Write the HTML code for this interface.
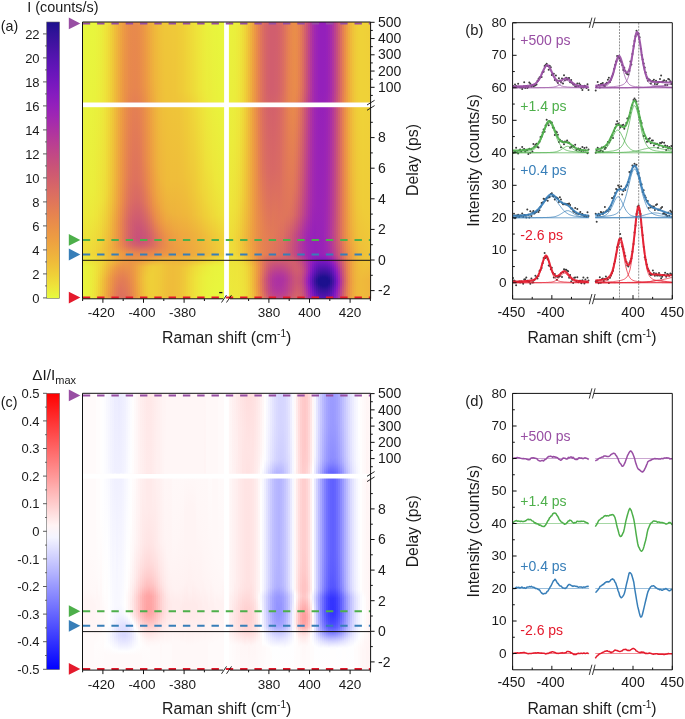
<!DOCTYPE html>
<html><head><meta charset="utf-8"><title>Figure</title>
<style>html,body{margin:0;padding:0;background:#fff}svg{display:block}text{font-family:"Liberation Sans",Arial,sans-serif}</style>
</head><body>
<svg width="685" height="719" viewBox="0 0 685 719">
<defs><linearGradient id="a0" x1="0" y1="0" x2="0" y2="1"><stop offset="0" stop-color="#e7f73d"/><stop offset="0.2852" stop-color="#e8f43d"/><stop offset="0.2888" stop-color="#e9f43d"/><stop offset="0.2924" stop-color="#ebec3b"/><stop offset="0.296" stop-color="#e8f53d"/><stop offset="0.5884" stop-color="#eaef3c"/><stop offset="0.6968" stop-color="#ecea3b"/><stop offset="0.7653" stop-color="#eee23a"/><stop offset="0.8375" stop-color="#eedf3a"/><stop offset="0.8845" stop-color="#e9f43d"/><stop offset="1" stop-color="#e8f53d"/></linearGradient>
<linearGradient id="a1" x1="0" y1="0" x2="0" y2="1"><stop offset="0" stop-color="#e7f73d"/><stop offset="0.2852" stop-color="#e8f43d"/><stop offset="0.2888" stop-color="#e9f43d"/><stop offset="0.2924" stop-color="#ebec3b"/><stop offset="0.296" stop-color="#e8f43d"/><stop offset="0.5921" stop-color="#eaef3c"/><stop offset="0.6968" stop-color="#ecea3b"/><stop offset="0.7617" stop-color="#eee23a"/><stop offset="0.8375" stop-color="#eede39"/><stop offset="0.8845" stop-color="#e9f33d"/><stop offset="1" stop-color="#e8f43d"/></linearGradient>
<linearGradient id="a2" x1="0" y1="0" x2="0" y2="1"><stop offset="0" stop-color="#e7f73d"/><stop offset="0.2852" stop-color="#e9f43d"/><stop offset="0.2888" stop-color="#e9f33d"/><stop offset="0.2924" stop-color="#ebeb3b"/><stop offset="0.296" stop-color="#e9f23c"/><stop offset="0.2996" stop-color="#e9f43d"/><stop offset="0.5993" stop-color="#eaee3c"/><stop offset="0.6968" stop-color="#ecea3b"/><stop offset="0.8375" stop-color="#eedd39"/><stop offset="0.8845" stop-color="#e9f23c"/><stop offset="1" stop-color="#e9f23c"/></linearGradient>
<linearGradient id="a3" x1="0" y1="0" x2="0" y2="1"><stop offset="0" stop-color="#e7f73d"/><stop offset="0.2852" stop-color="#e9f43d"/><stop offset="0.2888" stop-color="#e9f33d"/><stop offset="0.2924" stop-color="#eceb3b"/><stop offset="0.2996" stop-color="#e9f33d"/><stop offset="0.6029" stop-color="#ebee3c"/><stop offset="0.6968" stop-color="#ece93b"/><stop offset="0.8375" stop-color="#eedb39"/><stop offset="0.8845" stop-color="#eaf03c"/><stop offset="1" stop-color="#eaf03c"/></linearGradient>
<linearGradient id="a4" x1="0" y1="0" x2="0" y2="1"><stop offset="0" stop-color="#e8f63d"/><stop offset="0.2852" stop-color="#e9f33d"/><stop offset="0.2888" stop-color="#e9f33d"/><stop offset="0.2924" stop-color="#ecea3b"/><stop offset="0.296" stop-color="#ebec3b"/><stop offset="0.2996" stop-color="#e9f33d"/><stop offset="0.6029" stop-color="#ebee3c"/><stop offset="0.6968" stop-color="#ece93b"/><stop offset="0.8375" stop-color="#efd939"/><stop offset="0.8845" stop-color="#ebed3c"/><stop offset="1" stop-color="#ebec3b"/></linearGradient>
<linearGradient id="a5" x1="0" y1="0" x2="0" y2="1"><stop offset="0" stop-color="#e8f63d"/><stop offset="0.2852" stop-color="#e9f23d"/><stop offset="0.2888" stop-color="#e9f23c"/><stop offset="0.2924" stop-color="#ecea3b"/><stop offset="0.296" stop-color="#ede73a"/><stop offset="0.2996" stop-color="#e9f23d"/><stop offset="0.6065" stop-color="#ebed3c"/><stop offset="0.6968" stop-color="#ede83b"/><stop offset="0.8339" stop-color="#efd739"/><stop offset="0.8412" stop-color="#efd839"/><stop offset="0.8845" stop-color="#ecea3b"/><stop offset="1" stop-color="#ede73a"/></linearGradient>
<linearGradient id="a6" x1="0" y1="0" x2="0" y2="1"><stop offset="0" stop-color="#e8f53d"/><stop offset="0.2852" stop-color="#e9f23c"/><stop offset="0.2888" stop-color="#e9f13c"/><stop offset="0.296" stop-color="#eee03a"/><stop offset="0.2996" stop-color="#e9f13c"/><stop offset="0.6065" stop-color="#ebec3b"/><stop offset="0.6968" stop-color="#ede63a"/><stop offset="0.8339" stop-color="#efd539"/><stop offset="0.8845" stop-color="#ede63a"/><stop offset="1" stop-color="#eee03a"/></linearGradient>
<linearGradient id="a7" x1="0" y1="0" x2="0" y2="1"><stop offset="0" stop-color="#e9f33d"/><stop offset="0.2852" stop-color="#eaf03c"/><stop offset="0.2888" stop-color="#eaf03c"/><stop offset="0.2924" stop-color="#ede63a"/><stop offset="0.296" stop-color="#efd839"/><stop offset="0.2996" stop-color="#eaf03c"/><stop offset="0.6426" stop-color="#ece83b"/><stop offset="0.7004" stop-color="#eee43a"/><stop offset="0.8303" stop-color="#efd238"/><stop offset="0.8412" stop-color="#efd238"/><stop offset="0.8592" stop-color="#eedb39"/><stop offset="0.8809" stop-color="#eee13a"/><stop offset="1" stop-color="#efd839"/></linearGradient>
<linearGradient id="a8" x1="0" y1="0" x2="0" y2="1"><stop offset="0" stop-color="#e9f13c"/><stop offset="0.2888" stop-color="#ebee3c"/><stop offset="0.2924" stop-color="#eee43a"/><stop offset="0.296" stop-color="#efce38"/><stop offset="0.2996" stop-color="#eaee3c"/><stop offset="0.6426" stop-color="#ede63a"/><stop offset="0.7834" stop-color="#efd639"/><stop offset="0.8303" stop-color="#efce38"/><stop offset="0.8412" stop-color="#efcf38"/><stop offset="0.8592" stop-color="#efd839"/><stop offset="0.8809" stop-color="#eedc39"/><stop offset="0.935" stop-color="#efd338"/><stop offset="1" stop-color="#efcf38"/></linearGradient>
<linearGradient id="a9" x1="0" y1="0" x2="0" y2="1"><stop offset="0" stop-color="#eaee3c"/><stop offset="0.2888" stop-color="#eceb3b"/><stop offset="0.2924" stop-color="#eee13a"/><stop offset="0.296" stop-color="#efc439"/><stop offset="0.2996" stop-color="#ebeb3b"/><stop offset="0.639" stop-color="#eee33a"/><stop offset="0.7798" stop-color="#efd338"/><stop offset="0.8231" stop-color="#efcb38"/><stop offset="0.8412" stop-color="#efcb38"/><stop offset="0.8592" stop-color="#efd338"/><stop offset="0.8736" stop-color="#efd639"/><stop offset="0.935" stop-color="#efc939"/><stop offset="1" stop-color="#efc439"/></linearGradient>
<linearGradient id="a10" x1="0" y1="0" x2="0" y2="1"><stop offset="0" stop-color="#ecea3b"/><stop offset="0.2888" stop-color="#ede73b"/><stop offset="0.2924" stop-color="#eedc39"/><stop offset="0.296" stop-color="#efb83b"/><stop offset="0.2996" stop-color="#ede83b"/><stop offset="0.6426" stop-color="#eedf3a"/><stop offset="0.8231" stop-color="#efc639"/><stop offset="0.8412" stop-color="#efc739"/><stop offset="0.8592" stop-color="#efcf38"/><stop offset="0.87" stop-color="#efd038"/><stop offset="0.935" stop-color="#efbe3a"/><stop offset="1" stop-color="#efb93b"/></linearGradient>
<linearGradient id="a11" x1="0" y1="0" x2="0" y2="1"><stop offset="0" stop-color="#eee53a"/><stop offset="0.2888" stop-color="#eee33a"/><stop offset="0.2924" stop-color="#efd739"/><stop offset="0.296" stop-color="#eead3e"/><stop offset="0.2996" stop-color="#eee33a"/><stop offset="0.5343" stop-color="#eedf3a"/><stop offset="0.6354" stop-color="#eedb39"/><stop offset="0.8231" stop-color="#efc139"/><stop offset="0.8664" stop-color="#efca39"/><stop offset="0.9314" stop-color="#efb53c"/><stop offset="1" stop-color="#eead3e"/></linearGradient>
<linearGradient id="a12" x1="0" y1="0" x2="0" y2="1"><stop offset="0" stop-color="#eee03a"/><stop offset="0.2888" stop-color="#eedd39"/><stop offset="0.2924" stop-color="#efd038"/><stop offset="0.296" stop-color="#eda241"/><stop offset="0.2996" stop-color="#eedd39"/><stop offset="0.6173" stop-color="#efd639"/><stop offset="0.8195" stop-color="#efbc3a"/><stop offset="0.8628" stop-color="#efc439"/><stop offset="0.9278" stop-color="#eeab3e"/><stop offset="1" stop-color="#eda241"/></linearGradient>
<linearGradient id="a13" x1="0" y1="0" x2="0" y2="1"><stop offset="0" stop-color="#efd939"/><stop offset="0.2888" stop-color="#efd639"/><stop offset="0.2924" stop-color="#efc939"/><stop offset="0.296" stop-color="#ec9745"/><stop offset="0.2996" stop-color="#efd739"/><stop offset="0.6137" stop-color="#efce38"/><stop offset="0.8159" stop-color="#efb63b"/><stop offset="0.8628" stop-color="#efbe3a"/><stop offset="0.9278" stop-color="#eda141"/><stop offset="1" stop-color="#ec9745"/></linearGradient>
<linearGradient id="a14" x1="0" y1="0" x2="0" y2="1"><stop offset="0" stop-color="#efd038"/><stop offset="0.2888" stop-color="#efce38"/><stop offset="0.2924" stop-color="#efc03a"/><stop offset="0.296" stop-color="#e98d4a"/><stop offset="0.2996" stop-color="#efce38"/><stop offset="0.5921" stop-color="#efc739"/><stop offset="0.6498" stop-color="#efc339"/><stop offset="0.7256" stop-color="#efb73b"/><stop offset="0.8123" stop-color="#eeb03d"/><stop offset="0.8592" stop-color="#efb93b"/><stop offset="0.87" stop-color="#efb63c"/><stop offset="0.8881" stop-color="#eea93f"/><stop offset="0.9242" stop-color="#ec9944"/><stop offset="1" stop-color="#e98d4a"/></linearGradient>
<linearGradient id="a15" x1="0" y1="0" x2="0" y2="1"><stop offset="0" stop-color="#efc839"/><stop offset="0.2888" stop-color="#efc539"/><stop offset="0.2924" stop-color="#efb63b"/><stop offset="0.296" stop-color="#e68450"/><stop offset="0.2996" stop-color="#efc639"/><stop offset="0.5776" stop-color="#efbf3a"/><stop offset="0.6462" stop-color="#efba3b"/><stop offset="0.7256" stop-color="#eead3e"/><stop offset="0.7942" stop-color="#eea83f"/><stop offset="0.8159" stop-color="#eea93f"/><stop offset="0.8592" stop-color="#eeb43c"/><stop offset="0.87" stop-color="#eeb03d"/><stop offset="0.8953" stop-color="#ed9e42"/><stop offset="0.9242" stop-color="#ea9147"/><stop offset="1" stop-color="#e6844f"/></linearGradient>
<linearGradient id="a16" x1="0" y1="0" x2="0" y2="1"><stop offset="0" stop-color="#efbe3a"/><stop offset="0.2888" stop-color="#efbb3a"/><stop offset="0.2924" stop-color="#eeac3e"/><stop offset="0.296" stop-color="#e37c56"/><stop offset="0.2996" stop-color="#efbc3a"/><stop offset="0.5812" stop-color="#efb53c"/><stop offset="0.6498" stop-color="#eeb03d"/><stop offset="0.7256" stop-color="#eda440"/><stop offset="0.7906" stop-color="#eda041"/><stop offset="0.8123" stop-color="#eda141"/><stop offset="0.8339" stop-color="#eeaa3f"/><stop offset="0.8592" stop-color="#eeaf3d"/><stop offset="0.87" stop-color="#eeaa3f"/><stop offset="0.8881" stop-color="#ed9b43"/><stop offset="0.9242" stop-color="#e88a4b"/><stop offset="0.9603" stop-color="#e58251"/><stop offset="1" stop-color="#e37c55"/></linearGradient>
<linearGradient id="a17" x1="0" y1="0" x2="0" y2="1"><stop offset="0" stop-color="#efb63c"/><stop offset="0.2888" stop-color="#eeb23c"/><stop offset="0.2924" stop-color="#eda241"/><stop offset="0.296" stop-color="#e0755b"/><stop offset="0.2996" stop-color="#eeb33c"/><stop offset="0.5776" stop-color="#eeab3e"/><stop offset="0.6462" stop-color="#eea640"/><stop offset="0.7256" stop-color="#ec9a43"/><stop offset="0.787" stop-color="#ec9745"/><stop offset="0.8123" stop-color="#ec9a43"/><stop offset="0.8339" stop-color="#eea540"/><stop offset="0.8592" stop-color="#eeaa3f"/><stop offset="0.8664" stop-color="#eea73f"/><stop offset="0.8881" stop-color="#eb9645"/><stop offset="0.9242" stop-color="#e7854f"/><stop offset="0.9603" stop-color="#e37c56"/><stop offset="1" stop-color="#e0765a"/></linearGradient>
<linearGradient id="a18" x1="0" y1="0" x2="0" y2="1"><stop offset="0" stop-color="#eead3e"/><stop offset="0.2852" stop-color="#eea93f"/><stop offset="0.2888" stop-color="#eea93f"/><stop offset="0.2924" stop-color="#ec9844"/><stop offset="0.296" stop-color="#dd715e"/><stop offset="0.2996" stop-color="#eea93f"/><stop offset="0.5632" stop-color="#eda241"/><stop offset="0.6462" stop-color="#ed9c43"/><stop offset="0.7256" stop-color="#ea9048"/><stop offset="0.787" stop-color="#e98e49"/><stop offset="0.8087" stop-color="#ea9247"/><stop offset="0.8339" stop-color="#eda041"/><stop offset="0.8592" stop-color="#eea540"/><stop offset="0.8664" stop-color="#eda341"/><stop offset="0.8881" stop-color="#ea9247"/><stop offset="0.9242" stop-color="#e58151"/><stop offset="0.9639" stop-color="#e07759"/><stop offset="1" stop-color="#de725d"/></linearGradient>
<linearGradient id="a19" x1="0" y1="0" x2="0" y2="1"><stop offset="0" stop-color="#eea540"/><stop offset="0.2852" stop-color="#eda041"/><stop offset="0.2888" stop-color="#ed9f41"/><stop offset="0.2924" stop-color="#ea8f49"/><stop offset="0.296" stop-color="#dc6f60"/><stop offset="0.2996" stop-color="#eda041"/><stop offset="0.5704" stop-color="#ec9844"/><stop offset="0.6462" stop-color="#eb9247"/><stop offset="0.7256" stop-color="#e7864e"/><stop offset="0.787" stop-color="#e7854f"/><stop offset="0.8087" stop-color="#e88a4c"/><stop offset="0.8339" stop-color="#ed9b43"/><stop offset="0.8592" stop-color="#eda141"/><stop offset="0.8881" stop-color="#ea8f49"/><stop offset="0.9242" stop-color="#e47f53"/><stop offset="0.9603" stop-color="#e0755a"/><stop offset="1" stop-color="#dc705f"/></linearGradient>
<linearGradient id="a20" x1="0" y1="0" x2="0" y2="1"><stop offset="0" stop-color="#ed9d42"/><stop offset="0.2852" stop-color="#ec9844"/><stop offset="0.2888" stop-color="#ec9745"/><stop offset="0.2924" stop-color="#e7854f"/><stop offset="0.296" stop-color="#dc6f60"/><stop offset="0.2996" stop-color="#ec9844"/><stop offset="0.5632" stop-color="#ea9048"/><stop offset="0.6462" stop-color="#e8894c"/><stop offset="0.722" stop-color="#e37d55"/><stop offset="0.7834" stop-color="#e27b56"/><stop offset="0.8087" stop-color="#e68350"/><stop offset="0.8339" stop-color="#ec9745"/><stop offset="0.8592" stop-color="#ed9d42"/><stop offset="0.8917" stop-color="#e98c4a"/><stop offset="0.9278" stop-color="#e37d54"/><stop offset="1" stop-color="#dc705f"/></linearGradient>
<linearGradient id="a21" x1="0" y1="0" x2="0" y2="1"><stop offset="0" stop-color="#ec9745"/><stop offset="0.2852" stop-color="#ea9147"/><stop offset="0.2888" stop-color="#ea9048"/><stop offset="0.2924" stop-color="#e37c55"/><stop offset="0.296" stop-color="#dd715f"/><stop offset="0.2996" stop-color="#ea9147"/><stop offset="0.5596" stop-color="#e8884d"/><stop offset="0.6426" stop-color="#e58152"/><stop offset="0.722" stop-color="#df745c"/><stop offset="0.7834" stop-color="#de725d"/><stop offset="0.8087" stop-color="#e37c56"/><stop offset="0.8339" stop-color="#eb9346"/><stop offset="0.8592" stop-color="#ec9b43"/><stop offset="0.9278" stop-color="#e47f53"/><stop offset="1" stop-color="#dd715e"/></linearGradient>
<linearGradient id="a22" x1="0" y1="0" x2="0" y2="1"><stop offset="0" stop-color="#ea9247"/><stop offset="0.2347" stop-color="#ea8f49"/><stop offset="0.2852" stop-color="#e98b4b"/><stop offset="0.2888" stop-color="#e88a4c"/><stop offset="0.2924" stop-color="#df745c"/><stop offset="0.296" stop-color="#df745c"/><stop offset="0.2996" stop-color="#e88b4b"/><stop offset="0.3069" stop-color="#e88b4b"/><stop offset="0.556" stop-color="#e58152"/><stop offset="0.6426" stop-color="#e17958"/><stop offset="0.722" stop-color="#da6c62"/><stop offset="0.7834" stop-color="#d96a64"/><stop offset="0.8087" stop-color="#df755b"/><stop offset="0.8339" stop-color="#ea9048"/><stop offset="0.8628" stop-color="#ec9944"/><stop offset="0.9278" stop-color="#e58251"/><stop offset="1" stop-color="#df755b"/></linearGradient>
<linearGradient id="a23" x1="0" y1="0" x2="0" y2="1"><stop offset="0" stop-color="#e98e49"/><stop offset="0.2347" stop-color="#e88a4c"/><stop offset="0.2852" stop-color="#e7864e"/><stop offset="0.2888" stop-color="#e7854f"/><stop offset="0.2924" stop-color="#db6e61"/><stop offset="0.2996" stop-color="#e7864e"/><stop offset="0.3069" stop-color="#e7864e"/><stop offset="0.5523" stop-color="#e27b56"/><stop offset="0.6426" stop-color="#de735d"/><stop offset="0.722" stop-color="#d66568"/><stop offset="0.7834" stop-color="#d4636a"/><stop offset="0.8087" stop-color="#dc705f"/><stop offset="0.8339" stop-color="#e98d4a"/><stop offset="0.8592" stop-color="#ec9745"/><stop offset="0.9458" stop-color="#e68350"/><stop offset="1" stop-color="#e27a57"/></linearGradient>
<linearGradient id="a24" x1="0" y1="0" x2="0" y2="1"><stop offset="0" stop-color="#e88b4b"/><stop offset="0.2347" stop-color="#e7874d"/><stop offset="0.2852" stop-color="#e68350"/><stop offset="0.2888" stop-color="#e58152"/><stop offset="0.2924" stop-color="#d86965"/><stop offset="0.296" stop-color="#e58152"/><stop offset="0.3069" stop-color="#e68250"/><stop offset="0.5523" stop-color="#e07759"/><stop offset="0.6426" stop-color="#db6e61"/><stop offset="0.7256" stop-color="#d2606d"/><stop offset="0.7834" stop-color="#d05d6f"/><stop offset="0.7942" stop-color="#d3616c"/><stop offset="0.8087" stop-color="#da6b63"/><stop offset="0.8303" stop-color="#e7874e"/><stop offset="0.8592" stop-color="#eb9645"/><stop offset="0.8845" stop-color="#eb9546"/><stop offset="1" stop-color="#e58151"/></linearGradient>
<linearGradient id="a25" x1="0" y1="0" x2="0" y2="1"><stop offset="0" stop-color="#e88a4c"/><stop offset="0.2347" stop-color="#e7864e"/><stop offset="0.2852" stop-color="#e58152"/><stop offset="0.2888" stop-color="#e47f53"/><stop offset="0.2924" stop-color="#d66568"/><stop offset="0.296" stop-color="#e88a4c"/><stop offset="0.2996" stop-color="#e58052"/><stop offset="0.5632" stop-color="#df735c"/><stop offset="0.6426" stop-color="#da6b63"/><stop offset="0.722" stop-color="#d05c70"/><stop offset="0.7834" stop-color="#cd5873"/><stop offset="0.7942" stop-color="#d05c70"/><stop offset="0.8087" stop-color="#d76767"/><stop offset="0.8303" stop-color="#e6844f"/><stop offset="0.8628" stop-color="#ec9745"/><stop offset="0.8845" stop-color="#ec9944"/><stop offset="1" stop-color="#e88a4c"/></linearGradient>
<linearGradient id="a26" x1="0" y1="0" x2="0" y2="1"><stop offset="0" stop-color="#e88a4c"/><stop offset="0.2347" stop-color="#e7854f"/><stop offset="0.2852" stop-color="#e58052"/><stop offset="0.2888" stop-color="#e47e54"/><stop offset="0.2924" stop-color="#d56469"/><stop offset="0.296" stop-color="#eb9347"/><stop offset="0.2996" stop-color="#e48053"/><stop offset="0.5632" stop-color="#de725d"/><stop offset="0.6426" stop-color="#d96965"/><stop offset="0.7329" stop-color="#cd5873"/><stop offset="0.7834" stop-color="#ca5577"/><stop offset="0.8051" stop-color="#d3606c"/><stop offset="0.8339" stop-color="#e7864e"/><stop offset="0.8592" stop-color="#eb9645"/><stop offset="0.8809" stop-color="#ed9e42"/><stop offset="0.9206" stop-color="#ed9c42"/><stop offset="1" stop-color="#eb9347"/></linearGradient>
<linearGradient id="a27" x1="0" y1="0" x2="0" y2="1"><stop offset="0" stop-color="#e88b4b"/><stop offset="0.2347" stop-color="#e7864e"/><stop offset="0.2852" stop-color="#e58152"/><stop offset="0.2888" stop-color="#e47f53"/><stop offset="0.2924" stop-color="#d4636a"/><stop offset="0.296" stop-color="#ed9c42"/><stop offset="0.2996" stop-color="#e58052"/><stop offset="0.5668" stop-color="#de725d"/><stop offset="0.6426" stop-color="#d86965"/><stop offset="0.7437" stop-color="#cb5576"/><stop offset="0.7834" stop-color="#c85279"/><stop offset="0.8051" stop-color="#d15e6e"/><stop offset="0.8339" stop-color="#e6854f"/><stop offset="0.8592" stop-color="#ec9745"/><stop offset="0.8845" stop-color="#eea540"/><stop offset="0.9278" stop-color="#eea540"/><stop offset="1" stop-color="#ed9d42"/></linearGradient>
<linearGradient id="a28" x1="0" y1="0" x2="0" y2="1"><stop offset="0" stop-color="#e98d4a"/><stop offset="0.2347" stop-color="#e8884d"/><stop offset="0.2852" stop-color="#e68350"/><stop offset="0.2888" stop-color="#e58152"/><stop offset="0.2924" stop-color="#d56469"/><stop offset="0.296" stop-color="#eea73f"/><stop offset="0.2996" stop-color="#e68251"/><stop offset="0.5704" stop-color="#df745c"/><stop offset="0.6426" stop-color="#d96a64"/><stop offset="0.7437" stop-color="#cb5576"/><stop offset="0.7834" stop-color="#c8517b"/><stop offset="0.7942" stop-color="#cb5576"/><stop offset="0.8087" stop-color="#d3616c"/><stop offset="0.8339" stop-color="#e68450"/><stop offset="0.8592" stop-color="#ec9844"/><stop offset="0.8845" stop-color="#eeac3e"/><stop offset="0.9278" stop-color="#eeae3e"/><stop offset="1" stop-color="#eea73f"/></linearGradient>
<linearGradient id="a29" x1="0" y1="0" x2="0" y2="1"><stop offset="0" stop-color="#ea9148"/><stop offset="0.231" stop-color="#e98c4a"/><stop offset="0.2852" stop-color="#e7864e"/><stop offset="0.2888" stop-color="#e6844f"/><stop offset="0.2924" stop-color="#d76767"/><stop offset="0.296" stop-color="#eeb03d"/><stop offset="0.2996" stop-color="#e7864e"/><stop offset="0.5668" stop-color="#e17759"/><stop offset="0.6462" stop-color="#da6d62"/><stop offset="0.7509" stop-color="#ca5477"/><stop offset="0.7834" stop-color="#c7517b"/><stop offset="0.7942" stop-color="#cb5576"/><stop offset="0.8087" stop-color="#d2606c"/><stop offset="0.8339" stop-color="#e68350"/><stop offset="0.8448" stop-color="#e88a4b"/><stop offset="0.8592" stop-color="#ec9a43"/><stop offset="0.8845" stop-color="#eeb33c"/><stop offset="0.9278" stop-color="#efb63b"/><stop offset="1" stop-color="#eeb13d"/></linearGradient>
<linearGradient id="a30" x1="0" y1="0" x2="0" y2="1"><stop offset="0" stop-color="#eb9546"/><stop offset="0.2274" stop-color="#ea9148"/><stop offset="0.2852" stop-color="#e88b4b"/><stop offset="0.2888" stop-color="#e8894c"/><stop offset="0.2924" stop-color="#d96b63"/><stop offset="0.296" stop-color="#efb93b"/><stop offset="0.2996" stop-color="#e88a4b"/><stop offset="0.491" stop-color="#e68251"/><stop offset="0.574" stop-color="#e27b56"/><stop offset="0.6498" stop-color="#dc705f"/><stop offset="0.7545" stop-color="#cb5676"/><stop offset="0.7834" stop-color="#c85279"/><stop offset="0.7942" stop-color="#cb5675"/><stop offset="0.8087" stop-color="#d3616c"/><stop offset="0.8339" stop-color="#e68350"/><stop offset="0.8448" stop-color="#e88b4b"/><stop offset="0.8592" stop-color="#ed9c42"/><stop offset="0.8845" stop-color="#efb93b"/><stop offset="0.9278" stop-color="#efbe3a"/><stop offset="1" stop-color="#efb93b"/></linearGradient>
<linearGradient id="a31" x1="0" y1="0" x2="0" y2="1"><stop offset="0" stop-color="#ec9b43"/><stop offset="0.2238" stop-color="#eb9645"/><stop offset="0.2852" stop-color="#ea9048"/><stop offset="0.2888" stop-color="#ea8f49"/><stop offset="0.2924" stop-color="#dc705f"/><stop offset="0.296" stop-color="#efc139"/><stop offset="0.2996" stop-color="#ea9048"/><stop offset="0.4946" stop-color="#e7884d"/><stop offset="0.5812" stop-color="#e58052"/><stop offset="0.6534" stop-color="#df755b"/><stop offset="0.7581" stop-color="#cc5874"/><stop offset="0.7834" stop-color="#ca5477"/><stop offset="0.7942" stop-color="#cd5874"/><stop offset="0.8087" stop-color="#d4626b"/><stop offset="0.8339" stop-color="#e68350"/><stop offset="0.8448" stop-color="#e98b4b"/><stop offset="0.8592" stop-color="#ed9f42"/><stop offset="0.8845" stop-color="#efbf3a"/><stop offset="0.9242" stop-color="#efc539"/><stop offset="1" stop-color="#efc139"/></linearGradient>
<linearGradient id="a32" x1="0" y1="0" x2="0" y2="1"><stop offset="0" stop-color="#eda141"/><stop offset="0.231" stop-color="#ed9b43"/><stop offset="0.2852" stop-color="#eb9645"/><stop offset="0.2888" stop-color="#eb9546"/><stop offset="0.2924" stop-color="#e0765a"/><stop offset="0.296" stop-color="#efc739"/><stop offset="0.2996" stop-color="#eb9645"/><stop offset="0.5018" stop-color="#e98e49"/><stop offset="0.5884" stop-color="#e7864e"/><stop offset="0.657" stop-color="#e27a57"/><stop offset="0.7581" stop-color="#cf5c70"/><stop offset="0.7834" stop-color="#cc5774"/><stop offset="0.7942" stop-color="#cf5b71"/><stop offset="0.8087" stop-color="#d56469"/><stop offset="0.8339" stop-color="#e68450"/><stop offset="0.8448" stop-color="#e98c4a"/><stop offset="0.8556" stop-color="#ed9c42"/><stop offset="0.8845" stop-color="#efc439"/><stop offset="0.9242" stop-color="#efca39"/><stop offset="1" stop-color="#efc739"/></linearGradient>
<linearGradient id="a33" x1="0" y1="0" x2="0" y2="1"><stop offset="0" stop-color="#eea73f"/><stop offset="0.2166" stop-color="#eda241"/><stop offset="0.2852" stop-color="#ed9d42"/><stop offset="0.2888" stop-color="#ed9b43"/><stop offset="0.2924" stop-color="#e37d54"/><stop offset="0.296" stop-color="#efcb38"/><stop offset="0.2996" stop-color="#ed9c42"/><stop offset="0.5054" stop-color="#eb9446"/><stop offset="0.5957" stop-color="#e98c4a"/><stop offset="0.6606" stop-color="#e58152"/><stop offset="0.7617" stop-color="#d2606d"/><stop offset="0.7834" stop-color="#cf5c70"/><stop offset="0.7942" stop-color="#d15f6d"/><stop offset="0.8087" stop-color="#d76766"/><stop offset="0.8303" stop-color="#e58151"/><stop offset="0.8412" stop-color="#e8894c"/><stop offset="0.8556" stop-color="#ed9f41"/><stop offset="0.8845" stop-color="#efc939"/><stop offset="0.9206" stop-color="#efcd38"/><stop offset="1" stop-color="#efcc38"/></linearGradient>
<linearGradient id="a34" x1="0" y1="0" x2="0" y2="1"><stop offset="0" stop-color="#eead3e"/><stop offset="0.213" stop-color="#eea93f"/><stop offset="0.2852" stop-color="#eda440"/><stop offset="0.2888" stop-color="#eda241"/><stop offset="0.2924" stop-color="#e7854f"/><stop offset="0.296" stop-color="#efce38"/><stop offset="0.2996" stop-color="#eda340"/><stop offset="0.5162" stop-color="#ec9b43"/><stop offset="0.6029" stop-color="#eb9347"/><stop offset="0.6787" stop-color="#e68350"/><stop offset="0.7617" stop-color="#d66668"/><stop offset="0.7834" stop-color="#d3616b"/><stop offset="0.8087" stop-color="#da6b63"/><stop offset="0.8303" stop-color="#e68350"/><stop offset="0.8412" stop-color="#e88b4b"/><stop offset="0.8556" stop-color="#eda241"/><stop offset="0.8773" stop-color="#efc439"/><stop offset="0.8845" stop-color="#efcb38"/><stop offset="0.917" stop-color="#efcf38"/><stop offset="1" stop-color="#efce38"/></linearGradient>
<linearGradient id="a35" x1="0" y1="0" x2="0" y2="1"><stop offset="0" stop-color="#eeb33c"/><stop offset="0.2022" stop-color="#eeaf3d"/><stop offset="0.2852" stop-color="#eeaa3f"/><stop offset="0.2888" stop-color="#eea93f"/><stop offset="0.2924" stop-color="#e98d4a"/><stop offset="0.296" stop-color="#efce38"/><stop offset="0.2996" stop-color="#eeaa3f"/><stop offset="0.5126" stop-color="#eda241"/><stop offset="0.6101" stop-color="#ec9944"/><stop offset="0.6534" stop-color="#ea9247"/><stop offset="0.6968" stop-color="#e7854e"/><stop offset="0.7617" stop-color="#da6c62"/><stop offset="0.7834" stop-color="#d76766"/><stop offset="0.8087" stop-color="#dc6f60"/><stop offset="0.8303" stop-color="#e7854f"/><stop offset="0.8412" stop-color="#e98d4a"/><stop offset="0.8592" stop-color="#eeaa3f"/><stop offset="0.8773" stop-color="#efc639"/><stop offset="0.8845" stop-color="#efcd38"/><stop offset="0.9097" stop-color="#efcf38"/><stop offset="1" stop-color="#efce38"/></linearGradient>
<linearGradient id="a36" x1="0" y1="0" x2="0" y2="1"><stop offset="0" stop-color="#efb83b"/><stop offset="0.2022" stop-color="#efb53c"/><stop offset="0.2852" stop-color="#eeb03d"/><stop offset="0.2888" stop-color="#eeaf3d"/><stop offset="0.2924" stop-color="#eb9446"/><stop offset="0.296" stop-color="#efcd38"/><stop offset="0.2996" stop-color="#eeb03d"/><stop offset="0.5126" stop-color="#eea93f"/><stop offset="0.5993" stop-color="#eda141"/><stop offset="0.6498" stop-color="#ec9944"/><stop offset="0.6859" stop-color="#ea9048"/><stop offset="0.7256" stop-color="#e68350"/><stop offset="0.7653" stop-color="#de725d"/><stop offset="0.787" stop-color="#db6e61"/><stop offset="0.8087" stop-color="#df745c"/><stop offset="0.8412" stop-color="#e98e49"/><stop offset="0.8556" stop-color="#eea73f"/><stop offset="0.8736" stop-color="#efc239"/><stop offset="0.8845" stop-color="#efcd38"/><stop offset="1" stop-color="#efcd38"/></linearGradient>
<linearGradient id="a37" x1="0" y1="0" x2="0" y2="1"><stop offset="0" stop-color="#efbc3a"/><stop offset="0.2852" stop-color="#efb63c"/><stop offset="0.2888" stop-color="#efb53c"/><stop offset="0.2924" stop-color="#ec9b43"/><stop offset="0.296" stop-color="#efcc38"/><stop offset="0.2996" stop-color="#efb53c"/><stop offset="0.5126" stop-color="#eeaf3d"/><stop offset="0.6065" stop-color="#eea73f"/><stop offset="0.6534" stop-color="#ed9f41"/><stop offset="0.7076" stop-color="#ea9148"/><stop offset="0.7653" stop-color="#e17958"/><stop offset="0.787" stop-color="#df745b"/><stop offset="0.8087" stop-color="#e17958"/><stop offset="0.8412" stop-color="#ea9048"/><stop offset="0.8556" stop-color="#eea93f"/><stop offset="0.8736" stop-color="#efc339"/><stop offset="0.8845" stop-color="#efcc38"/><stop offset="1" stop-color="#efcc38"/></linearGradient>
<linearGradient id="a38" x1="0" y1="0" x2="0" y2="1"><stop offset="0" stop-color="#efc03a"/><stop offset="0.2852" stop-color="#efba3b"/><stop offset="0.2888" stop-color="#efb93b"/><stop offset="0.2924" stop-color="#eda141"/><stop offset="0.296" stop-color="#efc939"/><stop offset="0.2996" stop-color="#efba3b"/><stop offset="0.5343" stop-color="#eeb33c"/><stop offset="0.6426" stop-color="#eea73f"/><stop offset="0.722" stop-color="#ea9247"/><stop offset="0.7653" stop-color="#e58052"/><stop offset="0.787" stop-color="#e27b56"/><stop offset="0.8123" stop-color="#e47f53"/><stop offset="0.8412" stop-color="#eb9247"/><stop offset="0.8592" stop-color="#eeb13d"/><stop offset="0.8736" stop-color="#efc339"/><stop offset="0.8845" stop-color="#efcb38"/><stop offset="1" stop-color="#efc939"/></linearGradient>
<linearGradient id="a39" x1="0" y1="0" x2="0" y2="1"><stop offset="0" stop-color="#efc339"/><stop offset="0.2852" stop-color="#efbd3a"/><stop offset="0.2888" stop-color="#efbc3a"/><stop offset="0.2924" stop-color="#eea63f"/><stop offset="0.296" stop-color="#efc639"/><stop offset="0.2996" stop-color="#efbd3a"/><stop offset="0.5704" stop-color="#efb53c"/><stop offset="0.6715" stop-color="#eea73f"/><stop offset="0.722" stop-color="#ec9844"/><stop offset="0.769" stop-color="#e7854f"/><stop offset="0.7906" stop-color="#e58151"/><stop offset="0.8123" stop-color="#e6844f"/><stop offset="0.8412" stop-color="#eb9446"/><stop offset="0.8592" stop-color="#eeb23c"/><stop offset="0.8736" stop-color="#efc339"/><stop offset="0.8809" stop-color="#efc839"/><stop offset="1" stop-color="#efc639"/></linearGradient>
<linearGradient id="a40" x1="0" y1="0" x2="0" y2="1"><stop offset="0" stop-color="#efc539"/><stop offset="0.2852" stop-color="#efc03a"/><stop offset="0.2888" stop-color="#efbf3a"/><stop offset="0.2924" stop-color="#eeab3e"/><stop offset="0.296" stop-color="#efc339"/><stop offset="0.2996" stop-color="#efc03a"/><stop offset="0.5776" stop-color="#efb73b"/><stop offset="0.6751" stop-color="#eeaa3e"/><stop offset="0.722" stop-color="#ed9d42"/><stop offset="0.7726" stop-color="#e88a4c"/><stop offset="0.7942" stop-color="#e7874d"/><stop offset="0.8123" stop-color="#e8894d"/><stop offset="0.8375" stop-color="#eb9346"/><stop offset="0.8448" stop-color="#ec9b43"/><stop offset="0.8592" stop-color="#eeb33c"/><stop offset="0.8736" stop-color="#efc139"/><stop offset="0.8809" stop-color="#efc539"/><stop offset="1" stop-color="#efc339"/></linearGradient>
<linearGradient id="a41" x1="0" y1="0" x2="0" y2="1"><stop offset="0" stop-color="#efc739"/><stop offset="0.2852" stop-color="#efc239"/><stop offset="0.2888" stop-color="#efc139"/><stop offset="0.2924" stop-color="#eeaf3d"/><stop offset="0.296" stop-color="#efc03a"/><stop offset="0.2996" stop-color="#efc139"/><stop offset="0.5812" stop-color="#efb93b"/><stop offset="0.6715" stop-color="#eeaf3d"/><stop offset="0.7112" stop-color="#eea540"/><stop offset="0.7726" stop-color="#ea9048"/><stop offset="0.8051" stop-color="#e98c4a"/><stop offset="0.8195" stop-color="#ea8e49"/><stop offset="0.8412" stop-color="#ec9844"/><stop offset="0.8592" stop-color="#eeb43c"/><stop offset="0.8809" stop-color="#efc339"/><stop offset="1" stop-color="#efc03a"/></linearGradient>
<linearGradient id="a42" x1="0" y1="0" x2="0" y2="1"><stop offset="0" stop-color="#efc739"/><stop offset="0.2852" stop-color="#efc339"/><stop offset="0.2888" stop-color="#efc239"/><stop offset="0.2924" stop-color="#eeb13d"/><stop offset="0.296" stop-color="#efbe3a"/><stop offset="0.2996" stop-color="#efc239"/><stop offset="0.5848" stop-color="#efbb3a"/><stop offset="0.6787" stop-color="#eeb03d"/><stop offset="0.7148" stop-color="#eea83f"/><stop offset="0.7726" stop-color="#eb9446"/><stop offset="0.8087" stop-color="#ea9048"/><stop offset="0.8375" stop-color="#ec9745"/><stop offset="0.8448" stop-color="#ed9e42"/><stop offset="0.8592" stop-color="#efb43c"/><stop offset="0.8809" stop-color="#efc139"/><stop offset="1" stop-color="#efbe3a"/></linearGradient>
<linearGradient id="a43" x1="0" y1="0" x2="0" y2="1"><stop offset="0" stop-color="#efc839"/><stop offset="0.2852" stop-color="#efc339"/><stop offset="0.2888" stop-color="#efc339"/><stop offset="0.2924" stop-color="#eeb33c"/><stop offset="0.2996" stop-color="#efc339"/><stop offset="0.5884" stop-color="#efbb3a"/><stop offset="0.6859" stop-color="#eeb13d"/><stop offset="0.7726" stop-color="#ec9844"/><stop offset="0.8123" stop-color="#eb9446"/><stop offset="0.8375" stop-color="#ec9944"/><stop offset="0.8448" stop-color="#eda041"/><stop offset="0.8592" stop-color="#efb43c"/><stop offset="0.8809" stop-color="#efbf3a"/><stop offset="1" stop-color="#efbd3a"/></linearGradient>
<linearGradient id="a44" x1="0" y1="0" x2="0" y2="1"><stop offset="0" stop-color="#efc839"/><stop offset="0.2852" stop-color="#efc339"/><stop offset="0.2888" stop-color="#efc339"/><stop offset="0.2924" stop-color="#efb53c"/><stop offset="0.2996" stop-color="#efc339"/><stop offset="0.574" stop-color="#efbd3a"/><stop offset="0.6859" stop-color="#eeb33c"/><stop offset="0.769" stop-color="#ed9c42"/><stop offset="0.8159" stop-color="#ec9745"/><stop offset="0.8375" stop-color="#ec9a43"/><stop offset="0.8412" stop-color="#ed9d42"/><stop offset="0.8592" stop-color="#efb43c"/><stop offset="0.8809" stop-color="#efbe3a"/><stop offset="1" stop-color="#efbc3a"/></linearGradient>
<linearGradient id="a45" x1="0" y1="0" x2="0" y2="1"><stop offset="0" stop-color="#efc939"/><stop offset="0.2852" stop-color="#efc439"/><stop offset="0.2888" stop-color="#efc339"/><stop offset="0.2924" stop-color="#efb53c"/><stop offset="0.2996" stop-color="#efc439"/><stop offset="0.574" stop-color="#efbd3a"/><stop offset="0.6931" stop-color="#eeb33c"/><stop offset="0.7726" stop-color="#ed9e42"/><stop offset="0.8159" stop-color="#ec9944"/><stop offset="0.8375" stop-color="#ed9c43"/><stop offset="0.8592" stop-color="#efb43c"/><stop offset="0.8809" stop-color="#efbd3a"/><stop offset="1" stop-color="#efbc3a"/></linearGradient>
<linearGradient id="a46" x1="0" y1="0" x2="0" y2="1"><stop offset="0" stop-color="#efc939"/><stop offset="0.2852" stop-color="#efc439"/><stop offset="0.2888" stop-color="#efc339"/><stop offset="0.2924" stop-color="#efb63c"/><stop offset="0.2996" stop-color="#efc439"/><stop offset="0.574" stop-color="#efbd3a"/><stop offset="0.6931" stop-color="#eeb33c"/><stop offset="0.7726" stop-color="#eda141"/><stop offset="0.8195" stop-color="#ed9b43"/><stop offset="0.8375" stop-color="#ed9d42"/><stop offset="0.8592" stop-color="#efb43c"/><stop offset="0.8845" stop-color="#efbe3a"/><stop offset="1" stop-color="#efbd3a"/></linearGradient>
<linearGradient id="a47" x1="0" y1="0" x2="0" y2="1"><stop offset="0" stop-color="#efca38"/><stop offset="0.2491" stop-color="#efc739"/><stop offset="0.2888" stop-color="#efc439"/><stop offset="0.2924" stop-color="#efb63b"/><stop offset="0.2996" stop-color="#efc539"/><stop offset="0.574" stop-color="#efbd3a"/><stop offset="0.6931" stop-color="#efb43c"/><stop offset="0.769" stop-color="#eda340"/><stop offset="0.8231" stop-color="#ed9d42"/><stop offset="0.8375" stop-color="#ed9f42"/><stop offset="0.8592" stop-color="#efb53c"/><stop offset="0.8845" stop-color="#efbf3a"/><stop offset="1" stop-color="#efbf3a"/></linearGradient>
<linearGradient id="a48" x1="0" y1="0" x2="0" y2="1"><stop offset="0" stop-color="#efcc38"/><stop offset="0.2491" stop-color="#efc939"/><stop offset="0.2888" stop-color="#efc539"/><stop offset="0.2924" stop-color="#efb73b"/><stop offset="0.296" stop-color="#efc139"/><stop offset="0.2996" stop-color="#efc539"/><stop offset="0.5704" stop-color="#efbe3a"/><stop offset="0.6968" stop-color="#efb43c"/><stop offset="0.769" stop-color="#eea540"/><stop offset="0.8231" stop-color="#ed9f41"/><stop offset="0.8375" stop-color="#eda041"/><stop offset="0.8556" stop-color="#eeb23c"/><stop offset="0.8845" stop-color="#efc03a"/><stop offset="1" stop-color="#efc139"/></linearGradient>
<linearGradient id="a49" x1="0" y1="0" x2="0" y2="1"><stop offset="0" stop-color="#efcd38"/><stop offset="0.2491" stop-color="#efca38"/><stop offset="0.2888" stop-color="#efc639"/><stop offset="0.2924" stop-color="#efb73b"/><stop offset="0.296" stop-color="#efc539"/><stop offset="0.2996" stop-color="#efc739"/><stop offset="0.5668" stop-color="#efbf3a"/><stop offset="0.6931" stop-color="#efb53c"/><stop offset="0.769" stop-color="#eea640"/><stop offset="0.8267" stop-color="#eda141"/><stop offset="0.8412" stop-color="#eda340"/><stop offset="0.8556" stop-color="#eeb33c"/><stop offset="0.8845" stop-color="#efc239"/><stop offset="1" stop-color="#efc539"/></linearGradient>
<linearGradient id="a50" x1="0" y1="0" x2="0" y2="1"><stop offset="0" stop-color="#efcf38"/><stop offset="0.2491" stop-color="#efcc38"/><stop offset="0.2888" stop-color="#efc839"/><stop offset="0.2924" stop-color="#efb83b"/><stop offset="0.296" stop-color="#efc839"/><stop offset="0.2996" stop-color="#efc939"/><stop offset="0.5632" stop-color="#efc03a"/><stop offset="0.6931" stop-color="#efb63b"/><stop offset="0.7653" stop-color="#eea83f"/><stop offset="0.8267" stop-color="#eda241"/><stop offset="0.8412" stop-color="#eda440"/><stop offset="0.8556" stop-color="#eeb43c"/><stop offset="0.8881" stop-color="#efc639"/><stop offset="1" stop-color="#efc839"/></linearGradient>
<linearGradient id="a51" x1="0" y1="0" x2="0" y2="1"><stop offset="0" stop-color="#efd238"/><stop offset="0.2491" stop-color="#efcf38"/><stop offset="0.2888" stop-color="#efca39"/><stop offset="0.2924" stop-color="#efb93b"/><stop offset="0.296" stop-color="#efcc38"/><stop offset="0.5596" stop-color="#efc239"/><stop offset="0.6931" stop-color="#efb73b"/><stop offset="0.7653" stop-color="#eea93f"/><stop offset="0.8303" stop-color="#eda440"/><stop offset="0.8412" stop-color="#eea640"/><stop offset="0.8556" stop-color="#efb53c"/><stop offset="0.8881" stop-color="#efc939"/><stop offset="1" stop-color="#efcc38"/></linearGradient>
<linearGradient id="a52" x1="0" y1="0" x2="0" y2="1"><stop offset="0" stop-color="#efd539"/><stop offset="0.2455" stop-color="#efd238"/><stop offset="0.2888" stop-color="#efcc38"/><stop offset="0.2924" stop-color="#efbb3a"/><stop offset="0.296" stop-color="#efd138"/><stop offset="0.2996" stop-color="#efcd38"/><stop offset="0.556" stop-color="#efc439"/><stop offset="0.6931" stop-color="#efb83b"/><stop offset="0.7653" stop-color="#eeaa3e"/><stop offset="0.8303" stop-color="#eea540"/><stop offset="0.8412" stop-color="#eea73f"/><stop offset="0.8556" stop-color="#efb63c"/><stop offset="0.8881" stop-color="#efcc38"/><stop offset="0.9206" stop-color="#efd038"/><stop offset="1" stop-color="#efd138"/></linearGradient>
<linearGradient id="a53" x1="0" y1="0" x2="0" y2="1"><stop offset="0" stop-color="#efd839"/><stop offset="0.2491" stop-color="#efd438"/><stop offset="0.2888" stop-color="#efce38"/><stop offset="0.2924" stop-color="#efbc3a"/><stop offset="0.296" stop-color="#efd639"/><stop offset="0.2996" stop-color="#efd038"/><stop offset="0.5162" stop-color="#efc839"/><stop offset="0.6245" stop-color="#efc139"/><stop offset="0.7004" stop-color="#efb93b"/><stop offset="0.769" stop-color="#eeab3e"/><stop offset="0.8303" stop-color="#eea73f"/><stop offset="0.8412" stop-color="#eea83f"/><stop offset="0.8809" stop-color="#efcd38"/><stop offset="0.8881" stop-color="#efd038"/><stop offset="0.9242" stop-color="#efd539"/><stop offset="1" stop-color="#efd639"/></linearGradient>
<linearGradient id="a54" x1="0" y1="0" x2="0" y2="1"><stop offset="0" stop-color="#eedb39"/><stop offset="0.2491" stop-color="#efd739"/><stop offset="0.2888" stop-color="#efd238"/><stop offset="0.2924" stop-color="#efbe3a"/><stop offset="0.296" stop-color="#eeda39"/><stop offset="0.2996" stop-color="#efd338"/><stop offset="0.5199" stop-color="#efca39"/><stop offset="0.6318" stop-color="#efc239"/><stop offset="0.704" stop-color="#efba3a"/><stop offset="0.769" stop-color="#eead3e"/><stop offset="0.8339" stop-color="#eea83f"/><stop offset="0.8412" stop-color="#eeaa3f"/><stop offset="0.8809" stop-color="#efd138"/><stop offset="0.8881" stop-color="#efd539"/><stop offset="0.9242" stop-color="#efd939"/><stop offset="1" stop-color="#eeda39"/></linearGradient>
<linearGradient id="a55" x1="0" y1="0" x2="0" y2="1"><stop offset="0" stop-color="#eede39"/><stop offset="0.2491" stop-color="#eeda39"/><stop offset="0.2888" stop-color="#efd539"/><stop offset="0.2924" stop-color="#efc13a"/><stop offset="0.296" stop-color="#eede39"/><stop offset="0.2996" stop-color="#efd639"/><stop offset="0.6065" stop-color="#efc739"/><stop offset="0.6968" stop-color="#efbe3a"/><stop offset="0.769" stop-color="#eeaf3d"/><stop offset="0.8339" stop-color="#eeaa3f"/><stop offset="0.8448" stop-color="#eeaf3d"/><stop offset="0.8809" stop-color="#efd539"/><stop offset="0.8881" stop-color="#efd939"/><stop offset="0.9242" stop-color="#eedd39"/><stop offset="1" stop-color="#eede39"/></linearGradient>
<linearGradient id="a56" x1="0" y1="0" x2="0" y2="1"><stop offset="0" stop-color="#eee13a"/><stop offset="0.2527" stop-color="#eedd39"/><stop offset="0.2888" stop-color="#efd839"/><stop offset="0.2924" stop-color="#efc339"/><stop offset="0.296" stop-color="#eee23a"/><stop offset="0.2996" stop-color="#efd939"/><stop offset="0.6101" stop-color="#efc939"/><stop offset="0.6968" stop-color="#efc03a"/><stop offset="0.769" stop-color="#eeb13d"/><stop offset="0.8339" stop-color="#eeac3e"/><stop offset="0.8448" stop-color="#eeb03d"/><stop offset="0.8809" stop-color="#efd939"/><stop offset="0.8881" stop-color="#eedd39"/><stop offset="0.9278" stop-color="#eee23a"/><stop offset="1" stop-color="#eee23a"/></linearGradient>
<linearGradient id="a57" x1="0" y1="0" x2="0" y2="1"><stop offset="0" stop-color="#eee43a"/><stop offset="0.2527" stop-color="#eee03a"/><stop offset="0.2888" stop-color="#eedb39"/><stop offset="0.2924" stop-color="#efc639"/><stop offset="0.296" stop-color="#ede63a"/><stop offset="0.2996" stop-color="#eedc39"/><stop offset="0.6137" stop-color="#efcc38"/><stop offset="0.6968" stop-color="#efc339"/><stop offset="0.769" stop-color="#eeb33c"/><stop offset="0.8339" stop-color="#eeae3e"/><stop offset="0.8448" stop-color="#eeb23c"/><stop offset="0.87" stop-color="#efcf38"/><stop offset="0.8845" stop-color="#eedf3a"/><stop offset="0.9242" stop-color="#eee53a"/><stop offset="1" stop-color="#ede63a"/></linearGradient>
<linearGradient id="a58" x1="0" y1="0" x2="0" y2="1"><stop offset="0" stop-color="#ede63a"/><stop offset="0.2383" stop-color="#eee43a"/><stop offset="0.2852" stop-color="#eee03a"/><stop offset="0.2888" stop-color="#eede39"/><stop offset="0.2924" stop-color="#efc939"/><stop offset="0.296" stop-color="#ecea3b"/><stop offset="0.2996" stop-color="#eedf3a"/><stop offset="0.5993" stop-color="#efd038"/><stop offset="0.6968" stop-color="#efc639"/><stop offset="0.769" stop-color="#efb53c"/><stop offset="0.8339" stop-color="#eeb03d"/><stop offset="0.8448" stop-color="#efb43c"/><stop offset="0.8664" stop-color="#efce38"/><stop offset="0.8845" stop-color="#eee33a"/><stop offset="0.9242" stop-color="#ece83b"/><stop offset="1" stop-color="#ecea3b"/></linearGradient>
<linearGradient id="a59" x1="0" y1="0" x2="0" y2="1"><stop offset="0" stop-color="#ece93b"/><stop offset="0.2383" stop-color="#ede63a"/><stop offset="0.2852" stop-color="#eee23a"/><stop offset="0.2888" stop-color="#eee13a"/><stop offset="0.2924" stop-color="#efcc38"/><stop offset="0.296" stop-color="#ebed3b"/><stop offset="0.2996" stop-color="#eee23a"/><stop offset="0.6029" stop-color="#efd338"/><stop offset="0.6968" stop-color="#efc839"/><stop offset="0.769" stop-color="#efb73b"/><stop offset="0.8339" stop-color="#eeb23d"/><stop offset="0.8448" stop-color="#efb73b"/><stop offset="0.8628" stop-color="#efcd38"/><stop offset="0.8773" stop-color="#eee03a"/><stop offset="0.8845" stop-color="#ede63a"/><stop offset="0.9242" stop-color="#ebeb3b"/><stop offset="1" stop-color="#ebed3b"/></linearGradient>
<linearGradient id="a60" x1="0" y1="0" x2="0" y2="1"><stop offset="0" stop-color="#ebec3b"/><stop offset="0.2383" stop-color="#ece93b"/><stop offset="0.2852" stop-color="#eee53a"/><stop offset="0.2888" stop-color="#eee43a"/><stop offset="0.2924" stop-color="#efce38"/><stop offset="0.296" stop-color="#eaef3c"/><stop offset="0.2996" stop-color="#eee53a"/><stop offset="0.6065" stop-color="#efd639"/><stop offset="0.7004" stop-color="#efcb38"/><stop offset="0.769" stop-color="#efba3b"/><stop offset="0.8375" stop-color="#efb43c"/><stop offset="0.8448" stop-color="#efb93b"/><stop offset="0.8628" stop-color="#efd038"/><stop offset="0.8773" stop-color="#eee33a"/><stop offset="0.8845" stop-color="#ece93b"/><stop offset="0.9242" stop-color="#ebee3c"/><stop offset="1" stop-color="#eaef3c"/></linearGradient>
<linearGradient id="a61" x1="0" y1="0" x2="0" y2="1"><stop offset="0" stop-color="#ebee3c"/><stop offset="0.2383" stop-color="#eceb3b"/><stop offset="0.2852" stop-color="#ede83b"/><stop offset="0.2888" stop-color="#ede63a"/><stop offset="0.2924" stop-color="#efd138"/><stop offset="0.296" stop-color="#e9f13c"/><stop offset="0.2996" stop-color="#ede73b"/><stop offset="0.5126" stop-color="#eedf3a"/><stop offset="0.6426" stop-color="#efd539"/><stop offset="0.704" stop-color="#efcd38"/><stop offset="0.7726" stop-color="#efbc3a"/><stop offset="0.8375" stop-color="#efb63b"/><stop offset="0.8448" stop-color="#efbb3a"/><stop offset="0.8736" stop-color="#eee13a"/><stop offset="0.8845" stop-color="#ebeb3b"/><stop offset="0.9242" stop-color="#eaf03c"/><stop offset="1" stop-color="#e9f13c"/></linearGradient>
<linearGradient id="a62" x1="0" y1="0" x2="0" y2="1"><stop offset="0" stop-color="#eaf03c"/><stop offset="0.2383" stop-color="#ebed3c"/><stop offset="0.2852" stop-color="#ecea3b"/><stop offset="0.2888" stop-color="#ece93b"/><stop offset="0.2924" stop-color="#efd439"/><stop offset="0.296" stop-color="#e9f33d"/><stop offset="0.2996" stop-color="#ecea3b"/><stop offset="0.5162" stop-color="#eee13a"/><stop offset="0.6462" stop-color="#efd739"/><stop offset="0.7004" stop-color="#efd038"/><stop offset="0.7726" stop-color="#efbf3a"/><stop offset="0.8375" stop-color="#efb93b"/><stop offset="0.8448" stop-color="#efbe3a"/><stop offset="0.8736" stop-color="#eee43a"/><stop offset="0.8845" stop-color="#ebed3c"/><stop offset="0.9242" stop-color="#e9f23c"/><stop offset="1" stop-color="#e9f33d"/></linearGradient>
<linearGradient id="a63" x1="0" y1="0" x2="0" y2="1"><stop offset="0" stop-color="#e9f13c"/><stop offset="0.2852" stop-color="#ebec3b"/><stop offset="0.2888" stop-color="#eceb3b"/><stop offset="0.2924" stop-color="#efd739"/><stop offset="0.296" stop-color="#e8f43d"/><stop offset="0.2996" stop-color="#ebec3b"/><stop offset="0.5199" stop-color="#eee33a"/><stop offset="0.6498" stop-color="#eeda39"/><stop offset="0.7004" stop-color="#efd338"/><stop offset="0.7726" stop-color="#efc239"/><stop offset="0.8375" stop-color="#efbb3a"/><stop offset="0.8448" stop-color="#efc03a"/><stop offset="0.8736" stop-color="#ede63a"/><stop offset="0.8845" stop-color="#eaef3c"/><stop offset="0.9242" stop-color="#e9f33d"/><stop offset="1" stop-color="#e8f43d"/></linearGradient>
<linearGradient id="a64" x1="0" y1="0" x2="0" y2="1"><stop offset="0" stop-color="#e9f33d"/><stop offset="0.2852" stop-color="#ebed3c"/><stop offset="0.2888" stop-color="#ebed3b"/><stop offset="0.2924" stop-color="#eeda39"/><stop offset="0.296" stop-color="#e8f53d"/><stop offset="0.2996" stop-color="#ebed3c"/><stop offset="0.5018" stop-color="#ede63a"/><stop offset="0.6498" stop-color="#eedc39"/><stop offset="0.704" stop-color="#efd539"/><stop offset="0.7726" stop-color="#efc439"/><stop offset="0.8375" stop-color="#efbe3a"/><stop offset="0.8448" stop-color="#efc339"/><stop offset="0.8736" stop-color="#ece83b"/><stop offset="0.8845" stop-color="#eaf13c"/><stop offset="1" stop-color="#e8f53d"/></linearGradient>
<linearGradient id="a65" x1="0" y1="0" x2="0" y2="1"><stop offset="0" stop-color="#e9f43d"/><stop offset="0.2852" stop-color="#eaef3c"/><stop offset="0.2888" stop-color="#eaee3c"/><stop offset="0.2924" stop-color="#eedc39"/><stop offset="0.296" stop-color="#e8f63d"/><stop offset="0.2996" stop-color="#eaef3c"/><stop offset="0.509" stop-color="#ede83b"/><stop offset="0.6534" stop-color="#eede39"/><stop offset="0.704" stop-color="#efd839"/><stop offset="0.7726" stop-color="#efc739"/><stop offset="0.8375" stop-color="#efc13a"/><stop offset="0.8448" stop-color="#efc639"/><stop offset="0.8736" stop-color="#ecea3b"/><stop offset="0.8845" stop-color="#e9f23c"/><stop offset="1" stop-color="#e8f63d"/></linearGradient>
<linearGradient id="a66" x1="0" y1="0" x2="0" y2="1"><stop offset="0" stop-color="#e8f53d"/><stop offset="0.2852" stop-color="#eaf03c"/><stop offset="0.2888" stop-color="#eaef3c"/><stop offset="0.2924" stop-color="#eede39"/><stop offset="0.296" stop-color="#e8f63d"/><stop offset="0.2996" stop-color="#eaf03c"/><stop offset="0.5704" stop-color="#ede73a"/><stop offset="0.6931" stop-color="#eedc39"/><stop offset="0.769" stop-color="#efca38"/><stop offset="0.8375" stop-color="#efc339"/><stop offset="0.8448" stop-color="#efc839"/><stop offset="0.8556" stop-color="#efd839"/><stop offset="0.8736" stop-color="#ebec3b"/><stop offset="0.8845" stop-color="#e9f33d"/><stop offset="1" stop-color="#e8f63d"/></linearGradient>
<linearGradient id="a67" x1="0" y1="0" x2="0" y2="1"><stop offset="0" stop-color="#e8f53d"/><stop offset="0.2852" stop-color="#e9f13c"/><stop offset="0.2888" stop-color="#eaf03c"/><stop offset="0.2924" stop-color="#eee03a"/><stop offset="0.296" stop-color="#e8f73d"/><stop offset="0.2996" stop-color="#eaf13c"/><stop offset="0.574" stop-color="#ede83b"/><stop offset="0.6968" stop-color="#eede39"/><stop offset="0.769" stop-color="#efcd38"/><stop offset="0.8375" stop-color="#efc639"/><stop offset="0.8448" stop-color="#efcb38"/><stop offset="0.8556" stop-color="#eeda39"/><stop offset="0.8736" stop-color="#ebed3c"/><stop offset="0.8845" stop-color="#e9f33d"/><stop offset="1" stop-color="#e8f73d"/></linearGradient>
<linearGradient id="a68" x1="0" y1="0" x2="0" y2="1"><stop offset="0" stop-color="#e8f63d"/><stop offset="0.2852" stop-color="#e9f23c"/><stop offset="0.2888" stop-color="#e9f13c"/><stop offset="0.2924" stop-color="#eee23a"/><stop offset="0.296" stop-color="#e7f73d"/><stop offset="0.2996" stop-color="#e9f23c"/><stop offset="0.5776" stop-color="#ece93b"/><stop offset="0.6968" stop-color="#eee03a"/><stop offset="0.7726" stop-color="#efcf38"/><stop offset="0.8375" stop-color="#efc839"/><stop offset="0.8448" stop-color="#efcd38"/><stop offset="0.8556" stop-color="#eedc39"/><stop offset="0.87" stop-color="#eceb3b"/><stop offset="0.8845" stop-color="#e9f43d"/><stop offset="1" stop-color="#e7f73d"/></linearGradient>
<linearGradient id="a69" x1="0" y1="0" x2="0" y2="1"><stop offset="0" stop-color="#e8f63d"/><stop offset="0.2852" stop-color="#e9f23c"/><stop offset="0.2888" stop-color="#e9f23c"/><stop offset="0.2924" stop-color="#eee43a"/><stop offset="0.296" stop-color="#e7f73d"/><stop offset="0.2996" stop-color="#e9f23c"/><stop offset="0.5812" stop-color="#ecea3b"/><stop offset="0.6968" stop-color="#eee13a"/><stop offset="0.7726" stop-color="#efd138"/><stop offset="0.8375" stop-color="#efcb38"/><stop offset="0.8448" stop-color="#efd038"/><stop offset="0.8556" stop-color="#eede39"/><stop offset="0.87" stop-color="#ebec3b"/><stop offset="0.8845" stop-color="#e8f43d"/><stop offset="1" stop-color="#e7f73d"/></linearGradient>
<linearGradient id="a70" x1="0" y1="0" x2="0" y2="1"><stop offset="0" stop-color="#e8f73d"/><stop offset="0.2852" stop-color="#e9f33d"/><stop offset="0.2888" stop-color="#e9f23c"/><stop offset="0.2924" stop-color="#eee53a"/><stop offset="0.296" stop-color="#e7f73d"/><stop offset="0.2996" stop-color="#e9f33d"/><stop offset="0.5884" stop-color="#eceb3b"/><stop offset="0.6968" stop-color="#eee33a"/><stop offset="0.7726" stop-color="#efd338"/><stop offset="0.8375" stop-color="#efcd38"/><stop offset="0.8448" stop-color="#efd238"/><stop offset="0.8556" stop-color="#eee03a"/><stop offset="0.87" stop-color="#ebed3c"/><stop offset="0.8845" stop-color="#e8f43d"/><stop offset="1" stop-color="#e7f73d"/></linearGradient>
<linearGradient id="a71" x1="0" y1="0" x2="0" y2="1"><stop offset="0" stop-color="#e7f73d"/><stop offset="0.2852" stop-color="#e9f33d"/><stop offset="0.2888" stop-color="#e9f33d"/><stop offset="0.2924" stop-color="#ede63a"/><stop offset="0.296" stop-color="#e7f73d"/><stop offset="0.2996" stop-color="#e9f33d"/><stop offset="0.5884" stop-color="#ebec3b"/><stop offset="0.6968" stop-color="#eee43a"/><stop offset="0.7726" stop-color="#efd539"/><stop offset="0.8375" stop-color="#efcf38"/><stop offset="0.87" stop-color="#ebee3c"/><stop offset="0.8845" stop-color="#e8f53d"/><stop offset="1" stop-color="#e7f73d"/></linearGradient>
<linearGradient id="a72" x1="0" y1="0" x2="0" y2="1"><stop offset="0" stop-color="#e9f13c"/><stop offset="0.2852" stop-color="#eaef3c"/><stop offset="0.2888" stop-color="#eaef3c"/><stop offset="0.2924" stop-color="#eee53a"/><stop offset="0.2996" stop-color="#eaef3c"/><stop offset="0.426" stop-color="#ebed3c"/><stop offset="0.6606" stop-color="#ede63a"/><stop offset="0.7798" stop-color="#eede39"/><stop offset="0.8375" stop-color="#eedf3a"/><stop offset="0.8845" stop-color="#ede63a"/><stop offset="1" stop-color="#ece93b"/></linearGradient>
<linearGradient id="a73" x1="0" y1="0" x2="0" y2="1"><stop offset="0" stop-color="#eaf13c"/><stop offset="0.2852" stop-color="#eaee3c"/><stop offset="0.2888" stop-color="#ebee3c"/><stop offset="0.2924" stop-color="#eee43a"/><stop offset="0.2996" stop-color="#eaee3c"/><stop offset="0.4332" stop-color="#ebec3b"/><stop offset="0.657" stop-color="#eee53a"/><stop offset="0.7798" stop-color="#eedc39"/><stop offset="0.8375" stop-color="#eedd39"/><stop offset="0.8845" stop-color="#ede63a"/><stop offset="1" stop-color="#ece93b"/></linearGradient>
<linearGradient id="a74" x1="0" y1="0" x2="0" y2="1"><stop offset="0" stop-color="#eaf03c"/><stop offset="0.2852" stop-color="#ebed3c"/><stop offset="0.2888" stop-color="#ebed3c"/><stop offset="0.2924" stop-color="#eee23a"/><stop offset="0.2996" stop-color="#ebed3c"/><stop offset="0.4368" stop-color="#eceb3b"/><stop offset="0.6751" stop-color="#eee23a"/><stop offset="0.7798" stop-color="#eeda39"/><stop offset="0.8375" stop-color="#eedb39"/><stop offset="0.8592" stop-color="#eee23a"/><stop offset="0.8845" stop-color="#ede63a"/><stop offset="1" stop-color="#ece83b"/></linearGradient>
<linearGradient id="a75" x1="0" y1="0" x2="0" y2="1"><stop offset="0" stop-color="#eaef3c"/><stop offset="0.2852" stop-color="#ebec3b"/><stop offset="0.2888" stop-color="#ebeb3b"/><stop offset="0.2924" stop-color="#eee03a"/><stop offset="0.296" stop-color="#ede83b"/><stop offset="0.2996" stop-color="#ebec3b"/><stop offset="0.4368" stop-color="#ece93b"/><stop offset="0.6715" stop-color="#eee03a"/><stop offset="0.7798" stop-color="#efd639"/><stop offset="0.8375" stop-color="#efd839"/><stop offset="0.8592" stop-color="#eee13a"/><stop offset="0.8845" stop-color="#ede53a"/><stop offset="1" stop-color="#ede83b"/></linearGradient>
<linearGradient id="a76" x1="0" y1="0" x2="0" y2="1"><stop offset="0" stop-color="#ebec3b"/><stop offset="0.2852" stop-color="#ece93b"/><stop offset="0.2888" stop-color="#ece93b"/><stop offset="0.2924" stop-color="#eedd39"/><stop offset="0.296" stop-color="#ede83b"/><stop offset="0.2996" stop-color="#ece93b"/><stop offset="0.4332" stop-color="#ede63a"/><stop offset="0.6679" stop-color="#eedd39"/><stop offset="0.7798" stop-color="#efd238"/><stop offset="0.8375" stop-color="#efd439"/><stop offset="0.8592" stop-color="#eee03a"/><stop offset="0.8845" stop-color="#eee53a"/><stop offset="1" stop-color="#ede83b"/></linearGradient>
<linearGradient id="a77" x1="0" y1="0" x2="0" y2="1"><stop offset="0" stop-color="#ece93b"/><stop offset="0.2852" stop-color="#eee53a"/><stop offset="0.2888" stop-color="#eee53a"/><stop offset="0.2924" stop-color="#efd839"/><stop offset="0.296" stop-color="#ede73b"/><stop offset="0.4549" stop-color="#eee23a"/><stop offset="0.6679" stop-color="#efd839"/><stop offset="0.7834" stop-color="#efcd38"/><stop offset="0.8375" stop-color="#efcf38"/><stop offset="0.8592" stop-color="#eedd39"/><stop offset="0.8809" stop-color="#eee33a"/><stop offset="1" stop-color="#ede73a"/></linearGradient>
<linearGradient id="a78" x1="0" y1="0" x2="0" y2="1"><stop offset="0" stop-color="#eee43a"/><stop offset="0.2852" stop-color="#eee03a"/><stop offset="0.2888" stop-color="#eee03a"/><stop offset="0.2924" stop-color="#efd238"/><stop offset="0.296" stop-color="#ede63a"/><stop offset="0.2996" stop-color="#eee03a"/><stop offset="0.6137" stop-color="#efd639"/><stop offset="0.7834" stop-color="#efc739"/><stop offset="0.8375" stop-color="#efca39"/><stop offset="0.8592" stop-color="#efd939"/><stop offset="0.8845" stop-color="#eee23a"/><stop offset="1" stop-color="#eee53a"/></linearGradient>
<linearGradient id="a79" x1="0" y1="0" x2="0" y2="1"><stop offset="0" stop-color="#eedd39"/><stop offset="0.2888" stop-color="#efd939"/><stop offset="0.2924" stop-color="#efcb38"/><stop offset="0.296" stop-color="#eee43a"/><stop offset="0.2996" stop-color="#efd939"/><stop offset="0.6354" stop-color="#efcd38"/><stop offset="0.7834" stop-color="#efc03a"/><stop offset="0.8375" stop-color="#efc439"/><stop offset="0.8628" stop-color="#efd639"/><stop offset="0.8845" stop-color="#eedf3a"/><stop offset="1" stop-color="#eee33a"/></linearGradient>
<linearGradient id="a80" x1="0" y1="0" x2="0" y2="1"><stop offset="0" stop-color="#efd539"/><stop offset="0.2888" stop-color="#efd038"/><stop offset="0.2924" stop-color="#efc339"/><stop offset="0.296" stop-color="#eee13a"/><stop offset="0.2996" stop-color="#efd038"/><stop offset="0.6318" stop-color="#efc539"/><stop offset="0.787" stop-color="#efb93b"/><stop offset="0.8412" stop-color="#efbd3a"/><stop offset="0.8592" stop-color="#efce38"/><stop offset="0.8845" stop-color="#eedb39"/><stop offset="1" stop-color="#eee03a"/></linearGradient>
<linearGradient id="a81" x1="0" y1="0" x2="0" y2="1"><stop offset="0" stop-color="#efca39"/><stop offset="0.2888" stop-color="#efc539"/><stop offset="0.2924" stop-color="#efba3a"/><stop offset="0.296" stop-color="#eedc39"/><stop offset="0.2996" stop-color="#efc539"/><stop offset="0.6643" stop-color="#efbb3a"/><stop offset="0.7906" stop-color="#eeb23c"/><stop offset="0.8412" stop-color="#efb63b"/><stop offset="0.8664" stop-color="#efcb38"/><stop offset="0.8845" stop-color="#efd539"/><stop offset="1" stop-color="#eedb39"/></linearGradient>
<linearGradient id="a82" x1="0" y1="0" x2="0" y2="1"><stop offset="0" stop-color="#efbe3a"/><stop offset="0.2888" stop-color="#efb93b"/><stop offset="0.2924" stop-color="#eeb23d"/><stop offset="0.296" stop-color="#efd539"/><stop offset="0.2996" stop-color="#efb93b"/><stop offset="0.6679" stop-color="#eeb23d"/><stop offset="0.7906" stop-color="#eeab3e"/><stop offset="0.8412" stop-color="#eeaf3d"/><stop offset="0.8736" stop-color="#efc839"/><stop offset="0.8845" stop-color="#efcd38"/><stop offset="1" stop-color="#efd338"/></linearGradient>
<linearGradient id="a83" x1="0" y1="0" x2="0" y2="1"><stop offset="0" stop-color="#eeb23d"/><stop offset="0.2888" stop-color="#eead3e"/><stop offset="0.2924" stop-color="#eea93f"/><stop offset="0.296" stop-color="#efcd38"/><stop offset="0.2996" stop-color="#eead3e"/><stop offset="0.6823" stop-color="#eea83f"/><stop offset="0.7942" stop-color="#eda340"/><stop offset="0.8448" stop-color="#eea83f"/><stop offset="0.8845" stop-color="#efc339"/><stop offset="0.9567" stop-color="#efc539"/><stop offset="1" stop-color="#efca39"/></linearGradient>
<linearGradient id="a84" x1="0" y1="0" x2="0" y2="1"><stop offset="0" stop-color="#eea540"/><stop offset="0.2924" stop-color="#ed9f41"/><stop offset="0.296" stop-color="#efc339"/><stop offset="0.2996" stop-color="#eda041"/><stop offset="0.6931" stop-color="#ed9f41"/><stop offset="0.7978" stop-color="#ed9c42"/><stop offset="0.8448" stop-color="#eda041"/><stop offset="0.8845" stop-color="#efb73b"/><stop offset="0.9567" stop-color="#efb83b"/><stop offset="1" stop-color="#efbf3a"/></linearGradient>
<linearGradient id="a85" x1="0" y1="0" x2="0" y2="1"><stop offset="0" stop-color="#ec9844"/><stop offset="0.2852" stop-color="#eb9546"/><stop offset="0.2924" stop-color="#ec9745"/><stop offset="0.296" stop-color="#efb73b"/><stop offset="0.2996" stop-color="#eb9546"/><stop offset="0.8123" stop-color="#ec9745"/><stop offset="0.8484" stop-color="#ec9944"/><stop offset="0.8845" stop-color="#eeab3e"/><stop offset="0.9531" stop-color="#eeaa3f"/><stop offset="1" stop-color="#eeb23c"/></linearGradient>
<linearGradient id="a86" x1="0" y1="0" x2="0" y2="1"><stop offset="0" stop-color="#e98c4a"/><stop offset="0.2852" stop-color="#e8894c"/><stop offset="0.2888" stop-color="#e88a4c"/><stop offset="0.2924" stop-color="#ea9048"/><stop offset="0.296" stop-color="#eeaa3e"/><stop offset="0.2996" stop-color="#e88a4c"/><stop offset="0.8484" stop-color="#ea9148"/><stop offset="0.8845" stop-color="#ed9d42"/><stop offset="0.9495" stop-color="#ec9a43"/><stop offset="0.9747" stop-color="#ed9d42"/><stop offset="1" stop-color="#eea540"/></linearGradient>
<linearGradient id="a87" x1="0" y1="0" x2="0" y2="1"><stop offset="0" stop-color="#e58152"/><stop offset="0.2852" stop-color="#e47f53"/><stop offset="0.2888" stop-color="#e48053"/><stop offset="0.2924" stop-color="#e8894d"/><stop offset="0.296" stop-color="#ed9d42"/><stop offset="0.2996" stop-color="#e47f53"/><stop offset="0.5343" stop-color="#e58251"/><stop offset="0.7329" stop-color="#e88b4b"/><stop offset="0.8375" stop-color="#e98c4a"/><stop offset="0.8556" stop-color="#e8894c"/><stop offset="0.8845" stop-color="#ea9148"/><stop offset="0.9386" stop-color="#e88b4b"/><stop offset="0.9711" stop-color="#e98e49"/><stop offset="1" stop-color="#ec9745"/></linearGradient>
<linearGradient id="a88" x1="0" y1="0" x2="0" y2="1"><stop offset="0" stop-color="#e0765a"/><stop offset="0.2852" stop-color="#e0755b"/><stop offset="0.2888" stop-color="#e0765a"/><stop offset="0.296" stop-color="#ea9148"/><stop offset="0.2996" stop-color="#e0755a"/><stop offset="0.5307" stop-color="#e27a57"/><stop offset="0.7148" stop-color="#e7854f"/><stop offset="0.8375" stop-color="#e7874d"/><stop offset="0.8556" stop-color="#e58052"/><stop offset="0.8845" stop-color="#e68350"/><stop offset="0.935" stop-color="#e27a57"/><stop offset="0.9711" stop-color="#e47e53"/><stop offset="1" stop-color="#e8894c"/></linearGradient>
<linearGradient id="a89" x1="0" y1="0" x2="0" y2="1"><stop offset="0" stop-color="#db6e61"/><stop offset="0.2852" stop-color="#db6e61"/><stop offset="0.2888" stop-color="#dc6f60"/><stop offset="0.2924" stop-color="#e47e54"/><stop offset="0.296" stop-color="#e6844f"/><stop offset="0.2996" stop-color="#db6e61"/><stop offset="0.5307" stop-color="#de735c"/><stop offset="0.7365" stop-color="#e58251"/><stop offset="0.8375" stop-color="#e68350"/><stop offset="0.8592" stop-color="#e07759"/><stop offset="0.8845" stop-color="#e0765a"/><stop offset="0.9314" stop-color="#d96b64"/><stop offset="0.9711" stop-color="#dc6f60"/><stop offset="1" stop-color="#e37b56"/></linearGradient>
<linearGradient id="a90" x1="0" y1="0" x2="0" y2="1"><stop offset="0" stop-color="#d76766"/><stop offset="0.2852" stop-color="#d86865"/><stop offset="0.2888" stop-color="#d96a64"/><stop offset="0.2924" stop-color="#e27a57"/><stop offset="0.296" stop-color="#e17858"/><stop offset="0.2996" stop-color="#d86965"/><stop offset="0.5018" stop-color="#db6e61"/><stop offset="0.7726" stop-color="#e58052"/><stop offset="0.8375" stop-color="#e48053"/><stop offset="0.8592" stop-color="#dc705f"/><stop offset="0.8845" stop-color="#d96b63"/><stop offset="0.9278" stop-color="#d05c70"/><stop offset="0.9675" stop-color="#d2606c"/><stop offset="1" stop-color="#dc6f60"/></linearGradient>
<linearGradient id="a91" x1="0" y1="0" x2="0" y2="1"><stop offset="0" stop-color="#d4636a"/><stop offset="0.2383" stop-color="#d4626a"/><stop offset="0.2852" stop-color="#d56569"/><stop offset="0.2888" stop-color="#d66668"/><stop offset="0.2924" stop-color="#e17759"/><stop offset="0.2996" stop-color="#d56568"/><stop offset="0.3069" stop-color="#d56568"/><stop offset="0.5343" stop-color="#da6c63"/><stop offset="0.7762" stop-color="#e47e54"/><stop offset="0.8375" stop-color="#e37d55"/><stop offset="0.8628" stop-color="#d86866"/><stop offset="0.9278" stop-color="#c7507c"/><stop offset="0.9675" stop-color="#ca5477"/><stop offset="1" stop-color="#d56469"/></linearGradient>
<linearGradient id="a92" x1="0" y1="0" x2="0" y2="1"><stop offset="0" stop-color="#d2606d"/><stop offset="0.2383" stop-color="#d2606d"/><stop offset="0.2852" stop-color="#d4626a"/><stop offset="0.2888" stop-color="#d56469"/><stop offset="0.2924" stop-color="#e0765a"/><stop offset="0.296" stop-color="#d66568"/><stop offset="0.3069" stop-color="#d4626a"/><stop offset="0.5343" stop-color="#d96a64"/><stop offset="0.7762" stop-color="#e37c55"/><stop offset="0.8375" stop-color="#e27b56"/><stop offset="0.8664" stop-color="#d3616c"/><stop offset="0.8917" stop-color="#ca5576"/><stop offset="0.9134" stop-color="#c24984"/><stop offset="0.9278" stop-color="#bf4589"/><stop offset="0.9639" stop-color="#c24985"/><stop offset="0.9819" stop-color="#c64f7d"/><stop offset="1" stop-color="#ce5a71"/></linearGradient>
<linearGradient id="a93" x1="0" y1="0" x2="0" y2="1"><stop offset="0" stop-color="#d15e6e"/><stop offset="0.2383" stop-color="#d15e6e"/><stop offset="0.2852" stop-color="#d3616b"/><stop offset="0.2888" stop-color="#d4636a"/><stop offset="0.2924" stop-color="#df755b"/><stop offset="0.296" stop-color="#d15f6d"/><stop offset="0.2996" stop-color="#d3626b"/><stop offset="0.5379" stop-color="#d86965"/><stop offset="0.7726" stop-color="#e27a57"/><stop offset="0.8412" stop-color="#e17759"/><stop offset="0.8664" stop-color="#d05d6f"/><stop offset="0.8845" stop-color="#c85279"/><stop offset="0.9097" stop-color="#bd438c"/><stop offset="0.9278" stop-color="#b83d94"/><stop offset="0.9495" stop-color="#b93e93"/><stop offset="0.9675" stop-color="#bc428e"/><stop offset="0.9856" stop-color="#c24a84"/><stop offset="1" stop-color="#c95378"/></linearGradient>
<linearGradient id="a94" x1="0" y1="0" x2="0" y2="1"><stop offset="0" stop-color="#d15e6e"/><stop offset="0.2383" stop-color="#d15e6e"/><stop offset="0.2852" stop-color="#d3616b"/><stop offset="0.2888" stop-color="#d4636a"/><stop offset="0.2924" stop-color="#df745b"/><stop offset="0.296" stop-color="#ce5a72"/><stop offset="0.2996" stop-color="#d3616b"/><stop offset="0.5307" stop-color="#d86865"/><stop offset="0.7112" stop-color="#e07759"/><stop offset="0.769" stop-color="#e17958"/><stop offset="0.8412" stop-color="#e0755b"/><stop offset="0.8592" stop-color="#d3606c"/><stop offset="0.87" stop-color="#cc5874"/><stop offset="0.9134" stop-color="#b73c95"/><stop offset="0.9278" stop-color="#b2379b"/><stop offset="0.9495" stop-color="#b3389a"/><stop offset="0.9675" stop-color="#b73c95"/><stop offset="0.9856" stop-color="#be448b"/><stop offset="1" stop-color="#c64e7e"/></linearGradient>
<linearGradient id="a95" x1="0" y1="0" x2="0" y2="1"><stop offset="0" stop-color="#d15e6e"/><stop offset="0.2563" stop-color="#d2606d"/><stop offset="0.2888" stop-color="#d4636a"/><stop offset="0.2924" stop-color="#df745c"/><stop offset="0.296" stop-color="#cc5774"/><stop offset="0.2996" stop-color="#d4626b"/><stop offset="0.5307" stop-color="#d86965"/><stop offset="0.6859" stop-color="#df755b"/><stop offset="0.7581" stop-color="#e17759"/><stop offset="0.8412" stop-color="#de735c"/><stop offset="0.8592" stop-color="#d25f6d"/><stop offset="0.8773" stop-color="#c7517b"/><stop offset="0.9097" stop-color="#b63b97"/><stop offset="0.9278" stop-color="#af34a0"/><stop offset="0.9495" stop-color="#b0359f"/><stop offset="0.9675" stop-color="#b4399a"/><stop offset="0.9856" stop-color="#bb418f"/><stop offset="1" stop-color="#c34b82"/></linearGradient>
<linearGradient id="a96" x1="0" y1="0" x2="0" y2="1"><stop offset="0" stop-color="#d25f6d"/><stop offset="0.2527" stop-color="#d3616c"/><stop offset="0.2888" stop-color="#d56569"/><stop offset="0.2924" stop-color="#df745c"/><stop offset="0.296" stop-color="#cb5675"/><stop offset="0.2996" stop-color="#d56469"/><stop offset="0.5307" stop-color="#d96a64"/><stop offset="0.6823" stop-color="#df745b"/><stop offset="0.7437" stop-color="#e0765a"/><stop offset="0.8412" stop-color="#dd715f"/><stop offset="0.8592" stop-color="#d15e6e"/><stop offset="0.8809" stop-color="#c54d80"/><stop offset="0.9134" stop-color="#b2379c"/><stop offset="0.9278" stop-color="#ad32a2"/><stop offset="0.9495" stop-color="#ae33a1"/><stop offset="0.9675" stop-color="#b2379c"/><stop offset="0.9856" stop-color="#ba3f91"/><stop offset="1" stop-color="#c24a84"/></linearGradient>
<linearGradient id="a97" x1="0" y1="0" x2="0" y2="1"><stop offset="0" stop-color="#d4626a"/><stop offset="0.2491" stop-color="#d56469"/><stop offset="0.2888" stop-color="#d76766"/><stop offset="0.2924" stop-color="#df745c"/><stop offset="0.296" stop-color="#cb5676"/><stop offset="0.2996" stop-color="#d76767"/><stop offset="0.5307" stop-color="#da6b63"/><stop offset="0.7256" stop-color="#e0755b"/><stop offset="0.8412" stop-color="#db6e61"/><stop offset="0.8845" stop-color="#c34a83"/><stop offset="0.9134" stop-color="#b2379c"/><stop offset="0.9278" stop-color="#ac31a3"/><stop offset="0.9495" stop-color="#ae33a1"/><stop offset="0.9675" stop-color="#b2379c"/><stop offset="0.9856" stop-color="#ba3f92"/><stop offset="1" stop-color="#c24a84"/></linearGradient>
<linearGradient id="a98" x1="0" y1="0" x2="0" y2="1"><stop offset="0" stop-color="#d76667"/><stop offset="0.2455" stop-color="#d86866"/><stop offset="0.2888" stop-color="#da6c63"/><stop offset="0.2924" stop-color="#df755b"/><stop offset="0.296" stop-color="#cb5675"/><stop offset="0.2996" stop-color="#da6b63"/><stop offset="0.5307" stop-color="#db6e61"/><stop offset="0.7076" stop-color="#e0755b"/><stop offset="0.8448" stop-color="#d96964"/><stop offset="0.8736" stop-color="#c85279"/><stop offset="0.9061" stop-color="#b63b96"/><stop offset="0.9278" stop-color="#ad32a2"/><stop offset="0.9495" stop-color="#ae33a1"/><stop offset="0.9675" stop-color="#b2379c"/><stop offset="0.9856" stop-color="#ba3f91"/><stop offset="1" stop-color="#c24a84"/></linearGradient>
<linearGradient id="a99" x1="0" y1="0" x2="0" y2="1"><stop offset="0" stop-color="#da6c62"/><stop offset="0.2419" stop-color="#db6d61"/><stop offset="0.2888" stop-color="#dd715e"/><stop offset="0.2924" stop-color="#e0765a"/><stop offset="0.296" stop-color="#cc5774"/><stop offset="0.2996" stop-color="#dd705f"/><stop offset="0.7112" stop-color="#df755b"/><stop offset="0.8448" stop-color="#d76767"/><stop offset="0.8736" stop-color="#c95378"/><stop offset="0.9097" stop-color="#b63b97"/><stop offset="0.9206" stop-color="#b0359e"/><stop offset="0.9314" stop-color="#ae33a0"/><stop offset="0.9675" stop-color="#b4399a"/><stop offset="0.9856" stop-color="#bb418f"/><stop offset="1" stop-color="#c34b82"/></linearGradient>
<linearGradient id="a100" x1="0" y1="0" x2="0" y2="1"><stop offset="0" stop-color="#de735d"/><stop offset="0.2347" stop-color="#df745c"/><stop offset="0.2888" stop-color="#e07759"/><stop offset="0.2924" stop-color="#e0765a"/><stop offset="0.296" stop-color="#cd5972"/><stop offset="0.2996" stop-color="#e0775a"/><stop offset="0.7004" stop-color="#df755b"/><stop offset="0.7798" stop-color="#d86866"/><stop offset="0.8484" stop-color="#d4636a"/><stop offset="0.8736" stop-color="#ca5576"/><stop offset="0.9134" stop-color="#b73c96"/><stop offset="0.9314" stop-color="#b2379c"/><stop offset="0.9675" stop-color="#b73c96"/><stop offset="0.9856" stop-color="#bd448b"/><stop offset="1" stop-color="#c54e7f"/></linearGradient>
<linearGradient id="a101" x1="0" y1="0" x2="0" y2="1"><stop offset="0" stop-color="#e27b57"/><stop offset="0.2888" stop-color="#e37d55"/><stop offset="0.2924" stop-color="#e0765a"/><stop offset="0.296" stop-color="#d05c6f"/><stop offset="0.2996" stop-color="#e37d54"/><stop offset="0.6931" stop-color="#df755b"/><stop offset="0.7798" stop-color="#d5636a"/><stop offset="0.8195" stop-color="#d25f6d"/><stop offset="0.8556" stop-color="#d25f6d"/><stop offset="0.8809" stop-color="#c95378"/><stop offset="0.917" stop-color="#b93f92"/><stop offset="0.9314" stop-color="#b63b96"/><stop offset="0.9675" stop-color="#bb418f"/><stop offset="0.9856" stop-color="#c14886"/><stop offset="1" stop-color="#c8527a"/></linearGradient>
<linearGradient id="a102" x1="0" y1="0" x2="0" y2="1"><stop offset="0" stop-color="#e68251"/><stop offset="0.2852" stop-color="#e68350"/><stop offset="0.2888" stop-color="#e68350"/><stop offset="0.2924" stop-color="#e0755b"/><stop offset="0.296" stop-color="#d3616c"/><stop offset="0.2996" stop-color="#e68350"/><stop offset="0.6715" stop-color="#e0755b"/><stop offset="0.7076" stop-color="#dd715e"/><stop offset="0.7798" stop-color="#d15e6e"/><stop offset="0.8267" stop-color="#ce5a72"/><stop offset="0.8628" stop-color="#d15e6e"/><stop offset="0.8881" stop-color="#c95378"/><stop offset="0.917" stop-color="#be458a"/><stop offset="0.9314" stop-color="#bc428e"/><stop offset="0.9675" stop-color="#c04788"/><stop offset="1" stop-color="#cc5675"/></linearGradient>
<linearGradient id="a103" x1="0" y1="0" x2="0" y2="1"><stop offset="0" stop-color="#e8884d"/><stop offset="0.2852" stop-color="#e7874d"/><stop offset="0.2888" stop-color="#e7864e"/><stop offset="0.2924" stop-color="#de735c"/><stop offset="0.296" stop-color="#d66568"/><stop offset="0.2996" stop-color="#e7874d"/><stop offset="0.639" stop-color="#e0765a"/><stop offset="0.7004" stop-color="#dc6f5f"/><stop offset="0.7617" stop-color="#d05c70"/><stop offset="0.7978" stop-color="#cc5775"/><stop offset="0.8375" stop-color="#cb5576"/><stop offset="0.8556" stop-color="#d05d6f"/><stop offset="0.87" stop-color="#d15d6f"/><stop offset="0.8989" stop-color="#c95378"/><stop offset="0.917" stop-color="#c34b82"/><stop offset="0.9314" stop-color="#c14886"/><stop offset="0.9675" stop-color="#c54d7f"/><stop offset="1" stop-color="#cf5c70"/></linearGradient>
<linearGradient id="a104" x1="0" y1="0" x2="0" y2="1"><stop offset="0" stop-color="#e98c4a"/><stop offset="0.2852" stop-color="#e8894c"/><stop offset="0.2888" stop-color="#e7884d"/><stop offset="0.2924" stop-color="#dc705f"/><stop offset="0.296" stop-color="#d96a64"/><stop offset="0.2996" stop-color="#e8894c"/><stop offset="0.5957" stop-color="#e07759"/><stop offset="0.6968" stop-color="#da6c62"/><stop offset="0.769" stop-color="#ca5577"/><stop offset="0.8159" stop-color="#c64f7d"/><stop offset="0.8375" stop-color="#c7507c"/><stop offset="0.8556" stop-color="#cf5b71"/><stop offset="0.87" stop-color="#d15e6e"/><stop offset="0.8953" stop-color="#ce5972"/><stop offset="0.9206" stop-color="#c7507c"/><stop offset="0.9422" stop-color="#c64f7d"/><stop offset="0.9711" stop-color="#ca5576"/><stop offset="1" stop-color="#d3616c"/></linearGradient>
<linearGradient id="a105" x1="0" y1="0" x2="0" y2="1"><stop offset="0" stop-color="#e98e49"/><stop offset="0.231" stop-color="#e98b4b"/><stop offset="0.2852" stop-color="#e8884d"/><stop offset="0.2888" stop-color="#e7864e"/><stop offset="0.2924" stop-color="#d96a64"/><stop offset="0.296" stop-color="#da6c62"/><stop offset="0.2996" stop-color="#e7884d"/><stop offset="0.6065" stop-color="#dd725e"/><stop offset="0.6968" stop-color="#d66667"/><stop offset="0.7653" stop-color="#c64f7d"/><stop offset="0.8123" stop-color="#c24984"/><stop offset="0.8375" stop-color="#c24a84"/><stop offset="0.8448" stop-color="#c54d80"/><stop offset="0.8556" stop-color="#cc5774"/><stop offset="0.87" stop-color="#d15e6e"/><stop offset="0.8917" stop-color="#d05d6f"/><stop offset="0.9206" stop-color="#ca5577"/><stop offset="0.9386" stop-color="#c95478"/><stop offset="0.9675" stop-color="#cd5973"/><stop offset="1" stop-color="#d66568"/></linearGradient>
<linearGradient id="a106" x1="0" y1="0" x2="0" y2="1"><stop offset="0" stop-color="#e98b4b"/><stop offset="0.2347" stop-color="#e8884d"/><stop offset="0.2852" stop-color="#e68350"/><stop offset="0.2888" stop-color="#e58151"/><stop offset="0.2924" stop-color="#d56369"/><stop offset="0.296" stop-color="#db6d62"/><stop offset="0.2996" stop-color="#e68350"/><stop offset="0.6101" stop-color="#da6b63"/><stop offset="0.6968" stop-color="#d25f6d"/><stop offset="0.7329" stop-color="#c95378"/><stop offset="0.769" stop-color="#c04787"/><stop offset="0.8159" stop-color="#bd438d"/><stop offset="0.8412" stop-color="#be458a"/><stop offset="0.8592" stop-color="#cb5576"/><stop offset="0.8736" stop-color="#cf5c70"/><stop offset="0.8953" stop-color="#d05d6f"/><stop offset="0.9242" stop-color="#cb5675"/><stop offset="0.9422" stop-color="#cb5675"/><stop offset="1" stop-color="#d76667"/></linearGradient>
<linearGradient id="a107" x1="0" y1="0" x2="0" y2="1"><stop offset="0" stop-color="#e7854f"/><stop offset="0.2347" stop-color="#e58151"/><stop offset="0.2852" stop-color="#e37c56"/><stop offset="0.2888" stop-color="#e17958"/><stop offset="0.2924" stop-color="#cf5b70"/><stop offset="0.2996" stop-color="#e27b56"/><stop offset="0.6173" stop-color="#d4626a"/><stop offset="0.7004" stop-color="#cc5775"/><stop offset="0.7653" stop-color="#bb418f"/><stop offset="0.8123" stop-color="#b73c95"/><stop offset="0.8412" stop-color="#b93e93"/><stop offset="0.8592" stop-color="#c64f7d"/><stop offset="0.8736" stop-color="#cc5874"/><stop offset="0.8953" stop-color="#cf5b71"/><stop offset="0.9242" stop-color="#ca5477"/><stop offset="0.9422" stop-color="#ca5477"/><stop offset="1" stop-color="#d56568"/></linearGradient>
<linearGradient id="a108" x1="0" y1="0" x2="0" y2="1"><stop offset="0" stop-color="#e27b56"/><stop offset="0.2274" stop-color="#e17759"/><stop offset="0.2852" stop-color="#dd715e"/><stop offset="0.2888" stop-color="#dc6f60"/><stop offset="0.2924" stop-color="#c95378"/><stop offset="0.296" stop-color="#d56568"/><stop offset="0.2996" stop-color="#dd715e"/><stop offset="0.6282" stop-color="#cd5873"/><stop offset="0.6931" stop-color="#c7507c"/><stop offset="0.7653" stop-color="#b53a98"/><stop offset="0.8087" stop-color="#b1369d"/><stop offset="0.8412" stop-color="#b3389b"/><stop offset="0.8664" stop-color="#c54d80"/><stop offset="0.8845" stop-color="#c95378"/><stop offset="0.8989" stop-color="#ca5576"/><stop offset="0.9386" stop-color="#c54e7e"/><stop offset="1" stop-color="#d25f6d"/></linearGradient>
<linearGradient id="a109" x1="0" y1="0" x2="0" y2="1"><stop offset="0" stop-color="#dc6f60"/><stop offset="0.2347" stop-color="#da6b63"/><stop offset="0.2852" stop-color="#d66568"/><stop offset="0.2888" stop-color="#d4636a"/><stop offset="0.2924" stop-color="#c34a83"/><stop offset="0.296" stop-color="#cf5c70"/><stop offset="0.2996" stop-color="#d56568"/><stop offset="0.5776" stop-color="#c95379"/><stop offset="0.6931" stop-color="#c04787"/><stop offset="0.7617" stop-color="#af34a0"/><stop offset="0.8051" stop-color="#ab30a5"/><stop offset="0.8412" stop-color="#ad32a2"/><stop offset="0.87" stop-color="#c04688"/><stop offset="0.8881" stop-color="#c34b82"/><stop offset="0.8989" stop-color="#c44c81"/><stop offset="0.9242" stop-color="#be458a"/><stop offset="0.9386" stop-color="#be448b"/><stop offset="1" stop-color="#cc5774"/></linearGradient>
<linearGradient id="a110" x1="0" y1="0" x2="0" y2="1"><stop offset="0" stop-color="#d3626b"/><stop offset="0.2347" stop-color="#d15d6f"/><stop offset="0.2852" stop-color="#cd5873"/><stop offset="0.2888" stop-color="#cb5675"/><stop offset="0.2924" stop-color="#bb418f"/><stop offset="0.296" stop-color="#c7517b"/><stop offset="0.2996" stop-color="#cd5873"/><stop offset="0.6101" stop-color="#c04688"/><stop offset="0.6931" stop-color="#b93f92"/><stop offset="0.7617" stop-color="#a82ea8"/><stop offset="0.8014" stop-color="#a52bac"/><stop offset="0.8412" stop-color="#a72daa"/><stop offset="0.87" stop-color="#b73c95"/><stop offset="0.8917" stop-color="#ba4090"/><stop offset="0.9025" stop-color="#ba3f91"/><stop offset="0.9278" stop-color="#b1369c"/><stop offset="0.9422" stop-color="#b1369d"/><stop offset="1" stop-color="#c44c81"/></linearGradient>
<linearGradient id="a111" x1="0" y1="0" x2="0" y2="1"><stop offset="0" stop-color="#ca5477"/><stop offset="0.2491" stop-color="#c6507c"/><stop offset="0.2888" stop-color="#c24a83"/><stop offset="0.2924" stop-color="#b43999"/><stop offset="0.296" stop-color="#be448b"/><stop offset="0.2996" stop-color="#c44c81"/><stop offset="0.6282" stop-color="#b73c95"/><stop offset="0.6968" stop-color="#b1369d"/><stop offset="0.7581" stop-color="#a32aaf"/><stop offset="0.7834" stop-color="#a027b2"/><stop offset="0.8412" stop-color="#a128b1"/><stop offset="0.87" stop-color="#ac31a4"/><stop offset="0.8917" stop-color="#ad32a2"/><stop offset="0.9025" stop-color="#ab31a4"/><stop offset="0.9242" stop-color="#a128b1"/><stop offset="0.9386" stop-color="#9e26b3"/><stop offset="0.9495" stop-color="#a229b0"/><stop offset="1" stop-color="#b93e92"/></linearGradient>
<linearGradient id="a112" x1="0" y1="0" x2="0" y2="1"><stop offset="0" stop-color="#c04788"/><stop offset="0.2491" stop-color="#bd438d"/><stop offset="0.2888" stop-color="#b93e92"/><stop offset="0.2924" stop-color="#ac31a3"/><stop offset="0.296" stop-color="#b1369d"/><stop offset="0.2996" stop-color="#ba4091"/><stop offset="0.657" stop-color="#ad32a2"/><stop offset="0.7004" stop-color="#a92fa6"/><stop offset="0.769" stop-color="#9d25b4"/><stop offset="0.8484" stop-color="#9c25b5"/><stop offset="0.87" stop-color="#9f27b2"/><stop offset="0.8881" stop-color="#9e26b4"/><stop offset="0.9025" stop-color="#9923b7"/><stop offset="0.9242" stop-color="#8b1dbd"/><stop offset="0.935" stop-color="#871cbf"/><stop offset="0.9458" stop-color="#8a1dbe"/><stop offset="0.9603" stop-color="#9420bb"/><stop offset="1" stop-color="#ab30a5"/></linearGradient>
<linearGradient id="a113" x1="0" y1="0" x2="0" y2="1"><stop offset="0" stop-color="#b53a98"/><stop offset="0.2347" stop-color="#b3389b"/><stop offset="0.2852" stop-color="#b0359e"/><stop offset="0.2888" stop-color="#af349f"/><stop offset="0.2924" stop-color="#a62cab"/><stop offset="0.296" stop-color="#a229af"/><stop offset="0.2996" stop-color="#b0359e"/><stop offset="0.3069" stop-color="#b0359e"/><stop offset="0.6534" stop-color="#a72daa"/><stop offset="0.7004" stop-color="#a32aae"/><stop offset="0.769" stop-color="#9923b7"/><stop offset="0.8375" stop-color="#9923b7"/><stop offset="0.8664" stop-color="#9420bb"/><stop offset="0.8953" stop-color="#891cbe"/><stop offset="0.9242" stop-color="#7117bd"/><stop offset="0.935" stop-color="#6c16bb"/><stop offset="0.9458" stop-color="#6f16bc"/><stop offset="0.9711" stop-color="#861bbf"/><stop offset="1" stop-color="#9a24b6"/></linearGradient>
<linearGradient id="a114" x1="0" y1="0" x2="0" y2="1"><stop offset="0" stop-color="#aa30a5"/><stop offset="0.2852" stop-color="#a72daa"/><stop offset="0.2888" stop-color="#a62cab"/><stop offset="0.2924" stop-color="#a028b1"/><stop offset="0.296" stop-color="#9320bb"/><stop offset="0.2996" stop-color="#a72daa"/><stop offset="0.657" stop-color="#a128b1"/><stop offset="0.769" stop-color="#9722b9"/><stop offset="0.8375" stop-color="#9722b9"/><stop offset="0.8736" stop-color="#841bbf"/><stop offset="0.8953" stop-color="#7517be"/><stop offset="0.9242" stop-color="#5914b2"/><stop offset="0.935" stop-color="#5314ae"/><stop offset="0.9495" stop-color="#5a14b3"/><stop offset="0.9747" stop-color="#7317bd"/><stop offset="1" stop-color="#891cbe"/></linearGradient>
<linearGradient id="a115" x1="0" y1="0" x2="0" y2="1"><stop offset="0" stop-color="#a128b1"/><stop offset="0.2888" stop-color="#9f27b2"/><stop offset="0.2924" stop-color="#9d25b4"/><stop offset="0.296" stop-color="#851bbf"/><stop offset="0.2996" stop-color="#9f27b2"/><stop offset="0.6606" stop-color="#9d26b4"/><stop offset="0.769" stop-color="#9621b9"/><stop offset="0.8375" stop-color="#9621b9"/><stop offset="0.8448" stop-color="#9320bb"/><stop offset="0.8628" stop-color="#841bbf"/><stop offset="0.8773" stop-color="#7517be"/><stop offset="0.8989" stop-color="#6115b7"/><stop offset="0.9097" stop-color="#5514b0"/><stop offset="0.9242" stop-color="#4313a2"/><stop offset="0.935" stop-color="#3c139e"/><stop offset="0.9458" stop-color="#4013a1"/><stop offset="0.9711" stop-color="#5c14b4"/><stop offset="1" stop-color="#7818be"/></linearGradient>
<linearGradient id="a116" x1="0" y1="0" x2="0" y2="1"><stop offset="0" stop-color="#9a24b6"/><stop offset="0.2924" stop-color="#9b24b6"/><stop offset="0.296" stop-color="#7918be"/><stop offset="0.2996" stop-color="#9a24b6"/><stop offset="0.6643" stop-color="#9b24b6"/><stop offset="0.8375" stop-color="#9621b9"/><stop offset="0.8448" stop-color="#921fbb"/><stop offset="0.8592" stop-color="#821abf"/><stop offset="0.8809" stop-color="#6815ba"/><stop offset="0.9061" stop-color="#4b13a8"/><stop offset="0.9278" stop-color="#2c1196"/><stop offset="0.935" stop-color="#271194"/><stop offset="0.9458" stop-color="#2d1296"/><stop offset="0.9783" stop-color="#5414b0"/><stop offset="1" stop-color="#6b16bb"/></linearGradient>
<linearGradient id="a117" x1="0" y1="0" x2="0" y2="1"><stop offset="0" stop-color="#9621ba"/><stop offset="0.2419" stop-color="#9621ba"/><stop offset="0.2852" stop-color="#9722b9"/><stop offset="0.2924" stop-color="#9a24b6"/><stop offset="0.296" stop-color="#7016bd"/><stop offset="0.2996" stop-color="#9722b8"/><stop offset="0.6643" stop-color="#9a24b6"/><stop offset="0.8375" stop-color="#9722b9"/><stop offset="0.8448" stop-color="#921fbb"/><stop offset="0.8556" stop-color="#851bbf"/><stop offset="0.8773" stop-color="#6615b9"/><stop offset="0.9061" stop-color="#4013a1"/><stop offset="0.9242" stop-color="#221191"/><stop offset="0.9314" stop-color="#1c108e"/><stop offset="0.9458" stop-color="#1e108f"/><stop offset="0.9675" stop-color="#3e139f"/><stop offset="1" stop-color="#6215b7"/></linearGradient>
<linearGradient id="a118" x1="0" y1="0" x2="0" y2="1"><stop offset="0" stop-color="#9420bb"/><stop offset="0.2419" stop-color="#9420bb"/><stop offset="0.2852" stop-color="#9621b9"/><stop offset="0.2924" stop-color="#9a24b6"/><stop offset="0.296" stop-color="#6c16bb"/><stop offset="0.2996" stop-color="#9621b9"/><stop offset="0.6643" stop-color="#9a24b6"/><stop offset="0.8375" stop-color="#9722b8"/><stop offset="0.8448" stop-color="#9320bb"/><stop offset="0.8556" stop-color="#841bbf"/><stop offset="0.8664" stop-color="#7417be"/><stop offset="0.8845" stop-color="#5914b2"/><stop offset="0.9061" stop-color="#3a129e"/><stop offset="0.9206" stop-color="#201090"/><stop offset="0.9242" stop-color="#1c108e"/><stop offset="0.9495" stop-color="#1c108e"/><stop offset="0.9675" stop-color="#37129c"/><stop offset="1" stop-color="#5e15b5"/></linearGradient>
<linearGradient id="a119" x1="0" y1="0" x2="0" y2="1"><stop offset="0" stop-color="#9420bb"/><stop offset="0.2419" stop-color="#9420bb"/><stop offset="0.2852" stop-color="#9621b9"/><stop offset="0.2924" stop-color="#9b25b5"/><stop offset="0.296" stop-color="#6a16bb"/><stop offset="0.2996" stop-color="#9621b9"/><stop offset="0.6679" stop-color="#9b25b5"/><stop offset="0.8375" stop-color="#9923b7"/><stop offset="0.8448" stop-color="#9420bb"/><stop offset="0.8556" stop-color="#851bbf"/><stop offset="0.8664" stop-color="#7417be"/><stop offset="0.8845" stop-color="#5814b2"/><stop offset="0.9097" stop-color="#321299"/><stop offset="0.9206" stop-color="#1d108f"/><stop offset="0.9242" stop-color="#1c108e"/><stop offset="0.9531" stop-color="#1d108e"/><stop offset="0.9675" stop-color="#35129b"/><stop offset="1" stop-color="#5c14b4"/></linearGradient>
<linearGradient id="a120" x1="0" y1="0" x2="0" y2="1"><stop offset="0" stop-color="#9420bb"/><stop offset="0.2419" stop-color="#9521ba"/><stop offset="0.2852" stop-color="#9822b8"/><stop offset="0.2888" stop-color="#9823b8"/><stop offset="0.2924" stop-color="#9e26b3"/><stop offset="0.296" stop-color="#6a16bb"/><stop offset="0.2996" stop-color="#9822b8"/><stop offset="0.6715" stop-color="#9e26b3"/><stop offset="0.7798" stop-color="#9f27b3"/><stop offset="0.8375" stop-color="#9c25b5"/><stop offset="0.8484" stop-color="#921fbb"/><stop offset="0.8556" stop-color="#871cbf"/><stop offset="0.8664" stop-color="#7617be"/><stop offset="0.8845" stop-color="#5914b2"/><stop offset="0.9097" stop-color="#331299"/><stop offset="0.9206" stop-color="#1d108f"/><stop offset="0.9242" stop-color="#1c108e"/><stop offset="0.9531" stop-color="#1d108f"/><stop offset="0.9675" stop-color="#35129b"/><stop offset="1" stop-color="#5c14b4"/></linearGradient>
<linearGradient id="a121" x1="0" y1="0" x2="0" y2="1"><stop offset="0" stop-color="#9722b9"/><stop offset="0.2419" stop-color="#9822b8"/><stop offset="0.2852" stop-color="#9b24b6"/><stop offset="0.2888" stop-color="#9c25b5"/><stop offset="0.2924" stop-color="#a229af"/><stop offset="0.296" stop-color="#6c16bb"/><stop offset="0.2996" stop-color="#9b24b5"/><stop offset="0.769" stop-color="#a42bad"/><stop offset="0.8375" stop-color="#a028b2"/><stop offset="0.8448" stop-color="#9b24b6"/><stop offset="0.8592" stop-color="#851bbf"/><stop offset="0.87" stop-color="#7317bd"/><stop offset="0.8881" stop-color="#5614b1"/><stop offset="0.9097" stop-color="#36129b"/><stop offset="0.9242" stop-color="#1c108e"/><stop offset="0.9495" stop-color="#1c108e"/><stop offset="0.9675" stop-color="#38129d"/><stop offset="1" stop-color="#5e15b5"/></linearGradient>
<linearGradient id="a122" x1="0" y1="0" x2="0" y2="1"><stop offset="0" stop-color="#9d25b4"/><stop offset="0.2455" stop-color="#9e26b3"/><stop offset="0.2852" stop-color="#a128b1"/><stop offset="0.2888" stop-color="#a229b0"/><stop offset="0.2924" stop-color="#a92ea7"/><stop offset="0.296" stop-color="#7217bd"/><stop offset="0.2996" stop-color="#a128b1"/><stop offset="0.769" stop-color="#ab31a4"/><stop offset="0.8375" stop-color="#a62cab"/><stop offset="0.8448" stop-color="#a128b1"/><stop offset="0.8556" stop-color="#911fbc"/><stop offset="0.8628" stop-color="#861bbf"/><stop offset="0.8736" stop-color="#7317bd"/><stop offset="0.8845" stop-color="#6215b7"/><stop offset="0.9242" stop-color="#251193"/><stop offset="0.935" stop-color="#1c108e"/><stop offset="0.9458" stop-color="#211091"/><stop offset="0.9675" stop-color="#4013a1"/><stop offset="1" stop-color="#6415b8"/></linearGradient>
<linearGradient id="a123" x1="0" y1="0" x2="0" y2="1"><stop offset="0" stop-color="#a52bac"/><stop offset="0.2419" stop-color="#a62cab"/><stop offset="0.2852" stop-color="#a92fa7"/><stop offset="0.2888" stop-color="#aa30a5"/><stop offset="0.2924" stop-color="#b1369d"/><stop offset="0.296" stop-color="#7b19be"/><stop offset="0.2996" stop-color="#a92fa6"/><stop offset="0.7653" stop-color="#b4399a"/><stop offset="0.8159" stop-color="#b0359e"/><stop offset="0.8412" stop-color="#ab31a4"/><stop offset="0.8592" stop-color="#9420bb"/><stop offset="0.87" stop-color="#831bbf"/><stop offset="0.8881" stop-color="#6715ba"/><stop offset="0.9206" stop-color="#3b129e"/><stop offset="0.935" stop-color="#2e1297"/><stop offset="0.9458" stop-color="#331299"/><stop offset="0.9747" stop-color="#5514b0"/><stop offset="1" stop-color="#6e16bc"/></linearGradient>
<linearGradient id="a124" x1="0" y1="0" x2="0" y2="1"><stop offset="0" stop-color="#af349f"/><stop offset="0.2419" stop-color="#b0359e"/><stop offset="0.2852" stop-color="#b3389a"/><stop offset="0.2888" stop-color="#b43999"/><stop offset="0.2924" stop-color="#ba3f92"/><stop offset="0.296" stop-color="#891cbe"/><stop offset="0.2996" stop-color="#b3389a"/><stop offset="0.7004" stop-color="#ba3f91"/><stop offset="0.7617" stop-color="#bc428e"/><stop offset="0.8051" stop-color="#ba3f91"/><stop offset="0.8412" stop-color="#b4399a"/><stop offset="0.8592" stop-color="#9e26b3"/><stop offset="0.8664" stop-color="#9521ba"/><stop offset="0.8773" stop-color="#861bbf"/><stop offset="0.8881" stop-color="#7617be"/><stop offset="0.9025" stop-color="#6415b8"/><stop offset="0.9206" stop-color="#4f14ab"/><stop offset="0.935" stop-color="#4413a3"/><stop offset="0.9458" stop-color="#4813a6"/><stop offset="0.9711" stop-color="#6315b8"/><stop offset="1" stop-color="#7d19bf"/></linearGradient>
<linearGradient id="a125" x1="0" y1="0" x2="0" y2="1"><stop offset="0" stop-color="#bb418f"/><stop offset="0.2419" stop-color="#bb418f"/><stop offset="0.2852" stop-color="#be448b"/><stop offset="0.2888" stop-color="#bf458a"/><stop offset="0.2924" stop-color="#c24a84"/><stop offset="0.296" stop-color="#9923b7"/><stop offset="0.2996" stop-color="#be448b"/><stop offset="0.7004" stop-color="#c24a84"/><stop offset="0.7617" stop-color="#c44d80"/><stop offset="0.7978" stop-color="#c34a83"/><stop offset="0.8412" stop-color="#bc428e"/><stop offset="0.8664" stop-color="#a329af"/><stop offset="0.8809" stop-color="#921fbb"/><stop offset="0.8917" stop-color="#851bbf"/><stop offset="0.9061" stop-color="#7617be"/><stop offset="0.9242" stop-color="#6315b8"/><stop offset="0.935" stop-color="#5e15b5"/><stop offset="0.9458" stop-color="#6115b7"/><stop offset="0.9675" stop-color="#7617be"/><stop offset="0.9856" stop-color="#851bbf"/><stop offset="1" stop-color="#901fbc"/></linearGradient>
<linearGradient id="a126" x1="0" y1="0" x2="0" y2="1"><stop offset="0" stop-color="#c64e7e"/><stop offset="0.2383" stop-color="#c54e7e"/><stop offset="0.2852" stop-color="#c8517a"/><stop offset="0.2924" stop-color="#cb5676"/><stop offset="0.296" stop-color="#aa2fa6"/><stop offset="0.2996" stop-color="#c8517a"/><stop offset="0.7762" stop-color="#cc5874"/><stop offset="0.8123" stop-color="#c95378"/><stop offset="0.8375" stop-color="#c54d7f"/><stop offset="0.8448" stop-color="#c24984"/><stop offset="0.8845" stop-color="#a128b1"/><stop offset="0.8953" stop-color="#9722b9"/><stop offset="0.917" stop-color="#861bbf"/><stop offset="0.935" stop-color="#7b18be"/><stop offset="0.9458" stop-color="#7e19bf"/><stop offset="0.9711" stop-color="#921fbb"/><stop offset="1" stop-color="#a32aaf"/></linearGradient>
<linearGradient id="a127" x1="0" y1="0" x2="0" y2="1"><stop offset="0" stop-color="#d15d6f"/><stop offset="0.2383" stop-color="#d05d6f"/><stop offset="0.2852" stop-color="#d2606d"/><stop offset="0.2924" stop-color="#d4636a"/><stop offset="0.296" stop-color="#ba3f91"/><stop offset="0.2996" stop-color="#d2606c"/><stop offset="0.7726" stop-color="#d56469"/><stop offset="0.8412" stop-color="#cc5775"/><stop offset="0.8989" stop-color="#aa2fa6"/><stop offset="0.917" stop-color="#a027b2"/><stop offset="0.9314" stop-color="#9a23b7"/><stop offset="0.9422" stop-color="#9a24b7"/><stop offset="0.9531" stop-color="#9f27b2"/><stop offset="0.9711" stop-color="#aa2fa6"/><stop offset="1" stop-color="#b53a97"/></linearGradient>
<linearGradient id="a128" x1="0" y1="0" x2="0" y2="1"><stop offset="0" stop-color="#db6e61"/><stop offset="0.2383" stop-color="#db6d62"/><stop offset="0.2924" stop-color="#dd705f"/><stop offset="0.296" stop-color="#c7517b"/><stop offset="0.2996" stop-color="#dc705f"/><stop offset="0.7726" stop-color="#dd715e"/><stop offset="0.8412" stop-color="#d4626a"/><stop offset="0.8953" stop-color="#be458a"/><stop offset="0.935" stop-color="#b2379b"/><stop offset="0.9458" stop-color="#b43999"/><stop offset="0.9711" stop-color="#be448b"/><stop offset="1" stop-color="#c44d80"/></linearGradient>
<linearGradient id="a129" x1="0" y1="0" x2="0" y2="1"><stop offset="0" stop-color="#e47f53"/><stop offset="0.2383" stop-color="#e37d54"/><stop offset="0.2888" stop-color="#e58052"/><stop offset="0.2924" stop-color="#e47f53"/><stop offset="0.296" stop-color="#d4626b"/><stop offset="0.2996" stop-color="#e58052"/><stop offset="0.7617" stop-color="#e47e53"/><stop offset="0.7906" stop-color="#e37b56"/><stop offset="0.8375" stop-color="#dc705f"/><stop offset="0.8953" stop-color="#cd5873"/><stop offset="0.9314" stop-color="#c64e7e"/><stop offset="0.9458" stop-color="#c6507c"/><stop offset="0.9711" stop-color="#cd5973"/><stop offset="1" stop-color="#d25f6d"/></linearGradient>
<linearGradient id="a130" x1="0" y1="0" x2="0" y2="1"><stop offset="0" stop-color="#ea8f48"/><stop offset="0.2383" stop-color="#e98d4a"/><stop offset="0.2888" stop-color="#ea9048"/><stop offset="0.2924" stop-color="#e98c4a"/><stop offset="0.296" stop-color="#df745c"/><stop offset="0.2996" stop-color="#ea8f48"/><stop offset="0.4152" stop-color="#ea9048"/><stop offset="0.7726" stop-color="#e88a4b"/><stop offset="0.8123" stop-color="#e68350"/><stop offset="0.8953" stop-color="#da6b63"/><stop offset="0.935" stop-color="#d56469"/><stop offset="1" stop-color="#de725d"/></linearGradient>
<linearGradient id="a131" x1="0" y1="0" x2="0" y2="1"><stop offset="0" stop-color="#ed9e42"/><stop offset="0.2888" stop-color="#ed9d42"/><stop offset="0.2924" stop-color="#ec9944"/><stop offset="0.296" stop-color="#e7854f"/><stop offset="0.2996" stop-color="#ed9d42"/><stop offset="0.3718" stop-color="#ed9d42"/><stop offset="0.7653" stop-color="#eb9645"/><stop offset="0.7942" stop-color="#eb9347"/><stop offset="0.8484" stop-color="#e7864e"/><stop offset="0.935" stop-color="#e17958"/><stop offset="1" stop-color="#e6844f"/></linearGradient>
<linearGradient id="a132" x1="0" y1="0" x2="0" y2="1"><stop offset="0" stop-color="#eeac3e"/><stop offset="0.2888" stop-color="#eeab3e"/><stop offset="0.2924" stop-color="#eda440"/><stop offset="0.296" stop-color="#eb9446"/><stop offset="0.2996" stop-color="#eeab3e"/><stop offset="0.3321" stop-color="#eeab3e"/><stop offset="0.5596" stop-color="#eea83f"/><stop offset="0.7545" stop-color="#eda241"/><stop offset="0.787" stop-color="#ed9e42"/><stop offset="0.8412" stop-color="#ea9247"/><stop offset="0.9314" stop-color="#e98c4b"/><stop offset="1" stop-color="#eb9347"/></linearGradient>
<linearGradient id="a133" x1="0" y1="0" x2="0" y2="1"><stop offset="0" stop-color="#efb83b"/><stop offset="0.2888" stop-color="#efb63b"/><stop offset="0.2924" stop-color="#eeaf3d"/><stop offset="0.296" stop-color="#eda041"/><stop offset="0.2996" stop-color="#efb63b"/><stop offset="0.5523" stop-color="#eeb33c"/><stop offset="0.7473" stop-color="#eeac3e"/><stop offset="0.787" stop-color="#eea83f"/><stop offset="0.8448" stop-color="#ed9c43"/><stop offset="0.8736" stop-color="#ed9e42"/><stop offset="0.9386" stop-color="#ec9b43"/><stop offset="1" stop-color="#eda041"/></linearGradient>
<linearGradient id="a134" x1="0" y1="0" x2="0" y2="1"><stop offset="0" stop-color="#efc239"/><stop offset="0.2888" stop-color="#efc03a"/><stop offset="0.2924" stop-color="#efb83b"/><stop offset="0.296" stop-color="#eeaa3e"/><stop offset="0.2996" stop-color="#efc03a"/><stop offset="0.5379" stop-color="#efbd3a"/><stop offset="0.7329" stop-color="#efb53c"/><stop offset="0.787" stop-color="#eeb03d"/><stop offset="0.8412" stop-color="#eea540"/><stop offset="0.8736" stop-color="#eeaa3f"/><stop offset="0.9386" stop-color="#eea73f"/><stop offset="1" stop-color="#eeab3e"/></linearGradient>
<linearGradient id="a135" x1="0" y1="0" x2="0" y2="1"><stop offset="0" stop-color="#efc939"/><stop offset="0.2888" stop-color="#efc839"/><stop offset="0.2924" stop-color="#efbf3a"/><stop offset="0.296" stop-color="#eeb23d"/><stop offset="0.2996" stop-color="#efc839"/><stop offset="0.6534" stop-color="#efc03a"/><stop offset="0.7798" stop-color="#efb83b"/><stop offset="0.8412" stop-color="#eead3e"/><stop offset="0.8736" stop-color="#eeb33c"/><stop offset="0.9386" stop-color="#eeb03d"/><stop offset="1" stop-color="#eeb23c"/></linearGradient>
<linearGradient id="a136" x1="0" y1="0" x2="0" y2="1"><stop offset="0" stop-color="#efce38"/><stop offset="0.2888" stop-color="#efcd38"/><stop offset="0.2924" stop-color="#efc539"/><stop offset="0.296" stop-color="#efb73b"/><stop offset="0.2996" stop-color="#efcd38"/><stop offset="0.657" stop-color="#efc639"/><stop offset="0.7726" stop-color="#efbe3a"/><stop offset="0.8412" stop-color="#eeb43c"/><stop offset="0.87" stop-color="#efb93b"/><stop offset="0.935" stop-color="#efb63c"/><stop offset="1" stop-color="#efb73b"/></linearGradient>
<linearGradient id="a137" x1="0" y1="0" x2="0" y2="1"><stop offset="0" stop-color="#efd138"/><stop offset="0.2888" stop-color="#efd038"/><stop offset="0.2924" stop-color="#efc939"/><stop offset="0.296" stop-color="#efb93b"/><stop offset="0.2996" stop-color="#efd038"/><stop offset="0.6606" stop-color="#efc939"/><stop offset="0.7798" stop-color="#efc239"/><stop offset="0.8412" stop-color="#efb93b"/><stop offset="0.87" stop-color="#efbe3a"/><stop offset="0.9314" stop-color="#efb93b"/><stop offset="1" stop-color="#efb93b"/></linearGradient>
<linearGradient id="a138" x1="0" y1="0" x2="0" y2="1"><stop offset="0" stop-color="#efd238"/><stop offset="0.2888" stop-color="#efd238"/><stop offset="0.2924" stop-color="#efcb38"/><stop offset="0.296" stop-color="#efba3b"/><stop offset="0.2996" stop-color="#efd238"/><stop offset="0.6462" stop-color="#efcc38"/><stop offset="0.7834" stop-color="#efc439"/><stop offset="0.8375" stop-color="#efbd3a"/><stop offset="0.8664" stop-color="#efc139"/><stop offset="0.9314" stop-color="#efba3b"/><stop offset="1" stop-color="#efba3a"/></linearGradient>
<linearGradient id="a139" x1="0" y1="0" x2="0" y2="1"><stop offset="0" stop-color="#efd238"/><stop offset="0.2888" stop-color="#efd238"/><stop offset="0.2924" stop-color="#efcc38"/><stop offset="0.296" stop-color="#efb93b"/><stop offset="0.2996" stop-color="#efd338"/><stop offset="0.6679" stop-color="#efcd38"/><stop offset="0.8375" stop-color="#efc03a"/><stop offset="0.8664" stop-color="#efc339"/><stop offset="0.9314" stop-color="#efb93b"/><stop offset="1" stop-color="#efba3b"/></linearGradient>
<linearGradient id="a140" x1="0" y1="0" x2="0" y2="1"><stop offset="0" stop-color="#efd138"/><stop offset="0.2888" stop-color="#efd238"/><stop offset="0.2924" stop-color="#efcd38"/><stop offset="0.296" stop-color="#efb83b"/><stop offset="0.2996" stop-color="#efd238"/><stop offset="0.6895" stop-color="#efcc38"/><stop offset="0.8375" stop-color="#efc239"/><stop offset="0.8628" stop-color="#efc439"/><stop offset="0.9314" stop-color="#efb83b"/><stop offset="1" stop-color="#efb83b"/></linearGradient>
<linearGradient id="a141" x1="0" y1="0" x2="0" y2="1"><stop offset="0" stop-color="#efd038"/><stop offset="0.2888" stop-color="#efd238"/><stop offset="0.2924" stop-color="#efcd38"/><stop offset="0.296" stop-color="#efb73b"/><stop offset="0.2996" stop-color="#efd238"/><stop offset="0.6968" stop-color="#efcc38"/><stop offset="0.8375" stop-color="#efc339"/><stop offset="0.8628" stop-color="#efc439"/><stop offset="0.9314" stop-color="#efb73b"/><stop offset="1" stop-color="#efb73b"/></linearGradient>
<linearGradient id="a142" x1="0" y1="0" x2="0" y2="1"><stop offset="0" stop-color="#efcf38"/><stop offset="0.2888" stop-color="#efd138"/><stop offset="0.2924" stop-color="#efcd38"/><stop offset="0.296" stop-color="#efb53c"/><stop offset="0.2996" stop-color="#efd138"/><stop offset="0.6968" stop-color="#efcc38"/><stop offset="0.8592" stop-color="#efc439"/><stop offset="0.9314" stop-color="#efb53c"/><stop offset="1" stop-color="#efb53c"/></linearGradient>
<linearGradient id="a143" x1="0" y1="0" x2="0" y2="1"><stop offset="0" stop-color="#efce38"/><stop offset="0.2888" stop-color="#efd038"/><stop offset="0.2924" stop-color="#efcc38"/><stop offset="0.296" stop-color="#efb43c"/><stop offset="0.2996" stop-color="#efd038"/><stop offset="0.7004" stop-color="#efcb38"/><stop offset="0.8592" stop-color="#efc439"/><stop offset="0.8881" stop-color="#efbb3a"/><stop offset="0.9314" stop-color="#efb43c"/><stop offset="1" stop-color="#efb43c"/></linearGradient>
<linearGradient id="c0" x1="0" y1="0" x2="0" y2="1"><stop offset="0" stop-color="#fffafa"/><stop offset="0.5343" stop-color="#fffafa"/><stop offset="0.704" stop-color="#fff8f8"/><stop offset="0.7473" stop-color="#fff4f4"/><stop offset="0.8195" stop-color="#fff4f4"/><stop offset="0.8845" stop-color="#fffafa"/><stop offset="1" stop-color="#fffafa"/></linearGradient>
<linearGradient id="c1" x1="0" y1="0" x2="0" y2="1"><stop offset="0" stop-color="#fffafa"/><stop offset="0.5379" stop-color="#fffafa"/><stop offset="0.704" stop-color="#fff8f8"/><stop offset="0.7473" stop-color="#fff4f4"/><stop offset="0.8195" stop-color="#fff4f4"/><stop offset="0.8845" stop-color="#fffafa"/><stop offset="1" stop-color="#fffafa"/></linearGradient>
<linearGradient id="c2" x1="0" y1="0" x2="0" y2="1"><stop offset="0" stop-color="#fffafa"/><stop offset="0.5415" stop-color="#fffafa"/><stop offset="0.7076" stop-color="#fff8f8"/><stop offset="0.7473" stop-color="#fff4f4"/><stop offset="0.8195" stop-color="#fff4f4"/><stop offset="0.8845" stop-color="#fffafa"/><stop offset="1" stop-color="#fffafa"/></linearGradient>
<linearGradient id="c3" x1="0" y1="0" x2="0" y2="1"><stop offset="0" stop-color="#fffafa"/><stop offset="0.5487" stop-color="#fffafa"/><stop offset="0.7076" stop-color="#fff8f8"/><stop offset="0.7509" stop-color="#fff4f4"/><stop offset="0.8195" stop-color="#fff4f4"/><stop offset="0.8809" stop-color="#fffafa"/><stop offset="1" stop-color="#fffafa"/></linearGradient>
<linearGradient id="c4" x1="0" y1="0" x2="0" y2="1"><stop offset="0" stop-color="#fffafa"/><stop offset="0.5632" stop-color="#fffafa"/><stop offset="0.7112" stop-color="#fff8f8"/><stop offset="0.7509" stop-color="#fff4f4"/><stop offset="0.8159" stop-color="#fff4f4"/><stop offset="0.8809" stop-color="#fffafa"/><stop offset="1" stop-color="#fffafa"/></linearGradient>
<linearGradient id="c5" x1="0" y1="0" x2="0" y2="1"><stop offset="0" stop-color="#fffafa"/><stop offset="0.5848" stop-color="#fffafa"/><stop offset="0.7148" stop-color="#fff8f8"/><stop offset="0.7581" stop-color="#fff4f4"/><stop offset="0.8159" stop-color="#fff4f4"/><stop offset="0.8809" stop-color="#fffafa"/><stop offset="1" stop-color="#fffafa"/></linearGradient>
<linearGradient id="c6" x1="0" y1="0" x2="0" y2="1"><stop offset="0" stop-color="#fffafa"/><stop offset="0.6173" stop-color="#fffafa"/><stop offset="0.722" stop-color="#fff8f8"/><stop offset="0.769" stop-color="#fff4f4"/><stop offset="0.8448" stop-color="#fff6f6"/><stop offset="0.9097" stop-color="#fffcfc"/><stop offset="1" stop-color="#fffafa"/></linearGradient>
<linearGradient id="c7" x1="0" y1="0" x2="0" y2="1"><stop offset="0" stop-color="#fffcfc"/><stop offset="0.2888" stop-color="#fffcfc"/><stop offset="0.2924" stop-color="#fff8f8"/><stop offset="0.2996" stop-color="#fffcfc"/><stop offset="0.4513" stop-color="#fffcfc"/><stop offset="0.6606" stop-color="#fffafa"/><stop offset="0.7365" stop-color="#fff6f6"/><stop offset="0.8412" stop-color="#fff6f6"/><stop offset="0.9025" stop-color="#fffcfc"/><stop offset="1" stop-color="#fffafa"/></linearGradient>
<linearGradient id="c8" x1="0" y1="0" x2="0" y2="1"><stop offset="0" stop-color="#fffcfc"/><stop offset="0.5451" stop-color="#fffcfc"/><stop offset="0.7076" stop-color="#fffafa"/><stop offset="0.7545" stop-color="#fff6f6"/><stop offset="0.8339" stop-color="#fff6f6"/><stop offset="0.8953" stop-color="#fffcfc"/><stop offset="1" stop-color="#fffafa"/></linearGradient>
<linearGradient id="c9" x1="0" y1="0" x2="0" y2="1"><stop offset="0" stop-color="#fffefe"/><stop offset="0.2888" stop-color="#fffefe"/><stop offset="0.2924" stop-color="#fffafa"/><stop offset="0.2996" stop-color="#fffefe"/><stop offset="0.4477" stop-color="#fffefe"/><stop offset="0.7365" stop-color="#fff8f8"/><stop offset="0.8484" stop-color="#fff8f8"/><stop offset="0.8809" stop-color="#fffcfc"/><stop offset="1" stop-color="#fffafa"/></linearGradient>
<linearGradient id="c10" x1="0" y1="0" x2="0" y2="1"><stop offset="0" stop-color="#fefeff"/><stop offset="0.2888" stop-color="#fefeff"/><stop offset="0.296" stop-color="#fffafa"/><stop offset="0.2996" stop-color="#fefeff"/><stop offset="0.3791" stop-color="#fefeff"/><stop offset="0.7184" stop-color="#fffcfc"/><stop offset="0.7978" stop-color="#fff8f8"/><stop offset="0.8303" stop-color="#fff8f8"/><stop offset="0.8592" stop-color="#fffcfc"/><stop offset="1" stop-color="#fffafa"/></linearGradient>
<linearGradient id="c11" x1="0" y1="0" x2="0" y2="1"><stop offset="0" stop-color="#fcfcff"/><stop offset="0.2888" stop-color="#fcfcff"/><stop offset="0.2924" stop-color="#fffefe"/><stop offset="0.296" stop-color="#fffafa"/><stop offset="0.2996" stop-color="#fcfcff"/><stop offset="0.7148" stop-color="#fffefe"/><stop offset="0.8014" stop-color="#fffafa"/><stop offset="0.9134" stop-color="#fffefe"/><stop offset="0.9422" stop-color="#fffafa"/><stop offset="1" stop-color="#fffafa"/></linearGradient>
<linearGradient id="c12" x1="0" y1="0" x2="0" y2="1"><stop offset="0" stop-color="#f8f8ff"/><stop offset="0.2888" stop-color="#fafaff"/><stop offset="0.2924" stop-color="#fefeff"/><stop offset="0.296" stop-color="#fffafa"/><stop offset="0.2996" stop-color="#fafaff"/><stop offset="0.5451" stop-color="#fefeff"/><stop offset="0.8087" stop-color="#fffcfc"/><stop offset="0.8736" stop-color="#fcfcff"/><stop offset="0.9061" stop-color="#fefeff"/><stop offset="0.9458" stop-color="#fffafa"/><stop offset="1" stop-color="#fffafa"/></linearGradient>
<linearGradient id="c13" x1="0" y1="0" x2="0" y2="1"><stop offset="0" stop-color="#f6f6ff"/><stop offset="0.2635" stop-color="#f6f6ff"/><stop offset="0.2888" stop-color="#f8f8ff"/><stop offset="0.2924" stop-color="#fcfcff"/><stop offset="0.296" stop-color="#fffafa"/><stop offset="0.2996" stop-color="#f8f8ff"/><stop offset="0.7184" stop-color="#fefeff"/><stop offset="0.8339" stop-color="#fefeff"/><stop offset="0.852" stop-color="#fafaff"/><stop offset="0.8917" stop-color="#fafaff"/><stop offset="0.9097" stop-color="#fefeff"/><stop offset="0.9458" stop-color="#fffafa"/><stop offset="1" stop-color="#fffafa"/></linearGradient>
<linearGradient id="c14" x1="0" y1="0" x2="0" y2="1"><stop offset="0" stop-color="#f2f2ff"/><stop offset="0.2852" stop-color="#f4f4ff"/><stop offset="0.2924" stop-color="#fafaff"/><stop offset="0.296" stop-color="#fffafa"/><stop offset="0.2996" stop-color="#f4f4ff"/><stop offset="0.7545" stop-color="#fcfcff"/><stop offset="0.8303" stop-color="#fafaff"/><stop offset="0.8809" stop-color="#f4f4ff"/><stop offset="0.917" stop-color="#fefeff"/><stop offset="0.9458" stop-color="#fffafa"/><stop offset="1" stop-color="#fffafa"/></linearGradient>
<linearGradient id="c15" x1="0" y1="0" x2="0" y2="1"><stop offset="0" stop-color="#f0f0ff"/><stop offset="0.2888" stop-color="#f2f2ff"/><stop offset="0.2924" stop-color="#f8f8ff"/><stop offset="0.296" stop-color="#fffafa"/><stop offset="0.2996" stop-color="#f2f2ff"/><stop offset="0.769" stop-color="#fafaff"/><stop offset="0.8123" stop-color="#f8f8ff"/><stop offset="0.8736" stop-color="#eeeeff"/><stop offset="0.9242" stop-color="#fefeff"/><stop offset="0.9458" stop-color="#fffafa"/><stop offset="1" stop-color="#fffafa"/></linearGradient>
<linearGradient id="c16" x1="0" y1="0" x2="0" y2="1"><stop offset="0" stop-color="#ececff"/><stop offset="0.2852" stop-color="#f0f0ff"/><stop offset="0.2924" stop-color="#f8f8ff"/><stop offset="0.296" stop-color="#fffafa"/><stop offset="0.2996" stop-color="#f0f0ff"/><stop offset="0.6029" stop-color="#f8f8ff"/><stop offset="0.7726" stop-color="#f8f8ff"/><stop offset="0.8159" stop-color="#f4f4ff"/><stop offset="0.8556" stop-color="#eaeaff"/><stop offset="0.8809" stop-color="#eaeaff"/><stop offset="0.9278" stop-color="#fefeff"/><stop offset="0.9458" stop-color="#fffafa"/><stop offset="1" stop-color="#fffafa"/></linearGradient>
<linearGradient id="c17" x1="0" y1="0" x2="0" y2="1"><stop offset="0" stop-color="#ececff"/><stop offset="0.2888" stop-color="#f0f0ff"/><stop offset="0.2924" stop-color="#f8f8ff"/><stop offset="0.296" stop-color="#fffafa"/><stop offset="0.2996" stop-color="#f0f0ff"/><stop offset="0.7653" stop-color="#f8f8ff"/><stop offset="0.8087" stop-color="#f2f2ff"/><stop offset="0.8592" stop-color="#e4e4ff"/><stop offset="0.8773" stop-color="#e4e4ff"/><stop offset="0.9278" stop-color="#fefeff"/><stop offset="0.9458" stop-color="#fffafa"/><stop offset="1" stop-color="#fffafa"/></linearGradient>
<linearGradient id="c18" x1="0" y1="0" x2="0" y2="1"><stop offset="0" stop-color="#eaeaff"/><stop offset="0.2888" stop-color="#f0f0ff"/><stop offset="0.2924" stop-color="#f8f8ff"/><stop offset="0.296" stop-color="#fffafa"/><stop offset="0.2996" stop-color="#f0f0ff"/><stop offset="0.6426" stop-color="#f8f8ff"/><stop offset="0.769" stop-color="#f8f8ff"/><stop offset="0.8014" stop-color="#f2f2ff"/><stop offset="0.8556" stop-color="#e0e0ff"/><stop offset="0.8736" stop-color="#dedeff"/><stop offset="0.8881" stop-color="#e4e4ff"/><stop offset="0.9314" stop-color="#fefeff"/><stop offset="0.9458" stop-color="#fffafa"/><stop offset="1" stop-color="#fffafa"/></linearGradient>
<linearGradient id="c19" x1="0" y1="0" x2="0" y2="1"><stop offset="0" stop-color="#ececff"/><stop offset="0.2852" stop-color="#f0f0ff"/><stop offset="0.2924" stop-color="#f8f8ff"/><stop offset="0.296" stop-color="#fffafa"/><stop offset="0.2996" stop-color="#f0f0ff"/><stop offset="0.7617" stop-color="#fafaff"/><stop offset="0.7978" stop-color="#f4f4ff"/><stop offset="0.8412" stop-color="#e0e0ff"/><stop offset="0.8736" stop-color="#dadaff"/><stop offset="0.9061" stop-color="#ececff"/><stop offset="0.9314" stop-color="#fefeff"/><stop offset="0.9458" stop-color="#fffafa"/><stop offset="1" stop-color="#fffafa"/></linearGradient>
<linearGradient id="c20" x1="0" y1="0" x2="0" y2="1"><stop offset="0" stop-color="#eeeeff"/><stop offset="0.2888" stop-color="#f2f2ff"/><stop offset="0.2924" stop-color="#fafaff"/><stop offset="0.296" stop-color="#fffafa"/><stop offset="0.2996" stop-color="#f2f2ff"/><stop offset="0.769" stop-color="#fcfcff"/><stop offset="0.7978" stop-color="#f6f6ff"/><stop offset="0.8375" stop-color="#e0e0ff"/><stop offset="0.8736" stop-color="#d8d8ff"/><stop offset="0.8953" stop-color="#e4e4ff"/><stop offset="0.9314" stop-color="#fefeff"/><stop offset="0.9458" stop-color="#fffafa"/><stop offset="1" stop-color="#fffafa"/></linearGradient>
<linearGradient id="c21" x1="0" y1="0" x2="0" y2="1"><stop offset="0" stop-color="#f0f0ff"/><stop offset="0.2816" stop-color="#f4f4ff"/><stop offset="0.2888" stop-color="#f6f6ff"/><stop offset="0.2924" stop-color="#fcfcff"/><stop offset="0.296" stop-color="#fffafa"/><stop offset="0.2996" stop-color="#f6f6ff"/><stop offset="0.3394" stop-color="#f6f6ff"/><stop offset="0.7617" stop-color="#fffefe"/><stop offset="0.7906" stop-color="#fcfcff"/><stop offset="0.8123" stop-color="#f2f2ff"/><stop offset="0.8339" stop-color="#e2e2ff"/><stop offset="0.8736" stop-color="#d8d8ff"/><stop offset="0.8953" stop-color="#e4e4ff"/><stop offset="0.9314" stop-color="#fefeff"/><stop offset="0.9458" stop-color="#fffafa"/><stop offset="1" stop-color="#fffafa"/></linearGradient>
<linearGradient id="c22" x1="0" y1="0" x2="0" y2="1"><stop offset="0" stop-color="#f4f4ff"/><stop offset="0.2888" stop-color="#f8f8ff"/><stop offset="0.2924" stop-color="#fffefe"/><stop offset="0.296" stop-color="#fffafa"/><stop offset="0.2996" stop-color="#f8f8ff"/><stop offset="0.574" stop-color="#fefeff"/><stop offset="0.7004" stop-color="#fffefe"/><stop offset="0.7292" stop-color="#fffafa"/><stop offset="0.7762" stop-color="#fffafa"/><stop offset="0.7906" stop-color="#fffefe"/><stop offset="0.8014" stop-color="#fcfcff"/><stop offset="0.8412" stop-color="#e2e2ff"/><stop offset="0.8628" stop-color="#dcdcff"/><stop offset="0.8773" stop-color="#dcdcff"/><stop offset="0.9097" stop-color="#eeeeff"/><stop offset="0.9314" stop-color="#fefeff"/><stop offset="0.9458" stop-color="#fffafa"/><stop offset="1" stop-color="#fffafa"/></linearGradient>
<linearGradient id="c23" x1="0" y1="0" x2="0" y2="1"><stop offset="0" stop-color="#f8f8ff"/><stop offset="0.2888" stop-color="#fcfcff"/><stop offset="0.2924" stop-color="#fffafa"/><stop offset="0.296" stop-color="#fffafa"/><stop offset="0.2996" stop-color="#fcfcff"/><stop offset="0.5993" stop-color="#fffefe"/><stop offset="0.6895" stop-color="#fffafa"/><stop offset="0.7329" stop-color="#fff4f4"/><stop offset="0.7798" stop-color="#fff4f4"/><stop offset="0.8051" stop-color="#fffefe"/><stop offset="0.8123" stop-color="#fcfcff"/><stop offset="0.8339" stop-color="#eaeaff"/><stop offset="0.8628" stop-color="#e0e0ff"/><stop offset="0.8773" stop-color="#e0e0ff"/><stop offset="0.8881" stop-color="#e4e4ff"/><stop offset="0.9314" stop-color="#fefeff"/><stop offset="0.9458" stop-color="#fffafa"/><stop offset="1" stop-color="#fffafa"/></linearGradient>
<linearGradient id="c24" x1="0" y1="0" x2="0" y2="1"><stop offset="0" stop-color="#fcfcff"/><stop offset="0.2888" stop-color="#fefeff"/><stop offset="0.2924" stop-color="#fff6f6"/><stop offset="0.2996" stop-color="#fefeff"/><stop offset="0.4693" stop-color="#fffefe"/><stop offset="0.6426" stop-color="#fff8f8"/><stop offset="0.7581" stop-color="#ffecec"/><stop offset="0.7942" stop-color="#fff0f0"/><stop offset="0.8159" stop-color="#fffefe"/><stop offset="0.8195" stop-color="#fefeff"/><stop offset="0.8303" stop-color="#f4f4ff"/><stop offset="0.8412" stop-color="#eeeeff"/><stop offset="0.8664" stop-color="#e6e6ff"/><stop offset="0.8809" stop-color="#e6e6ff"/><stop offset="0.9134" stop-color="#f4f4ff"/><stop offset="0.9278" stop-color="#fefeff"/><stop offset="0.9458" stop-color="#fffafa"/><stop offset="1" stop-color="#fffafa"/></linearGradient>
<linearGradient id="c25" x1="0" y1="0" x2="0" y2="1"><stop offset="0" stop-color="#fffefe"/><stop offset="0.2888" stop-color="#fffcfc"/><stop offset="0.2924" stop-color="#fff0f0"/><stop offset="0.296" stop-color="#fffafa"/><stop offset="0.2996" stop-color="#fffcfc"/><stop offset="0.5668" stop-color="#fff8f8"/><stop offset="0.6787" stop-color="#fff0f0"/><stop offset="0.7437" stop-color="#ffe4e4"/><stop offset="0.7906" stop-color="#ffe6e6"/><stop offset="0.8051" stop-color="#ffecec"/><stop offset="0.8267" stop-color="#fffefe"/><stop offset="0.8303" stop-color="#fefeff"/><stop offset="0.8339" stop-color="#fafaff"/><stop offset="0.8628" stop-color="#eeeeff"/><stop offset="0.8809" stop-color="#ececff"/><stop offset="0.9278" stop-color="#fefeff"/><stop offset="0.9458" stop-color="#fffafa"/><stop offset="1" stop-color="#fffafa"/></linearGradient>
<linearGradient id="c26" x1="0" y1="0" x2="0" y2="1"><stop offset="0" stop-color="#fffafa"/><stop offset="0.2888" stop-color="#fff8f8"/><stop offset="0.2924" stop-color="#ffeaea"/><stop offset="0.296" stop-color="#fffafa"/><stop offset="0.5271" stop-color="#fff6f6"/><stop offset="0.6606" stop-color="#ffecec"/><stop offset="0.6895" stop-color="#ffe8e8"/><stop offset="0.7292" stop-color="#ffdcdc"/><stop offset="0.7509" stop-color="#ffdada"/><stop offset="0.7834" stop-color="#ffdada"/><stop offset="0.8014" stop-color="#ffe0e0"/><stop offset="0.8339" stop-color="#fffafa"/><stop offset="0.8484" stop-color="#fefeff"/><stop offset="0.87" stop-color="#f4f4ff"/><stop offset="0.8881" stop-color="#f4f4ff"/><stop offset="0.9242" stop-color="#fefeff"/><stop offset="0.9458" stop-color="#fffafa"/><stop offset="1" stop-color="#fffafa"/></linearGradient>
<linearGradient id="c27" x1="0" y1="0" x2="0" y2="1"><stop offset="0" stop-color="#fff6f6"/><stop offset="0.2888" stop-color="#fff6f6"/><stop offset="0.2924" stop-color="#ffe2e2"/><stop offset="0.296" stop-color="#fffafa"/><stop offset="0.2996" stop-color="#fff6f6"/><stop offset="0.5415" stop-color="#fff2f2"/><stop offset="0.6606" stop-color="#ffe6e6"/><stop offset="0.704" stop-color="#ffdcdc"/><stop offset="0.7365" stop-color="#ffd0d0"/><stop offset="0.787" stop-color="#ffd0d0"/><stop offset="0.8123" stop-color="#ffdcdc"/><stop offset="0.8267" stop-color="#ffeaea"/><stop offset="0.8592" stop-color="#fffefe"/><stop offset="0.8773" stop-color="#fafaff"/><stop offset="0.8989" stop-color="#fafaff"/><stop offset="0.917" stop-color="#fefeff"/><stop offset="0.9458" stop-color="#fffafa"/><stop offset="1" stop-color="#fffafa"/></linearGradient>
<linearGradient id="c28" x1="0" y1="0" x2="0" y2="1"><stop offset="0" stop-color="#fff2f2"/><stop offset="0.2888" stop-color="#fff2f2"/><stop offset="0.2924" stop-color="#ffdcdc"/><stop offset="0.296" stop-color="#fffafa"/><stop offset="0.2996" stop-color="#fff2f2"/><stop offset="0.426" stop-color="#fff2f2"/><stop offset="0.5487" stop-color="#ffeeee"/><stop offset="0.6101" stop-color="#ffe8e8"/><stop offset="0.6679" stop-color="#ffdede"/><stop offset="0.6968" stop-color="#ffd6d6"/><stop offset="0.7329" stop-color="#ffc6c6"/><stop offset="0.7834" stop-color="#ffc4c4"/><stop offset="0.8051" stop-color="#ffcccc"/><stop offset="0.8412" stop-color="#ffeaea"/><stop offset="0.8592" stop-color="#fff6f6"/><stop offset="0.8773" stop-color="#fffefe"/><stop offset="0.917" stop-color="#fefeff"/><stop offset="0.9458" stop-color="#fffafa"/><stop offset="1" stop-color="#fffafa"/></linearGradient>
<linearGradient id="c29" x1="0" y1="0" x2="0" y2="1"><stop offset="0" stop-color="#ffeeee"/><stop offset="0.2888" stop-color="#fff0f0"/><stop offset="0.2924" stop-color="#ffd6d6"/><stop offset="0.296" stop-color="#fffafa"/><stop offset="0.2996" stop-color="#fff0f0"/><stop offset="0.5271" stop-color="#ffecec"/><stop offset="0.5776" stop-color="#ffe8e8"/><stop offset="0.6498" stop-color="#ffdcdc"/><stop offset="0.6931" stop-color="#ffd0d0"/><stop offset="0.7365" stop-color="#ffbaba"/><stop offset="0.7906" stop-color="#ffbaba"/><stop offset="0.8087" stop-color="#ffc4c4"/><stop offset="0.8556" stop-color="#ffecec"/><stop offset="0.8773" stop-color="#fff8f8"/><stop offset="0.9061" stop-color="#fffefe"/><stop offset="0.9458" stop-color="#fffafa"/><stop offset="1" stop-color="#fffafa"/></linearGradient>
<linearGradient id="c30" x1="0" y1="0" x2="0" y2="1"><stop offset="0" stop-color="#ffecec"/><stop offset="0.2888" stop-color="#ffeeee"/><stop offset="0.2924" stop-color="#ffd0d0"/><stop offset="0.296" stop-color="#fffafa"/><stop offset="0.2996" stop-color="#ffeeee"/><stop offset="0.5451" stop-color="#ffe8e8"/><stop offset="0.6209" stop-color="#ffdede"/><stop offset="0.6679" stop-color="#ffd2d2"/><stop offset="0.6968" stop-color="#ffc8c8"/><stop offset="0.7256" stop-color="#ffb4b4"/><stop offset="0.7401" stop-color="#ffb0b0"/><stop offset="0.7906" stop-color="#ffb0b0"/><stop offset="0.8195" stop-color="#ffc4c4"/><stop offset="0.8556" stop-color="#ffe6e6"/><stop offset="0.8845" stop-color="#fff6f6"/><stop offset="0.9061" stop-color="#fffcfc"/><stop offset="1" stop-color="#fffafa"/></linearGradient>
<linearGradient id="c31" x1="0" y1="0" x2="0" y2="1"><stop offset="0" stop-color="#ffeaea"/><stop offset="0.2888" stop-color="#ffecec"/><stop offset="0.2924" stop-color="#ffcccc"/><stop offset="0.296" stop-color="#fffafa"/><stop offset="0.2996" stop-color="#ffecec"/><stop offset="0.3899" stop-color="#ffecec"/><stop offset="0.5451" stop-color="#ffe6e6"/><stop offset="0.6245" stop-color="#ffdada"/><stop offset="0.6606" stop-color="#ffd0d0"/><stop offset="0.6931" stop-color="#ffc4c4"/><stop offset="0.7329" stop-color="#ffaaaa"/><stop offset="0.787" stop-color="#ffa8a8"/><stop offset="0.8087" stop-color="#ffb4b4"/><stop offset="0.8592" stop-color="#ffe4e4"/><stop offset="0.8917" stop-color="#fff6f6"/><stop offset="0.9134" stop-color="#fffcfc"/><stop offset="1" stop-color="#fffafa"/></linearGradient>
<linearGradient id="c32" x1="0" y1="0" x2="0" y2="1"><stop offset="0" stop-color="#ffe8e8"/><stop offset="0.2888" stop-color="#ffeaea"/><stop offset="0.2924" stop-color="#ffc8c8"/><stop offset="0.296" stop-color="#fffafa"/><stop offset="0.2996" stop-color="#ffeaea"/><stop offset="0.426" stop-color="#ffeaea"/><stop offset="0.5487" stop-color="#ffe4e4"/><stop offset="0.6245" stop-color="#ffd8d8"/><stop offset="0.6643" stop-color="#ffcccc"/><stop offset="0.704" stop-color="#ffbaba"/><stop offset="0.7292" stop-color="#ffa6a6"/><stop offset="0.7798" stop-color="#ffa2a2"/><stop offset="0.7906" stop-color="#ffa4a4"/><stop offset="0.8051" stop-color="#ffacac"/><stop offset="0.8556" stop-color="#ffdede"/><stop offset="0.8917" stop-color="#fff4f4"/><stop offset="0.9206" stop-color="#fffcfc"/><stop offset="1" stop-color="#fffafa"/></linearGradient>
<linearGradient id="c33" x1="0" y1="0" x2="0" y2="1"><stop offset="0" stop-color="#ffe8e8"/><stop offset="0.2888" stop-color="#ffeaea"/><stop offset="0.2924" stop-color="#ffc8c8"/><stop offset="0.296" stop-color="#fffafa"/><stop offset="0.2996" stop-color="#ffeaea"/><stop offset="0.4116" stop-color="#ffeaea"/><stop offset="0.5451" stop-color="#ffe4e4"/><stop offset="0.6209" stop-color="#ffd8d8"/><stop offset="0.657" stop-color="#ffcece"/><stop offset="0.6931" stop-color="#ffc0c0"/><stop offset="0.7184" stop-color="#ffacac"/><stop offset="0.7329" stop-color="#ffa4a4"/><stop offset="0.787" stop-color="#ffa2a2"/><stop offset="0.7978" stop-color="#ffa6a6"/><stop offset="0.8159" stop-color="#ffb4b4"/><stop offset="0.8592" stop-color="#ffe0e0"/><stop offset="0.8989" stop-color="#fff6f6"/><stop offset="0.9242" stop-color="#fffcfc"/><stop offset="1" stop-color="#fffafa"/></linearGradient>
<linearGradient id="c34" x1="0" y1="0" x2="0" y2="1"><stop offset="0" stop-color="#ffe8e8"/><stop offset="0.2888" stop-color="#ffeaea"/><stop offset="0.2924" stop-color="#ffc8c8"/><stop offset="0.296" stop-color="#fffafa"/><stop offset="0.2996" stop-color="#ffeaea"/><stop offset="0.426" stop-color="#ffeaea"/><stop offset="0.5523" stop-color="#ffe4e4"/><stop offset="0.6173" stop-color="#ffdada"/><stop offset="0.6606" stop-color="#ffcece"/><stop offset="0.6968" stop-color="#ffc0c0"/><stop offset="0.7329" stop-color="#ffa6a6"/><stop offset="0.787" stop-color="#ffa4a4"/><stop offset="0.8087" stop-color="#ffb0b0"/><stop offset="0.8592" stop-color="#ffe0e0"/><stop offset="0.8989" stop-color="#fff6f6"/><stop offset="0.9134" stop-color="#fffafa"/><stop offset="1" stop-color="#fffafa"/></linearGradient>
<linearGradient id="c35" x1="0" y1="0" x2="0" y2="1"><stop offset="0" stop-color="#ffeaea"/><stop offset="0.2888" stop-color="#ffecec"/><stop offset="0.2924" stop-color="#ffcccc"/><stop offset="0.296" stop-color="#fffafa"/><stop offset="0.2996" stop-color="#ffecec"/><stop offset="0.3899" stop-color="#ffecec"/><stop offset="0.5451" stop-color="#ffe6e6"/><stop offset="0.6065" stop-color="#ffdede"/><stop offset="0.657" stop-color="#ffd2d2"/><stop offset="0.6859" stop-color="#ffc8c8"/><stop offset="0.7329" stop-color="#ffacac"/><stop offset="0.787" stop-color="#ffaaaa"/><stop offset="0.7942" stop-color="#ffacac"/><stop offset="0.8159" stop-color="#ffbaba"/><stop offset="0.8664" stop-color="#ffe6e6"/><stop offset="0.8989" stop-color="#fff6f6"/><stop offset="0.9134" stop-color="#fffafa"/><stop offset="1" stop-color="#fffafa"/></linearGradient>
<linearGradient id="c36" x1="0" y1="0" x2="0" y2="1"><stop offset="0" stop-color="#ffecec"/><stop offset="0.2888" stop-color="#ffeeee"/><stop offset="0.2924" stop-color="#ffd0d0"/><stop offset="0.296" stop-color="#fffafa"/><stop offset="0.2996" stop-color="#ffeeee"/><stop offset="0.5487" stop-color="#ffe8e8"/><stop offset="0.6245" stop-color="#ffdede"/><stop offset="0.6715" stop-color="#ffd2d2"/><stop offset="0.6895" stop-color="#ffcccc"/><stop offset="0.7329" stop-color="#ffb4b4"/><stop offset="0.787" stop-color="#ffb2b2"/><stop offset="0.8123" stop-color="#ffbebe"/><stop offset="0.8664" stop-color="#ffe8e8"/><stop offset="0.8917" stop-color="#fff4f4"/><stop offset="0.9134" stop-color="#fffafa"/><stop offset="1" stop-color="#fffafa"/></linearGradient>
<linearGradient id="c37" x1="0" y1="0" x2="0" y2="1"><stop offset="0" stop-color="#ffeeee"/><stop offset="0.2888" stop-color="#fff0f0"/><stop offset="0.2924" stop-color="#ffd6d6"/><stop offset="0.296" stop-color="#fffafa"/><stop offset="0.2996" stop-color="#fff0f0"/><stop offset="0.556" stop-color="#ffeaea"/><stop offset="0.6534" stop-color="#ffdcdc"/><stop offset="0.6968" stop-color="#ffd0d0"/><stop offset="0.7329" stop-color="#ffbebe"/><stop offset="0.7906" stop-color="#ffbcbc"/><stop offset="0.8195" stop-color="#ffcaca"/><stop offset="0.8664" stop-color="#ffeaea"/><stop offset="0.8953" stop-color="#fff6f6"/><stop offset="0.9134" stop-color="#fffafa"/><stop offset="1" stop-color="#fffafa"/></linearGradient>
<linearGradient id="c38" x1="0" y1="0" x2="0" y2="1"><stop offset="0" stop-color="#fff0f0"/><stop offset="0.2888" stop-color="#fff0f0"/><stop offset="0.2924" stop-color="#ffdcdc"/><stop offset="0.296" stop-color="#fffafa"/><stop offset="0.2996" stop-color="#fff0f0"/><stop offset="0.5307" stop-color="#ffeeee"/><stop offset="0.6245" stop-color="#ffe6e6"/><stop offset="0.6787" stop-color="#ffdcdc"/><stop offset="0.7004" stop-color="#ffd6d6"/><stop offset="0.7329" stop-color="#ffc8c8"/><stop offset="0.7906" stop-color="#ffc6c6"/><stop offset="0.8087" stop-color="#ffcccc"/><stop offset="0.87" stop-color="#ffeeee"/><stop offset="0.9097" stop-color="#fffafa"/><stop offset="1" stop-color="#fffafa"/></linearGradient>
<linearGradient id="c39" x1="0" y1="0" x2="0" y2="1"><stop offset="0" stop-color="#fff2f2"/><stop offset="0.2888" stop-color="#fff2f2"/><stop offset="0.2924" stop-color="#ffe2e2"/><stop offset="0.296" stop-color="#fffafa"/><stop offset="0.2996" stop-color="#fff2f2"/><stop offset="0.5379" stop-color="#fff0f0"/><stop offset="0.6534" stop-color="#ffe6e6"/><stop offset="0.6895" stop-color="#ffe0e0"/><stop offset="0.722" stop-color="#ffd4d4"/><stop offset="0.7437" stop-color="#ffd0d0"/><stop offset="0.7942" stop-color="#ffd0d0"/><stop offset="0.8412" stop-color="#ffe2e2"/><stop offset="0.8592" stop-color="#ffecec"/><stop offset="0.8989" stop-color="#fff8f8"/><stop offset="1" stop-color="#fffafa"/></linearGradient>
<linearGradient id="c40" x1="0" y1="0" x2="0" y2="1"><stop offset="0" stop-color="#fff4f4"/><stop offset="0.2888" stop-color="#fff4f4"/><stop offset="0.2924" stop-color="#ffe8e8"/><stop offset="0.296" stop-color="#fffafa"/><stop offset="0.2996" stop-color="#fff4f4"/><stop offset="0.5415" stop-color="#fff2f2"/><stop offset="0.6715" stop-color="#ffe8e8"/><stop offset="0.6968" stop-color="#ffe4e4"/><stop offset="0.7292" stop-color="#ffdada"/><stop offset="0.7942" stop-color="#ffd8d8"/><stop offset="0.852" stop-color="#ffecec"/><stop offset="0.9097" stop-color="#fffafa"/><stop offset="1" stop-color="#fffafa"/></linearGradient>
<linearGradient id="c41" x1="0" y1="0" x2="0" y2="1"><stop offset="0" stop-color="#fff4f4"/><stop offset="0.2888" stop-color="#fff6f6"/><stop offset="0.2924" stop-color="#ffecec"/><stop offset="0.296" stop-color="#fffafa"/><stop offset="0.2996" stop-color="#fff6f6"/><stop offset="0.5271" stop-color="#fff4f4"/><stop offset="0.6498" stop-color="#ffeeee"/><stop offset="0.704" stop-color="#ffe8e8"/><stop offset="0.7365" stop-color="#ffe0e0"/><stop offset="0.787" stop-color="#ffdede"/><stop offset="0.8195" stop-color="#ffe4e4"/><stop offset="0.8736" stop-color="#fff4f4"/><stop offset="0.9097" stop-color="#fffafa"/><stop offset="1" stop-color="#fffafa"/></linearGradient>
<linearGradient id="c42" x1="0" y1="0" x2="0" y2="1"><stop offset="0" stop-color="#fff6f6"/><stop offset="0.2888" stop-color="#fff6f6"/><stop offset="0.2924" stop-color="#ffeeee"/><stop offset="0.296" stop-color="#fffafa"/><stop offset="0.2996" stop-color="#fff6f6"/><stop offset="0.574" stop-color="#fff4f4"/><stop offset="0.6859" stop-color="#ffeeee"/><stop offset="0.7545" stop-color="#ffe4e4"/><stop offset="0.7942" stop-color="#ffe4e4"/><stop offset="0.9097" stop-color="#fffafa"/><stop offset="1" stop-color="#fffafa"/></linearGradient>
<linearGradient id="c43" x1="0" y1="0" x2="0" y2="1"><stop offset="0" stop-color="#fff6f6"/><stop offset="0.2888" stop-color="#fff6f6"/><stop offset="0.2924" stop-color="#fff0f0"/><stop offset="0.296" stop-color="#fffafa"/><stop offset="0.2996" stop-color="#fff6f6"/><stop offset="0.6065" stop-color="#fff4f4"/><stop offset="0.6931" stop-color="#fff0f0"/><stop offset="0.7509" stop-color="#ffe8e8"/><stop offset="0.8014" stop-color="#ffe8e8"/><stop offset="0.9097" stop-color="#fffafa"/><stop offset="1" stop-color="#fffafa"/></linearGradient>
<linearGradient id="c44" x1="0" y1="0" x2="0" y2="1"><stop offset="0" stop-color="#fff6f6"/><stop offset="0.2888" stop-color="#fff6f6"/><stop offset="0.2924" stop-color="#fff2f2"/><stop offset="0.296" stop-color="#fffafa"/><stop offset="0.2996" stop-color="#fff6f6"/><stop offset="0.6318" stop-color="#fff4f4"/><stop offset="0.7112" stop-color="#fff0f0"/><stop offset="0.7581" stop-color="#ffeaea"/><stop offset="0.8014" stop-color="#ffeaea"/><stop offset="0.9134" stop-color="#fffafa"/><stop offset="1" stop-color="#fffafa"/></linearGradient>
<linearGradient id="c45" x1="0" y1="0" x2="0" y2="1"><stop offset="0" stop-color="#fff6f6"/><stop offset="0.2888" stop-color="#fff6f6"/><stop offset="0.2924" stop-color="#fff2f2"/><stop offset="0.296" stop-color="#fff8f8"/><stop offset="0.5523" stop-color="#fff6f6"/><stop offset="0.7004" stop-color="#fff2f2"/><stop offset="0.7473" stop-color="#ffecec"/><stop offset="0.8087" stop-color="#ffecec"/><stop offset="0.8917" stop-color="#fff8f8"/><stop offset="1" stop-color="#fff8f8"/></linearGradient>
<linearGradient id="c46" x1="0" y1="0" x2="0" y2="1"><stop offset="0" stop-color="#fff6f6"/><stop offset="0.2888" stop-color="#fff6f6"/><stop offset="0.2924" stop-color="#fff2f2"/><stop offset="0.296" stop-color="#fff8f8"/><stop offset="0.5487" stop-color="#fff6f6"/><stop offset="0.7076" stop-color="#fff2f2"/><stop offset="0.7545" stop-color="#ffecec"/><stop offset="0.8051" stop-color="#ffecec"/><stop offset="0.8953" stop-color="#fff8f8"/><stop offset="1" stop-color="#fff8f8"/></linearGradient>
<linearGradient id="c47" x1="0" y1="0" x2="0" y2="1"><stop offset="0" stop-color="#fff6f6"/><stop offset="0.2888" stop-color="#fff6f6"/><stop offset="0.2924" stop-color="#fff2f2"/><stop offset="0.296" stop-color="#fff8f8"/><stop offset="0.5343" stop-color="#fff6f6"/><stop offset="0.7076" stop-color="#fff2f2"/><stop offset="0.7545" stop-color="#ffecec"/><stop offset="0.8087" stop-color="#ffecec"/><stop offset="0.8953" stop-color="#fff8f8"/><stop offset="1" stop-color="#fff8f8"/></linearGradient>
<linearGradient id="c48" x1="0" y1="0" x2="0" y2="1"><stop offset="0" stop-color="#fff6f6"/><stop offset="0.2888" stop-color="#fff6f6"/><stop offset="0.2924" stop-color="#fff2f2"/><stop offset="0.296" stop-color="#fff8f8"/><stop offset="0.509" stop-color="#fff6f6"/><stop offset="0.704" stop-color="#fff2f2"/><stop offset="0.7509" stop-color="#ffecec"/><stop offset="0.8123" stop-color="#ffecec"/><stop offset="0.8989" stop-color="#fff8f8"/><stop offset="1" stop-color="#fff8f8"/></linearGradient>
<linearGradient id="c49" x1="0" y1="0" x2="0" y2="1"><stop offset="0" stop-color="#fff6f6"/><stop offset="0.2888" stop-color="#fff6f6"/><stop offset="0.2924" stop-color="#fff2f2"/><stop offset="0.296" stop-color="#fff8f8"/><stop offset="0.6173" stop-color="#fff4f4"/><stop offset="0.7004" stop-color="#fff2f2"/><stop offset="0.7834" stop-color="#ffeaea"/><stop offset="0.87" stop-color="#fff2f2"/><stop offset="0.9025" stop-color="#fff8f8"/><stop offset="1" stop-color="#fff8f8"/></linearGradient>
<linearGradient id="c50" x1="0" y1="0" x2="0" y2="1"><stop offset="0" stop-color="#fff6f6"/><stop offset="0.2888" stop-color="#fff6f6"/><stop offset="0.2924" stop-color="#fff2f2"/><stop offset="0.296" stop-color="#fff8f8"/><stop offset="0.6029" stop-color="#fff4f4"/><stop offset="0.6931" stop-color="#fff2f2"/><stop offset="0.769" stop-color="#ffeaea"/><stop offset="0.7978" stop-color="#ffeaea"/><stop offset="0.8736" stop-color="#fff2f2"/><stop offset="0.9025" stop-color="#fff8f8"/><stop offset="1" stop-color="#fff8f8"/></linearGradient>
<linearGradient id="c51" x1="0" y1="0" x2="0" y2="1"><stop offset="0" stop-color="#fff6f6"/><stop offset="0.2888" stop-color="#fff6f6"/><stop offset="0.2924" stop-color="#fff2f2"/><stop offset="0.296" stop-color="#fff8f8"/><stop offset="0.4368" stop-color="#fff4f4"/><stop offset="0.5884" stop-color="#fff4f4"/><stop offset="0.6823" stop-color="#fff2f2"/><stop offset="0.7617" stop-color="#ffeaea"/><stop offset="0.8014" stop-color="#ffeaea"/><stop offset="0.9061" stop-color="#fff8f8"/><stop offset="1" stop-color="#fff8f8"/></linearGradient>
<linearGradient id="c52" x1="0" y1="0" x2="0" y2="1"><stop offset="0" stop-color="#fff6f6"/><stop offset="0.2888" stop-color="#fff6f6"/><stop offset="0.2924" stop-color="#fff2f2"/><stop offset="0.296" stop-color="#fff8f8"/><stop offset="0.4152" stop-color="#fff4f4"/><stop offset="0.5776" stop-color="#fff4f4"/><stop offset="0.6715" stop-color="#fff2f2"/><stop offset="0.7581" stop-color="#ffeaea"/><stop offset="0.8051" stop-color="#ffeaea"/><stop offset="0.9097" stop-color="#fff8f8"/><stop offset="1" stop-color="#fff8f8"/></linearGradient>
<linearGradient id="c53" x1="0" y1="0" x2="0" y2="1"><stop offset="0" stop-color="#fff6f6"/><stop offset="0.2888" stop-color="#fff6f6"/><stop offset="0.2924" stop-color="#fff0f0"/><stop offset="0.296" stop-color="#fff8f8"/><stop offset="0.4043" stop-color="#fff4f4"/><stop offset="0.5704" stop-color="#fff4f4"/><stop offset="0.7148" stop-color="#fff0f0"/><stop offset="0.7581" stop-color="#ffeaea"/><stop offset="0.8087" stop-color="#ffeaea"/><stop offset="0.9097" stop-color="#fff8f8"/><stop offset="1" stop-color="#fff8f8"/></linearGradient>
<linearGradient id="c54" x1="0" y1="0" x2="0" y2="1"><stop offset="0" stop-color="#fff6f6"/><stop offset="0.2888" stop-color="#fff6f6"/><stop offset="0.2924" stop-color="#fff0f0"/><stop offset="0.296" stop-color="#fff8f8"/><stop offset="0.4007" stop-color="#fff4f4"/><stop offset="0.5704" stop-color="#fff4f4"/><stop offset="0.7148" stop-color="#fff0f0"/><stop offset="0.7581" stop-color="#ffeaea"/><stop offset="0.8087" stop-color="#ffeaea"/><stop offset="0.9097" stop-color="#fff8f8"/><stop offset="1" stop-color="#fff8f8"/></linearGradient>
<linearGradient id="c55" x1="0" y1="0" x2="0" y2="1"><stop offset="0" stop-color="#fff6f6"/><stop offset="0.2888" stop-color="#fff6f6"/><stop offset="0.2924" stop-color="#fff2f2"/><stop offset="0.296" stop-color="#fff8f8"/><stop offset="0.4116" stop-color="#fff4f4"/><stop offset="0.574" stop-color="#fff4f4"/><stop offset="0.6715" stop-color="#fff2f2"/><stop offset="0.7581" stop-color="#ffeaea"/><stop offset="0.8051" stop-color="#ffeaea"/><stop offset="0.9097" stop-color="#fff8f8"/><stop offset="1" stop-color="#fff8f8"/></linearGradient>
<linearGradient id="c56" x1="0" y1="0" x2="0" y2="1"><stop offset="0" stop-color="#fff6f6"/><stop offset="0.2888" stop-color="#fff6f6"/><stop offset="0.2924" stop-color="#fff2f2"/><stop offset="0.296" stop-color="#fff8f8"/><stop offset="0.4332" stop-color="#fff4f4"/><stop offset="0.5848" stop-color="#fff4f4"/><stop offset="0.6823" stop-color="#fff2f2"/><stop offset="0.7617" stop-color="#ffeaea"/><stop offset="0.8014" stop-color="#ffeaea"/><stop offset="0.9061" stop-color="#fff8f8"/><stop offset="1" stop-color="#fff8f8"/></linearGradient>
<linearGradient id="c57" x1="0" y1="0" x2="0" y2="1"><stop offset="0" stop-color="#fff6f6"/><stop offset="0.2888" stop-color="#fff6f6"/><stop offset="0.2924" stop-color="#fff2f2"/><stop offset="0.296" stop-color="#fff8f8"/><stop offset="0.5993" stop-color="#fff4f4"/><stop offset="0.6931" stop-color="#fff2f2"/><stop offset="0.769" stop-color="#ffeaea"/><stop offset="0.7978" stop-color="#ffeaea"/><stop offset="0.9061" stop-color="#fff8f8"/><stop offset="1" stop-color="#fff8f8"/></linearGradient>
<linearGradient id="c58" x1="0" y1="0" x2="0" y2="1"><stop offset="0" stop-color="#fff6f6"/><stop offset="0.2888" stop-color="#fff6f6"/><stop offset="0.2924" stop-color="#fff2f2"/><stop offset="0.296" stop-color="#fff8f8"/><stop offset="0.4838" stop-color="#fff6f6"/><stop offset="0.7004" stop-color="#fff2f2"/><stop offset="0.7509" stop-color="#ffecec"/><stop offset="0.8159" stop-color="#ffecec"/><stop offset="0.9025" stop-color="#fff8f8"/><stop offset="1" stop-color="#fff8f8"/></linearGradient>
<linearGradient id="c59" x1="0" y1="0" x2="0" y2="1"><stop offset="0" stop-color="#fff6f6"/><stop offset="0.2888" stop-color="#fff6f6"/><stop offset="0.2924" stop-color="#fff2f2"/><stop offset="0.296" stop-color="#fff8f8"/><stop offset="0.5126" stop-color="#fff6f6"/><stop offset="0.7112" stop-color="#fff2f2"/><stop offset="0.7581" stop-color="#ffecec"/><stop offset="0.8087" stop-color="#ffecec"/><stop offset="0.8989" stop-color="#fff8f8"/><stop offset="1" stop-color="#fff8f8"/></linearGradient>
<linearGradient id="c60" x1="0" y1="0" x2="0" y2="1"><stop offset="0" stop-color="#fff6f6"/><stop offset="0.2888" stop-color="#fff6f6"/><stop offset="0.2924" stop-color="#fff2f2"/><stop offset="0.296" stop-color="#fff8f8"/><stop offset="0.5451" stop-color="#fff6f6"/><stop offset="0.6643" stop-color="#fff4f4"/><stop offset="0.7978" stop-color="#ffecec"/><stop offset="0.8953" stop-color="#fff8f8"/><stop offset="1" stop-color="#fff8f8"/></linearGradient>
<linearGradient id="c61" x1="0" y1="0" x2="0" y2="1"><stop offset="0" stop-color="#fff6f6"/><stop offset="0.2924" stop-color="#fff4f4"/><stop offset="0.296" stop-color="#fff8f8"/><stop offset="0.5776" stop-color="#fff6f6"/><stop offset="0.6895" stop-color="#fff4f4"/><stop offset="0.7509" stop-color="#ffeeee"/><stop offset="0.8159" stop-color="#ffeeee"/><stop offset="0.8953" stop-color="#fff8f8"/><stop offset="1" stop-color="#fff8f8"/></linearGradient>
<linearGradient id="c62" x1="0" y1="0" x2="0" y2="1"><stop offset="0" stop-color="#fff8f8"/><stop offset="0.2888" stop-color="#fff8f8"/><stop offset="0.2924" stop-color="#fff4f4"/><stop offset="0.296" stop-color="#fff8f8"/><stop offset="0.6065" stop-color="#fff6f6"/><stop offset="0.704" stop-color="#fff4f4"/><stop offset="0.7581" stop-color="#ffeeee"/><stop offset="0.8051" stop-color="#ffeeee"/><stop offset="0.8917" stop-color="#fff8f8"/><stop offset="1" stop-color="#fff8f8"/></linearGradient>
<linearGradient id="c63" x1="0" y1="0" x2="0" y2="1"><stop offset="0" stop-color="#fff8f8"/><stop offset="0.2888" stop-color="#fff8f8"/><stop offset="0.2924" stop-color="#fff4f4"/><stop offset="0.296" stop-color="#fffafa"/><stop offset="0.6354" stop-color="#fff6f6"/><stop offset="0.7148" stop-color="#fff4f4"/><stop offset="0.7906" stop-color="#ffeeee"/><stop offset="0.9097" stop-color="#fffafa"/><stop offset="1" stop-color="#fffafa"/></linearGradient>
<linearGradient id="c64" x1="0" y1="0" x2="0" y2="1"><stop offset="0" stop-color="#fff8f8"/><stop offset="0.2888" stop-color="#fff8f8"/><stop offset="0.2924" stop-color="#fff4f4"/><stop offset="0.296" stop-color="#fffafa"/><stop offset="0.5126" stop-color="#fff8f8"/><stop offset="0.6643" stop-color="#fff6f6"/><stop offset="0.7509" stop-color="#fff0f0"/><stop offset="0.8159" stop-color="#fff0f0"/><stop offset="0.9061" stop-color="#fffafa"/><stop offset="1" stop-color="#fffafa"/></linearGradient>
<linearGradient id="c65" x1="0" y1="0" x2="0" y2="1"><stop offset="0" stop-color="#fff8f8"/><stop offset="0.5487" stop-color="#fff8f8"/><stop offset="0.6895" stop-color="#fff6f6"/><stop offset="0.7617" stop-color="#fff0f0"/><stop offset="0.8051" stop-color="#fff0f0"/><stop offset="0.9025" stop-color="#fffafa"/><stop offset="1" stop-color="#fffafa"/></linearGradient>
<linearGradient id="c66" x1="0" y1="0" x2="0" y2="1"><stop offset="0" stop-color="#fff8f8"/><stop offset="0.5776" stop-color="#fff8f8"/><stop offset="0.704" stop-color="#fff6f6"/><stop offset="0.787" stop-color="#fff0f0"/><stop offset="0.8989" stop-color="#fffafa"/><stop offset="1" stop-color="#fffafa"/></linearGradient>
<linearGradient id="c67" x1="0" y1="0" x2="0" y2="1"><stop offset="0" stop-color="#fff8f8"/><stop offset="0.6065" stop-color="#fff8f8"/><stop offset="0.7112" stop-color="#fff6f6"/><stop offset="0.7473" stop-color="#fff2f2"/><stop offset="0.8195" stop-color="#fff2f2"/><stop offset="0.8953" stop-color="#fffafa"/><stop offset="1" stop-color="#fffafa"/></linearGradient>
<linearGradient id="c68" x1="0" y1="0" x2="0" y2="1"><stop offset="0" stop-color="#fffafa"/><stop offset="0.2888" stop-color="#fffafa"/><stop offset="0.2924" stop-color="#fff6f6"/><stop offset="0.296" stop-color="#fffafa"/><stop offset="0.6282" stop-color="#fff8f8"/><stop offset="0.7184" stop-color="#fff6f6"/><stop offset="0.7509" stop-color="#fff2f2"/><stop offset="0.8123" stop-color="#fff2f2"/><stop offset="0.8917" stop-color="#fffafa"/><stop offset="1" stop-color="#fffafa"/></linearGradient>
<linearGradient id="c69" x1="0" y1="0" x2="0" y2="1"><stop offset="0" stop-color="#fffafa"/><stop offset="0.2888" stop-color="#fffafa"/><stop offset="0.2924" stop-color="#fff6f6"/><stop offset="0.296" stop-color="#fffafa"/><stop offset="0.6462" stop-color="#fff8f8"/><stop offset="0.722" stop-color="#fff6f6"/><stop offset="0.7581" stop-color="#fff2f2"/><stop offset="0.8051" stop-color="#fff2f2"/><stop offset="0.8917" stop-color="#fffafa"/><stop offset="1" stop-color="#fffafa"/></linearGradient>
<linearGradient id="c70" x1="0" y1="0" x2="0" y2="1"><stop offset="0" stop-color="#fffafa"/><stop offset="0.2888" stop-color="#fffafa"/><stop offset="0.2924" stop-color="#fff6f6"/><stop offset="0.296" stop-color="#fffafa"/><stop offset="0.6606" stop-color="#fff8f8"/><stop offset="0.7653" stop-color="#fff2f2"/><stop offset="0.8339" stop-color="#fff4f4"/><stop offset="0.8881" stop-color="#fffafa"/><stop offset="1" stop-color="#fffafa"/></linearGradient>
<linearGradient id="c71" x1="0" y1="0" x2="0" y2="1"><stop offset="0" stop-color="#fffafa"/><stop offset="0.6751" stop-color="#fff8f8"/><stop offset="0.7762" stop-color="#fff2f2"/><stop offset="0.8628" stop-color="#fff6f6"/><stop offset="0.8881" stop-color="#fffafa"/><stop offset="1" stop-color="#fffafa"/></linearGradient>
<linearGradient id="c72" x1="0" y1="0" x2="0" y2="1"><stop offset="0" stop-color="#fff6f6"/><stop offset="0.2924" stop-color="#fff6f6"/><stop offset="0.296" stop-color="#fffcfc"/><stop offset="0.2996" stop-color="#fff8f8"/><stop offset="0.5921" stop-color="#fff8f8"/><stop offset="0.7184" stop-color="#fff6f6"/><stop offset="0.7473" stop-color="#fff2f2"/><stop offset="0.8195" stop-color="#fff0f0"/><stop offset="0.87" stop-color="#fff4f4"/><stop offset="0.9025" stop-color="#fffcfc"/><stop offset="1" stop-color="#fffcfc"/></linearGradient>
<linearGradient id="c73" x1="0" y1="0" x2="0" y2="1"><stop offset="0" stop-color="#fff4f4"/><stop offset="0.2744" stop-color="#fff6f6"/><stop offset="0.2924" stop-color="#fff4f4"/><stop offset="0.296" stop-color="#fffcfc"/><stop offset="0.2996" stop-color="#fff6f6"/><stop offset="0.7112" stop-color="#fff4f4"/><stop offset="0.7329" stop-color="#fff0f0"/><stop offset="0.8123" stop-color="#ffecec"/><stop offset="0.8628" stop-color="#fff0f0"/><stop offset="0.9097" stop-color="#fffcfc"/><stop offset="1" stop-color="#fffcfc"/></linearGradient>
<linearGradient id="c74" x1="0" y1="0" x2="0" y2="1"><stop offset="0" stop-color="#fff0f0"/><stop offset="0.2924" stop-color="#fff2f2"/><stop offset="0.296" stop-color="#fffcfc"/><stop offset="0.2996" stop-color="#fff2f2"/><stop offset="0.704" stop-color="#fff2f2"/><stop offset="0.7617" stop-color="#ffeaea"/><stop offset="0.8159" stop-color="#ffe8e8"/><stop offset="0.8664" stop-color="#ffeeee"/><stop offset="0.9061" stop-color="#fffafa"/><stop offset="1" stop-color="#fffcfc"/></linearGradient>
<linearGradient id="c75" x1="0" y1="0" x2="0" y2="1"><stop offset="0" stop-color="#ffeeee"/><stop offset="0.2924" stop-color="#fff0f0"/><stop offset="0.296" stop-color="#fffafa"/><stop offset="0.2996" stop-color="#fff0f0"/><stop offset="0.6787" stop-color="#fff0f0"/><stop offset="0.7834" stop-color="#ffe4e4"/><stop offset="0.8231" stop-color="#ffe4e4"/><stop offset="0.8664" stop-color="#ffeaea"/><stop offset="0.9097" stop-color="#fffafa"/><stop offset="1" stop-color="#fffafa"/></linearGradient>
<linearGradient id="c76" x1="0" y1="0" x2="0" y2="1"><stop offset="0" stop-color="#ffeaea"/><stop offset="0.1877" stop-color="#ffeeee"/><stop offset="0.2924" stop-color="#ffecec"/><stop offset="0.296" stop-color="#fffafa"/><stop offset="0.2996" stop-color="#ffeeee"/><stop offset="0.704" stop-color="#ffecec"/><stop offset="0.7762" stop-color="#ffe0e0"/><stop offset="0.8267" stop-color="#ffe0e0"/><stop offset="0.87" stop-color="#ffe8e8"/><stop offset="0.9061" stop-color="#fff8f8"/><stop offset="1" stop-color="#fffafa"/></linearGradient>
<linearGradient id="c77" x1="0" y1="0" x2="0" y2="1"><stop offset="0" stop-color="#ffe8e8"/><stop offset="0.2924" stop-color="#ffeaea"/><stop offset="0.296" stop-color="#fffafa"/><stop offset="0.2996" stop-color="#ffeaea"/><stop offset="0.6931" stop-color="#ffeaea"/><stop offset="0.7581" stop-color="#ffdede"/><stop offset="0.8123" stop-color="#ffdada"/><stop offset="0.8628" stop-color="#ffe2e2"/><stop offset="0.9097" stop-color="#fff8f8"/><stop offset="1" stop-color="#fffafa"/></linearGradient>
<linearGradient id="c78" x1="0" y1="0" x2="0" y2="1"><stop offset="0" stop-color="#ffe4e4"/><stop offset="0.13" stop-color="#ffe8e8"/><stop offset="0.2924" stop-color="#ffe8e8"/><stop offset="0.296" stop-color="#fff8f8"/><stop offset="0.2996" stop-color="#ffe8e8"/><stop offset="0.6715" stop-color="#ffe8e8"/><stop offset="0.704" stop-color="#ffe6e6"/><stop offset="0.7762" stop-color="#ffd8d8"/><stop offset="0.8123" stop-color="#ffd6d6"/><stop offset="0.8664" stop-color="#ffe0e0"/><stop offset="0.9061" stop-color="#fff6f6"/><stop offset="1" stop-color="#fff8f8"/></linearGradient>
<linearGradient id="c79" x1="0" y1="0" x2="0" y2="1"><stop offset="0" stop-color="#ffe2e2"/><stop offset="0.1444" stop-color="#ffe6e6"/><stop offset="0.2924" stop-color="#ffe4e4"/><stop offset="0.296" stop-color="#fff8f8"/><stop offset="0.2996" stop-color="#ffe6e6"/><stop offset="0.6606" stop-color="#ffe6e6"/><stop offset="0.704" stop-color="#ffe4e4"/><stop offset="0.7545" stop-color="#ffd8d8"/><stop offset="0.8051" stop-color="#ffd2d2"/><stop offset="0.8628" stop-color="#ffdcdc"/><stop offset="0.9097" stop-color="#fff6f6"/><stop offset="1" stop-color="#fff8f8"/></linearGradient>
<linearGradient id="c80" x1="0" y1="0" x2="0" y2="1"><stop offset="0" stop-color="#ffe0e0"/><stop offset="0.13" stop-color="#ffe4e4"/><stop offset="0.2924" stop-color="#ffe4e4"/><stop offset="0.296" stop-color="#fff8f8"/><stop offset="0.2996" stop-color="#ffe4e4"/><stop offset="0.6751" stop-color="#ffe4e4"/><stop offset="0.704" stop-color="#ffe2e2"/><stop offset="0.7762" stop-color="#ffd2d2"/><stop offset="0.8123" stop-color="#ffd0d0"/><stop offset="0.8628" stop-color="#ffdada"/><stop offset="0.9134" stop-color="#fff6f6"/><stop offset="1" stop-color="#fff8f8"/></linearGradient>
<linearGradient id="c81" x1="0" y1="0" x2="0" y2="1"><stop offset="0" stop-color="#ffdede"/><stop offset="0.1913" stop-color="#ffe4e4"/><stop offset="0.2924" stop-color="#ffe2e2"/><stop offset="0.296" stop-color="#fff8f8"/><stop offset="0.2996" stop-color="#ffe4e4"/><stop offset="0.6968" stop-color="#ffe2e2"/><stop offset="0.7834" stop-color="#ffd0d0"/><stop offset="0.8231" stop-color="#ffd0d0"/><stop offset="0.87" stop-color="#ffdcdc"/><stop offset="0.8881" stop-color="#ffeaea"/><stop offset="0.9134" stop-color="#fff6f6"/><stop offset="1" stop-color="#fff8f8"/></linearGradient>
<linearGradient id="c82" x1="0" y1="0" x2="0" y2="1"><stop offset="0" stop-color="#ffdede"/><stop offset="0.2094" stop-color="#ffe4e4"/><stop offset="0.2924" stop-color="#ffe2e2"/><stop offset="0.296" stop-color="#fff8f8"/><stop offset="0.2996" stop-color="#ffe4e4"/><stop offset="0.6968" stop-color="#ffe2e2"/><stop offset="0.7762" stop-color="#ffd2d2"/><stop offset="0.8195" stop-color="#ffd0d0"/><stop offset="0.87" stop-color="#ffdcdc"/><stop offset="0.9061" stop-color="#fff4f4"/><stop offset="1" stop-color="#fff8f8"/></linearGradient>
<linearGradient id="c83" x1="0" y1="0" x2="0" y2="1"><stop offset="0" stop-color="#ffdede"/><stop offset="0.1769" stop-color="#ffe4e4"/><stop offset="0.2924" stop-color="#ffe4e4"/><stop offset="0.296" stop-color="#fff8f8"/><stop offset="0.2996" stop-color="#ffe4e4"/><stop offset="0.6751" stop-color="#ffe4e4"/><stop offset="0.7329" stop-color="#ffdede"/><stop offset="0.7942" stop-color="#ffd2d2"/><stop offset="0.8159" stop-color="#ffd2d2"/><stop offset="0.8664" stop-color="#ffdcdc"/><stop offset="0.9134" stop-color="#fff6f6"/><stop offset="1" stop-color="#fff8f8"/></linearGradient>
<linearGradient id="c84" x1="0" y1="0" x2="0" y2="1"><stop offset="0" stop-color="#ffe0e0"/><stop offset="0.2924" stop-color="#ffe6e6"/><stop offset="0.296" stop-color="#fff8f8"/><stop offset="0.2996" stop-color="#ffe6e6"/><stop offset="0.6859" stop-color="#ffe6e6"/><stop offset="0.7329" stop-color="#ffe2e2"/><stop offset="0.769" stop-color="#ffdada"/><stop offset="0.8087" stop-color="#ffd6d6"/><stop offset="0.87" stop-color="#ffe0e0"/><stop offset="0.9097" stop-color="#fff6f6"/><stop offset="1" stop-color="#fff8f8"/></linearGradient>
<linearGradient id="c85" x1="0" y1="0" x2="0" y2="1"><stop offset="0" stop-color="#ffe2e2"/><stop offset="0.2924" stop-color="#ffeaea"/><stop offset="0.296" stop-color="#fff8f8"/><stop offset="0.2996" stop-color="#ffeaea"/><stop offset="0.6715" stop-color="#ffeaea"/><stop offset="0.7365" stop-color="#ffe8e8"/><stop offset="0.7473" stop-color="#ffe4e4"/><stop offset="0.7906" stop-color="#ffdede"/><stop offset="0.8267" stop-color="#ffdede"/><stop offset="0.87" stop-color="#ffe4e4"/><stop offset="0.9061" stop-color="#fff6f6"/><stop offset="1" stop-color="#fff8f8"/></linearGradient>
<linearGradient id="c86" x1="0" y1="0" x2="0" y2="1"><stop offset="0" stop-color="#ffe6e6"/><stop offset="0.2599" stop-color="#ffecec"/><stop offset="0.2924" stop-color="#ffeeee"/><stop offset="0.296" stop-color="#fff8f8"/><stop offset="0.2996" stop-color="#ffeeee"/><stop offset="0.7365" stop-color="#fff0f0"/><stop offset="0.7834" stop-color="#ffe8e8"/><stop offset="0.8159" stop-color="#ffe6e6"/><stop offset="0.8664" stop-color="#ffe8e8"/><stop offset="0.8989" stop-color="#fff6f6"/><stop offset="0.9097" stop-color="#fff8f8"/><stop offset="1" stop-color="#fff8f8"/></linearGradient>
<linearGradient id="c87" x1="0" y1="0" x2="0" y2="1"><stop offset="0" stop-color="#ffeaea"/><stop offset="0.2491" stop-color="#fff0f0"/><stop offset="0.2852" stop-color="#fff4f4"/><stop offset="0.296" stop-color="#fffafa"/><stop offset="0.2996" stop-color="#fff6f6"/><stop offset="0.6751" stop-color="#fff4f4"/><stop offset="0.7112" stop-color="#fff4f4"/><stop offset="0.7292" stop-color="#fffafa"/><stop offset="0.7401" stop-color="#fffafa"/><stop offset="0.7978" stop-color="#fff2f2"/><stop offset="0.852" stop-color="#fff0f0"/><stop offset="0.8736" stop-color="#fff0f0"/><stop offset="0.8989" stop-color="#fff8f8"/><stop offset="1" stop-color="#fffafa"/></linearGradient>
<linearGradient id="c88" x1="0" y1="0" x2="0" y2="1"><stop offset="0" stop-color="#fff0f0"/><stop offset="0.2202" stop-color="#fff4f4"/><stop offset="0.2924" stop-color="#fffefe"/><stop offset="0.296" stop-color="#fffafa"/><stop offset="0.3466" stop-color="#fffefe"/><stop offset="0.7112" stop-color="#fffefe"/><stop offset="0.7329" stop-color="#f8f8ff"/><stop offset="0.7906" stop-color="#fefeff"/><stop offset="0.8448" stop-color="#fffefe"/><stop offset="0.8592" stop-color="#fff8f8"/><stop offset="1" stop-color="#fffafa"/></linearGradient>
<linearGradient id="c89" x1="0" y1="0" x2="0" y2="1"><stop offset="0" stop-color="#fff6f6"/><stop offset="0.213" stop-color="#fffafa"/><stop offset="0.2635" stop-color="#fefeff"/><stop offset="0.2924" stop-color="#f6f6ff"/><stop offset="0.296" stop-color="#fffafa"/><stop offset="0.2996" stop-color="#f8f8ff"/><stop offset="0.7076" stop-color="#f6f6ff"/><stop offset="0.7329" stop-color="#eaeaff"/><stop offset="0.8412" stop-color="#f2f2ff"/><stop offset="0.8664" stop-color="#fefeff"/><stop offset="0.9061" stop-color="#fffefe"/><stop offset="0.917" stop-color="#fffafa"/><stop offset="1" stop-color="#fffafa"/></linearGradient>
<linearGradient id="c90" x1="0" y1="0" x2="0" y2="1"><stop offset="0" stop-color="#fffcfc"/><stop offset="0.04332" stop-color="#fffefe"/><stop offset="0.2383" stop-color="#fcfcff"/><stop offset="0.2924" stop-color="#ececff"/><stop offset="0.296" stop-color="#fffcfc"/><stop offset="0.2996" stop-color="#eeeeff"/><stop offset="0.6859" stop-color="#ececff"/><stop offset="0.7076" stop-color="#eaeaff"/><stop offset="0.7329" stop-color="#dcdcff"/><stop offset="0.7798" stop-color="#dcdcff"/><stop offset="0.8412" stop-color="#e4e4ff"/><stop offset="0.87" stop-color="#f6f6ff"/><stop offset="0.9025" stop-color="#fefeff"/><stop offset="0.9206" stop-color="#fffafa"/><stop offset="1" stop-color="#fffcfc"/></linearGradient>
<linearGradient id="c91" x1="0" y1="0" x2="0" y2="1"><stop offset="0" stop-color="#fafaff"/><stop offset="0.2383" stop-color="#f4f4ff"/><stop offset="0.2924" stop-color="#e0e0ff"/><stop offset="0.296" stop-color="#fffcfc"/><stop offset="0.2996" stop-color="#e2e2ff"/><stop offset="0.6751" stop-color="#e0e0ff"/><stop offset="0.704" stop-color="#dedeff"/><stop offset="0.7365" stop-color="#ccccff"/><stop offset="0.787" stop-color="#ccccff"/><stop offset="0.8412" stop-color="#d6d6ff"/><stop offset="0.8556" stop-color="#e4e4ff"/><stop offset="0.8881" stop-color="#f6f6ff"/><stop offset="0.9097" stop-color="#fefeff"/><stop offset="0.917" stop-color="#fffcfc"/><stop offset="1" stop-color="#fffcfc"/></linearGradient>
<linearGradient id="c92" x1="0" y1="0" x2="0" y2="1"><stop offset="0" stop-color="#f2f2ff"/><stop offset="0.1011" stop-color="#f2f2ff"/><stop offset="0.2383" stop-color="#ececff"/><stop offset="0.2527" stop-color="#e8e8ff"/><stop offset="0.2924" stop-color="#d2d2ff"/><stop offset="0.296" stop-color="#fffcfc"/><stop offset="0.2996" stop-color="#d6d6ff"/><stop offset="0.6679" stop-color="#d4d4ff"/><stop offset="0.7004" stop-color="#d2d2ff"/><stop offset="0.7329" stop-color="#bebeff"/><stop offset="0.787" stop-color="#bcbcff"/><stop offset="0.8339" stop-color="#c6c6ff"/><stop offset="0.8448" stop-color="#ccccff"/><stop offset="0.8592" stop-color="#dcdcff"/><stop offset="0.8773" stop-color="#eaeaff"/><stop offset="0.9134" stop-color="#fefeff"/><stop offset="0.9206" stop-color="#fffcfc"/><stop offset="1" stop-color="#fffcfc"/></linearGradient>
<linearGradient id="c93" x1="0" y1="0" x2="0" y2="1"><stop offset="0" stop-color="#ececff"/><stop offset="0.13" stop-color="#eaeaff"/><stop offset="0.2383" stop-color="#e4e4ff"/><stop offset="0.2888" stop-color="#ccccff"/><stop offset="0.2924" stop-color="#c8c8ff"/><stop offset="0.296" stop-color="#fffefe"/><stop offset="0.2996" stop-color="#ccccff"/><stop offset="0.6787" stop-color="#c8c8ff"/><stop offset="0.7004" stop-color="#c6c6ff"/><stop offset="0.7365" stop-color="#b0b0ff"/><stop offset="0.7906" stop-color="#aeaeff"/><stop offset="0.8195" stop-color="#b4b4ff"/><stop offset="0.8412" stop-color="#bcbcff"/><stop offset="0.8664" stop-color="#dadaff"/><stop offset="0.8773" stop-color="#e4e4ff"/><stop offset="0.917" stop-color="#fffefe"/><stop offset="0.9495" stop-color="#fffcfc"/><stop offset="1" stop-color="#fffefe"/></linearGradient>
<linearGradient id="c94" x1="0" y1="0" x2="0" y2="1"><stop offset="0" stop-color="#e4e4ff"/><stop offset="0.1047" stop-color="#e4e4ff"/><stop offset="0.231" stop-color="#dedeff"/><stop offset="0.2419" stop-color="#dcdcff"/><stop offset="0.2924" stop-color="#bebeff"/><stop offset="0.296" stop-color="#fffefe"/><stop offset="0.2996" stop-color="#c2c2ff"/><stop offset="0.6823" stop-color="#bebeff"/><stop offset="0.704" stop-color="#babaff"/><stop offset="0.722" stop-color="#acacff"/><stop offset="0.7401" stop-color="#a4a4ff"/><stop offset="0.7906" stop-color="#a2a2ff"/><stop offset="0.8195" stop-color="#a8a8ff"/><stop offset="0.8412" stop-color="#b2b2ff"/><stop offset="0.8556" stop-color="#c6c6ff"/><stop offset="0.8809" stop-color="#e2e2ff"/><stop offset="0.917" stop-color="#fefeff"/><stop offset="1" stop-color="#fffefe"/></linearGradient>
<linearGradient id="c95" x1="0" y1="0" x2="0" y2="1"><stop offset="0" stop-color="#dedeff"/><stop offset="0.1119" stop-color="#dedeff"/><stop offset="0.2274" stop-color="#d8d8ff"/><stop offset="0.2419" stop-color="#d6d6ff"/><stop offset="0.2924" stop-color="#b6b6ff"/><stop offset="0.296" stop-color="#fffefe"/><stop offset="0.2996" stop-color="#babaff"/><stop offset="0.5921" stop-color="#babaff"/><stop offset="0.6895" stop-color="#b6b6ff"/><stop offset="0.7004" stop-color="#b4b4ff"/><stop offset="0.722" stop-color="#a4a4ff"/><stop offset="0.7401" stop-color="#9c9cff"/><stop offset="0.7978" stop-color="#9a9aff"/><stop offset="0.8303" stop-color="#a4a4ff"/><stop offset="0.8412" stop-color="#aaaaff"/><stop offset="0.8664" stop-color="#ceceff"/><stop offset="0.8845" stop-color="#e2e2ff"/><stop offset="0.917" stop-color="#fefeff"/><stop offset="1" stop-color="#fffefe"/></linearGradient>
<linearGradient id="c96" x1="0" y1="0" x2="0" y2="1"><stop offset="0" stop-color="#dadaff"/><stop offset="0.148" stop-color="#d8d8ff"/><stop offset="0.2383" stop-color="#d2d2ff"/><stop offset="0.2527" stop-color="#ccccff"/><stop offset="0.2708" stop-color="#bebeff"/><stop offset="0.2924" stop-color="#b2b2ff"/><stop offset="0.296" stop-color="#fffefe"/><stop offset="0.2996" stop-color="#b6b6ff"/><stop offset="0.5884" stop-color="#b6b6ff"/><stop offset="0.6859" stop-color="#b2b2ff"/><stop offset="0.704" stop-color="#aeaeff"/><stop offset="0.7184" stop-color="#a2a2ff"/><stop offset="0.7365" stop-color="#9898ff"/><stop offset="0.7617" stop-color="#9494ff"/><stop offset="0.7906" stop-color="#9494ff"/><stop offset="0.8231" stop-color="#9c9cff"/><stop offset="0.8412" stop-color="#a6a6ff"/><stop offset="0.8592" stop-color="#c2c2ff"/><stop offset="0.8773" stop-color="#d8d8ff"/><stop offset="0.917" stop-color="#fefeff"/><stop offset="1" stop-color="#fffefe"/></linearGradient>
<linearGradient id="c97" x1="0" y1="0" x2="0" y2="1"><stop offset="0" stop-color="#d6d6ff"/><stop offset="0.1191" stop-color="#d6d6ff"/><stop offset="0.231" stop-color="#d0d0ff"/><stop offset="0.2419" stop-color="#ceceff"/><stop offset="0.2924" stop-color="#b2b2ff"/><stop offset="0.296" stop-color="#fffefe"/><stop offset="0.2996" stop-color="#b4b4ff"/><stop offset="0.6787" stop-color="#b2b2ff"/><stop offset="0.6968" stop-color="#b0b0ff"/><stop offset="0.7329" stop-color="#9898ff"/><stop offset="0.7834" stop-color="#9292ff"/><stop offset="0.8087" stop-color="#9696ff"/><stop offset="0.8375" stop-color="#a2a2ff"/><stop offset="0.8664" stop-color="#cacaff"/><stop offset="0.9097" stop-color="#f8f8ff"/><stop offset="0.9206" stop-color="#fefeff"/><stop offset="1" stop-color="#fffefe"/></linearGradient>
<linearGradient id="c98" x1="0" y1="0" x2="0" y2="1"><stop offset="0" stop-color="#d6d6ff"/><stop offset="0.1408" stop-color="#d4d4ff"/><stop offset="0.2383" stop-color="#ceceff"/><stop offset="0.278" stop-color="#babaff"/><stop offset="0.2888" stop-color="#b8b8ff"/><stop offset="0.2924" stop-color="#b4b4ff"/><stop offset="0.296" stop-color="#fffefe"/><stop offset="0.2996" stop-color="#b6b6ff"/><stop offset="0.5921" stop-color="#b8b8ff"/><stop offset="0.6931" stop-color="#b4b4ff"/><stop offset="0.7076" stop-color="#aeaeff"/><stop offset="0.7365" stop-color="#9a9aff"/><stop offset="0.7617" stop-color="#9696ff"/><stop offset="0.7942" stop-color="#9696ff"/><stop offset="0.8375" stop-color="#a4a4ff"/><stop offset="0.8592" stop-color="#c2c2ff"/><stop offset="0.8881" stop-color="#e4e4ff"/><stop offset="0.9097" stop-color="#f8f8ff"/><stop offset="0.9206" stop-color="#fefeff"/><stop offset="1" stop-color="#fffefe"/></linearGradient>
<linearGradient id="c99" x1="0" y1="0" x2="0" y2="1"><stop offset="0" stop-color="#d6d6ff"/><stop offset="0.1011" stop-color="#d6d6ff"/><stop offset="0.231" stop-color="#d0d0ff"/><stop offset="0.2491" stop-color="#ccccff"/><stop offset="0.2635" stop-color="#c4c4ff"/><stop offset="0.2924" stop-color="#babaff"/><stop offset="0.296" stop-color="#fffefe"/><stop offset="0.2996" stop-color="#bcbcff"/><stop offset="0.5776" stop-color="#bebeff"/><stop offset="0.6931" stop-color="#babaff"/><stop offset="0.7112" stop-color="#b2b2ff"/><stop offset="0.722" stop-color="#a8a8ff"/><stop offset="0.7365" stop-color="#a0a0ff"/><stop offset="0.787" stop-color="#9c9cff"/><stop offset="0.8231" stop-color="#a4a4ff"/><stop offset="0.8375" stop-color="#aaaaff"/><stop offset="0.8592" stop-color="#c6c6ff"/><stop offset="0.8845" stop-color="#e2e2ff"/><stop offset="0.9097" stop-color="#f8f8ff"/><stop offset="0.9206" stop-color="#fefeff"/><stop offset="1" stop-color="#fffefe"/></linearGradient>
<linearGradient id="c100" x1="0" y1="0" x2="0" y2="1"><stop offset="0" stop-color="#d8d8ff"/><stop offset="0.13" stop-color="#d8d8ff"/><stop offset="0.2202" stop-color="#d4d4ff"/><stop offset="0.2419" stop-color="#d2d2ff"/><stop offset="0.2924" stop-color="#c4c4ff"/><stop offset="0.296" stop-color="#fffefe"/><stop offset="0.2996" stop-color="#c4c4ff"/><stop offset="0.4116" stop-color="#c6c6ff"/><stop offset="0.6751" stop-color="#c4c4ff"/><stop offset="0.704" stop-color="#c0c0ff"/><stop offset="0.7365" stop-color="#aaaaff"/><stop offset="0.7978" stop-color="#a8a8ff"/><stop offset="0.8231" stop-color="#aeaeff"/><stop offset="0.8412" stop-color="#b6b6ff"/><stop offset="0.8592" stop-color="#ccccff"/><stop offset="0.8881" stop-color="#e8e8ff"/><stop offset="0.9206" stop-color="#fefeff"/><stop offset="1" stop-color="#fffefe"/></linearGradient>
<linearGradient id="c101" x1="0" y1="0" x2="0" y2="1"><stop offset="0" stop-color="#dedeff"/><stop offset="0.213" stop-color="#dadaff"/><stop offset="0.2419" stop-color="#d8d8ff"/><stop offset="0.2599" stop-color="#d2d2ff"/><stop offset="0.2924" stop-color="#ceceff"/><stop offset="0.296" stop-color="#fffefe"/><stop offset="0.2996" stop-color="#ceceff"/><stop offset="0.4477" stop-color="#d0d0ff"/><stop offset="0.6968" stop-color="#ceceff"/><stop offset="0.7112" stop-color="#c8c8ff"/><stop offset="0.722" stop-color="#bebeff"/><stop offset="0.7365" stop-color="#b6b6ff"/><stop offset="0.7834" stop-color="#b4b4ff"/><stop offset="0.8123" stop-color="#b8b8ff"/><stop offset="0.8448" stop-color="#c4c4ff"/><stop offset="0.8592" stop-color="#d4d4ff"/><stop offset="0.8809" stop-color="#e6e6ff"/><stop offset="0.917" stop-color="#fefeff"/><stop offset="1" stop-color="#fffefe"/></linearGradient>
<linearGradient id="c102" x1="0" y1="0" x2="0" y2="1"><stop offset="0" stop-color="#e4e4ff"/><stop offset="0.2058" stop-color="#e2e2ff"/><stop offset="0.2888" stop-color="#dadaff"/><stop offset="0.2924" stop-color="#dcdcff"/><stop offset="0.296" stop-color="#fffefe"/><stop offset="0.2996" stop-color="#dadaff"/><stop offset="0.6715" stop-color="#dcdcff"/><stop offset="0.7076" stop-color="#d8d8ff"/><stop offset="0.7329" stop-color="#c6c6ff"/><stop offset="0.7653" stop-color="#c4c4ff"/><stop offset="0.7942" stop-color="#c6c6ff"/><stop offset="0.8412" stop-color="#d0d0ff"/><stop offset="0.8881" stop-color="#f0f0ff"/><stop offset="0.917" stop-color="#fefeff"/><stop offset="1" stop-color="#fffefe"/></linearGradient>
<linearGradient id="c103" x1="0" y1="0" x2="0" y2="1"><stop offset="0" stop-color="#eeeeff"/><stop offset="0.1227" stop-color="#eeeeff"/><stop offset="0.2888" stop-color="#e8e8ff"/><stop offset="0.2924" stop-color="#eaeaff"/><stop offset="0.296" stop-color="#fffefe"/><stop offset="0.2996" stop-color="#e8e8ff"/><stop offset="0.6931" stop-color="#eaeaff"/><stop offset="0.704" stop-color="#e8e8ff"/><stop offset="0.7292" stop-color="#d8d8ff"/><stop offset="0.7545" stop-color="#d6d6ff"/><stop offset="0.8448" stop-color="#e2e2ff"/><stop offset="0.9134" stop-color="#fefeff"/><stop offset="1" stop-color="#fffefe"/></linearGradient>
<linearGradient id="c104" x1="0" y1="0" x2="0" y2="1"><stop offset="0" stop-color="#fafaff"/><stop offset="0.2888" stop-color="#f6f6ff"/><stop offset="0.2924" stop-color="#f8f8ff"/><stop offset="0.296" stop-color="#fffefe"/><stop offset="0.2996" stop-color="#f6f6ff"/><stop offset="0.704" stop-color="#f8f8ff"/><stop offset="0.7292" stop-color="#eaeaff"/><stop offset="0.7509" stop-color="#eaeaff"/><stop offset="0.8014" stop-color="#f4f4ff"/><stop offset="0.8736" stop-color="#f6f6ff"/><stop offset="0.9061" stop-color="#fefeff"/><stop offset="1" stop-color="#fffefe"/></linearGradient>
<linearGradient id="c105" x1="0" y1="0" x2="0" y2="1"><stop offset="0" stop-color="#fff8f8"/><stop offset="0.2744" stop-color="#fffafa"/><stop offset="0.2924" stop-color="#fff6f6"/><stop offset="0.296" stop-color="#fffcfc"/><stop offset="0.2996" stop-color="#fff8f8"/><stop offset="0.7076" stop-color="#fff6f6"/><stop offset="0.7256" stop-color="#fffefe"/><stop offset="0.7329" stop-color="#fcfcff"/><stop offset="0.7473" stop-color="#fefeff"/><stop offset="0.8051" stop-color="#fff0f0"/><stop offset="0.8339" stop-color="#fff0f0"/><stop offset="0.87" stop-color="#fffefe"/><stop offset="1" stop-color="#fffcfc"/></linearGradient>
<linearGradient id="c106" x1="0" y1="0" x2="0" y2="1"><stop offset="0" stop-color="#ffeaea"/><stop offset="0.2635" stop-color="#ffecec"/><stop offset="0.2888" stop-color="#ffeaea"/><stop offset="0.2924" stop-color="#ffe6e6"/><stop offset="0.296" stop-color="#fffcfc"/><stop offset="0.2996" stop-color="#ffeaea"/><stop offset="0.5921" stop-color="#ffeaea"/><stop offset="0.704" stop-color="#ffe4e4"/><stop offset="0.7292" stop-color="#ffeeee"/><stop offset="0.7365" stop-color="#ffeeee"/><stop offset="0.7942" stop-color="#ffd8d8"/><stop offset="0.8195" stop-color="#ffd6d6"/><stop offset="0.8339" stop-color="#ffd8d8"/><stop offset="0.8448" stop-color="#ffdede"/><stop offset="0.8556" stop-color="#ffeaea"/><stop offset="0.8809" stop-color="#fff8f8"/><stop offset="0.9025" stop-color="#fffcfc"/><stop offset="1" stop-color="#fffcfc"/></linearGradient>
<linearGradient id="c107" x1="0" y1="0" x2="0" y2="1"><stop offset="0" stop-color="#ffdcdc"/><stop offset="0.2888" stop-color="#ffdede"/><stop offset="0.2924" stop-color="#ffd8d8"/><stop offset="0.296" stop-color="#fffcfc"/><stop offset="0.2996" stop-color="#ffdede"/><stop offset="0.6137" stop-color="#ffdcdc"/><stop offset="0.6859" stop-color="#ffd6d6"/><stop offset="0.7112" stop-color="#ffd6d6"/><stop offset="0.7256" stop-color="#ffdcdc"/><stop offset="0.7365" stop-color="#ffdcdc"/><stop offset="0.7942" stop-color="#ffc0c0"/><stop offset="0.8195" stop-color="#ffbebe"/><stop offset="0.8412" stop-color="#ffc6c6"/><stop offset="0.8592" stop-color="#ffe0e0"/><stop offset="0.8881" stop-color="#fff4f4"/><stop offset="0.9206" stop-color="#fffcfc"/><stop offset="1" stop-color="#fffcfc"/></linearGradient>
<linearGradient id="c108" x1="0" y1="0" x2="0" y2="1"><stop offset="0" stop-color="#ffd0d0"/><stop offset="0.1697" stop-color="#ffd0d0"/><stop offset="0.2888" stop-color="#ffd4d4"/><stop offset="0.2924" stop-color="#ffcccc"/><stop offset="0.296" stop-color="#fffafa"/><stop offset="0.2996" stop-color="#ffd4d4"/><stop offset="0.6065" stop-color="#ffd2d2"/><stop offset="0.6968" stop-color="#ffcaca"/><stop offset="0.7112" stop-color="#ffcaca"/><stop offset="0.7329" stop-color="#ffd0d0"/><stop offset="0.7762" stop-color="#ffb6b6"/><stop offset="0.8014" stop-color="#ffaaaa"/><stop offset="0.8123" stop-color="#ffaaaa"/><stop offset="0.8303" stop-color="#ffaeae"/><stop offset="0.8412" stop-color="#ffb4b4"/><stop offset="0.8592" stop-color="#ffd6d6"/><stop offset="0.8736" stop-color="#ffe6e6"/><stop offset="0.9025" stop-color="#fff6f6"/><stop offset="0.9134" stop-color="#fffafa"/><stop offset="1" stop-color="#fffafa"/></linearGradient>
<linearGradient id="c109" x1="0" y1="0" x2="0" y2="1"><stop offset="0" stop-color="#ffcaca"/><stop offset="0.2455" stop-color="#ffcaca"/><stop offset="0.2888" stop-color="#ffcece"/><stop offset="0.2924" stop-color="#ffc6c6"/><stop offset="0.296" stop-color="#fffafa"/><stop offset="0.2996" stop-color="#ffcece"/><stop offset="0.5523" stop-color="#ffcece"/><stop offset="0.6426" stop-color="#ffcaca"/><stop offset="0.6931" stop-color="#ffc4c4"/><stop offset="0.7148" stop-color="#ffc4c4"/><stop offset="0.7329" stop-color="#ffc8c8"/><stop offset="0.7978" stop-color="#ffa0a0"/><stop offset="0.8195" stop-color="#ffa0a0"/><stop offset="0.8303" stop-color="#ffa4a4"/><stop offset="0.8412" stop-color="#ffacac"/><stop offset="0.8592" stop-color="#ffd0d0"/><stop offset="0.8773" stop-color="#ffe6e6"/><stop offset="0.9097" stop-color="#fff8f8"/><stop offset="1" stop-color="#fffafa"/></linearGradient>
<linearGradient id="c110" x1="0" y1="0" x2="0" y2="1"><stop offset="0" stop-color="#ffc8c8"/><stop offset="0.1949" stop-color="#ffc8c8"/><stop offset="0.2888" stop-color="#ffcece"/><stop offset="0.2924" stop-color="#ffc6c6"/><stop offset="0.296" stop-color="#fffafa"/><stop offset="0.2996" stop-color="#ffcece"/><stop offset="0.556" stop-color="#ffcece"/><stop offset="0.6426" stop-color="#ffcaca"/><stop offset="0.6895" stop-color="#ffc4c4"/><stop offset="0.7148" stop-color="#ffc4c4"/><stop offset="0.7329" stop-color="#ffc8c8"/><stop offset="0.7401" stop-color="#ffc6c6"/><stop offset="0.769" stop-color="#ffb0b0"/><stop offset="0.8014" stop-color="#ff9e9e"/><stop offset="0.8123" stop-color="#ff9e9e"/><stop offset="0.8375" stop-color="#ffa6a6"/><stop offset="0.8448" stop-color="#ffb0b0"/><stop offset="0.8556" stop-color="#ffcaca"/><stop offset="0.8664" stop-color="#ffdada"/><stop offset="0.8773" stop-color="#ffe6e6"/><stop offset="0.9097" stop-color="#fff8f8"/><stop offset="1" stop-color="#fffafa"/></linearGradient>
<linearGradient id="c111" x1="0" y1="0" x2="0" y2="1"><stop offset="0" stop-color="#ffcccc"/><stop offset="0.2455" stop-color="#ffcece"/><stop offset="0.2852" stop-color="#ffd4d4"/><stop offset="0.2888" stop-color="#ffd4d4"/><stop offset="0.2924" stop-color="#ffcece"/><stop offset="0.296" stop-color="#fffafa"/><stop offset="0.2996" stop-color="#ffd4d4"/><stop offset="0.5596" stop-color="#ffd4d4"/><stop offset="0.6498" stop-color="#ffd0d0"/><stop offset="0.6968" stop-color="#ffcaca"/><stop offset="0.7112" stop-color="#ffcaca"/><stop offset="0.7256" stop-color="#ffd0d0"/><stop offset="0.7365" stop-color="#ffd0d0"/><stop offset="0.7653" stop-color="#ffbcbc"/><stop offset="0.7978" stop-color="#ffaaaa"/><stop offset="0.8123" stop-color="#ffa8a8"/><stop offset="0.8375" stop-color="#ffb0b0"/><stop offset="0.8448" stop-color="#ffbaba"/><stop offset="0.8592" stop-color="#ffd6d6"/><stop offset="0.8664" stop-color="#ffe0e0"/><stop offset="0.8773" stop-color="#ffeaea"/><stop offset="0.8917" stop-color="#fff2f2"/><stop offset="0.917" stop-color="#fffafa"/><stop offset="1" stop-color="#fffafa"/></linearGradient>
<linearGradient id="c112" x1="0" y1="0" x2="0" y2="1"><stop offset="0" stop-color="#ffd6d6"/><stop offset="0.2383" stop-color="#ffd8d8"/><stop offset="0.2744" stop-color="#ffdede"/><stop offset="0.2888" stop-color="#ffdede"/><stop offset="0.2924" stop-color="#ffdada"/><stop offset="0.296" stop-color="#fffafa"/><stop offset="0.2996" stop-color="#ffdede"/><stop offset="0.6173" stop-color="#ffdede"/><stop offset="0.7112" stop-color="#ffd8d8"/><stop offset="0.7292" stop-color="#ffe0e0"/><stop offset="0.7365" stop-color="#ffe0e0"/><stop offset="0.7978" stop-color="#ffbebe"/><stop offset="0.8087" stop-color="#ffbcbc"/><stop offset="0.8375" stop-color="#ffc2c2"/><stop offset="0.8448" stop-color="#ffcaca"/><stop offset="0.8556" stop-color="#ffdede"/><stop offset="0.8664" stop-color="#ffeaea"/><stop offset="0.8845" stop-color="#fff4f4"/><stop offset="0.9061" stop-color="#fffafa"/><stop offset="1" stop-color="#fffafa"/></linearGradient>
<linearGradient id="c113" x1="0" y1="0" x2="0" y2="1"><stop offset="0" stop-color="#ffe4e4"/><stop offset="0.2491" stop-color="#ffe8e8"/><stop offset="0.2888" stop-color="#fff0f0"/><stop offset="0.2924" stop-color="#ffecec"/><stop offset="0.296" stop-color="#fffcfc"/><stop offset="0.2996" stop-color="#fff0f0"/><stop offset="0.6354" stop-color="#ffeeee"/><stop offset="0.7076" stop-color="#ffeaea"/><stop offset="0.7292" stop-color="#fff4f4"/><stop offset="0.7401" stop-color="#fff4f4"/><stop offset="0.7978" stop-color="#ffdada"/><stop offset="0.8195" stop-color="#ffd8d8"/><stop offset="0.8412" stop-color="#ffdede"/><stop offset="0.8592" stop-color="#fff4f4"/><stop offset="0.8773" stop-color="#fffcfc"/><stop offset="1" stop-color="#fffcfc"/></linearGradient>
<linearGradient id="c114" x1="0" y1="0" x2="0" y2="1"><stop offset="0" stop-color="#fff6f6"/><stop offset="0.2347" stop-color="#fff8f8"/><stop offset="0.2744" stop-color="#fefeff"/><stop offset="0.2888" stop-color="#fcfcff"/><stop offset="0.296" stop-color="#fffcfc"/><stop offset="0.2996" stop-color="#fcfcff"/><stop offset="0.7076" stop-color="#fefeff"/><stop offset="0.7329" stop-color="#f0f0ff"/><stop offset="0.7437" stop-color="#f0f0ff"/><stop offset="0.7726" stop-color="#fcfcff"/><stop offset="0.787" stop-color="#fffefe"/><stop offset="0.8087" stop-color="#fff8f8"/><stop offset="0.8375" stop-color="#fff8f8"/><stop offset="0.8448" stop-color="#fffcfc"/><stop offset="0.8484" stop-color="#fefeff"/><stop offset="0.8628" stop-color="#f6f6ff"/><stop offset="0.8773" stop-color="#f6f6ff"/><stop offset="0.9025" stop-color="#fefeff"/><stop offset="0.9206" stop-color="#fffcfc"/><stop offset="1" stop-color="#fffcfc"/></linearGradient>
<linearGradient id="c115" x1="0" y1="0" x2="0" y2="1"><stop offset="0" stop-color="#f8f8ff"/><stop offset="0.2238" stop-color="#f4f4ff"/><stop offset="0.2924" stop-color="#e8e8ff"/><stop offset="0.296" stop-color="#fffefe"/><stop offset="0.2996" stop-color="#e8e8ff"/><stop offset="0.7004" stop-color="#e8e8ff"/><stop offset="0.7365" stop-color="#d4d4ff"/><stop offset="0.7437" stop-color="#d4d4ff"/><stop offset="0.8195" stop-color="#e6e6ff"/><stop offset="0.8375" stop-color="#e8e8ff"/><stop offset="0.8592" stop-color="#e2e2ff"/><stop offset="0.9134" stop-color="#fefeff"/><stop offset="1" stop-color="#fffefe"/></linearGradient>
<linearGradient id="c116" x1="0" y1="0" x2="0" y2="1"><stop offset="0" stop-color="#e6e6ff"/><stop offset="0.1227" stop-color="#e6e6ff"/><stop offset="0.2238" stop-color="#e2e2ff"/><stop offset="0.2419" stop-color="#e0e0ff"/><stop offset="0.2924" stop-color="#d0d0ff"/><stop offset="0.296" stop-color="#fffefe"/><stop offset="0.2996" stop-color="#d2d2ff"/><stop offset="0.7004" stop-color="#d0d0ff"/><stop offset="0.7112" stop-color="#ccccff"/><stop offset="0.7365" stop-color="#b8b8ff"/><stop offset="0.7473" stop-color="#b8b8ff"/><stop offset="0.8556" stop-color="#ccccff"/><stop offset="0.87" stop-color="#d6d6ff"/><stop offset="0.8953" stop-color="#f0f0ff"/><stop offset="0.917" stop-color="#fefeff"/><stop offset="1" stop-color="#fffefe"/></linearGradient>
<linearGradient id="c117" x1="0" y1="0" x2="0" y2="1"><stop offset="0" stop-color="#d6d6ff"/><stop offset="0.1155" stop-color="#d6d6ff"/><stop offset="0.231" stop-color="#d0d0ff"/><stop offset="0.2455" stop-color="#ceceff"/><stop offset="0.2924" stop-color="#babaff"/><stop offset="0.296" stop-color="#fffefe"/><stop offset="0.2996" stop-color="#bcbcff"/><stop offset="0.6787" stop-color="#babaff"/><stop offset="0.7076" stop-color="#b6b6ff"/><stop offset="0.7292" stop-color="#a2a2ff"/><stop offset="0.7473" stop-color="#9c9cff"/><stop offset="0.8051" stop-color="#a4a4ff"/><stop offset="0.8375" stop-color="#aeaeff"/><stop offset="0.8592" stop-color="#babaff"/><stop offset="0.87" stop-color="#c6c6ff"/><stop offset="0.8845" stop-color="#dcdcff"/><stop offset="0.9061" stop-color="#f4f4ff"/><stop offset="0.9206" stop-color="#fefeff"/><stop offset="1" stop-color="#fffefe"/></linearGradient>
<linearGradient id="c118" x1="0" y1="0" x2="0" y2="1"><stop offset="0" stop-color="#c8c8ff"/><stop offset="0.08664" stop-color="#c8c8ff"/><stop offset="0.231" stop-color="#c0c0ff"/><stop offset="0.2527" stop-color="#babaff"/><stop offset="0.2888" stop-color="#a8a8ff"/><stop offset="0.2924" stop-color="#a4a4ff"/><stop offset="0.296" stop-color="#fffefe"/><stop offset="0.2996" stop-color="#a8a8ff"/><stop offset="0.5523" stop-color="#a8a8ff"/><stop offset="0.6751" stop-color="#a4a4ff"/><stop offset="0.704" stop-color="#a0a0ff"/><stop offset="0.7112" stop-color="#9c9cff"/><stop offset="0.7292" stop-color="#8a8aff"/><stop offset="0.7401" stop-color="#8484ff"/><stop offset="0.7762" stop-color="#8484ff"/><stop offset="0.8159" stop-color="#8c8cff"/><stop offset="0.8339" stop-color="#9494ff"/><stop offset="0.852" stop-color="#a0a0ff"/><stop offset="0.8664" stop-color="#b2b2ff"/><stop offset="0.8953" stop-color="#e4e4ff"/><stop offset="0.9206" stop-color="#fefeff"/><stop offset="1" stop-color="#fffefe"/></linearGradient>
<linearGradient id="c119" x1="0" y1="0" x2="0" y2="1"><stop offset="0" stop-color="#babaff"/><stop offset="0.1083" stop-color="#babaff"/><stop offset="0.2383" stop-color="#b0b0ff"/><stop offset="0.2888" stop-color="#9494ff"/><stop offset="0.2924" stop-color="#8e8eff"/><stop offset="0.296" stop-color="#fffefe"/><stop offset="0.2996" stop-color="#9494ff"/><stop offset="0.5704" stop-color="#9494ff"/><stop offset="0.6895" stop-color="#8e8eff"/><stop offset="0.7112" stop-color="#8686ff"/><stop offset="0.7365" stop-color="#6e6eff"/><stop offset="0.7834" stop-color="#6c6cff"/><stop offset="0.8195" stop-color="#7676ff"/><stop offset="0.8412" stop-color="#8282ff"/><stop offset="0.852" stop-color="#8e8eff"/><stop offset="0.87" stop-color="#aaaaff"/><stop offset="0.8845" stop-color="#cacaff"/><stop offset="0.8953" stop-color="#dedeff"/><stop offset="0.9134" stop-color="#f8f8ff"/><stop offset="0.9206" stop-color="#fefeff"/><stop offset="1" stop-color="#fffefe"/></linearGradient>
<linearGradient id="c120" x1="0" y1="0" x2="0" y2="1"><stop offset="0" stop-color="#b0b0ff"/><stop offset="0.1191" stop-color="#aeaeff"/><stop offset="0.2347" stop-color="#a4a4ff"/><stop offset="0.2563" stop-color="#9a9aff"/><stop offset="0.2852" stop-color="#8282ff"/><stop offset="0.2888" stop-color="#8282ff"/><stop offset="0.2924" stop-color="#7c7cff"/><stop offset="0.296" stop-color="#fffefe"/><stop offset="0.2996" stop-color="#8282ff"/><stop offset="0.5812" stop-color="#8282ff"/><stop offset="0.657" stop-color="#7e7eff"/><stop offset="0.6968" stop-color="#7a7aff"/><stop offset="0.7112" stop-color="#7272ff"/><stop offset="0.7365" stop-color="#5a5aff"/><stop offset="0.7906" stop-color="#5858ff"/><stop offset="0.8195" stop-color="#6262ff"/><stop offset="0.8448" stop-color="#7474ff"/><stop offset="0.8628" stop-color="#9090ff"/><stop offset="0.8953" stop-color="#dadaff"/><stop offset="0.9134" stop-color="#f6f6ff"/><stop offset="0.9206" stop-color="#fefeff"/><stop offset="1" stop-color="#fffefe"/></linearGradient>
<linearGradient id="c121" x1="0" y1="0" x2="0" y2="1"><stop offset="0" stop-color="#a6a6ff"/><stop offset="0.1264" stop-color="#a4a4ff"/><stop offset="0.2419" stop-color="#9898ff"/><stop offset="0.2635" stop-color="#8888ff"/><stop offset="0.2888" stop-color="#7272ff"/><stop offset="0.2924" stop-color="#6c6cff"/><stop offset="0.296" stop-color="#fffefe"/><stop offset="0.2996" stop-color="#7272ff"/><stop offset="0.6065" stop-color="#7272ff"/><stop offset="0.6643" stop-color="#6e6eff"/><stop offset="0.6968" stop-color="#6a6aff"/><stop offset="0.7112" stop-color="#6262ff"/><stop offset="0.7329" stop-color="#4c4cff"/><stop offset="0.7401" stop-color="#4848ff"/><stop offset="0.7798" stop-color="#4646ff"/><stop offset="0.8014" stop-color="#4a4aff"/><stop offset="0.8159" stop-color="#5050ff"/><stop offset="0.8375" stop-color="#5e5eff"/><stop offset="0.8448" stop-color="#6666ff"/><stop offset="0.8592" stop-color="#7e7eff"/><stop offset="0.87" stop-color="#9696ff"/><stop offset="0.8881" stop-color="#c6c6ff"/><stop offset="0.8953" stop-color="#d6d6ff"/><stop offset="0.9097" stop-color="#f0f0ff"/><stop offset="0.9206" stop-color="#fefeff"/><stop offset="1" stop-color="#fffefe"/></linearGradient>
<linearGradient id="c122" x1="0" y1="0" x2="0" y2="1"><stop offset="0" stop-color="#a0a0ff"/><stop offset="0.1119" stop-color="#9e9eff"/><stop offset="0.2347" stop-color="#9292ff"/><stop offset="0.2455" stop-color="#8e8eff"/><stop offset="0.2599" stop-color="#8282ff"/><stop offset="0.2816" stop-color="#6c6cff"/><stop offset="0.2888" stop-color="#6868ff"/><stop offset="0.2924" stop-color="#6060ff"/><stop offset="0.296" stop-color="#fffefe"/><stop offset="0.2996" stop-color="#6868ff"/><stop offset="0.5812" stop-color="#6868ff"/><stop offset="0.6679" stop-color="#6262ff"/><stop offset="0.6968" stop-color="#5e5eff"/><stop offset="0.7076" stop-color="#5858ff"/><stop offset="0.7401" stop-color="#3c3cff"/><stop offset="0.7834" stop-color="#3a3aff"/><stop offset="0.8087" stop-color="#4242ff"/><stop offset="0.8303" stop-color="#4e4eff"/><stop offset="0.8448" stop-color="#5c5cff"/><stop offset="0.8556" stop-color="#6e6eff"/><stop offset="0.8664" stop-color="#8686ff"/><stop offset="0.8881" stop-color="#c2c2ff"/><stop offset="0.8989" stop-color="#dadaff"/><stop offset="0.9206" stop-color="#fefeff"/><stop offset="1" stop-color="#fffefe"/></linearGradient>
<linearGradient id="c123" x1="0" y1="0" x2="0" y2="1"><stop offset="0" stop-color="#9c9cff"/><stop offset="0.1155" stop-color="#9a9aff"/><stop offset="0.231" stop-color="#8e8eff"/><stop offset="0.2527" stop-color="#8484ff"/><stop offset="0.2816" stop-color="#6666ff"/><stop offset="0.2888" stop-color="#6262ff"/><stop offset="0.2924" stop-color="#5a5aff"/><stop offset="0.296" stop-color="#fffefe"/><stop offset="0.2996" stop-color="#6262ff"/><stop offset="0.5704" stop-color="#6262ff"/><stop offset="0.6426" stop-color="#5e5eff"/><stop offset="0.7004" stop-color="#5656ff"/><stop offset="0.7329" stop-color="#3a3aff"/><stop offset="0.7437" stop-color="#3434ff"/><stop offset="0.7906" stop-color="#3434ff"/><stop offset="0.8195" stop-color="#4040ff"/><stop offset="0.8339" stop-color="#4a4aff"/><stop offset="0.8448" stop-color="#5656ff"/><stop offset="0.8628" stop-color="#7878ff"/><stop offset="0.8953" stop-color="#d2d2ff"/><stop offset="0.917" stop-color="#fafaff"/><stop offset="0.9278" stop-color="#fffefe"/><stop offset="1" stop-color="#fffefe"/></linearGradient>
<linearGradient id="c124" x1="0" y1="0" x2="0" y2="1"><stop offset="0" stop-color="#9c9cff"/><stop offset="0.1336" stop-color="#9898ff"/><stop offset="0.2383" stop-color="#8c8cff"/><stop offset="0.2599" stop-color="#7c7cff"/><stop offset="0.2888" stop-color="#6060ff"/><stop offset="0.2924" stop-color="#5858ff"/><stop offset="0.296" stop-color="#fffefe"/><stop offset="0.2996" stop-color="#6060ff"/><stop offset="0.5921" stop-color="#6060ff"/><stop offset="0.6498" stop-color="#5c5cff"/><stop offset="0.6968" stop-color="#5656ff"/><stop offset="0.7076" stop-color="#5050ff"/><stop offset="0.7401" stop-color="#3434ff"/><stop offset="0.787" stop-color="#3232ff"/><stop offset="0.8014" stop-color="#3636ff"/><stop offset="0.8231" stop-color="#4242ff"/><stop offset="0.8412" stop-color="#5050ff"/><stop offset="0.8556" stop-color="#6868ff"/><stop offset="0.8664" stop-color="#8080ff"/><stop offset="0.8881" stop-color="#c0c0ff"/><stop offset="0.9025" stop-color="#e0e0ff"/><stop offset="0.917" stop-color="#fafaff"/><stop offset="0.9278" stop-color="#fffefe"/><stop offset="1" stop-color="#fffefe"/></linearGradient>
<linearGradient id="c125" x1="0" y1="0" x2="0" y2="1"><stop offset="0" stop-color="#9e9eff"/><stop offset="0.1083" stop-color="#9c9cff"/><stop offset="0.231" stop-color="#9090ff"/><stop offset="0.2527" stop-color="#8686ff"/><stop offset="0.2888" stop-color="#6464ff"/><stop offset="0.2924" stop-color="#5e5eff"/><stop offset="0.296" stop-color="#fffefe"/><stop offset="0.2996" stop-color="#6464ff"/><stop offset="0.5921" stop-color="#6464ff"/><stop offset="0.6715" stop-color="#5e5eff"/><stop offset="0.7004" stop-color="#5858ff"/><stop offset="0.7401" stop-color="#3838ff"/><stop offset="0.7834" stop-color="#3636ff"/><stop offset="0.8014" stop-color="#3a3aff"/><stop offset="0.8159" stop-color="#4242ff"/><stop offset="0.8303" stop-color="#4a4aff"/><stop offset="0.8448" stop-color="#5858ff"/><stop offset="0.8628" stop-color="#7a7aff"/><stop offset="0.8917" stop-color="#cacaff"/><stop offset="0.9061" stop-color="#e8e8ff"/><stop offset="0.917" stop-color="#fafaff"/><stop offset="0.9278" stop-color="#fffefe"/><stop offset="1" stop-color="#fffefe"/></linearGradient>
<linearGradient id="c126" x1="0" y1="0" x2="0" y2="1"><stop offset="0" stop-color="#a2a2ff"/><stop offset="0.09386" stop-color="#a2a2ff"/><stop offset="0.231" stop-color="#9696ff"/><stop offset="0.2527" stop-color="#8c8cff"/><stop offset="0.2852" stop-color="#6e6eff"/><stop offset="0.2888" stop-color="#6e6eff"/><stop offset="0.2924" stop-color="#6666ff"/><stop offset="0.296" stop-color="#fffefe"/><stop offset="0.2996" stop-color="#6e6eff"/><stop offset="0.556" stop-color="#6e6eff"/><stop offset="0.6643" stop-color="#6868ff"/><stop offset="0.6968" stop-color="#6464ff"/><stop offset="0.7076" stop-color="#5e5eff"/><stop offset="0.7256" stop-color="#4c4cff"/><stop offset="0.7401" stop-color="#4242ff"/><stop offset="0.787" stop-color="#4040ff"/><stop offset="0.8159" stop-color="#4a4aff"/><stop offset="0.8375" stop-color="#5858ff"/><stop offset="0.8448" stop-color="#6060ff"/><stop offset="0.8628" stop-color="#8080ff"/><stop offset="0.8881" stop-color="#c4c4ff"/><stop offset="0.8953" stop-color="#d4d4ff"/><stop offset="0.9061" stop-color="#e8e8ff"/><stop offset="0.9206" stop-color="#fefeff"/><stop offset="1" stop-color="#fffefe"/></linearGradient>
<linearGradient id="c127" x1="0" y1="0" x2="0" y2="1"><stop offset="0" stop-color="#aaaaff"/><stop offset="0.13" stop-color="#a8a8ff"/><stop offset="0.2347" stop-color="#9e9eff"/><stop offset="0.2527" stop-color="#9696ff"/><stop offset="0.2888" stop-color="#7a7aff"/><stop offset="0.2924" stop-color="#7474ff"/><stop offset="0.296" stop-color="#fffefe"/><stop offset="0.2996" stop-color="#7a7aff"/><stop offset="0.5848" stop-color="#7a7aff"/><stop offset="0.6534" stop-color="#7676ff"/><stop offset="0.7004" stop-color="#7070ff"/><stop offset="0.7401" stop-color="#5050ff"/><stop offset="0.787" stop-color="#4e4eff"/><stop offset="0.8051" stop-color="#5252ff"/><stop offset="0.8375" stop-color="#6464ff"/><stop offset="0.8448" stop-color="#6c6cff"/><stop offset="0.8628" stop-color="#8a8aff"/><stop offset="0.8953" stop-color="#d8d8ff"/><stop offset="0.9134" stop-color="#f6f6ff"/><stop offset="0.9206" stop-color="#fefeff"/><stop offset="1" stop-color="#fffefe"/></linearGradient>
<linearGradient id="c128" x1="0" y1="0" x2="0" y2="1"><stop offset="0" stop-color="#b4b4ff"/><stop offset="0.1227" stop-color="#b2b2ff"/><stop offset="0.2274" stop-color="#aaaaff"/><stop offset="0.2527" stop-color="#a2a2ff"/><stop offset="0.2852" stop-color="#8a8aff"/><stop offset="0.2888" stop-color="#8a8aff"/><stop offset="0.2924" stop-color="#8484ff"/><stop offset="0.296" stop-color="#fffefe"/><stop offset="0.2996" stop-color="#8a8aff"/><stop offset="0.574" stop-color="#8a8aff"/><stop offset="0.6823" stop-color="#8484ff"/><stop offset="0.6968" stop-color="#8282ff"/><stop offset="0.7112" stop-color="#7a7aff"/><stop offset="0.7292" stop-color="#6868ff"/><stop offset="0.7437" stop-color="#6060ff"/><stop offset="0.7906" stop-color="#6060ff"/><stop offset="0.8123" stop-color="#6666ff"/><stop offset="0.8448" stop-color="#7a7aff"/><stop offset="0.8664" stop-color="#9c9cff"/><stop offset="0.8953" stop-color="#dcdcff"/><stop offset="0.9097" stop-color="#f2f2ff"/><stop offset="0.9206" stop-color="#fefeff"/><stop offset="1" stop-color="#fffefe"/></linearGradient>
<linearGradient id="c129" x1="0" y1="0" x2="0" y2="1"><stop offset="0" stop-color="#bebeff"/><stop offset="0.08664" stop-color="#bebeff"/><stop offset="0.2238" stop-color="#b6b6ff"/><stop offset="0.2455" stop-color="#b2b2ff"/><stop offset="0.2924" stop-color="#9696ff"/><stop offset="0.296" stop-color="#fffefe"/><stop offset="0.2996" stop-color="#9a9aff"/><stop offset="0.6137" stop-color="#9a9aff"/><stop offset="0.6823" stop-color="#9696ff"/><stop offset="0.7112" stop-color="#8e8eff"/><stop offset="0.7256" stop-color="#7e7eff"/><stop offset="0.7401" stop-color="#7474ff"/><stop offset="0.7942" stop-color="#7474ff"/><stop offset="0.8159" stop-color="#7a7aff"/><stop offset="0.8339" stop-color="#8484ff"/><stop offset="0.8412" stop-color="#8888ff"/><stop offset="0.852" stop-color="#9494ff"/><stop offset="0.8664" stop-color="#a8a8ff"/><stop offset="0.8953" stop-color="#e0e0ff"/><stop offset="0.917" stop-color="#fcfcff"/><stop offset="0.9278" stop-color="#fffefe"/><stop offset="1" stop-color="#fffefe"/></linearGradient>
<linearGradient id="c130" x1="0" y1="0" x2="0" y2="1"><stop offset="0" stop-color="#c8c8ff"/><stop offset="0.1191" stop-color="#c8c8ff"/><stop offset="0.2274" stop-color="#c2c2ff"/><stop offset="0.2491" stop-color="#bebeff"/><stop offset="0.2888" stop-color="#acacff"/><stop offset="0.2924" stop-color="#a8a8ff"/><stop offset="0.296" stop-color="#fffefe"/><stop offset="0.2996" stop-color="#acacff"/><stop offset="0.6029" stop-color="#acacff"/><stop offset="0.6859" stop-color="#a8a8ff"/><stop offset="0.7004" stop-color="#a6a6ff"/><stop offset="0.7148" stop-color="#9e9eff"/><stop offset="0.7365" stop-color="#8a8aff"/><stop offset="0.7942" stop-color="#8888ff"/><stop offset="0.8231" stop-color="#9090ff"/><stop offset="0.8448" stop-color="#9c9cff"/><stop offset="0.8628" stop-color="#b0b0ff"/><stop offset="0.8917" stop-color="#e0e0ff"/><stop offset="0.917" stop-color="#fcfcff"/><stop offset="0.9242" stop-color="#fffefe"/><stop offset="1" stop-color="#fffefe"/></linearGradient>
<linearGradient id="c131" x1="0" y1="0" x2="0" y2="1"><stop offset="0" stop-color="#d4d4ff"/><stop offset="0.2238" stop-color="#ceceff"/><stop offset="0.2635" stop-color="#c6c6ff"/><stop offset="0.2924" stop-color="#babaff"/><stop offset="0.296" stop-color="#fffefe"/><stop offset="0.2996" stop-color="#bcbcff"/><stop offset="0.6823" stop-color="#babaff"/><stop offset="0.7076" stop-color="#b6b6ff"/><stop offset="0.7365" stop-color="#9e9eff"/><stop offset="0.7906" stop-color="#9c9cff"/><stop offset="0.8267" stop-color="#a4a4ff"/><stop offset="0.8412" stop-color="#aaaaff"/><stop offset="0.87" stop-color="#c6c6ff"/><stop offset="0.8845" stop-color="#dcdcff"/><stop offset="0.9061" stop-color="#f4f4ff"/><stop offset="0.9206" stop-color="#fefeff"/><stop offset="1" stop-color="#fffefe"/></linearGradient>
<linearGradient id="c132" x1="0" y1="0" x2="0" y2="1"><stop offset="0" stop-color="#dcdcff"/><stop offset="0.1444" stop-color="#dcdcff"/><stop offset="0.2383" stop-color="#d8d8ff"/><stop offset="0.2924" stop-color="#cacaff"/><stop offset="0.296" stop-color="#fffefe"/><stop offset="0.2996" stop-color="#ccccff"/><stop offset="0.6823" stop-color="#cacaff"/><stop offset="0.704" stop-color="#c8c8ff"/><stop offset="0.7148" stop-color="#c2c2ff"/><stop offset="0.7329" stop-color="#b2b2ff"/><stop offset="0.7401" stop-color="#b0b0ff"/><stop offset="0.7978" stop-color="#b0b0ff"/><stop offset="0.8339" stop-color="#b8b8ff"/><stop offset="0.8556" stop-color="#c4c4ff"/><stop offset="0.8953" stop-color="#eeeeff"/><stop offset="0.917" stop-color="#fefeff"/><stop offset="1" stop-color="#fffefe"/></linearGradient>
<linearGradient id="c133" x1="0" y1="0" x2="0" y2="1"><stop offset="0" stop-color="#e6e6ff"/><stop offset="0.2383" stop-color="#e2e2ff"/><stop offset="0.2924" stop-color="#d8d8ff"/><stop offset="0.296" stop-color="#fffefe"/><stop offset="0.2996" stop-color="#dadaff"/><stop offset="0.6859" stop-color="#d8d8ff"/><stop offset="0.7112" stop-color="#d4d4ff"/><stop offset="0.7365" stop-color="#c2c2ff"/><stop offset="0.8051" stop-color="#c2c2ff"/><stop offset="0.8412" stop-color="#cacaff"/><stop offset="0.8628" stop-color="#d6d6ff"/><stop offset="0.8917" stop-color="#f0f0ff"/><stop offset="0.917" stop-color="#fefeff"/><stop offset="1" stop-color="#fffefe"/></linearGradient>
<linearGradient id="c134" x1="0" y1="0" x2="0" y2="1"><stop offset="0" stop-color="#ececff"/><stop offset="0.1913" stop-color="#ececff"/><stop offset="0.2455" stop-color="#eaeaff"/><stop offset="0.2924" stop-color="#e4e4ff"/><stop offset="0.296" stop-color="#fffefe"/><stop offset="0.2996" stop-color="#e4e4ff"/><stop offset="0.6751" stop-color="#e4e4ff"/><stop offset="0.7076" stop-color="#e2e2ff"/><stop offset="0.7292" stop-color="#d4d4ff"/><stop offset="0.7401" stop-color="#d0d0ff"/><stop offset="0.7942" stop-color="#d0d0ff"/><stop offset="0.8448" stop-color="#d8d8ff"/><stop offset="0.9134" stop-color="#fefeff"/><stop offset="1" stop-color="#fffefe"/></linearGradient>
<linearGradient id="c135" x1="0" y1="0" x2="0" y2="1"><stop offset="0" stop-color="#f4f4ff"/><stop offset="0.2383" stop-color="#f2f2ff"/><stop offset="0.2924" stop-color="#ececff"/><stop offset="0.296" stop-color="#fffcfc"/><stop offset="0.2996" stop-color="#eeeeff"/><stop offset="0.6498" stop-color="#eeeeff"/><stop offset="0.7076" stop-color="#ececff"/><stop offset="0.7365" stop-color="#dedeff"/><stop offset="0.8087" stop-color="#dedeff"/><stop offset="0.8484" stop-color="#e4e4ff"/><stop offset="0.9061" stop-color="#fefeff"/><stop offset="0.9242" stop-color="#fffcfc"/><stop offset="1" stop-color="#fffcfc"/></linearGradient>
<linearGradient id="c136" x1="0" y1="0" x2="0" y2="1"><stop offset="0" stop-color="#f8f8ff"/><stop offset="0.2455" stop-color="#f8f8ff"/><stop offset="0.2924" stop-color="#f4f4ff"/><stop offset="0.296" stop-color="#fffcfc"/><stop offset="0.2996" stop-color="#f6f6ff"/><stop offset="0.7076" stop-color="#f4f4ff"/><stop offset="0.7401" stop-color="#e8e8ff"/><stop offset="0.7942" stop-color="#e8e8ff"/><stop offset="0.852" stop-color="#eeeeff"/><stop offset="0.8989" stop-color="#fefeff"/><stop offset="0.9134" stop-color="#fffcfc"/><stop offset="1" stop-color="#fffcfc"/></linearGradient>
<linearGradient id="c137" x1="0" y1="0" x2="0" y2="1"><stop offset="0" stop-color="#fefeff"/><stop offset="0.1552" stop-color="#fefeff"/><stop offset="0.2924" stop-color="#fafaff"/><stop offset="0.296" stop-color="#fffafa"/><stop offset="0.2996" stop-color="#fcfcff"/><stop offset="0.6209" stop-color="#fcfcff"/><stop offset="0.7112" stop-color="#fafaff"/><stop offset="0.7329" stop-color="#f2f2ff"/><stop offset="0.8195" stop-color="#f2f2ff"/><stop offset="0.8448" stop-color="#f4f4ff"/><stop offset="0.8845" stop-color="#fefeff"/><stop offset="0.917" stop-color="#fffafa"/><stop offset="1" stop-color="#fffafa"/></linearGradient>
<linearGradient id="c138" x1="0" y1="0" x2="0" y2="1"><stop offset="0" stop-color="#fffcfc"/><stop offset="0.2924" stop-color="#fffefe"/><stop offset="0.296" stop-color="#fff8f8"/><stop offset="0.2996" stop-color="#fffefe"/><stop offset="0.7076" stop-color="#fffefe"/><stop offset="0.7292" stop-color="#fafaff"/><stop offset="0.8412" stop-color="#fafaff"/><stop offset="0.87" stop-color="#fefeff"/><stop offset="0.917" stop-color="#fff8f8"/><stop offset="1" stop-color="#fff8f8"/></linearGradient>
<linearGradient id="c139" x1="0" y1="0" x2="0" y2="1"><stop offset="0" stop-color="#fffafa"/><stop offset="0.2924" stop-color="#fffafa"/><stop offset="0.296" stop-color="#fff6f6"/><stop offset="0.2996" stop-color="#fffafa"/><stop offset="0.7076" stop-color="#fffafa"/><stop offset="0.7365" stop-color="#fefeff"/><stop offset="0.8051" stop-color="#fefeff"/><stop offset="0.8556" stop-color="#fffefe"/><stop offset="0.9242" stop-color="#fff6f6"/><stop offset="1" stop-color="#fff6f6"/></linearGradient>
<linearGradient id="c140" x1="0" y1="0" x2="0" y2="1"><stop offset="0" stop-color="#fff8f8"/><stop offset="0.7184" stop-color="#fff8f8"/><stop offset="0.7401" stop-color="#fffcfc"/><stop offset="0.7942" stop-color="#fffcfc"/><stop offset="0.8664" stop-color="#fffafa"/><stop offset="0.8953" stop-color="#fff6f6"/><stop offset="1" stop-color="#fff6f6"/></linearGradient>
<linearGradient id="c141" x1="0" y1="0" x2="0" y2="1"><stop offset="0" stop-color="#fff6f6"/><stop offset="0.296" stop-color="#fff4f4"/><stop offset="0.8664" stop-color="#fff8f8"/><stop offset="0.9206" stop-color="#fff4f4"/><stop offset="1" stop-color="#fff4f4"/></linearGradient>
<linearGradient id="c142" x1="0" y1="0" x2="0" y2="1"><stop offset="0" stop-color="#fff6f6"/><stop offset="1" stop-color="#fff4f4"/></linearGradient>
<linearGradient id="c143" x1="0" y1="0" x2="0" y2="1"><stop offset="0" stop-color="#fff6f6"/><stop offset="1" stop-color="#fff6f6"/></linearGradient>
<clipPath id="clipA"><rect x="82.5" y="22.0" width="288.1" height="276.8"/></clipPath>
<clipPath id="clipC"><rect x="82.5" y="393.3" width="288.1" height="276.8"/></clipPath>
<linearGradient id="cba" x1="0" y1="0" x2="0" y2="1"><stop offset="0.0000" stop-color="#1c108e"/><stop offset="0.0435" stop-color="#321299"/><stop offset="0.0870" stop-color="#4413a3"/><stop offset="0.1304" stop-color="#5514b0"/><stop offset="0.1739" stop-color="#6515b9"/><stop offset="0.2174" stop-color="#7517be"/><stop offset="0.2609" stop-color="#851bbf"/><stop offset="0.3043" stop-color="#9420bb"/><stop offset="0.3478" stop-color="#a128b1"/><stop offset="0.3913" stop-color="#ad32a2"/><stop offset="0.4348" stop-color="#b83d94"/><stop offset="0.4783" stop-color="#c14886"/><stop offset="0.5217" stop-color="#c95378"/><stop offset="0.5652" stop-color="#d15e6e"/><stop offset="0.6087" stop-color="#d96a64"/><stop offset="0.6522" stop-color="#e0765a"/><stop offset="0.6957" stop-color="#e68350"/><stop offset="0.7391" stop-color="#ea9048"/><stop offset="0.7826" stop-color="#ed9d42"/><stop offset="0.8261" stop-color="#eeac3e"/><stop offset="0.8696" stop-color="#efbc3a"/><stop offset="0.9130" stop-color="#efcf38"/><stop offset="0.9565" stop-color="#eee43a"/><stop offset="1.0000" stop-color="#e6fb3e"/></linearGradient>
<linearGradient id="cbc" x1="0" y1="0" x2="0" y2="1"><stop offset="0.0000" stop-color="#ff0000"/><stop offset="0.0435" stop-color="#ff1616"/><stop offset="0.0870" stop-color="#ff2c2c"/><stop offset="0.1304" stop-color="#ff4242"/><stop offset="0.1739" stop-color="#ff5858"/><stop offset="0.2174" stop-color="#ff6e6e"/><stop offset="0.2609" stop-color="#ff8484"/><stop offset="0.3043" stop-color="#ff9a9a"/><stop offset="0.3478" stop-color="#ffb2b2"/><stop offset="0.3913" stop-color="#ffc8c8"/><stop offset="0.4348" stop-color="#ffdede"/><stop offset="0.4783" stop-color="#fff4f4"/><stop offset="0.5217" stop-color="#f4f4ff"/><stop offset="0.5652" stop-color="#dedeff"/><stop offset="0.6087" stop-color="#c8c8ff"/><stop offset="0.6522" stop-color="#b2b2ff"/><stop offset="0.6957" stop-color="#9a9aff"/><stop offset="0.7391" stop-color="#8484ff"/><stop offset="0.7826" stop-color="#6e6eff"/><stop offset="0.8261" stop-color="#5858ff"/><stop offset="0.8696" stop-color="#4242ff"/><stop offset="0.9130" stop-color="#2c2cff"/><stop offset="0.9565" stop-color="#1616ff"/><stop offset="1.0000" stop-color="#0000ff"/></linearGradient>
<clipPath id="clipB"><rect x="512.6" y="22.7" width="159.7" height="276.4"/></clipPath>
<clipPath id="clipD"><rect x="512.6" y="393.4" width="159.7" height="276.4"/></clipPath></defs>
<rect width="685" height="719" fill="#fff"/>
<g clip-path="url(#clipA)" shape-rendering="crispEdges"><rect x="82" y="22.0" width="2" height="277.0" fill="url(#a0)"/><rect x="84" y="22.0" width="2" height="277.0" fill="url(#a1)"/><rect x="86" y="22.0" width="2" height="277.0" fill="url(#a2)"/><rect x="88" y="22.0" width="2" height="277.0" fill="url(#a3)"/><rect x="90" y="22.0" width="2" height="277.0" fill="url(#a4)"/><rect x="92" y="22.0" width="2" height="277.0" fill="url(#a5)"/><rect x="94" y="22.0" width="2" height="277.0" fill="url(#a6)"/><rect x="96" y="22.0" width="2" height="277.0" fill="url(#a7)"/><rect x="98" y="22.0" width="2" height="277.0" fill="url(#a8)"/><rect x="100" y="22.0" width="2" height="277.0" fill="url(#a9)"/><rect x="102" y="22.0" width="2" height="277.0" fill="url(#a10)"/><rect x="104" y="22.0" width="2" height="277.0" fill="url(#a11)"/><rect x="106" y="22.0" width="2" height="277.0" fill="url(#a12)"/><rect x="108" y="22.0" width="2" height="277.0" fill="url(#a13)"/><rect x="110" y="22.0" width="2" height="277.0" fill="url(#a14)"/><rect x="112" y="22.0" width="2" height="277.0" fill="url(#a15)"/><rect x="114" y="22.0" width="2" height="277.0" fill="url(#a16)"/><rect x="116" y="22.0" width="2" height="277.0" fill="url(#a17)"/><rect x="118" y="22.0" width="2" height="277.0" fill="url(#a18)"/><rect x="120" y="22.0" width="2" height="277.0" fill="url(#a19)"/><rect x="122" y="22.0" width="2" height="277.0" fill="url(#a20)"/><rect x="124" y="22.0" width="2" height="277.0" fill="url(#a21)"/><rect x="126" y="22.0" width="2" height="277.0" fill="url(#a22)"/><rect x="128" y="22.0" width="2" height="277.0" fill="url(#a23)"/><rect x="130" y="22.0" width="2" height="277.0" fill="url(#a24)"/><rect x="132" y="22.0" width="2" height="277.0" fill="url(#a25)"/><rect x="134" y="22.0" width="2" height="277.0" fill="url(#a26)"/><rect x="136" y="22.0" width="2" height="277.0" fill="url(#a27)"/><rect x="138" y="22.0" width="2" height="277.0" fill="url(#a28)"/><rect x="140" y="22.0" width="2" height="277.0" fill="url(#a29)"/><rect x="142" y="22.0" width="2" height="277.0" fill="url(#a30)"/><rect x="144" y="22.0" width="2" height="277.0" fill="url(#a31)"/><rect x="146" y="22.0" width="2" height="277.0" fill="url(#a32)"/><rect x="148" y="22.0" width="2" height="277.0" fill="url(#a33)"/><rect x="150" y="22.0" width="2" height="277.0" fill="url(#a34)"/><rect x="152" y="22.0" width="2" height="277.0" fill="url(#a35)"/><rect x="154" y="22.0" width="2" height="277.0" fill="url(#a36)"/><rect x="156" y="22.0" width="2" height="277.0" fill="url(#a37)"/><rect x="158" y="22.0" width="2" height="277.0" fill="url(#a38)"/><rect x="160" y="22.0" width="2" height="277.0" fill="url(#a39)"/><rect x="162" y="22.0" width="2" height="277.0" fill="url(#a40)"/><rect x="164" y="22.0" width="2" height="277.0" fill="url(#a41)"/><rect x="166" y="22.0" width="2" height="277.0" fill="url(#a42)"/><rect x="168" y="22.0" width="2" height="277.0" fill="url(#a43)"/><rect x="170" y="22.0" width="2" height="277.0" fill="url(#a44)"/><rect x="172" y="22.0" width="2" height="277.0" fill="url(#a45)"/><rect x="174" y="22.0" width="2" height="277.0" fill="url(#a46)"/><rect x="176" y="22.0" width="2" height="277.0" fill="url(#a47)"/><rect x="178" y="22.0" width="2" height="277.0" fill="url(#a48)"/><rect x="180" y="22.0" width="2" height="277.0" fill="url(#a49)"/><rect x="182" y="22.0" width="2" height="277.0" fill="url(#a50)"/><rect x="184" y="22.0" width="2" height="277.0" fill="url(#a51)"/><rect x="186" y="22.0" width="2" height="277.0" fill="url(#a52)"/><rect x="188" y="22.0" width="2" height="277.0" fill="url(#a53)"/><rect x="190" y="22.0" width="2" height="277.0" fill="url(#a54)"/><rect x="192" y="22.0" width="2" height="277.0" fill="url(#a55)"/><rect x="194" y="22.0" width="2" height="277.0" fill="url(#a56)"/><rect x="196" y="22.0" width="2" height="277.0" fill="url(#a57)"/><rect x="198" y="22.0" width="2" height="277.0" fill="url(#a58)"/><rect x="200" y="22.0" width="2" height="277.0" fill="url(#a59)"/><rect x="202" y="22.0" width="2" height="277.0" fill="url(#a60)"/><rect x="204" y="22.0" width="2" height="277.0" fill="url(#a61)"/><rect x="206" y="22.0" width="2" height="277.0" fill="url(#a62)"/><rect x="208" y="22.0" width="2" height="277.0" fill="url(#a63)"/><rect x="210" y="22.0" width="2" height="277.0" fill="url(#a64)"/><rect x="212" y="22.0" width="2" height="277.0" fill="url(#a65)"/><rect x="214" y="22.0" width="2" height="277.0" fill="url(#a66)"/><rect x="216" y="22.0" width="2" height="277.0" fill="url(#a67)"/><rect x="218" y="22.0" width="2" height="277.0" fill="url(#a68)"/><rect x="220" y="22.0" width="2" height="277.0" fill="url(#a69)"/><rect x="222" y="22.0" width="2" height="277.0" fill="url(#a70)"/><rect x="224" y="22.0" width="2" height="277.0" fill="url(#a71)"/><rect x="228" y="22.0" width="2" height="277.0" fill="url(#a72)"/><rect x="230" y="22.0" width="2" height="277.0" fill="url(#a73)"/><rect x="232" y="22.0" width="2" height="277.0" fill="url(#a74)"/><rect x="234" y="22.0" width="2" height="277.0" fill="url(#a75)"/><rect x="236" y="22.0" width="2" height="277.0" fill="url(#a76)"/><rect x="238" y="22.0" width="2" height="277.0" fill="url(#a77)"/><rect x="240" y="22.0" width="2" height="277.0" fill="url(#a78)"/><rect x="242" y="22.0" width="2" height="277.0" fill="url(#a79)"/><rect x="244" y="22.0" width="2" height="277.0" fill="url(#a80)"/><rect x="246" y="22.0" width="2" height="277.0" fill="url(#a81)"/><rect x="248" y="22.0" width="2" height="277.0" fill="url(#a82)"/><rect x="250" y="22.0" width="2" height="277.0" fill="url(#a83)"/><rect x="252" y="22.0" width="2" height="277.0" fill="url(#a84)"/><rect x="254" y="22.0" width="2" height="277.0" fill="url(#a85)"/><rect x="256" y="22.0" width="2" height="277.0" fill="url(#a86)"/><rect x="258" y="22.0" width="2" height="277.0" fill="url(#a87)"/><rect x="260" y="22.0" width="2" height="277.0" fill="url(#a88)"/><rect x="262" y="22.0" width="2" height="277.0" fill="url(#a89)"/><rect x="264" y="22.0" width="2" height="277.0" fill="url(#a90)"/><rect x="266" y="22.0" width="2" height="277.0" fill="url(#a91)"/><rect x="268" y="22.0" width="2" height="277.0" fill="url(#a92)"/><rect x="270" y="22.0" width="2" height="277.0" fill="url(#a93)"/><rect x="272" y="22.0" width="2" height="277.0" fill="url(#a94)"/><rect x="274" y="22.0" width="2" height="277.0" fill="url(#a95)"/><rect x="276" y="22.0" width="2" height="277.0" fill="url(#a96)"/><rect x="278" y="22.0" width="2" height="277.0" fill="url(#a97)"/><rect x="280" y="22.0" width="2" height="277.0" fill="url(#a98)"/><rect x="282" y="22.0" width="2" height="277.0" fill="url(#a99)"/><rect x="284" y="22.0" width="2" height="277.0" fill="url(#a100)"/><rect x="286" y="22.0" width="2" height="277.0" fill="url(#a101)"/><rect x="288" y="22.0" width="2" height="277.0" fill="url(#a102)"/><rect x="290" y="22.0" width="2" height="277.0" fill="url(#a103)"/><rect x="292" y="22.0" width="2" height="277.0" fill="url(#a104)"/><rect x="294" y="22.0" width="2" height="277.0" fill="url(#a105)"/><rect x="296" y="22.0" width="2" height="277.0" fill="url(#a106)"/><rect x="298" y="22.0" width="2" height="277.0" fill="url(#a107)"/><rect x="300" y="22.0" width="2" height="277.0" fill="url(#a108)"/><rect x="302" y="22.0" width="2" height="277.0" fill="url(#a109)"/><rect x="304" y="22.0" width="2" height="277.0" fill="url(#a110)"/><rect x="306" y="22.0" width="2" height="277.0" fill="url(#a111)"/><rect x="308" y="22.0" width="2" height="277.0" fill="url(#a112)"/><rect x="310" y="22.0" width="2" height="277.0" fill="url(#a113)"/><rect x="312" y="22.0" width="2" height="277.0" fill="url(#a114)"/><rect x="314" y="22.0" width="2" height="277.0" fill="url(#a115)"/><rect x="316" y="22.0" width="2" height="277.0" fill="url(#a116)"/><rect x="318" y="22.0" width="2" height="277.0" fill="url(#a117)"/><rect x="320" y="22.0" width="2" height="277.0" fill="url(#a118)"/><rect x="322" y="22.0" width="2" height="277.0" fill="url(#a119)"/><rect x="324" y="22.0" width="2" height="277.0" fill="url(#a120)"/><rect x="326" y="22.0" width="2" height="277.0" fill="url(#a121)"/><rect x="328" y="22.0" width="2" height="277.0" fill="url(#a122)"/><rect x="330" y="22.0" width="2" height="277.0" fill="url(#a123)"/><rect x="332" y="22.0" width="2" height="277.0" fill="url(#a124)"/><rect x="334" y="22.0" width="2" height="277.0" fill="url(#a125)"/><rect x="336" y="22.0" width="2" height="277.0" fill="url(#a126)"/><rect x="338" y="22.0" width="2" height="277.0" fill="url(#a127)"/><rect x="340" y="22.0" width="2" height="277.0" fill="url(#a128)"/><rect x="342" y="22.0" width="2" height="277.0" fill="url(#a129)"/><rect x="344" y="22.0" width="2" height="277.0" fill="url(#a130)"/><rect x="346" y="22.0" width="2" height="277.0" fill="url(#a131)"/><rect x="348" y="22.0" width="2" height="277.0" fill="url(#a132)"/><rect x="350" y="22.0" width="2" height="277.0" fill="url(#a133)"/><rect x="352" y="22.0" width="2" height="277.0" fill="url(#a134)"/><rect x="354" y="22.0" width="2" height="277.0" fill="url(#a135)"/><rect x="356" y="22.0" width="2" height="277.0" fill="url(#a136)"/><rect x="358" y="22.0" width="2" height="277.0" fill="url(#a137)"/><rect x="360" y="22.0" width="2" height="277.0" fill="url(#a138)"/><rect x="362" y="22.0" width="2" height="277.0" fill="url(#a139)"/><rect x="364" y="22.0" width="2" height="277.0" fill="url(#a140)"/><rect x="366" y="22.0" width="2" height="277.0" fill="url(#a141)"/><rect x="368" y="22.0" width="2" height="277.0" fill="url(#a142)"/><rect x="370" y="22.0" width="2" height="277.0" fill="url(#a143)"/></g>
<g clip-path="url(#clipC)" shape-rendering="crispEdges"><rect x="82" y="393.3" width="2" height="277.0" fill="url(#c0)"/><rect x="84" y="393.3" width="2" height="277.0" fill="url(#c1)"/><rect x="86" y="393.3" width="2" height="277.0" fill="url(#c2)"/><rect x="88" y="393.3" width="2" height="277.0" fill="url(#c3)"/><rect x="90" y="393.3" width="2" height="277.0" fill="url(#c4)"/><rect x="92" y="393.3" width="2" height="277.0" fill="url(#c5)"/><rect x="94" y="393.3" width="2" height="277.0" fill="url(#c6)"/><rect x="96" y="393.3" width="2" height="277.0" fill="url(#c7)"/><rect x="98" y="393.3" width="2" height="277.0" fill="url(#c8)"/><rect x="100" y="393.3" width="2" height="277.0" fill="url(#c9)"/><rect x="102" y="393.3" width="2" height="277.0" fill="url(#c10)"/><rect x="104" y="393.3" width="2" height="277.0" fill="url(#c11)"/><rect x="106" y="393.3" width="2" height="277.0" fill="url(#c12)"/><rect x="108" y="393.3" width="2" height="277.0" fill="url(#c13)"/><rect x="110" y="393.3" width="2" height="277.0" fill="url(#c14)"/><rect x="112" y="393.3" width="2" height="277.0" fill="url(#c15)"/><rect x="114" y="393.3" width="2" height="277.0" fill="url(#c16)"/><rect x="116" y="393.3" width="2" height="277.0" fill="url(#c17)"/><rect x="118" y="393.3" width="2" height="277.0" fill="url(#c18)"/><rect x="120" y="393.3" width="2" height="277.0" fill="url(#c19)"/><rect x="122" y="393.3" width="2" height="277.0" fill="url(#c20)"/><rect x="124" y="393.3" width="2" height="277.0" fill="url(#c21)"/><rect x="126" y="393.3" width="2" height="277.0" fill="url(#c22)"/><rect x="128" y="393.3" width="2" height="277.0" fill="url(#c23)"/><rect x="130" y="393.3" width="2" height="277.0" fill="url(#c24)"/><rect x="132" y="393.3" width="2" height="277.0" fill="url(#c25)"/><rect x="134" y="393.3" width="2" height="277.0" fill="url(#c26)"/><rect x="136" y="393.3" width="2" height="277.0" fill="url(#c27)"/><rect x="138" y="393.3" width="2" height="277.0" fill="url(#c28)"/><rect x="140" y="393.3" width="2" height="277.0" fill="url(#c29)"/><rect x="142" y="393.3" width="2" height="277.0" fill="url(#c30)"/><rect x="144" y="393.3" width="2" height="277.0" fill="url(#c31)"/><rect x="146" y="393.3" width="2" height="277.0" fill="url(#c32)"/><rect x="148" y="393.3" width="2" height="277.0" fill="url(#c33)"/><rect x="150" y="393.3" width="2" height="277.0" fill="url(#c34)"/><rect x="152" y="393.3" width="2" height="277.0" fill="url(#c35)"/><rect x="154" y="393.3" width="2" height="277.0" fill="url(#c36)"/><rect x="156" y="393.3" width="2" height="277.0" fill="url(#c37)"/><rect x="158" y="393.3" width="2" height="277.0" fill="url(#c38)"/><rect x="160" y="393.3" width="2" height="277.0" fill="url(#c39)"/><rect x="162" y="393.3" width="2" height="277.0" fill="url(#c40)"/><rect x="164" y="393.3" width="2" height="277.0" fill="url(#c41)"/><rect x="166" y="393.3" width="2" height="277.0" fill="url(#c42)"/><rect x="168" y="393.3" width="2" height="277.0" fill="url(#c43)"/><rect x="170" y="393.3" width="2" height="277.0" fill="url(#c44)"/><rect x="172" y="393.3" width="2" height="277.0" fill="url(#c45)"/><rect x="174" y="393.3" width="2" height="277.0" fill="url(#c46)"/><rect x="176" y="393.3" width="2" height="277.0" fill="url(#c47)"/><rect x="178" y="393.3" width="2" height="277.0" fill="url(#c48)"/><rect x="180" y="393.3" width="2" height="277.0" fill="url(#c49)"/><rect x="182" y="393.3" width="2" height="277.0" fill="url(#c50)"/><rect x="184" y="393.3" width="2" height="277.0" fill="url(#c51)"/><rect x="186" y="393.3" width="2" height="277.0" fill="url(#c52)"/><rect x="188" y="393.3" width="2" height="277.0" fill="url(#c53)"/><rect x="190" y="393.3" width="2" height="277.0" fill="url(#c54)"/><rect x="192" y="393.3" width="2" height="277.0" fill="url(#c55)"/><rect x="194" y="393.3" width="2" height="277.0" fill="url(#c56)"/><rect x="196" y="393.3" width="2" height="277.0" fill="url(#c57)"/><rect x="198" y="393.3" width="2" height="277.0" fill="url(#c58)"/><rect x="200" y="393.3" width="2" height="277.0" fill="url(#c59)"/><rect x="202" y="393.3" width="2" height="277.0" fill="url(#c60)"/><rect x="204" y="393.3" width="2" height="277.0" fill="url(#c61)"/><rect x="206" y="393.3" width="2" height="277.0" fill="url(#c62)"/><rect x="208" y="393.3" width="2" height="277.0" fill="url(#c63)"/><rect x="210" y="393.3" width="2" height="277.0" fill="url(#c64)"/><rect x="212" y="393.3" width="2" height="277.0" fill="url(#c65)"/><rect x="214" y="393.3" width="2" height="277.0" fill="url(#c66)"/><rect x="216" y="393.3" width="2" height="277.0" fill="url(#c67)"/><rect x="218" y="393.3" width="2" height="277.0" fill="url(#c68)"/><rect x="220" y="393.3" width="2" height="277.0" fill="url(#c69)"/><rect x="222" y="393.3" width="2" height="277.0" fill="url(#c70)"/><rect x="224" y="393.3" width="2" height="277.0" fill="url(#c71)"/><rect x="228" y="393.3" width="2" height="277.0" fill="url(#c72)"/><rect x="230" y="393.3" width="2" height="277.0" fill="url(#c73)"/><rect x="232" y="393.3" width="2" height="277.0" fill="url(#c74)"/><rect x="234" y="393.3" width="2" height="277.0" fill="url(#c75)"/><rect x="236" y="393.3" width="2" height="277.0" fill="url(#c76)"/><rect x="238" y="393.3" width="2" height="277.0" fill="url(#c77)"/><rect x="240" y="393.3" width="2" height="277.0" fill="url(#c78)"/><rect x="242" y="393.3" width="2" height="277.0" fill="url(#c79)"/><rect x="244" y="393.3" width="2" height="277.0" fill="url(#c80)"/><rect x="246" y="393.3" width="2" height="277.0" fill="url(#c81)"/><rect x="248" y="393.3" width="2" height="277.0" fill="url(#c82)"/><rect x="250" y="393.3" width="2" height="277.0" fill="url(#c83)"/><rect x="252" y="393.3" width="2" height="277.0" fill="url(#c84)"/><rect x="254" y="393.3" width="2" height="277.0" fill="url(#c85)"/><rect x="256" y="393.3" width="2" height="277.0" fill="url(#c86)"/><rect x="258" y="393.3" width="2" height="277.0" fill="url(#c87)"/><rect x="260" y="393.3" width="2" height="277.0" fill="url(#c88)"/><rect x="262" y="393.3" width="2" height="277.0" fill="url(#c89)"/><rect x="264" y="393.3" width="2" height="277.0" fill="url(#c90)"/><rect x="266" y="393.3" width="2" height="277.0" fill="url(#c91)"/><rect x="268" y="393.3" width="2" height="277.0" fill="url(#c92)"/><rect x="270" y="393.3" width="2" height="277.0" fill="url(#c93)"/><rect x="272" y="393.3" width="2" height="277.0" fill="url(#c94)"/><rect x="274" y="393.3" width="2" height="277.0" fill="url(#c95)"/><rect x="276" y="393.3" width="2" height="277.0" fill="url(#c96)"/><rect x="278" y="393.3" width="2" height="277.0" fill="url(#c97)"/><rect x="280" y="393.3" width="2" height="277.0" fill="url(#c98)"/><rect x="282" y="393.3" width="2" height="277.0" fill="url(#c99)"/><rect x="284" y="393.3" width="2" height="277.0" fill="url(#c100)"/><rect x="286" y="393.3" width="2" height="277.0" fill="url(#c101)"/><rect x="288" y="393.3" width="2" height="277.0" fill="url(#c102)"/><rect x="290" y="393.3" width="2" height="277.0" fill="url(#c103)"/><rect x="292" y="393.3" width="2" height="277.0" fill="url(#c104)"/><rect x="294" y="393.3" width="2" height="277.0" fill="url(#c105)"/><rect x="296" y="393.3" width="2" height="277.0" fill="url(#c106)"/><rect x="298" y="393.3" width="2" height="277.0" fill="url(#c107)"/><rect x="300" y="393.3" width="2" height="277.0" fill="url(#c108)"/><rect x="302" y="393.3" width="2" height="277.0" fill="url(#c109)"/><rect x="304" y="393.3" width="2" height="277.0" fill="url(#c110)"/><rect x="306" y="393.3" width="2" height="277.0" fill="url(#c111)"/><rect x="308" y="393.3" width="2" height="277.0" fill="url(#c112)"/><rect x="310" y="393.3" width="2" height="277.0" fill="url(#c113)"/><rect x="312" y="393.3" width="2" height="277.0" fill="url(#c114)"/><rect x="314" y="393.3" width="2" height="277.0" fill="url(#c115)"/><rect x="316" y="393.3" width="2" height="277.0" fill="url(#c116)"/><rect x="318" y="393.3" width="2" height="277.0" fill="url(#c117)"/><rect x="320" y="393.3" width="2" height="277.0" fill="url(#c118)"/><rect x="322" y="393.3" width="2" height="277.0" fill="url(#c119)"/><rect x="324" y="393.3" width="2" height="277.0" fill="url(#c120)"/><rect x="326" y="393.3" width="2" height="277.0" fill="url(#c121)"/><rect x="328" y="393.3" width="2" height="277.0" fill="url(#c122)"/><rect x="330" y="393.3" width="2" height="277.0" fill="url(#c123)"/><rect x="332" y="393.3" width="2" height="277.0" fill="url(#c124)"/><rect x="334" y="393.3" width="2" height="277.0" fill="url(#c125)"/><rect x="336" y="393.3" width="2" height="277.0" fill="url(#c126)"/><rect x="338" y="393.3" width="2" height="277.0" fill="url(#c127)"/><rect x="340" y="393.3" width="2" height="277.0" fill="url(#c128)"/><rect x="342" y="393.3" width="2" height="277.0" fill="url(#c129)"/><rect x="344" y="393.3" width="2" height="277.0" fill="url(#c130)"/><rect x="346" y="393.3" width="2" height="277.0" fill="url(#c131)"/><rect x="348" y="393.3" width="2" height="277.0" fill="url(#c132)"/><rect x="350" y="393.3" width="2" height="277.0" fill="url(#c133)"/><rect x="352" y="393.3" width="2" height="277.0" fill="url(#c134)"/><rect x="354" y="393.3" width="2" height="277.0" fill="url(#c135)"/><rect x="356" y="393.3" width="2" height="277.0" fill="url(#c136)"/><rect x="358" y="393.3" width="2" height="277.0" fill="url(#c137)"/><rect x="360" y="393.3" width="2" height="277.0" fill="url(#c138)"/><rect x="362" y="393.3" width="2" height="277.0" fill="url(#c139)"/><rect x="364" y="393.3" width="2" height="277.0" fill="url(#c140)"/><rect x="366" y="393.3" width="2" height="277.0" fill="url(#c141)"/><rect x="368" y="393.3" width="2" height="277.0" fill="url(#c142)"/><rect x="370" y="393.3" width="2" height="277.0" fill="url(#c143)"/></g>
<rect x="46.7" y="22.0" width="12.9" height="276.3" fill="url(#cba)" stroke="#666" stroke-width="0.6"/>
<rect x="46.7" y="393.3" width="12.9" height="276.3" fill="url(#cbc)" stroke="#666" stroke-width="0.6"/>
<rect x="224.1" y="22.0" width="4.8" height="276.8" fill="#fff"/>
<rect x="82.5" y="102.5" width="289.1" height="4.7" fill="#fff"/>
<line x1="82.50" y1="260.30" x2="370.60" y2="260.30" stroke="#111" stroke-width="1" />
<line x1="82.80" y1="23.40" x2="370.60" y2="23.40" stroke="#984ea3" stroke-width="2" stroke-dasharray="7.4 6.9"/>
<path d="M68.8 17.5 L80.3 23.4 L68.8 29.3 Z" fill="#984ea3"/>
<line x1="82.80" y1="239.90" x2="370.60" y2="239.90" stroke="#4daf4a" stroke-width="2" stroke-dasharray="7.4 6.9"/>
<path d="M68.8 234.0 L80.3 239.9 L68.8 245.8 Z" fill="#4daf4a"/>
<line x1="82.80" y1="254.50" x2="370.60" y2="254.50" stroke="#377eb8" stroke-width="2" stroke-dasharray="7.4 6.9"/>
<path d="M68.8 248.6 L80.3 254.5 L68.8 260.4 Z" fill="#377eb8"/>
<line x1="82.80" y1="297.60" x2="370.60" y2="297.60" stroke="#e41a2c" stroke-width="2" stroke-dasharray="7.4 6.9"/>
<path d="M68.8 291.7 L80.3 297.6 L68.8 303.5 Z" fill="#e41a2c"/>
<line x1="219.20" y1="292.60" x2="222.40" y2="292.60" stroke="#111" stroke-width="1.3" />
<path d="M82.5 298.8 V22.0 H370.6 V298.8" fill="none" stroke="#111" stroke-width="1"/>
<line x1="82.50" y1="298.80" x2="223.10" y2="298.80" stroke="#111" stroke-width="1" />
<line x1="229.90" y1="298.80" x2="370.60" y2="298.80" stroke="#111" stroke-width="1" />
<line x1="221.50" y1="302.50" x2="226.50" y2="295.10" stroke="#111" stroke-width="0.9" />
<line x1="226.50" y1="302.50" x2="231.50" y2="295.10" stroke="#111" stroke-width="0.9" />
<line x1="367.00" y1="105.00" x2="374.60" y2="100.30" stroke="#111" stroke-width="0.9" />
<line x1="367.00" y1="110.30" x2="374.60" y2="105.60" stroke="#111" stroke-width="0.9" />
<line x1="82.60" y1="298.80" x2="82.60" y2="301.00" stroke="#111" stroke-width="1" />
<line x1="102.90" y1="298.80" x2="102.90" y2="302.80" stroke="#111" stroke-width="1" />
<line x1="123.20" y1="298.80" x2="123.20" y2="301.00" stroke="#111" stroke-width="1" />
<line x1="143.50" y1="298.80" x2="143.50" y2="302.80" stroke="#111" stroke-width="1" />
<line x1="163.80" y1="298.80" x2="163.80" y2="301.00" stroke="#111" stroke-width="1" />
<line x1="184.10" y1="298.80" x2="184.10" y2="302.80" stroke="#111" stroke-width="1" />
<line x1="204.40" y1="298.80" x2="204.40" y2="301.00" stroke="#111" stroke-width="1" />
<line x1="248.60" y1="298.80" x2="248.60" y2="301.00" stroke="#111" stroke-width="1" />
<line x1="268.90" y1="298.80" x2="268.90" y2="302.80" stroke="#111" stroke-width="1" />
<line x1="289.20" y1="298.80" x2="289.20" y2="301.00" stroke="#111" stroke-width="1" />
<line x1="309.50" y1="298.80" x2="309.50" y2="302.80" stroke="#111" stroke-width="1" />
<line x1="329.80" y1="298.80" x2="329.80" y2="301.00" stroke="#111" stroke-width="1" />
<line x1="350.10" y1="298.80" x2="350.10" y2="302.80" stroke="#111" stroke-width="1" />
<line x1="370.40" y1="298.80" x2="370.40" y2="301.00" stroke="#111" stroke-width="1" />
<text x="101.3" y="317.2" text-anchor="middle" font-size="13.5" fill="#1a1a1a" >-420</text>
<text x="141.9" y="317.2" text-anchor="middle" font-size="13.5" fill="#1a1a1a" >-400</text>
<text x="182.5" y="317.2" text-anchor="middle" font-size="13.5" fill="#1a1a1a" >-380</text>
<text x="268.9" y="317.2" text-anchor="middle" font-size="13.5" fill="#1a1a1a" >380</text>
<text x="309.5" y="317.2" text-anchor="middle" font-size="13.5" fill="#1a1a1a" >400</text>
<text x="350.1" y="317.2" text-anchor="middle" font-size="13.5" fill="#1a1a1a" >420</text>
<text x="226.7" y="343.0" text-anchor="middle" font-size="15.8" fill="#1a1a1a" >Raman shift (cm<tspan dy="-6" font-size="10">-1</tspan><tspan dy="6">)</tspan></text>
<line x1="370.60" y1="290.60" x2="374.60" y2="290.60" stroke="#111" stroke-width="1" />
<line x1="370.60" y1="275.30" x2="372.80" y2="275.30" stroke="#111" stroke-width="1" />
<line x1="370.60" y1="260.00" x2="374.60" y2="260.00" stroke="#111" stroke-width="1" />
<line x1="370.60" y1="244.70" x2="372.80" y2="244.70" stroke="#111" stroke-width="1" />
<line x1="370.60" y1="229.40" x2="374.60" y2="229.40" stroke="#111" stroke-width="1" />
<line x1="370.60" y1="214.10" x2="372.80" y2="214.10" stroke="#111" stroke-width="1" />
<line x1="370.60" y1="198.80" x2="374.60" y2="198.80" stroke="#111" stroke-width="1" />
<line x1="370.60" y1="183.50" x2="372.80" y2="183.50" stroke="#111" stroke-width="1" />
<line x1="370.60" y1="168.20" x2="374.60" y2="168.20" stroke="#111" stroke-width="1" />
<line x1="370.60" y1="152.90" x2="372.80" y2="152.90" stroke="#111" stroke-width="1" />
<line x1="370.60" y1="137.60" x2="374.60" y2="137.60" stroke="#111" stroke-width="1" />
<line x1="370.60" y1="122.30" x2="372.80" y2="122.30" stroke="#111" stroke-width="1" />
<line x1="370.60" y1="95.42" x2="372.80" y2="95.42" stroke="#111" stroke-width="1" />
<line x1="370.60" y1="87.30" x2="374.60" y2="87.30" stroke="#111" stroke-width="1" />
<line x1="370.60" y1="79.17" x2="372.80" y2="79.17" stroke="#111" stroke-width="1" />
<line x1="370.60" y1="71.05" x2="374.60" y2="71.05" stroke="#111" stroke-width="1" />
<line x1="370.60" y1="62.92" x2="372.80" y2="62.92" stroke="#111" stroke-width="1" />
<line x1="370.60" y1="54.80" x2="374.60" y2="54.80" stroke="#111" stroke-width="1" />
<line x1="370.60" y1="46.67" x2="372.80" y2="46.67" stroke="#111" stroke-width="1" />
<line x1="370.60" y1="38.55" x2="374.60" y2="38.55" stroke="#111" stroke-width="1" />
<line x1="370.60" y1="30.43" x2="372.80" y2="30.43" stroke="#111" stroke-width="1" />
<line x1="370.60" y1="22.30" x2="374.60" y2="22.30" stroke="#111" stroke-width="1" />
<text x="378.0" y="295.4" text-anchor="start" font-size="14" fill="#1a1a1a" >-2</text>
<text x="378.0" y="264.8" text-anchor="start" font-size="14" fill="#1a1a1a" >0</text>
<text x="378.0" y="234.2" text-anchor="start" font-size="14" fill="#1a1a1a" >2</text>
<text x="378.0" y="203.6" text-anchor="start" font-size="14" fill="#1a1a1a" >4</text>
<text x="378.0" y="173.0" text-anchor="start" font-size="14" fill="#1a1a1a" >6</text>
<text x="378.0" y="142.4" text-anchor="start" font-size="14" fill="#1a1a1a" >8</text>
<text x="378.0" y="91.9" text-anchor="start" font-size="14" fill="#1a1a1a" >100</text>
<text x="378.0" y="75.6" text-anchor="start" font-size="14" fill="#1a1a1a" >200</text>
<text x="378.0" y="59.4" text-anchor="start" font-size="14" fill="#1a1a1a" >300</text>
<text x="378.0" y="43.1" text-anchor="start" font-size="14" fill="#1a1a1a" >400</text>
<text x="378.0" y="26.9" text-anchor="start" font-size="14" fill="#1a1a1a" >500</text>
<text transform="translate(418.0 160.0) rotate(-90)" text-anchor="middle" font-size="15.8" fill="#1a1a1a">Delay (ps)</text>
<rect x="224.1" y="393.3" width="4.8" height="276.8" fill="#fff"/>
<rect x="82.5" y="473.8" width="289.1" height="4.7" fill="#fff"/>
<line x1="82.50" y1="631.60" x2="370.60" y2="631.60" stroke="#111" stroke-width="1" />
<line x1="82.80" y1="395.40" x2="370.60" y2="395.40" stroke="#984ea3" stroke-width="2" stroke-dasharray="7.4 6.9"/>
<path d="M68.8 389.5 L80.3 395.4 L68.8 401.3 Z" fill="#984ea3"/>
<line x1="82.80" y1="611.20" x2="370.60" y2="611.20" stroke="#4daf4a" stroke-width="2" stroke-dasharray="7.4 6.9"/>
<path d="M68.8 605.3 L80.3 611.2 L68.8 617.1 Z" fill="#4daf4a"/>
<line x1="82.80" y1="625.80" x2="370.60" y2="625.80" stroke="#377eb8" stroke-width="2" stroke-dasharray="7.4 6.9"/>
<path d="M68.8 619.9 L80.3 625.8 L68.8 631.7 Z" fill="#377eb8"/>
<line x1="82.80" y1="668.90" x2="370.60" y2="668.90" stroke="#e41a2c" stroke-width="2" stroke-dasharray="7.4 6.9"/>
<path d="M68.8 663.0 L80.3 668.9 L68.8 674.8 Z" fill="#e41a2c"/>
<path d="M82.5 670.1 V393.3 H370.6 V670.1" fill="none" stroke="#111" stroke-width="1"/>
<line x1="82.50" y1="670.10" x2="223.10" y2="670.10" stroke="#111" stroke-width="1" />
<line x1="229.90" y1="670.10" x2="370.60" y2="670.10" stroke="#111" stroke-width="1" />
<line x1="221.50" y1="673.80" x2="226.50" y2="666.40" stroke="#111" stroke-width="0.9" />
<line x1="226.50" y1="673.80" x2="231.50" y2="666.40" stroke="#111" stroke-width="0.9" />
<line x1="367.00" y1="476.30" x2="374.60" y2="471.60" stroke="#111" stroke-width="0.9" />
<line x1="367.00" y1="481.60" x2="374.60" y2="476.90" stroke="#111" stroke-width="0.9" />
<line x1="82.60" y1="670.10" x2="82.60" y2="672.30" stroke="#111" stroke-width="1" />
<line x1="102.90" y1="670.10" x2="102.90" y2="674.10" stroke="#111" stroke-width="1" />
<line x1="123.20" y1="670.10" x2="123.20" y2="672.30" stroke="#111" stroke-width="1" />
<line x1="143.50" y1="670.10" x2="143.50" y2="674.10" stroke="#111" stroke-width="1" />
<line x1="163.80" y1="670.10" x2="163.80" y2="672.30" stroke="#111" stroke-width="1" />
<line x1="184.10" y1="670.10" x2="184.10" y2="674.10" stroke="#111" stroke-width="1" />
<line x1="204.40" y1="670.10" x2="204.40" y2="672.30" stroke="#111" stroke-width="1" />
<line x1="248.60" y1="670.10" x2="248.60" y2="672.30" stroke="#111" stroke-width="1" />
<line x1="268.90" y1="670.10" x2="268.90" y2="674.10" stroke="#111" stroke-width="1" />
<line x1="289.20" y1="670.10" x2="289.20" y2="672.30" stroke="#111" stroke-width="1" />
<line x1="309.50" y1="670.10" x2="309.50" y2="674.10" stroke="#111" stroke-width="1" />
<line x1="329.80" y1="670.10" x2="329.80" y2="672.30" stroke="#111" stroke-width="1" />
<line x1="350.10" y1="670.10" x2="350.10" y2="674.10" stroke="#111" stroke-width="1" />
<line x1="370.40" y1="670.10" x2="370.40" y2="672.30" stroke="#111" stroke-width="1" />
<text x="101.3" y="688.5" text-anchor="middle" font-size="13.5" fill="#1a1a1a" >-420</text>
<text x="141.9" y="688.5" text-anchor="middle" font-size="13.5" fill="#1a1a1a" >-400</text>
<text x="182.5" y="688.5" text-anchor="middle" font-size="13.5" fill="#1a1a1a" >-380</text>
<text x="268.9" y="688.5" text-anchor="middle" font-size="13.5" fill="#1a1a1a" >380</text>
<text x="309.5" y="688.5" text-anchor="middle" font-size="13.5" fill="#1a1a1a" >400</text>
<text x="350.1" y="688.5" text-anchor="middle" font-size="13.5" fill="#1a1a1a" >420</text>
<text x="226.7" y="714.3" text-anchor="middle" font-size="15.8" fill="#1a1a1a" >Raman shift (cm<tspan dy="-6" font-size="10">-1</tspan><tspan dy="6">)</tspan></text>
<line x1="370.60" y1="661.90" x2="374.60" y2="661.90" stroke="#111" stroke-width="1" />
<line x1="370.60" y1="646.60" x2="372.80" y2="646.60" stroke="#111" stroke-width="1" />
<line x1="370.60" y1="631.30" x2="374.60" y2="631.30" stroke="#111" stroke-width="1" />
<line x1="370.60" y1="616.00" x2="372.80" y2="616.00" stroke="#111" stroke-width="1" />
<line x1="370.60" y1="600.70" x2="374.60" y2="600.70" stroke="#111" stroke-width="1" />
<line x1="370.60" y1="585.40" x2="372.80" y2="585.40" stroke="#111" stroke-width="1" />
<line x1="370.60" y1="570.10" x2="374.60" y2="570.10" stroke="#111" stroke-width="1" />
<line x1="370.60" y1="554.80" x2="372.80" y2="554.80" stroke="#111" stroke-width="1" />
<line x1="370.60" y1="539.50" x2="374.60" y2="539.50" stroke="#111" stroke-width="1" />
<line x1="370.60" y1="524.20" x2="372.80" y2="524.20" stroke="#111" stroke-width="1" />
<line x1="370.60" y1="508.90" x2="374.60" y2="508.90" stroke="#111" stroke-width="1" />
<line x1="370.60" y1="493.60" x2="372.80" y2="493.60" stroke="#111" stroke-width="1" />
<line x1="370.60" y1="466.73" x2="372.80" y2="466.73" stroke="#111" stroke-width="1" />
<line x1="370.60" y1="458.60" x2="374.60" y2="458.60" stroke="#111" stroke-width="1" />
<line x1="370.60" y1="450.48" x2="372.80" y2="450.48" stroke="#111" stroke-width="1" />
<line x1="370.60" y1="442.35" x2="374.60" y2="442.35" stroke="#111" stroke-width="1" />
<line x1="370.60" y1="434.23" x2="372.80" y2="434.23" stroke="#111" stroke-width="1" />
<line x1="370.60" y1="426.10" x2="374.60" y2="426.10" stroke="#111" stroke-width="1" />
<line x1="370.60" y1="417.98" x2="372.80" y2="417.98" stroke="#111" stroke-width="1" />
<line x1="370.60" y1="409.85" x2="374.60" y2="409.85" stroke="#111" stroke-width="1" />
<line x1="370.60" y1="401.73" x2="372.80" y2="401.73" stroke="#111" stroke-width="1" />
<line x1="370.60" y1="393.60" x2="374.60" y2="393.60" stroke="#111" stroke-width="1" />
<text x="378.0" y="666.7" text-anchor="start" font-size="14" fill="#1a1a1a" >-2</text>
<text x="378.0" y="636.1" text-anchor="start" font-size="14" fill="#1a1a1a" >0</text>
<text x="378.0" y="605.5" text-anchor="start" font-size="14" fill="#1a1a1a" >2</text>
<text x="378.0" y="574.9" text-anchor="start" font-size="14" fill="#1a1a1a" >4</text>
<text x="378.0" y="544.3" text-anchor="start" font-size="14" fill="#1a1a1a" >6</text>
<text x="378.0" y="513.7" text-anchor="start" font-size="14" fill="#1a1a1a" >8</text>
<text x="378.0" y="463.2" text-anchor="start" font-size="14" fill="#1a1a1a" >100</text>
<text x="378.0" y="447.0" text-anchor="start" font-size="14" fill="#1a1a1a" >200</text>
<text x="378.0" y="430.7" text-anchor="start" font-size="14" fill="#1a1a1a" >300</text>
<text x="378.0" y="414.5" text-anchor="start" font-size="14" fill="#1a1a1a" >400</text>
<text x="378.0" y="398.2" text-anchor="start" font-size="14" fill="#1a1a1a" >500</text>
<text transform="translate(418.0 531.3) rotate(-90)" text-anchor="middle" font-size="15.8" fill="#1a1a1a">Delay (ps)</text>
<line x1="43.00" y1="297.90" x2="46.70" y2="297.90" stroke="#333" stroke-width="0.8" />
<text x="39.6" y="302.6" text-anchor="end" font-size="13" fill="#1a1a1a" >0</text>
<line x1="45.10" y1="285.90" x2="46.70" y2="285.90" stroke="#333" stroke-width="0.8" />
<line x1="43.00" y1="273.90" x2="46.70" y2="273.90" stroke="#333" stroke-width="0.8" />
<text x="39.6" y="278.6" text-anchor="end" font-size="13" fill="#1a1a1a" >2</text>
<line x1="45.10" y1="261.90" x2="46.70" y2="261.90" stroke="#333" stroke-width="0.8" />
<line x1="43.00" y1="249.90" x2="46.70" y2="249.90" stroke="#333" stroke-width="0.8" />
<text x="39.6" y="254.6" text-anchor="end" font-size="13" fill="#1a1a1a" >4</text>
<line x1="45.10" y1="237.90" x2="46.70" y2="237.90" stroke="#333" stroke-width="0.8" />
<line x1="43.00" y1="225.90" x2="46.70" y2="225.90" stroke="#333" stroke-width="0.8" />
<text x="39.6" y="230.6" text-anchor="end" font-size="13" fill="#1a1a1a" >6</text>
<line x1="45.10" y1="213.90" x2="46.70" y2="213.90" stroke="#333" stroke-width="0.8" />
<line x1="43.00" y1="201.90" x2="46.70" y2="201.90" stroke="#333" stroke-width="0.8" />
<text x="39.6" y="206.6" text-anchor="end" font-size="13" fill="#1a1a1a" >8</text>
<line x1="45.10" y1="189.90" x2="46.70" y2="189.90" stroke="#333" stroke-width="0.8" />
<line x1="43.00" y1="177.90" x2="46.70" y2="177.90" stroke="#333" stroke-width="0.8" />
<text x="39.6" y="182.6" text-anchor="end" font-size="13" fill="#1a1a1a" >10</text>
<line x1="45.10" y1="165.90" x2="46.70" y2="165.90" stroke="#333" stroke-width="0.8" />
<line x1="43.00" y1="153.90" x2="46.70" y2="153.90" stroke="#333" stroke-width="0.8" />
<text x="39.6" y="158.6" text-anchor="end" font-size="13" fill="#1a1a1a" >12</text>
<line x1="45.10" y1="141.90" x2="46.70" y2="141.90" stroke="#333" stroke-width="0.8" />
<line x1="43.00" y1="129.90" x2="46.70" y2="129.90" stroke="#333" stroke-width="0.8" />
<text x="39.6" y="134.6" text-anchor="end" font-size="13" fill="#1a1a1a" >14</text>
<line x1="45.10" y1="117.90" x2="46.70" y2="117.90" stroke="#333" stroke-width="0.8" />
<line x1="43.00" y1="105.90" x2="46.70" y2="105.90" stroke="#333" stroke-width="0.8" />
<text x="39.6" y="110.6" text-anchor="end" font-size="13" fill="#1a1a1a" >16</text>
<line x1="45.10" y1="93.90" x2="46.70" y2="93.90" stroke="#333" stroke-width="0.8" />
<line x1="43.00" y1="81.90" x2="46.70" y2="81.90" stroke="#333" stroke-width="0.8" />
<text x="39.6" y="86.6" text-anchor="end" font-size="13" fill="#1a1a1a" >18</text>
<line x1="45.10" y1="69.90" x2="46.70" y2="69.90" stroke="#333" stroke-width="0.8" />
<line x1="43.00" y1="57.90" x2="46.70" y2="57.90" stroke="#333" stroke-width="0.8" />
<text x="39.6" y="62.6" text-anchor="end" font-size="13" fill="#1a1a1a" >20</text>
<line x1="45.10" y1="45.90" x2="46.70" y2="45.90" stroke="#333" stroke-width="0.8" />
<line x1="43.00" y1="33.90" x2="46.70" y2="33.90" stroke="#333" stroke-width="0.8" />
<text x="39.6" y="38.6" text-anchor="end" font-size="13" fill="#1a1a1a" >22</text>
<text x="27.3" y="11.6" text-anchor="start" font-size="14.4" fill="#1a1a1a" >I (counts/s)</text>
<line x1="43.00" y1="669.30" x2="46.70" y2="669.30" stroke="#333" stroke-width="0.8" />
<text x="39.6" y="674.0" text-anchor="end" font-size="13" fill="#1a1a1a" >-0.5</text>
<line x1="45.10" y1="655.50" x2="46.70" y2="655.50" stroke="#333" stroke-width="0.8" />
<line x1="43.00" y1="641.70" x2="46.70" y2="641.70" stroke="#333" stroke-width="0.8" />
<text x="39.6" y="646.4" text-anchor="end" font-size="13" fill="#1a1a1a" >-0.4</text>
<line x1="45.10" y1="627.90" x2="46.70" y2="627.90" stroke="#333" stroke-width="0.8" />
<line x1="43.00" y1="614.10" x2="46.70" y2="614.10" stroke="#333" stroke-width="0.8" />
<text x="39.6" y="618.8" text-anchor="end" font-size="13" fill="#1a1a1a" >-0.3</text>
<line x1="45.10" y1="600.30" x2="46.70" y2="600.30" stroke="#333" stroke-width="0.8" />
<line x1="43.00" y1="586.50" x2="46.70" y2="586.50" stroke="#333" stroke-width="0.8" />
<text x="39.6" y="591.2" text-anchor="end" font-size="13" fill="#1a1a1a" >-0.2</text>
<line x1="45.10" y1="572.70" x2="46.70" y2="572.70" stroke="#333" stroke-width="0.8" />
<line x1="43.00" y1="558.90" x2="46.70" y2="558.90" stroke="#333" stroke-width="0.8" />
<text x="39.6" y="563.6" text-anchor="end" font-size="13" fill="#1a1a1a" >-0.1</text>
<line x1="45.10" y1="545.10" x2="46.70" y2="545.10" stroke="#333" stroke-width="0.8" />
<line x1="43.00" y1="531.30" x2="46.70" y2="531.30" stroke="#333" stroke-width="0.8" />
<text x="39.6" y="536.0" text-anchor="end" font-size="13" fill="#1a1a1a" >0</text>
<line x1="45.10" y1="517.50" x2="46.70" y2="517.50" stroke="#333" stroke-width="0.8" />
<line x1="43.00" y1="503.70" x2="46.70" y2="503.70" stroke="#333" stroke-width="0.8" />
<text x="39.6" y="508.4" text-anchor="end" font-size="13" fill="#1a1a1a" >0.1</text>
<line x1="45.10" y1="489.90" x2="46.70" y2="489.90" stroke="#333" stroke-width="0.8" />
<line x1="43.00" y1="476.10" x2="46.70" y2="476.10" stroke="#333" stroke-width="0.8" />
<text x="39.6" y="480.8" text-anchor="end" font-size="13" fill="#1a1a1a" >0.2</text>
<line x1="45.10" y1="462.30" x2="46.70" y2="462.30" stroke="#333" stroke-width="0.8" />
<line x1="43.00" y1="448.50" x2="46.70" y2="448.50" stroke="#333" stroke-width="0.8" />
<text x="39.6" y="453.2" text-anchor="end" font-size="13" fill="#1a1a1a" >0.3</text>
<line x1="45.10" y1="434.70" x2="46.70" y2="434.70" stroke="#333" stroke-width="0.8" />
<line x1="43.00" y1="420.90" x2="46.70" y2="420.90" stroke="#333" stroke-width="0.8" />
<text x="39.6" y="425.6" text-anchor="end" font-size="13" fill="#1a1a1a" >0.4</text>
<line x1="45.10" y1="407.10" x2="46.70" y2="407.10" stroke="#333" stroke-width="0.8" />
<line x1="43.00" y1="393.30" x2="46.70" y2="393.30" stroke="#333" stroke-width="0.8" />
<text x="39.6" y="398.0" text-anchor="end" font-size="13" fill="#1a1a1a" >0.5</text>
<text x="32.3" y="380.1" text-anchor="start" font-size="15.3" fill="#1a1a1a" >ΔI/I<tspan dy="3.6" font-size="11">max</tspan></text>
<text x="0.8" y="31.2" text-anchor="start" font-size="14.3" fill="#1a1a1a" >(a)</text>
<text x="0.8" y="406.5" text-anchor="start" font-size="14.3" fill="#1a1a1a" >(c)</text>
<text x="465.3" y="34.8" text-anchor="start" font-size="14.8" fill="#1a1a1a" >(b)</text>
<text x="465.3" y="405.5" text-anchor="start" font-size="14.8" fill="#1a1a1a" >(d)</text>
<line x1="619.50" y1="22.70" x2="619.50" y2="299.10" stroke="#777" stroke-width="0.8" stroke-dasharray="2 1.1"/>
<line x1="638.70" y1="22.70" x2="638.70" y2="299.10" stroke="#777" stroke-width="0.8" stroke-dasharray="2 1.1"/>
<g clip-path="url(#clipB)">
<g fill="#3c3c3c"><circle cx="513.0" cy="277.9" r="1.0"/><circle cx="514.0" cy="280.6" r="1.0"/><circle cx="515.0" cy="281.3" r="1.0"/><circle cx="516.1" cy="285.2" r="1.0"/><circle cx="517.1" cy="282.0" r="1.0"/><circle cx="518.1" cy="282.1" r="1.0"/><circle cx="519.1" cy="281.5" r="1.0"/><circle cx="520.1" cy="282.6" r="1.0"/><circle cx="521.2" cy="281.4" r="1.0"/><circle cx="522.2" cy="282.2" r="1.0"/><circle cx="523.2" cy="283.8" r="1.0"/><circle cx="524.2" cy="279.4" r="1.0"/><circle cx="525.2" cy="279.3" r="1.0"/><circle cx="526.3" cy="277.6" r="1.0"/><circle cx="527.3" cy="280.8" r="1.0"/><circle cx="528.3" cy="281.6" r="1.0"/><circle cx="529.3" cy="281.8" r="1.0"/><circle cx="530.3" cy="283.7" r="1.0"/><circle cx="531.4" cy="278.4" r="1.0"/><circle cx="532.4" cy="282.4" r="1.0"/><circle cx="533.4" cy="282.2" r="1.0"/><circle cx="534.4" cy="279.8" r="1.0"/><circle cx="535.4" cy="275.7" r="1.0"/><circle cx="536.5" cy="277.3" r="1.0"/><circle cx="537.5" cy="278.5" r="1.0"/><circle cx="538.5" cy="276.1" r="1.0"/><circle cx="539.5" cy="271.1" r="1.0"/><circle cx="540.5" cy="269.9" r="1.0"/><circle cx="541.6" cy="267.9" r="1.0"/><circle cx="542.6" cy="263.3" r="1.0"/><circle cx="543.6" cy="258.1" r="1.0"/><circle cx="544.6" cy="252.9" r="1.0"/><circle cx="545.6" cy="258.1" r="1.0"/><circle cx="546.7" cy="257.1" r="1.0"/><circle cx="547.7" cy="259.3" r="1.0"/><circle cx="548.7" cy="265.4" r="1.0"/><circle cx="549.7" cy="265.7" r="1.0"/><circle cx="550.8" cy="269.2" r="1.0"/><circle cx="551.8" cy="267.8" r="1.0"/><circle cx="552.8" cy="272.7" r="1.0"/><circle cx="553.8" cy="277.5" r="1.0"/><circle cx="554.8" cy="274.1" r="1.0"/><circle cx="555.9" cy="276.7" r="1.0"/><circle cx="556.9" cy="279.7" r="1.0"/><circle cx="557.9" cy="277.0" r="1.0"/><circle cx="558.9" cy="276.4" r="1.0"/><circle cx="559.9" cy="276.1" r="1.0"/><circle cx="561.0" cy="273.3" r="1.0"/><circle cx="562.0" cy="276.9" r="1.0"/><circle cx="563.0" cy="272.2" r="1.0"/><circle cx="564.0" cy="269.2" r="1.0"/><circle cx="565.0" cy="269.7" r="1.0"/><circle cx="566.1" cy="269.8" r="1.0"/><circle cx="567.1" cy="270.8" r="1.0"/><circle cx="568.1" cy="271.3" r="1.0"/><circle cx="569.1" cy="277.8" r="1.0"/><circle cx="570.1" cy="275.0" r="1.0"/><circle cx="571.2" cy="281.5" r="1.0"/><circle cx="572.2" cy="279.8" r="1.0"/><circle cx="573.2" cy="283.1" r="1.0"/><circle cx="574.2" cy="277.7" r="1.0"/><circle cx="575.2" cy="277.5" r="1.0"/><circle cx="576.3" cy="280.9" r="1.0"/><circle cx="577.3" cy="277.2" r="1.0"/><circle cx="578.3" cy="282.2" r="1.0"/><circle cx="579.3" cy="280.7" r="1.0"/><circle cx="580.3" cy="280.8" r="1.0"/><circle cx="581.4" cy="283.3" r="1.0"/><circle cx="582.4" cy="280.3" r="1.0"/><circle cx="583.4" cy="277.4" r="1.0"/><circle cx="584.4" cy="283.4" r="1.0"/><circle cx="585.4" cy="279.5" r="1.0"/><circle cx="586.5" cy="281.7" r="1.0"/><circle cx="587.5" cy="277.8" r="1.0"/><circle cx="588.5" cy="280.5" r="1.0"/></g>
<line x1="512.60" y1="282.80" x2="589.14" y2="282.80" stroke="#e41a2c" stroke-width="0.9" opacity="0.75"/>
<path d="M512.6 282.5 L513.4 282.5 L514.2 282.5 L515.0 282.5 L515.7 282.5 L516.5 282.5 L517.3 282.4 L518.1 282.4 L518.9 282.4 L519.7 282.4 L520.5 282.3 L521.2 282.3 L522.0 282.3 L522.8 282.3 L523.6 282.2 L524.4 282.2 L525.2 282.1 L525.9 282.1 L526.7 282.0 L527.5 282.0 L528.3 281.9 L529.1 281.8 L529.9 281.7 L530.7 281.6 L531.4 281.5 L532.2 281.3 L533.0 281.1 L533.8 280.8 L534.6 280.4 L535.4 279.9 L536.1 279.2 L536.9 278.3 L537.7 277.2 L538.5 275.8 L539.3 274.1 L540.1 272.1 L540.9 269.8 L541.6 267.3 L542.4 264.6 L543.2 262.0 L544.0 259.7 L544.8 257.9 L545.6 256.9 L546.4 256.9 L547.1 257.9 L547.9 259.7 L548.7 262.0 L549.5 264.6 L550.3 267.3 L551.1 269.8 L551.9 272.1 L552.6 274.1 L553.4 275.8 L554.2 277.2 L555.0 278.3 L555.8 279.2 L556.6 279.9 L557.3 280.4 L558.1 280.8 L558.9 281.1 L559.7 281.3 L560.5 281.5 L561.3 281.6 L562.1 281.7 L562.8 281.8 L563.6 281.9 L564.4 282.0 L565.2 282.0 L566.0 282.1 L566.8 282.1 L567.6 282.2 L568.3 282.2 L569.1 282.3 L569.9 282.3 L570.7 282.3 L571.5 282.3 L572.3 282.4 L573.0 282.4 L573.8 282.4 L574.6 282.4 L575.4 282.5 L576.2 282.5 L577.0 282.5 L577.8 282.5 L578.5 282.5 L579.3 282.5 L580.1 282.5 L580.9 282.6 L581.7 282.6 L582.5 282.6 L583.2 282.6 L584.0 282.6 L584.8 282.6 L585.6 282.6 L586.4 282.6 L587.2 282.6 L588.0 282.6 L588.7 282.6" fill="none" stroke="#e41a2c" stroke-width="0.8" opacity="0.9"/>
<path d="M512.6 282.8 L513.4 282.7 L514.2 282.7 L515.0 282.7 L515.7 282.7 L516.5 282.7 L517.3 282.7 L518.1 282.7 L518.9 282.7 L519.7 282.7 L520.5 282.7 L521.2 282.7 L522.0 282.7 L522.8 282.7 L523.6 282.7 L524.4 282.7 L525.2 282.7 L525.9 282.7 L526.7 282.7 L527.5 282.7 L528.3 282.7 L529.1 282.7 L529.9 282.7 L530.7 282.7 L531.4 282.7 L532.2 282.7 L533.0 282.7 L533.8 282.7 L534.6 282.7 L535.4 282.6 L536.1 282.6 L536.9 282.6 L537.7 282.6 L538.5 282.6 L539.3 282.6 L540.1 282.6 L540.9 282.6 L541.6 282.6 L542.4 282.5 L543.2 282.5 L544.0 282.5 L544.8 282.5 L545.6 282.5 L546.4 282.4 L547.1 282.4 L547.9 282.4 L548.7 282.3 L549.5 282.2 L550.3 282.2 L551.1 282.1 L551.9 282.0 L552.6 281.8 L553.4 281.6 L554.2 281.3 L555.0 281.0 L555.8 280.6 L556.6 280.1 L557.3 279.4 L558.1 278.7 L558.9 277.9 L559.7 277.0 L560.5 276.1 L561.3 275.2 L562.1 274.4 L562.8 273.7 L563.6 273.2 L564.4 273.1 L565.2 273.2 L566.0 273.7 L566.8 274.4 L567.6 275.2 L568.3 276.1 L569.1 277.0 L569.9 277.9 L570.7 278.7 L571.5 279.4 L572.3 280.1 L573.0 280.6 L573.8 281.0 L574.6 281.3 L575.4 281.6 L576.2 281.8 L577.0 282.0 L577.8 282.1 L578.5 282.2 L579.3 282.2 L580.1 282.3 L580.9 282.4 L581.7 282.4 L582.5 282.4 L583.2 282.5 L584.0 282.5 L584.8 282.5 L585.6 282.5 L586.4 282.5 L587.2 282.6 L588.0 282.6 L588.7 282.6" fill="none" stroke="#e41a2c" stroke-width="0.8" opacity="0.9"/>
<path d="M512.6 281.5 L513.4 281.5 L514.2 281.5 L515.0 281.5 L515.7 281.4 L516.5 281.4 L517.3 281.4 L518.1 281.4 L518.9 281.4 L519.7 281.3 L520.5 281.3 L521.2 281.3 L522.0 281.2 L522.8 281.2 L523.6 281.2 L524.4 281.1 L525.2 281.1 L525.9 281.0 L526.7 281.0 L527.5 280.9 L528.3 280.8 L529.1 280.7 L529.9 280.6 L530.7 280.5 L531.4 280.4 L532.2 280.2 L533.0 280.0 L533.8 279.7 L534.6 279.3 L535.4 278.8 L536.1 278.1 L536.9 277.2 L537.7 276.1 L538.5 274.7 L539.3 272.9 L540.1 270.9 L540.9 268.6 L541.6 266.1 L542.4 263.4 L543.2 260.8 L544.0 258.4 L544.8 256.6 L545.6 255.6 L546.4 255.6 L547.1 256.5 L547.9 258.3 L548.7 260.6 L549.5 263.1 L550.3 265.7 L551.1 268.1 L551.9 270.3 L552.6 272.1 L553.4 273.6 L554.2 274.8 L555.0 275.5 L555.8 276.0 L556.6 276.2 L557.3 276.1 L558.1 275.7 L558.9 275.2 L559.7 274.6 L560.5 273.8 L561.3 273.0 L562.1 272.3 L562.8 271.7 L563.6 271.3 L564.4 271.2 L565.2 271.5 L566.0 272.0 L566.8 272.7 L567.6 273.6 L568.3 274.6 L569.1 275.5 L569.9 276.4 L570.7 277.3 L571.5 278.0 L572.3 278.7 L573.0 279.2 L573.8 279.6 L574.6 280.0 L575.4 280.3 L576.2 280.5 L577.0 280.7 L577.8 280.8 L578.5 280.9 L579.3 281.0 L580.1 281.1 L580.9 281.1 L581.7 281.2 L582.5 281.2 L583.2 281.3 L584.0 281.3 L584.8 281.3 L585.6 281.4 L586.4 281.4 L587.2 281.4 L588.0 281.4 L588.7 281.4" fill="none" stroke="#e41a2c" stroke-width="2.0" stroke-linejoin="round" opacity="0.92"/>
<g fill="#3c3c3c"><circle cx="595.7" cy="281.5" r="1.0"/><circle cx="596.7" cy="280.8" r="1.0"/><circle cx="597.7" cy="280.8" r="1.0"/><circle cx="598.7" cy="283.3" r="1.0"/><circle cx="599.8" cy="277.3" r="1.0"/><circle cx="600.8" cy="282.7" r="1.0"/><circle cx="601.8" cy="279.3" r="1.0"/><circle cx="602.8" cy="278.4" r="1.0"/><circle cx="603.8" cy="281.1" r="1.0"/><circle cx="604.9" cy="278.9" r="1.0"/><circle cx="605.9" cy="276.5" r="1.0"/><circle cx="606.9" cy="278.4" r="1.0"/><circle cx="607.9" cy="279.6" r="1.0"/><circle cx="608.9" cy="282.9" r="1.0"/><circle cx="610.0" cy="277.8" r="1.0"/><circle cx="611.0" cy="275.4" r="1.0"/><circle cx="612.0" cy="272.9" r="1.0"/><circle cx="613.0" cy="270.7" r="1.0"/><circle cx="614.1" cy="264.0" r="1.0"/><circle cx="615.1" cy="261.0" r="1.0"/><circle cx="616.1" cy="254.6" r="1.0"/><circle cx="617.1" cy="247.2" r="1.0"/><circle cx="618.1" cy="245.0" r="1.0"/><circle cx="619.2" cy="240.2" r="1.0"/><circle cx="620.2" cy="234.0" r="1.0"/><circle cx="621.2" cy="238.2" r="1.0"/><circle cx="622.2" cy="246.4" r="1.0"/><circle cx="623.3" cy="248.9" r="1.0"/><circle cx="624.3" cy="252.7" r="1.0"/><circle cx="625.3" cy="255.9" r="1.0"/><circle cx="626.3" cy="261.7" r="1.0"/><circle cx="627.3" cy="265.4" r="1.0"/><circle cx="628.4" cy="266.6" r="1.0"/><circle cx="629.4" cy="263.1" r="1.0"/><circle cx="630.4" cy="261.3" r="1.0"/><circle cx="631.4" cy="258.6" r="1.0"/><circle cx="632.4" cy="251.7" r="1.0"/><circle cx="633.5" cy="244.1" r="1.0"/><circle cx="634.5" cy="232.5" r="1.0"/><circle cx="635.5" cy="225.5" r="1.0"/><circle cx="636.5" cy="214.0" r="1.0"/><circle cx="637.6" cy="206.8" r="1.0"/><circle cx="638.6" cy="205.4" r="1.0"/><circle cx="639.6" cy="211.1" r="1.0"/><circle cx="640.6" cy="213.9" r="1.0"/><circle cx="641.6" cy="227.4" r="1.0"/><circle cx="642.7" cy="235.3" r="1.0"/><circle cx="643.7" cy="247.1" r="1.0"/><circle cx="644.7" cy="257.2" r="1.0"/><circle cx="645.7" cy="259.7" r="1.0"/><circle cx="646.8" cy="264.6" r="1.0"/><circle cx="647.8" cy="268.8" r="1.0"/><circle cx="648.8" cy="270.5" r="1.0"/><circle cx="649.8" cy="273.9" r="1.0"/><circle cx="650.8" cy="275.0" r="1.0"/><circle cx="651.9" cy="274.4" r="1.0"/><circle cx="652.9" cy="270.6" r="1.0"/><circle cx="653.9" cy="272.9" r="1.0"/><circle cx="654.9" cy="275.7" r="1.0"/><circle cx="656.0" cy="273.5" r="1.0"/><circle cx="657.0" cy="275.6" r="1.0"/><circle cx="658.0" cy="275.5" r="1.0"/><circle cx="659.0" cy="272.9" r="1.0"/><circle cx="660.0" cy="275.8" r="1.0"/><circle cx="661.1" cy="278.2" r="1.0"/><circle cx="662.1" cy="276.8" r="1.0"/><circle cx="663.1" cy="274.9" r="1.0"/><circle cx="664.1" cy="275.0" r="1.0"/><circle cx="665.1" cy="272.8" r="1.0"/><circle cx="666.2" cy="276.8" r="1.0"/><circle cx="667.2" cy="273.9" r="1.0"/><circle cx="668.2" cy="274.5" r="1.0"/><circle cx="669.2" cy="275.7" r="1.0"/><circle cx="670.3" cy="273.6" r="1.0"/><circle cx="671.3" cy="274.2" r="1.0"/></g>
<line x1="595.27" y1="282.80" x2="672.30" y2="282.80" stroke="#e41a2c" stroke-width="0.9" opacity="0.75"/>
<path d="M595.3 282.1 L596.1 282.1 L596.8 282.0 L597.6 282.0 L598.4 281.9 L599.2 281.8 L600.0 281.8 L600.8 281.7 L601.6 281.6 L602.3 281.5 L603.1 281.4 L603.9 281.2 L604.7 281.1 L605.5 280.9 L606.3 280.6 L607.1 280.3 L607.8 279.9 L608.6 279.4 L609.4 278.7 L610.2 277.7 L611.0 276.4 L611.8 274.8 L612.6 272.7 L613.4 270.1 L614.1 266.9 L614.9 263.3 L615.7 259.2 L616.5 254.9 L617.3 250.6 L618.1 246.8 L618.9 243.7 L619.6 242.1 L620.4 242.1 L621.2 243.7 L622.0 246.8 L622.8 250.6 L623.6 254.9 L624.4 259.2 L625.1 263.3 L625.9 266.9 L626.7 270.1 L627.5 272.7 L628.3 274.8 L629.1 276.4 L629.9 277.7 L630.6 278.7 L631.4 279.4 L632.2 279.9 L633.0 280.3 L633.8 280.6 L634.6 280.9 L635.4 281.1 L636.1 281.2 L636.9 281.4 L637.7 281.5 L638.5 281.6 L639.3 281.7 L640.1 281.8 L640.9 281.8 L641.6 281.9 L642.4 282.0 L643.2 282.0 L644.0 282.1 L644.8 282.1 L645.6 282.1 L646.4 282.2 L647.1 282.2 L647.9 282.2 L648.7 282.3 L649.5 282.3 L650.3 282.3 L651.1 282.3 L651.9 282.4 L652.6 282.4 L653.4 282.4 L654.2 282.4 L655.0 282.4 L655.8 282.5 L656.6 282.5 L657.4 282.5 L658.2 282.5 L658.9 282.5 L659.7 282.5 L660.5 282.5 L661.3 282.5 L662.1 282.6 L662.9 282.6 L663.7 282.6 L664.4 282.6 L665.2 282.6 L666.0 282.6 L666.8 282.6 L667.6 282.6 L668.4 282.6 L669.2 282.6 L669.9 282.6 L670.7 282.6 L671.5 282.6 L672.3 282.6" fill="none" stroke="#e41a2c" stroke-width="0.8" opacity="0.9"/>
<path d="M595.3 282.4 L596.1 282.4 L596.8 282.3 L597.6 282.3 L598.4 282.3 L599.2 282.3 L600.0 282.3 L600.8 282.2 L601.6 282.2 L602.3 282.2 L603.1 282.2 L603.9 282.1 L604.7 282.1 L605.5 282.1 L606.3 282.0 L607.1 282.0 L607.8 282.0 L608.6 281.9 L609.4 281.9 L610.2 281.8 L611.0 281.8 L611.8 281.7 L612.6 281.7 L613.4 281.6 L614.1 281.5 L614.9 281.4 L615.7 281.3 L616.5 281.2 L617.3 281.1 L618.1 281.0 L618.9 280.9 L619.6 280.7 L620.4 280.5 L621.2 280.3 L622.0 280.1 L622.8 279.8 L623.6 279.5 L624.4 279.1 L625.1 278.6 L625.9 278.0 L626.7 277.2 L627.5 276.1 L628.3 274.6 L629.1 272.6 L629.9 270.0 L630.6 266.7 L631.4 262.4 L632.2 257.3 L633.0 251.2 L633.8 244.3 L634.6 236.7 L635.4 228.9 L636.1 221.5 L636.9 215.2 L637.7 210.9 L638.5 209.4 L639.3 210.9 L640.1 215.2 L640.9 221.5 L641.6 228.9 L642.4 236.7 L643.2 244.3 L644.0 251.2 L644.8 257.3 L645.6 262.4 L646.4 266.7 L647.1 270.0 L647.9 272.6 L648.7 274.6 L649.5 276.1 L650.3 277.2 L651.1 278.0 L651.9 278.6 L652.6 279.1 L653.4 279.5 L654.2 279.8 L655.0 280.1 L655.8 280.3 L656.6 280.5 L657.4 280.7 L658.2 280.9 L658.9 281.0 L659.7 281.1 L660.5 281.2 L661.3 281.3 L662.1 281.4 L662.9 281.5 L663.7 281.6 L664.4 281.7 L665.2 281.7 L666.0 281.8 L666.8 281.8 L667.6 281.9 L668.4 281.9 L669.2 282.0 L669.9 282.0 L670.7 282.0 L671.5 282.1 L672.3 282.1" fill="none" stroke="#e41a2c" stroke-width="0.8" opacity="0.9"/>
<path d="M595.3 282.8 L596.1 282.8 L596.8 282.8 L597.6 282.8 L598.4 282.8 L599.2 282.8 L600.0 282.8 L600.8 282.8 L601.6 282.8 L602.3 282.8 L603.1 282.8 L603.9 282.8 L604.7 282.8 L605.5 282.8 L606.3 282.8 L607.1 282.8 L607.8 282.8 L608.6 282.8 L609.4 282.8 L610.2 282.8 L611.0 282.8 L611.8 282.8 L612.6 282.8 L613.4 282.8 L614.1 282.8 L614.9 282.8 L615.7 282.8 L616.5 282.8 L617.3 282.8 L618.1 282.8 L618.9 282.8 L619.6 282.8 L620.4 282.8 L621.2 282.7 L622.0 282.7 L622.8 282.7 L623.6 282.7 L624.4 282.7 L625.1 282.7 L625.9 282.7 L626.7 282.7 L627.5 282.7 L628.3 282.7 L629.1 282.7 L629.9 282.7 L630.6 282.7 L631.4 282.7 L632.2 282.7 L633.0 282.7 L633.8 282.7 L634.6 282.7 L635.4 282.7 L636.1 282.7 L636.9 282.6 L637.7 282.6 L638.5 282.6 L639.3 282.6 L640.1 282.6 L640.9 282.5 L641.6 282.5 L642.4 282.5 L643.2 282.4 L644.0 282.4 L644.8 282.3 L645.6 282.2 L646.4 282.1 L647.1 282.0 L647.9 281.9 L648.7 281.8 L649.5 281.7 L650.3 281.5 L651.1 281.3 L651.9 281.2 L652.6 281.0 L653.4 280.8 L654.2 280.7 L655.0 280.5 L655.8 280.4 L656.6 280.3 L657.4 280.2 L658.2 280.2 L658.9 280.2 L659.7 280.3 L660.5 280.4 L661.3 280.5 L662.1 280.7 L662.9 280.8 L663.7 281.0 L664.4 281.2 L665.2 281.3 L666.0 281.5 L666.8 281.7 L667.6 281.8 L668.4 281.9 L669.2 282.0 L669.9 282.1 L670.7 282.2 L671.5 282.3 L672.3 282.4" fill="none" stroke="#e41a2c" stroke-width="0.8" opacity="0.9"/>
<path d="M595.3 282.6 L596.1 282.6 L596.8 282.6 L597.6 282.6 L598.4 282.6 L599.2 282.6 L600.0 282.6 L600.8 282.6 L601.6 282.6 L602.3 282.6 L603.1 282.6 L603.9 282.6 L604.7 282.6 L605.5 282.6 L606.3 282.6 L607.1 282.6 L607.8 282.6 L608.6 282.6 L609.4 282.6 L610.2 282.6 L611.0 282.6 L611.8 282.6 L612.6 282.6 L613.4 282.6 L614.1 282.6 L614.9 282.6 L615.7 282.6 L616.5 282.5 L617.3 282.5 L618.1 282.5 L618.9 282.5 L619.6 282.5 L620.4 282.5 L621.2 282.5 L622.0 282.5 L622.8 282.5 L623.6 282.5 L624.4 282.5 L625.1 282.5 L625.9 282.5 L626.7 282.5 L627.5 282.4 L628.3 282.4 L629.1 282.4 L629.9 282.4 L630.6 282.4 L631.4 282.4 L632.2 282.4 L633.0 282.3 L633.8 282.3 L634.6 282.3 L635.4 282.3 L636.1 282.3 L636.9 282.3 L637.7 282.2 L638.5 282.2 L639.3 282.2 L640.1 282.1 L640.9 282.1 L641.6 282.1 L642.4 282.0 L643.2 282.0 L644.0 282.0 L644.8 281.9 L645.6 281.9 L646.4 281.8 L647.1 281.8 L647.9 281.7 L648.7 281.6 L649.5 281.6 L650.3 281.5 L651.1 281.4 L651.9 281.3 L652.6 281.2 L653.4 281.1 L654.2 281.0 L655.0 280.9 L655.8 280.8 L656.6 280.7 L657.4 280.6 L658.2 280.5 L658.9 280.3 L659.7 280.2 L660.5 280.0 L661.3 279.9 L662.1 279.7 L662.9 279.6 L663.7 279.4 L664.4 279.2 L665.2 279.0 L666.0 278.9 L666.8 278.7 L667.6 278.5 L668.4 278.3 L669.2 278.1 L669.9 277.9 L670.7 277.7 L671.5 277.6 L672.3 277.4" fill="none" stroke="#e41a2c" stroke-width="0.8" opacity="0.9"/>
<path d="M595.3 280.5 L596.1 280.5 L596.8 280.4 L597.6 280.3 L598.4 280.3 L599.2 280.2 L600.0 280.1 L600.8 280.0 L601.6 279.8 L602.3 279.7 L603.1 279.6 L603.9 279.4 L604.7 279.2 L605.5 279.0 L606.3 278.7 L607.1 278.3 L607.8 277.9 L608.6 277.3 L609.4 276.5 L610.2 275.5 L611.0 274.2 L611.8 272.5 L612.6 270.3 L613.4 267.6 L614.1 264.4 L614.9 260.7 L615.7 256.5 L616.5 252.1 L617.3 247.7 L618.1 243.7 L618.9 240.5 L619.6 238.7 L620.4 238.5 L621.2 239.9 L622.0 242.7 L622.8 246.3 L623.6 250.3 L624.4 254.2 L625.1 257.8 L625.9 260.8 L626.7 263.1 L627.5 264.5 L628.3 265.2 L629.1 264.8 L629.9 263.5 L630.6 261.1 L631.4 257.5 L632.2 252.9 L633.0 247.2 L633.8 240.5 L634.6 233.2 L635.4 225.6 L636.1 218.3 L636.9 212.1 L637.7 207.9 L638.5 206.4 L639.3 208.0 L640.1 212.3 L640.9 218.6 L641.6 226.1 L642.4 233.8 L643.2 241.3 L644.0 248.2 L644.8 254.2 L645.6 259.3 L646.4 263.4 L647.1 266.6 L647.9 269.1 L648.7 270.9 L649.5 272.2 L650.3 273.1 L651.1 273.7 L651.9 274.1 L652.6 274.4 L653.4 274.5 L654.2 274.6 L655.0 274.6 L655.8 274.6 L656.6 274.6 L657.4 274.6 L658.2 274.6 L658.9 274.7 L659.7 274.7 L660.5 274.8 L661.3 274.9 L662.1 275.0 L662.9 275.1 L663.7 275.2 L664.4 275.3 L665.2 275.3 L666.0 275.4 L666.8 275.4 L667.6 275.4 L668.4 275.4 L669.2 275.4 L669.9 275.3 L670.7 275.3 L671.5 275.2 L672.3 275.1" fill="none" stroke="#e41a2c" stroke-width="2.0" stroke-linejoin="round" opacity="0.92"/>
<g fill="#3c3c3c"><circle cx="513.0" cy="217.6" r="1.0"/><circle cx="514.0" cy="213.7" r="1.0"/><circle cx="515.0" cy="218.2" r="1.0"/><circle cx="516.1" cy="215.6" r="1.0"/><circle cx="517.1" cy="215.7" r="1.0"/><circle cx="518.1" cy="214.8" r="1.0"/><circle cx="519.1" cy="217.1" r="1.0"/><circle cx="520.1" cy="215.6" r="1.0"/><circle cx="521.2" cy="215.8" r="1.0"/><circle cx="522.2" cy="213.4" r="1.0"/><circle cx="523.2" cy="216.9" r="1.0"/><circle cx="524.2" cy="215.1" r="1.0"/><circle cx="525.2" cy="215.6" r="1.0"/><circle cx="526.3" cy="217.6" r="1.0"/><circle cx="527.3" cy="209.4" r="1.0"/><circle cx="528.3" cy="214.7" r="1.0"/><circle cx="529.3" cy="217.4" r="1.0"/><circle cx="530.3" cy="211.2" r="1.0"/><circle cx="531.4" cy="215.9" r="1.0"/><circle cx="532.4" cy="212.6" r="1.0"/><circle cx="533.4" cy="211.1" r="1.0"/><circle cx="534.4" cy="213.6" r="1.0"/><circle cx="535.4" cy="212.5" r="1.0"/><circle cx="536.5" cy="211.9" r="1.0"/><circle cx="537.5" cy="210.2" r="1.0"/><circle cx="538.5" cy="212.1" r="1.0"/><circle cx="539.5" cy="210.2" r="1.0"/><circle cx="540.5" cy="206.8" r="1.0"/><circle cx="541.6" cy="203.0" r="1.0"/><circle cx="542.6" cy="202.4" r="1.0"/><circle cx="543.6" cy="198.7" r="1.0"/><circle cx="544.6" cy="199.3" r="1.0"/><circle cx="545.6" cy="200.3" r="1.0"/><circle cx="546.7" cy="198.1" r="1.0"/><circle cx="547.7" cy="200.7" r="1.0"/><circle cx="548.7" cy="197.5" r="1.0"/><circle cx="549.7" cy="196.9" r="1.0"/><circle cx="550.8" cy="194.0" r="1.0"/><circle cx="551.8" cy="193.2" r="1.0"/><circle cx="552.8" cy="195.9" r="1.0"/><circle cx="553.8" cy="196.6" r="1.0"/><circle cx="554.8" cy="199.4" r="1.0"/><circle cx="555.9" cy="197.5" r="1.0"/><circle cx="556.9" cy="197.8" r="1.0"/><circle cx="557.9" cy="198.5" r="1.0"/><circle cx="558.9" cy="201.9" r="1.0"/><circle cx="559.9" cy="197.2" r="1.0"/><circle cx="561.0" cy="199.6" r="1.0"/><circle cx="562.0" cy="202.8" r="1.0"/><circle cx="563.0" cy="204.2" r="1.0"/><circle cx="564.0" cy="204.2" r="1.0"/><circle cx="565.0" cy="203.7" r="1.0"/><circle cx="566.1" cy="204.4" r="1.0"/><circle cx="567.1" cy="203.9" r="1.0"/><circle cx="568.1" cy="204.0" r="1.0"/><circle cx="569.1" cy="203.6" r="1.0"/><circle cx="570.1" cy="204.9" r="1.0"/><circle cx="571.2" cy="208.4" r="1.0"/><circle cx="572.2" cy="208.4" r="1.0"/><circle cx="573.2" cy="210.9" r="1.0"/><circle cx="574.2" cy="212.1" r="1.0"/><circle cx="575.2" cy="207.9" r="1.0"/><circle cx="576.3" cy="213.4" r="1.0"/><circle cx="577.3" cy="209.1" r="1.0"/><circle cx="578.3" cy="214.3" r="1.0"/><circle cx="579.3" cy="213.5" r="1.0"/><circle cx="580.3" cy="212.1" r="1.0"/><circle cx="581.4" cy="214.6" r="1.0"/><circle cx="582.4" cy="214.1" r="1.0"/><circle cx="583.4" cy="215.5" r="1.0"/><circle cx="584.4" cy="216.1" r="1.0"/><circle cx="585.4" cy="215.6" r="1.0"/><circle cx="586.5" cy="216.7" r="1.0"/><circle cx="587.5" cy="212.2" r="1.0"/><circle cx="588.5" cy="215.9" r="1.0"/></g>
<line x1="512.60" y1="217.80" x2="589.14" y2="217.80" stroke="#377eb8" stroke-width="0.9" opacity="0.75"/>
<path d="M512.6 217.2 L513.4 217.2 L514.2 217.2 L515.0 217.1 L515.7 217.1 L516.5 217.1 L517.3 217.0 L518.1 217.0 L518.9 217.0 L519.7 216.9 L520.5 216.9 L521.2 216.8 L522.0 216.8 L522.8 216.7 L523.6 216.7 L524.4 216.6 L525.2 216.5 L525.9 216.4 L526.7 216.3 L527.5 216.2 L528.3 216.0 L529.1 215.8 L529.9 215.6 L530.7 215.4 L531.4 215.1 L532.2 214.8 L533.0 214.5 L533.8 214.1 L534.6 213.6 L535.4 213.1 L536.1 212.5 L536.9 211.9 L537.7 211.1 L538.5 210.4 L539.3 209.5 L540.1 208.6 L540.9 207.6 L541.6 206.5 L542.4 205.5 L543.2 204.3 L544.0 203.2 L544.8 202.1 L545.6 201.0 L546.4 199.9 L547.1 198.9 L547.9 198.1 L548.7 197.3 L549.5 196.8 L550.3 196.5 L551.1 196.4 L551.9 196.5 L552.6 196.8 L553.4 197.3 L554.2 198.1 L555.0 198.9 L555.8 199.9 L556.6 201.0 L557.3 202.1 L558.1 203.2 L558.9 204.3 L559.7 205.5 L560.5 206.5 L561.3 207.6 L562.1 208.6 L562.8 209.5 L563.6 210.4 L564.4 211.1 L565.2 211.9 L566.0 212.5 L566.8 213.1 L567.6 213.6 L568.3 214.1 L569.1 214.5 L569.9 214.8 L570.7 215.1 L571.5 215.4 L572.3 215.6 L573.0 215.8 L573.8 216.0 L574.6 216.2 L575.4 216.3 L576.2 216.4 L577.0 216.5 L577.8 216.6 L578.5 216.7 L579.3 216.7 L580.1 216.8 L580.9 216.8 L581.7 216.9 L582.5 216.9 L583.2 217.0 L584.0 217.0 L584.8 217.0 L585.6 217.1 L586.4 217.1 L587.2 217.1 L588.0 217.2 L588.7 217.2" fill="none" stroke="#377eb8" stroke-width="0.8" opacity="0.9"/>
<path d="M512.6 217.7 L513.4 217.7 L514.2 217.7 L515.0 217.7 L515.7 217.7 L516.5 217.7 L517.3 217.7 L518.1 217.7 L518.9 217.7 L519.7 217.7 L520.5 217.7 L521.2 217.7 L522.0 217.7 L522.8 217.7 L523.6 217.7 L524.4 217.7 L525.2 217.7 L525.9 217.7 L526.7 217.7 L527.5 217.7 L528.3 217.7 L529.1 217.7 L529.9 217.7 L530.7 217.7 L531.4 217.7 L532.2 217.7 L533.0 217.7 L533.8 217.7 L534.6 217.7 L535.4 217.7 L536.1 217.6 L536.9 217.6 L537.7 217.6 L538.5 217.6 L539.3 217.6 L540.1 217.6 L540.9 217.6 L541.6 217.6 L542.4 217.6 L543.2 217.5 L544.0 217.5 L544.8 217.5 L545.6 217.5 L546.4 217.5 L547.1 217.4 L547.9 217.4 L548.7 217.4 L549.5 217.3 L550.3 217.3 L551.1 217.2 L551.9 217.1 L552.6 217.0 L553.4 216.9 L554.2 216.8 L555.0 216.6 L555.8 216.4 L556.6 216.1 L557.3 215.8 L558.1 215.5 L558.9 215.1 L559.7 214.7 L560.5 214.2 L561.3 213.7 L562.1 213.2 L562.8 212.7 L563.6 212.2 L564.4 211.7 L565.2 211.3 L566.0 210.9 L566.8 210.7 L567.6 210.7 L568.3 210.7 L569.1 210.9 L569.9 211.3 L570.7 211.7 L571.5 212.2 L572.3 212.7 L573.0 213.2 L573.8 213.7 L574.6 214.2 L575.4 214.7 L576.2 215.1 L577.0 215.5 L577.8 215.8 L578.5 216.1 L579.3 216.4 L580.1 216.6 L580.9 216.8 L581.7 216.9 L582.5 217.0 L583.2 217.1 L584.0 217.2 L584.8 217.3 L585.6 217.3 L586.4 217.4 L587.2 217.4 L588.0 217.4 L588.7 217.5" fill="none" stroke="#377eb8" stroke-width="0.8" opacity="0.9"/>
<path d="M512.6 215.9 L513.4 215.8 L514.2 215.8 L515.0 215.8 L515.7 215.7 L516.5 215.7 L517.3 215.7 L518.1 215.6 L518.9 215.6 L519.7 215.6 L520.5 215.5 L521.2 215.5 L522.0 215.4 L522.8 215.3 L523.6 215.3 L524.4 215.2 L525.2 215.1 L525.9 215.0 L526.7 214.9 L527.5 214.8 L528.3 214.6 L529.1 214.4 L529.9 214.2 L530.7 214.0 L531.4 213.7 L532.2 213.4 L533.0 213.0 L533.8 212.6 L534.6 212.2 L535.4 211.6 L536.1 211.1 L536.9 210.4 L537.7 209.7 L538.5 208.9 L539.3 208.0 L540.1 207.1 L540.9 206.1 L541.6 205.0 L542.4 203.9 L543.2 202.8 L544.0 201.6 L544.8 200.5 L545.6 199.4 L546.4 198.3 L547.1 197.3 L547.9 196.4 L548.7 195.6 L549.5 195.0 L550.3 194.6 L551.1 194.5 L551.9 194.5 L552.6 194.7 L553.4 195.1 L554.2 195.7 L555.0 196.4 L555.8 197.2 L556.6 198.0 L557.3 198.8 L558.1 199.6 L558.9 200.4 L559.7 201.1 L560.5 201.7 L561.3 202.2 L562.1 202.7 L562.8 203.1 L563.6 203.4 L564.4 203.7 L565.2 204.0 L566.0 204.3 L566.8 204.7 L567.6 205.2 L568.3 205.7 L569.1 206.3 L569.9 207.0 L570.7 207.7 L571.5 208.5 L572.3 209.2 L573.0 209.9 L573.8 210.6 L574.6 211.3 L575.4 211.9 L576.2 212.4 L577.0 212.9 L577.8 213.3 L578.5 213.7 L579.3 214.0 L580.1 214.3 L580.9 214.5 L581.7 214.7 L582.5 214.9 L583.2 215.0 L584.0 215.1 L584.8 215.2 L585.6 215.3 L586.4 215.4 L587.2 215.4 L588.0 215.5 L588.7 215.6" fill="none" stroke="#377eb8" stroke-width="2.0" stroke-linejoin="round" opacity="0.92"/>
<g fill="#3c3c3c"><circle cx="595.7" cy="213.7" r="1.0"/><circle cx="596.7" cy="221.8" r="1.0"/><circle cx="597.7" cy="215.6" r="1.0"/><circle cx="598.7" cy="213.7" r="1.0"/><circle cx="599.8" cy="214.9" r="1.0"/><circle cx="600.8" cy="211.9" r="1.0"/><circle cx="601.8" cy="212.6" r="1.0"/><circle cx="602.8" cy="214.1" r="1.0"/><circle cx="603.8" cy="212.3" r="1.0"/><circle cx="604.9" cy="207.0" r="1.0"/><circle cx="605.9" cy="211.5" r="1.0"/><circle cx="606.9" cy="210.5" r="1.0"/><circle cx="607.9" cy="210.9" r="1.0"/><circle cx="608.9" cy="208.4" r="1.0"/><circle cx="610.0" cy="209.6" r="1.0"/><circle cx="611.0" cy="205.5" r="1.0"/><circle cx="612.0" cy="197.9" r="1.0"/><circle cx="613.0" cy="198.2" r="1.0"/><circle cx="614.1" cy="196.5" r="1.0"/><circle cx="615.1" cy="193.0" r="1.0"/><circle cx="616.1" cy="189.1" r="1.0"/><circle cx="617.1" cy="189.8" r="1.0"/><circle cx="618.1" cy="185.6" r="1.0"/><circle cx="619.2" cy="187.1" r="1.0"/><circle cx="620.2" cy="189.0" r="1.0"/><circle cx="621.2" cy="186.2" r="1.0"/><circle cx="622.2" cy="194.6" r="1.0"/><circle cx="623.3" cy="191.0" r="1.0"/><circle cx="624.3" cy="188.7" r="1.0"/><circle cx="625.3" cy="189.9" r="1.0"/><circle cx="626.3" cy="186.5" r="1.0"/><circle cx="627.3" cy="185.0" r="1.0"/><circle cx="628.4" cy="182.1" r="1.0"/><circle cx="629.4" cy="172.0" r="1.0"/><circle cx="630.4" cy="172.7" r="1.0"/><circle cx="631.4" cy="170.9" r="1.0"/><circle cx="632.4" cy="165.4" r="1.0"/><circle cx="633.5" cy="166.7" r="1.0"/><circle cx="634.5" cy="163.8" r="1.0"/><circle cx="635.5" cy="165.5" r="1.0"/><circle cx="636.5" cy="164.8" r="1.0"/><circle cx="637.6" cy="173.7" r="1.0"/><circle cx="638.6" cy="172.9" r="1.0"/><circle cx="639.6" cy="178.1" r="1.0"/><circle cx="640.6" cy="184.8" r="1.0"/><circle cx="641.6" cy="184.2" r="1.0"/><circle cx="642.7" cy="191.9" r="1.0"/><circle cx="643.7" cy="190.2" r="1.0"/><circle cx="644.7" cy="195.4" r="1.0"/><circle cx="645.7" cy="197.6" r="1.0"/><circle cx="646.8" cy="201.0" r="1.0"/><circle cx="647.8" cy="201.1" r="1.0"/><circle cx="648.8" cy="208.0" r="1.0"/><circle cx="649.8" cy="205.2" r="1.0"/><circle cx="650.8" cy="207.5" r="1.0"/><circle cx="651.9" cy="206.3" r="1.0"/><circle cx="652.9" cy="207.5" r="1.0"/><circle cx="653.9" cy="206.6" r="1.0"/><circle cx="654.9" cy="209.9" r="1.0"/><circle cx="656.0" cy="204.9" r="1.0"/><circle cx="657.0" cy="204.3" r="1.0"/><circle cx="658.0" cy="209.8" r="1.0"/><circle cx="659.0" cy="209.8" r="1.0"/><circle cx="660.0" cy="209.6" r="1.0"/><circle cx="661.1" cy="208.0" r="1.0"/><circle cx="662.1" cy="207.1" r="1.0"/><circle cx="663.1" cy="213.8" r="1.0"/><circle cx="664.1" cy="213.0" r="1.0"/><circle cx="665.1" cy="214.2" r="1.0"/><circle cx="666.2" cy="214.7" r="1.0"/><circle cx="667.2" cy="216.1" r="1.0"/><circle cx="668.2" cy="212.4" r="1.0"/><circle cx="669.2" cy="215.8" r="1.0"/><circle cx="670.3" cy="210.7" r="1.0"/><circle cx="671.3" cy="212.1" r="1.0"/></g>
<line x1="595.27" y1="217.80" x2="672.30" y2="217.80" stroke="#377eb8" stroke-width="0.9" opacity="0.75"/>
<path d="M595.3 217.1 L596.1 217.1 L596.8 217.0 L597.6 217.0 L598.4 216.9 L599.2 216.8 L600.0 216.7 L600.8 216.6 L601.6 216.5 L602.3 216.3 L603.1 216.1 L603.9 215.9 L604.7 215.6 L605.5 215.2 L606.3 214.7 L607.1 214.1 L607.8 213.3 L608.6 212.4 L609.4 211.4 L610.2 210.2 L611.0 208.8 L611.8 207.2 L612.6 205.6 L613.4 203.8 L614.1 202.1 L614.9 200.4 L615.7 198.9 L616.5 197.7 L617.3 196.9 L618.1 196.7 L618.9 196.9 L619.6 197.7 L620.4 198.9 L621.2 200.4 L622.0 202.1 L622.8 203.8 L623.6 205.6 L624.4 207.2 L625.1 208.8 L625.9 210.2 L626.7 211.4 L627.5 212.4 L628.3 213.3 L629.1 214.1 L629.9 214.7 L630.6 215.2 L631.4 215.6 L632.2 215.9 L633.0 216.1 L633.8 216.3 L634.6 216.5 L635.4 216.6 L636.1 216.7 L636.9 216.8 L637.7 216.9 L638.5 217.0 L639.3 217.0 L640.1 217.1 L640.9 217.1 L641.6 217.2 L642.4 217.2 L643.2 217.2 L644.0 217.3 L644.8 217.3 L645.6 217.3 L646.4 217.4 L647.1 217.4 L647.9 217.4 L648.7 217.4 L649.5 217.4 L650.3 217.5 L651.1 217.5 L651.9 217.5 L652.6 217.5 L653.4 217.5 L654.2 217.5 L655.0 217.5 L655.8 217.5 L656.6 217.6 L657.4 217.6 L658.2 217.6 L658.9 217.6 L659.7 217.6 L660.5 217.6 L661.3 217.6 L662.1 217.6 L662.9 217.6 L663.7 217.6 L664.4 217.6 L665.2 217.6 L666.0 217.6 L666.8 217.6 L667.6 217.6 L668.4 217.7 L669.2 217.7 L669.9 217.7 L670.7 217.7 L671.5 217.7 L672.3 217.7" fill="none" stroke="#377eb8" stroke-width="0.8" opacity="0.9"/>
<path d="M595.3 217.0 L596.1 216.9 L596.8 216.9 L597.6 216.8 L598.4 216.8 L599.2 216.8 L600.0 216.7 L600.8 216.7 L601.6 216.6 L602.3 216.6 L603.1 216.5 L603.9 216.4 L604.7 216.4 L605.5 216.3 L606.3 216.2 L607.1 216.1 L607.8 216.0 L608.6 215.9 L609.4 215.8 L610.2 215.7 L611.0 215.6 L611.8 215.4 L612.6 215.2 L613.4 215.0 L614.1 214.7 L614.9 214.4 L615.7 214.1 L616.5 213.6 L617.3 213.1 L618.1 212.5 L618.9 211.7 L619.6 210.8 L620.4 209.8 L621.2 208.5 L622.0 207.1 L622.8 205.4 L623.6 203.5 L624.4 201.3 L625.1 198.9 L625.9 196.3 L626.7 193.4 L627.5 190.4 L628.3 187.2 L629.1 184.0 L629.9 180.8 L630.6 177.7 L631.4 174.9 L632.2 172.5 L633.0 170.6 L633.8 169.5 L634.6 169.1 L635.4 169.5 L636.1 170.6 L636.9 172.5 L637.7 174.9 L638.5 177.7 L639.3 180.8 L640.1 184.0 L640.9 187.2 L641.6 190.4 L642.4 193.4 L643.2 196.3 L644.0 198.9 L644.8 201.3 L645.6 203.5 L646.4 205.4 L647.1 207.1 L647.9 208.5 L648.7 209.8 L649.5 210.8 L650.3 211.7 L651.1 212.5 L651.9 213.1 L652.6 213.6 L653.4 214.1 L654.2 214.4 L655.0 214.7 L655.8 215.0 L656.6 215.2 L657.4 215.4 L658.2 215.6 L658.9 215.7 L659.7 215.8 L660.5 215.9 L661.3 216.0 L662.1 216.1 L662.9 216.2 L663.7 216.3 L664.4 216.4 L665.2 216.4 L666.0 216.5 L666.8 216.6 L667.6 216.6 L668.4 216.7 L669.2 216.7 L669.9 216.8 L670.7 216.8 L671.5 216.8 L672.3 216.9" fill="none" stroke="#377eb8" stroke-width="0.8" opacity="0.9"/>
<path d="M595.3 217.7 L596.1 217.7 L596.8 217.7 L597.6 217.7 L598.4 217.7 L599.2 217.7 L600.0 217.7 L600.8 217.7 L601.6 217.7 L602.3 217.7 L603.1 217.7 L603.9 217.7 L604.7 217.7 L605.5 217.7 L606.3 217.7 L607.1 217.7 L607.8 217.7 L608.6 217.7 L609.4 217.7 L610.2 217.7 L611.0 217.7 L611.8 217.6 L612.6 217.6 L613.4 217.6 L614.1 217.6 L614.9 217.6 L615.7 217.6 L616.5 217.6 L617.3 217.6 L618.1 217.6 L618.9 217.6 L619.6 217.6 L620.4 217.6 L621.2 217.6 L622.0 217.5 L622.8 217.5 L623.6 217.5 L624.4 217.5 L625.1 217.5 L625.9 217.5 L626.7 217.4 L627.5 217.4 L628.3 217.4 L629.1 217.3 L629.9 217.3 L630.6 217.2 L631.4 217.2 L632.2 217.1 L633.0 217.1 L633.8 217.0 L634.6 216.9 L635.4 216.8 L636.1 216.7 L636.9 216.6 L637.7 216.5 L638.5 216.4 L639.3 216.2 L640.1 216.1 L640.9 215.9 L641.6 215.7 L642.4 215.6 L643.2 215.4 L644.0 215.2 L644.8 215.0 L645.6 214.7 L646.4 214.5 L647.1 214.3 L647.9 214.1 L648.7 213.9 L649.5 213.7 L650.3 213.5 L651.1 213.3 L651.9 213.2 L652.6 213.1 L653.4 213.0 L654.2 212.9 L655.0 212.9 L655.8 212.9 L656.6 213.0 L657.4 213.1 L658.2 213.2 L658.9 213.3 L659.7 213.5 L660.5 213.7 L661.3 213.9 L662.1 214.1 L662.9 214.3 L663.7 214.5 L664.4 214.7 L665.2 215.0 L666.0 215.2 L666.8 215.4 L667.6 215.6 L668.4 215.7 L669.2 215.9 L669.9 216.1 L670.7 216.2 L671.5 216.4 L672.3 216.5" fill="none" stroke="#377eb8" stroke-width="0.8" opacity="0.9"/>
<path d="M595.3 214.9 L596.1 214.8 L596.8 214.7 L597.6 214.6 L598.4 214.5 L599.2 214.4 L600.0 214.3 L600.8 214.1 L601.6 213.9 L602.3 213.7 L603.1 213.4 L603.9 213.1 L604.7 212.7 L605.5 212.3 L606.3 211.7 L607.1 211.0 L607.8 210.1 L608.6 209.1 L609.4 208.0 L610.2 206.6 L611.0 205.1 L611.8 203.4 L612.6 201.5 L613.4 199.6 L614.1 197.6 L614.9 195.6 L615.7 193.7 L616.5 192.1 L617.3 190.8 L618.1 189.9 L618.9 189.4 L619.6 189.2 L620.4 189.4 L621.2 189.6 L622.0 189.8 L622.8 189.9 L623.6 189.7 L624.4 189.2 L625.1 188.3 L625.9 187.0 L626.7 185.3 L627.5 183.3 L628.3 181.0 L629.1 178.5 L629.9 175.8 L630.6 173.2 L631.4 170.8 L632.2 168.6 L633.0 166.9 L633.8 165.9 L634.6 165.6 L635.4 166.0 L636.1 167.2 L636.9 169.0 L637.7 171.4 L638.5 174.1 L639.3 177.1 L640.1 180.2 L640.9 183.4 L641.6 186.4 L642.4 189.3 L643.2 192.0 L644.0 194.5 L644.8 196.7 L645.6 198.7 L646.4 200.4 L647.1 201.9 L647.9 203.1 L648.7 204.2 L649.5 205.1 L650.3 205.8 L651.1 206.4 L651.9 206.9 L652.6 207.3 L653.4 207.7 L654.2 208.0 L655.0 208.3 L655.8 208.6 L656.6 208.9 L657.4 209.1 L658.2 209.4 L658.9 209.7 L659.7 210.0 L660.5 210.3 L661.3 210.6 L662.1 210.9 L662.9 211.3 L663.7 211.6 L664.4 211.8 L665.2 212.1 L666.0 212.4 L666.8 212.7 L667.6 212.9 L668.4 213.2 L669.2 213.4 L669.9 213.6 L670.7 213.8 L671.5 214.0 L672.3 214.2" fill="none" stroke="#377eb8" stroke-width="2.0" stroke-linejoin="round" opacity="0.92"/>
<g fill="#3c3c3c"><circle cx="513.0" cy="152.7" r="1.0"/><circle cx="514.0" cy="152.6" r="1.0"/><circle cx="515.0" cy="151.8" r="1.0"/><circle cx="516.1" cy="147.7" r="1.0"/><circle cx="517.1" cy="152.2" r="1.0"/><circle cx="518.1" cy="153.4" r="1.0"/><circle cx="519.1" cy="150.5" r="1.0"/><circle cx="520.1" cy="149.5" r="1.0"/><circle cx="521.2" cy="151.6" r="1.0"/><circle cx="522.2" cy="146.9" r="1.0"/><circle cx="523.2" cy="149.6" r="1.0"/><circle cx="524.2" cy="149.1" r="1.0"/><circle cx="525.2" cy="151.6" r="1.0"/><circle cx="526.3" cy="149.9" r="1.0"/><circle cx="527.3" cy="150.0" r="1.0"/><circle cx="528.3" cy="154.1" r="1.0"/><circle cx="529.3" cy="148.8" r="1.0"/><circle cx="530.3" cy="152.7" r="1.0"/><circle cx="531.4" cy="148.9" r="1.0"/><circle cx="532.4" cy="151.4" r="1.0"/><circle cx="533.4" cy="143.9" r="1.0"/><circle cx="534.4" cy="146.6" r="1.0"/><circle cx="535.4" cy="144.8" r="1.0"/><circle cx="536.5" cy="143.7" r="1.0"/><circle cx="537.5" cy="146.9" r="1.0"/><circle cx="538.5" cy="147.4" r="1.0"/><circle cx="539.5" cy="141.7" r="1.0"/><circle cx="540.5" cy="137.1" r="1.0"/><circle cx="541.6" cy="136.4" r="1.0"/><circle cx="542.6" cy="132.5" r="1.0"/><circle cx="543.6" cy="129.5" r="1.0"/><circle cx="544.6" cy="131.7" r="1.0"/><circle cx="545.6" cy="125.5" r="1.0"/><circle cx="546.7" cy="119.8" r="1.0"/><circle cx="547.7" cy="123.2" r="1.0"/><circle cx="548.7" cy="125.2" r="1.0"/><circle cx="549.7" cy="121.5" r="1.0"/><circle cx="550.8" cy="122.8" r="1.0"/><circle cx="551.8" cy="122.6" r="1.0"/><circle cx="552.8" cy="127.4" r="1.0"/><circle cx="553.8" cy="127.9" r="1.0"/><circle cx="554.8" cy="135.1" r="1.0"/><circle cx="555.9" cy="131.4" r="1.0"/><circle cx="556.9" cy="132.2" r="1.0"/><circle cx="557.9" cy="134.8" r="1.0"/><circle cx="558.9" cy="142.1" r="1.0"/><circle cx="559.9" cy="139.7" r="1.0"/><circle cx="561.0" cy="147.3" r="1.0"/><circle cx="562.0" cy="141.3" r="1.0"/><circle cx="563.0" cy="142.3" r="1.0"/><circle cx="564.0" cy="144.3" r="1.0"/><circle cx="565.0" cy="141.6" r="1.0"/><circle cx="566.1" cy="142.0" r="1.0"/><circle cx="567.1" cy="140.5" r="1.0"/><circle cx="568.1" cy="142.4" r="1.0"/><circle cx="569.1" cy="142.7" r="1.0"/><circle cx="570.1" cy="147.8" r="1.0"/><circle cx="571.2" cy="147.0" r="1.0"/><circle cx="572.2" cy="146.5" r="1.0"/><circle cx="573.2" cy="145.7" r="1.0"/><circle cx="574.2" cy="147.1" r="1.0"/><circle cx="575.2" cy="144.7" r="1.0"/><circle cx="576.3" cy="150.0" r="1.0"/><circle cx="577.3" cy="149.2" r="1.0"/><circle cx="578.3" cy="148.6" r="1.0"/><circle cx="579.3" cy="149.9" r="1.0"/><circle cx="580.3" cy="148.7" r="1.0"/><circle cx="581.4" cy="151.0" r="1.0"/><circle cx="582.4" cy="147.1" r="1.0"/><circle cx="583.4" cy="150.8" r="1.0"/><circle cx="584.4" cy="148.0" r="1.0"/><circle cx="585.4" cy="150.4" r="1.0"/><circle cx="586.5" cy="147.4" r="1.0"/><circle cx="587.5" cy="153.2" r="1.0"/><circle cx="588.5" cy="149.4" r="1.0"/></g>
<line x1="512.60" y1="152.80" x2="589.14" y2="152.80" stroke="#4daf4a" stroke-width="0.9" opacity="0.75"/>
<path d="M512.6 152.3 L513.4 152.2 L514.2 152.2 L515.0 152.2 L515.7 152.2 L516.5 152.1 L517.3 152.1 L518.1 152.1 L518.9 152.0 L519.7 152.0 L520.5 152.0 L521.2 151.9 L522.0 151.9 L522.8 151.8 L523.6 151.7 L524.4 151.7 L525.2 151.6 L525.9 151.5 L526.7 151.4 L527.5 151.3 L528.3 151.2 L529.1 151.1 L529.9 150.9 L530.7 150.7 L531.4 150.5 L532.2 150.2 L533.0 149.8 L533.8 149.4 L534.6 148.9 L535.4 148.3 L536.1 147.6 L536.9 146.7 L537.7 145.7 L538.5 144.5 L539.3 143.2 L540.1 141.7 L540.9 140.0 L541.6 138.2 L542.4 136.3 L543.2 134.2 L544.0 132.2 L544.8 130.1 L545.6 128.1 L546.4 126.3 L547.1 124.8 L547.9 123.7 L548.7 123.0 L549.5 122.9 L550.3 123.4 L551.1 124.3 L551.9 125.7 L552.6 127.4 L553.4 129.3 L554.2 131.3 L555.0 133.4 L555.8 135.5 L556.6 137.5 L557.3 139.3 L558.1 141.1 L558.9 142.6 L559.7 144.0 L560.5 145.3 L561.3 146.3 L562.1 147.3 L562.8 148.0 L563.6 148.7 L564.4 149.2 L565.2 149.7 L566.0 150.1 L566.8 150.4 L567.6 150.6 L568.3 150.8 L569.1 151.0 L569.9 151.2 L570.7 151.3 L571.5 151.4 L572.3 151.5 L573.0 151.6 L573.8 151.7 L574.6 151.7 L575.4 151.8 L576.2 151.8 L577.0 151.9 L577.8 151.9 L578.5 152.0 L579.3 152.0 L580.1 152.1 L580.9 152.1 L581.7 152.1 L582.5 152.2 L583.2 152.2 L584.0 152.2 L584.8 152.2 L585.6 152.3 L586.4 152.3 L587.2 152.3 L588.0 152.3 L588.7 152.3" fill="none" stroke="#4daf4a" stroke-width="0.8" opacity="0.9"/>
<path d="M512.6 152.8 L513.4 152.8 L514.2 152.8 L515.0 152.8 L515.7 152.8 L516.5 152.8 L517.3 152.8 L518.1 152.8 L518.9 152.8 L519.7 152.8 L520.5 152.7 L521.2 152.7 L522.0 152.7 L522.8 152.7 L523.6 152.7 L524.4 152.7 L525.2 152.7 L525.9 152.7 L526.7 152.7 L527.5 152.7 L528.3 152.7 L529.1 152.7 L529.9 152.7 L530.7 152.7 L531.4 152.7 L532.2 152.7 L533.0 152.7 L533.8 152.7 L534.6 152.7 L535.4 152.7 L536.1 152.7 L536.9 152.7 L537.7 152.7 L538.5 152.7 L539.3 152.7 L540.1 152.7 L540.9 152.6 L541.6 152.6 L542.4 152.6 L543.2 152.6 L544.0 152.6 L544.8 152.6 L545.6 152.6 L546.4 152.6 L547.1 152.5 L547.9 152.5 L548.7 152.5 L549.5 152.5 L550.3 152.4 L551.1 152.4 L551.9 152.3 L552.6 152.3 L553.4 152.2 L554.2 152.1 L555.0 152.0 L555.8 151.8 L556.6 151.7 L557.3 151.4 L558.1 151.1 L558.9 150.8 L559.7 150.4 L560.5 150.0 L561.3 149.6 L562.1 149.0 L562.8 148.5 L563.6 148.0 L564.4 147.5 L565.2 147.0 L566.0 146.6 L566.8 146.4 L567.6 146.3 L568.3 146.4 L569.1 146.6 L569.9 147.0 L570.7 147.5 L571.5 148.0 L572.3 148.5 L573.0 149.0 L573.8 149.6 L574.6 150.0 L575.4 150.4 L576.2 150.8 L577.0 151.1 L577.8 151.4 L578.5 151.7 L579.3 151.8 L580.1 152.0 L580.9 152.1 L581.7 152.2 L582.5 152.3 L583.2 152.3 L584.0 152.4 L584.8 152.4 L585.6 152.5 L586.4 152.5 L587.2 152.5 L588.0 152.5 L588.7 152.6" fill="none" stroke="#4daf4a" stroke-width="0.8" opacity="0.9"/>
<path d="M512.6 150.6 L513.4 150.6 L514.2 150.6 L515.0 150.5 L515.7 150.5 L516.5 150.5 L517.3 150.4 L518.1 150.4 L518.9 150.4 L519.7 150.3 L520.5 150.3 L521.2 150.2 L522.0 150.2 L522.8 150.1 L523.6 150.1 L524.4 150.0 L525.2 149.9 L525.9 149.8 L526.7 149.7 L527.5 149.6 L528.3 149.5 L529.1 149.4 L529.9 149.2 L530.7 149.0 L531.4 148.8 L532.2 148.5 L533.0 148.1 L533.8 147.7 L534.6 147.2 L535.4 146.6 L536.1 145.8 L536.9 145.0 L537.7 144.0 L538.5 142.8 L539.3 141.4 L540.1 139.9 L540.9 138.3 L541.6 136.4 L542.4 134.5 L543.2 132.4 L544.0 130.3 L544.8 128.3 L545.6 126.3 L546.4 124.5 L547.1 122.9 L547.9 121.8 L548.7 121.1 L549.5 121.0 L550.3 121.4 L551.1 122.3 L551.9 123.6 L552.6 125.2 L553.4 127.1 L554.2 129.0 L555.0 131.0 L555.8 132.9 L556.6 134.7 L557.3 136.3 L558.1 137.8 L558.9 139.0 L559.7 140.1 L560.5 140.9 L561.3 141.5 L562.1 141.9 L562.8 142.1 L563.6 142.2 L564.4 142.3 L565.2 142.3 L566.0 142.3 L566.8 142.3 L567.6 142.5 L568.3 142.8 L569.1 143.2 L569.9 143.7 L570.7 144.3 L571.5 144.9 L572.3 145.6 L573.0 146.2 L573.8 146.8 L574.6 147.3 L575.4 147.8 L576.2 148.2 L577.0 148.6 L577.8 148.9 L578.5 149.2 L579.3 149.4 L580.1 149.6 L580.9 149.8 L581.7 149.9 L582.5 150.0 L583.2 150.1 L584.0 150.2 L584.8 150.2 L585.6 150.3 L586.4 150.4 L587.2 150.4 L588.0 150.4 L588.7 150.5" fill="none" stroke="#4daf4a" stroke-width="2.0" stroke-linejoin="round" opacity="0.92"/>
<g fill="#3c3c3c"><circle cx="595.7" cy="152.7" r="1.0"/><circle cx="596.7" cy="150.5" r="1.0"/><circle cx="597.7" cy="147.8" r="1.0"/><circle cx="598.7" cy="151.6" r="1.0"/><circle cx="599.8" cy="151.4" r="1.0"/><circle cx="600.8" cy="150.5" r="1.0"/><circle cx="601.8" cy="147.6" r="1.0"/><circle cx="602.8" cy="151.4" r="1.0"/><circle cx="603.8" cy="146.9" r="1.0"/><circle cx="604.9" cy="148.9" r="1.0"/><circle cx="605.9" cy="147.7" r="1.0"/><circle cx="606.9" cy="145.0" r="1.0"/><circle cx="607.9" cy="142.1" r="1.0"/><circle cx="608.9" cy="142.5" r="1.0"/><circle cx="610.0" cy="140.3" r="1.0"/><circle cx="611.0" cy="137.3" r="1.0"/><circle cx="612.0" cy="135.5" r="1.0"/><circle cx="613.0" cy="138.0" r="1.0"/><circle cx="614.1" cy="131.1" r="1.0"/><circle cx="615.1" cy="128.0" r="1.0"/><circle cx="616.1" cy="124.2" r="1.0"/><circle cx="617.1" cy="121.2" r="1.0"/><circle cx="618.1" cy="123.4" r="1.0"/><circle cx="619.2" cy="124.7" r="1.0"/><circle cx="620.2" cy="127.4" r="1.0"/><circle cx="621.2" cy="126.0" r="1.0"/><circle cx="622.2" cy="125.3" r="1.0"/><circle cx="623.3" cy="124.7" r="1.0"/><circle cx="624.3" cy="128.8" r="1.0"/><circle cx="625.3" cy="125.7" r="1.0"/><circle cx="626.3" cy="122.9" r="1.0"/><circle cx="627.3" cy="118.4" r="1.0"/><circle cx="628.4" cy="118.5" r="1.0"/><circle cx="629.4" cy="116.4" r="1.0"/><circle cx="630.4" cy="112.7" r="1.0"/><circle cx="631.4" cy="108.1" r="1.0"/><circle cx="632.4" cy="105.3" r="1.0"/><circle cx="633.5" cy="99.9" r="1.0"/><circle cx="634.5" cy="98.5" r="1.0"/><circle cx="635.5" cy="100.1" r="1.0"/><circle cx="636.5" cy="101.6" r="1.0"/><circle cx="637.6" cy="108.5" r="1.0"/><circle cx="638.6" cy="111.2" r="1.0"/><circle cx="639.6" cy="117.4" r="1.0"/><circle cx="640.6" cy="121.0" r="1.0"/><circle cx="641.6" cy="122.9" r="1.0"/><circle cx="642.7" cy="129.2" r="1.0"/><circle cx="643.7" cy="136.1" r="1.0"/><circle cx="644.7" cy="135.5" r="1.0"/><circle cx="645.7" cy="138.6" r="1.0"/><circle cx="646.8" cy="141.8" r="1.0"/><circle cx="647.8" cy="141.6" r="1.0"/><circle cx="648.8" cy="139.0" r="1.0"/><circle cx="649.8" cy="138.3" r="1.0"/><circle cx="650.8" cy="143.2" r="1.0"/><circle cx="651.9" cy="140.6" r="1.0"/><circle cx="652.9" cy="140.6" r="1.0"/><circle cx="653.9" cy="145.6" r="1.0"/><circle cx="654.9" cy="143.6" r="1.0"/><circle cx="656.0" cy="144.0" r="1.0"/><circle cx="657.0" cy="143.8" r="1.0"/><circle cx="658.0" cy="147.7" r="1.0"/><circle cx="659.0" cy="145.6" r="1.0"/><circle cx="660.0" cy="143.1" r="1.0"/><circle cx="661.1" cy="143.0" r="1.0"/><circle cx="662.1" cy="142.2" r="1.0"/><circle cx="663.1" cy="146.9" r="1.0"/><circle cx="664.1" cy="142.8" r="1.0"/><circle cx="665.1" cy="145.6" r="1.0"/><circle cx="666.2" cy="150.0" r="1.0"/><circle cx="667.2" cy="146.0" r="1.0"/><circle cx="668.2" cy="148.5" r="1.0"/><circle cx="669.2" cy="147.0" r="1.0"/><circle cx="670.3" cy="148.5" r="1.0"/><circle cx="671.3" cy="146.1" r="1.0"/></g>
<line x1="595.27" y1="152.80" x2="672.30" y2="152.80" stroke="#4daf4a" stroke-width="0.9" opacity="0.75"/>
<path d="M595.3 151.9 L596.1 151.8 L596.8 151.7 L597.6 151.6 L598.4 151.5 L599.2 151.4 L600.0 151.2 L600.8 151.0 L601.6 150.8 L602.3 150.5 L603.1 150.2 L603.9 149.7 L604.7 149.2 L605.5 148.6 L606.3 147.9 L607.1 147.0 L607.8 146.0 L608.6 144.9 L609.4 143.6 L610.2 142.2 L611.0 140.6 L611.8 139.0 L612.6 137.4 L613.4 135.7 L614.1 134.1 L614.9 132.6 L615.7 131.4 L616.5 130.6 L617.3 130.1 L618.1 130.1 L618.9 130.6 L619.6 131.4 L620.4 132.6 L621.2 134.1 L622.0 135.7 L622.8 137.4 L623.6 139.0 L624.4 140.6 L625.1 142.2 L625.9 143.6 L626.7 144.9 L627.5 146.0 L628.3 147.0 L629.1 147.9 L629.9 148.6 L630.6 149.2 L631.4 149.7 L632.2 150.2 L633.0 150.5 L633.8 150.8 L634.6 151.0 L635.4 151.2 L636.1 151.4 L636.9 151.5 L637.7 151.6 L638.5 151.7 L639.3 151.8 L640.1 151.9 L640.9 151.9 L641.6 152.0 L642.4 152.0 L643.2 152.1 L644.0 152.1 L644.8 152.1 L645.6 152.2 L646.4 152.2 L647.1 152.2 L647.9 152.3 L648.7 152.3 L649.5 152.3 L650.3 152.3 L651.1 152.4 L651.9 152.4 L652.6 152.4 L653.4 152.4 L654.2 152.4 L655.0 152.4 L655.8 152.5 L656.6 152.5 L657.4 152.5 L658.2 152.5 L658.9 152.5 L659.7 152.5 L660.5 152.5 L661.3 152.5 L662.1 152.5 L662.9 152.6 L663.7 152.6 L664.4 152.6 L665.2 152.6 L666.0 152.6 L666.8 152.6 L667.6 152.6 L668.4 152.6 L669.2 152.6 L669.9 152.6 L670.7 152.6 L671.5 152.6 L672.3 152.6" fill="none" stroke="#4daf4a" stroke-width="0.8" opacity="0.9"/>
<path d="M595.3 152.2 L596.1 152.2 L596.8 152.2 L597.6 152.1 L598.4 152.1 L599.2 152.1 L600.0 152.0 L600.8 152.0 L601.6 152.0 L602.3 151.9 L603.1 151.9 L603.9 151.8 L604.7 151.8 L605.5 151.7 L606.3 151.7 L607.1 151.6 L607.8 151.6 L608.6 151.5 L609.4 151.4 L610.2 151.3 L611.0 151.2 L611.8 151.1 L612.6 151.0 L613.4 150.9 L614.1 150.7 L614.9 150.5 L615.7 150.3 L616.5 150.1 L617.3 149.8 L618.1 149.4 L618.9 149.0 L619.6 148.5 L620.4 147.8 L621.2 146.9 L622.0 145.9 L622.8 144.7 L623.6 143.1 L624.4 141.3 L625.1 139.2 L625.9 136.8 L626.7 134.0 L627.5 130.9 L628.3 127.5 L629.1 124.0 L629.9 120.3 L630.6 116.7 L631.4 113.2 L632.2 110.2 L633.0 107.8 L633.8 106.2 L634.6 105.7 L635.4 106.2 L636.1 107.8 L636.9 110.2 L637.7 113.2 L638.5 116.7 L639.3 120.3 L640.1 124.0 L640.9 127.5 L641.6 130.9 L642.4 134.0 L643.2 136.8 L644.0 139.2 L644.8 141.3 L645.6 143.1 L646.4 144.7 L647.1 145.9 L647.9 146.9 L648.7 147.8 L649.5 148.5 L650.3 149.0 L651.1 149.4 L651.9 149.8 L652.6 150.1 L653.4 150.3 L654.2 150.5 L655.0 150.7 L655.8 150.9 L656.6 151.0 L657.4 151.1 L658.2 151.2 L658.9 151.3 L659.7 151.4 L660.5 151.5 L661.3 151.6 L662.1 151.6 L662.9 151.7 L663.7 151.7 L664.4 151.8 L665.2 151.8 L666.0 151.9 L666.8 151.9 L667.6 152.0 L668.4 152.0 L669.2 152.0 L669.9 152.1 L670.7 152.1 L671.5 152.1 L672.3 152.2" fill="none" stroke="#4daf4a" stroke-width="0.8" opacity="0.9"/>
<path d="M595.3 152.7 L596.1 152.7 L596.8 152.7 L597.6 152.7 L598.4 152.7 L599.2 152.7 L600.0 152.7 L600.8 152.7 L601.6 152.6 L602.3 152.6 L603.1 152.6 L603.9 152.6 L604.7 152.6 L605.5 152.6 L606.3 152.6 L607.1 152.6 L607.8 152.6 L608.6 152.6 L609.4 152.6 L610.2 152.6 L611.0 152.6 L611.8 152.6 L612.6 152.6 L613.4 152.5 L614.1 152.5 L614.9 152.5 L615.7 152.5 L616.5 152.5 L617.3 152.5 L618.1 152.5 L618.9 152.4 L619.6 152.4 L620.4 152.4 L621.2 152.4 L622.0 152.3 L622.8 152.3 L623.6 152.3 L624.4 152.2 L625.1 152.2 L625.9 152.2 L626.7 152.1 L627.5 152.0 L628.3 152.0 L629.1 151.9 L629.9 151.8 L630.6 151.7 L631.4 151.7 L632.2 151.6 L633.0 151.5 L633.8 151.3 L634.6 151.2 L635.4 151.1 L636.1 150.9 L636.9 150.8 L637.7 150.6 L638.5 150.5 L639.3 150.3 L640.1 150.1 L640.9 149.9 L641.6 149.7 L642.4 149.5 L643.2 149.3 L644.0 149.1 L644.8 148.9 L645.6 148.8 L646.4 148.6 L647.1 148.4 L647.9 148.2 L648.7 148.1 L649.5 147.9 L650.3 147.8 L651.1 147.7 L651.9 147.7 L652.6 147.6 L653.4 147.6 L654.2 147.6 L655.0 147.7 L655.8 147.7 L656.6 147.8 L657.4 147.9 L658.2 148.1 L658.9 148.2 L659.7 148.4 L660.5 148.6 L661.3 148.8 L662.1 148.9 L662.9 149.1 L663.7 149.3 L664.4 149.5 L665.2 149.7 L666.0 149.9 L666.8 150.1 L667.6 150.3 L668.4 150.5 L669.2 150.6 L669.9 150.8 L670.7 150.9 L671.5 151.1 L672.3 151.2" fill="none" stroke="#4daf4a" stroke-width="0.8" opacity="0.9"/>
<path d="M595.3 149.5 L596.1 149.4 L596.8 149.3 L597.6 149.2 L598.4 149.0 L599.2 148.9 L600.0 148.7 L600.8 148.5 L601.6 148.2 L602.3 147.9 L603.1 147.5 L603.9 147.0 L604.7 146.4 L605.5 145.8 L606.3 145.0 L607.1 144.0 L607.8 142.9 L608.6 141.7 L609.4 140.4 L610.2 138.8 L611.0 137.2 L611.8 135.5 L612.6 133.7 L613.4 131.9 L614.1 130.1 L614.9 128.5 L615.7 127.1 L616.5 125.9 L617.3 125.2 L618.1 124.8 L618.9 124.8 L619.6 125.1 L620.4 125.6 L621.2 126.2 L622.0 126.7 L622.8 127.1 L623.6 127.2 L624.4 127.0 L625.1 126.4 L625.9 125.3 L626.7 123.7 L627.5 121.7 L628.3 119.3 L629.1 116.5 L629.9 113.5 L630.6 110.4 L631.4 107.4 L632.2 104.7 L633.0 102.5 L633.8 101.1 L634.6 100.7 L635.4 101.3 L636.1 102.9 L636.9 105.2 L637.7 108.2 L638.5 111.6 L639.3 115.2 L640.1 118.7 L640.9 122.1 L641.6 125.4 L642.4 128.3 L643.2 130.9 L644.0 133.2 L644.8 135.2 L645.6 136.8 L646.4 138.2 L647.1 139.3 L647.9 140.2 L648.7 140.9 L649.5 141.5 L650.3 141.9 L651.1 142.3 L651.9 142.6 L652.6 142.9 L653.4 143.1 L654.2 143.4 L655.0 143.6 L655.8 143.8 L656.6 144.1 L657.4 144.3 L658.2 144.6 L658.9 144.8 L659.7 145.1 L660.5 145.4 L661.3 145.6 L662.1 145.9 L662.9 146.2 L663.7 146.4 L664.4 146.7 L665.2 146.9 L666.0 147.2 L666.8 147.4 L667.6 147.6 L668.4 147.8 L669.2 148.1 L669.9 148.2 L670.7 148.4 L671.5 148.6 L672.3 148.8" fill="none" stroke="#4daf4a" stroke-width="2.0" stroke-linejoin="round" opacity="0.92"/>
<g fill="#3c3c3c"><circle cx="513.0" cy="86.0" r="1.0"/><circle cx="514.0" cy="87.0" r="1.0"/><circle cx="515.0" cy="84.5" r="1.0"/><circle cx="516.1" cy="85.9" r="1.0"/><circle cx="517.1" cy="87.2" r="1.0"/><circle cx="518.1" cy="83.8" r="1.0"/><circle cx="519.1" cy="87.1" r="1.0"/><circle cx="520.1" cy="87.6" r="1.0"/><circle cx="521.2" cy="87.3" r="1.0"/><circle cx="522.2" cy="89.1" r="1.0"/><circle cx="523.2" cy="87.3" r="1.0"/><circle cx="524.2" cy="82.3" r="1.0"/><circle cx="525.2" cy="87.9" r="1.0"/><circle cx="526.3" cy="85.9" r="1.0"/><circle cx="527.3" cy="88.1" r="1.0"/><circle cx="528.3" cy="87.0" r="1.0"/><circle cx="529.3" cy="82.6" r="1.0"/><circle cx="530.3" cy="83.7" r="1.0"/><circle cx="531.4" cy="86.5" r="1.0"/><circle cx="532.4" cy="85.0" r="1.0"/><circle cx="533.4" cy="86.3" r="1.0"/><circle cx="534.4" cy="85.7" r="1.0"/><circle cx="535.4" cy="85.3" r="1.0"/><circle cx="536.5" cy="84.4" r="1.0"/><circle cx="537.5" cy="80.9" r="1.0"/><circle cx="538.5" cy="79.0" r="1.0"/><circle cx="539.5" cy="77.5" r="1.0"/><circle cx="540.5" cy="76.9" r="1.0"/><circle cx="541.6" cy="77.1" r="1.0"/><circle cx="542.6" cy="72.2" r="1.0"/><circle cx="543.6" cy="71.7" r="1.0"/><circle cx="544.6" cy="65.9" r="1.0"/><circle cx="545.6" cy="65.0" r="1.0"/><circle cx="546.7" cy="63.7" r="1.0"/><circle cx="547.7" cy="65.9" r="1.0"/><circle cx="548.7" cy="69.7" r="1.0"/><circle cx="549.7" cy="65.8" r="1.0"/><circle cx="550.8" cy="67.3" r="1.0"/><circle cx="551.8" cy="74.9" r="1.0"/><circle cx="552.8" cy="73.9" r="1.0"/><circle cx="553.8" cy="73.7" r="1.0"/><circle cx="554.8" cy="80.0" r="1.0"/><circle cx="555.9" cy="75.6" r="1.0"/><circle cx="556.9" cy="80.8" r="1.0"/><circle cx="557.9" cy="82.9" r="1.0"/><circle cx="558.9" cy="78.2" r="1.0"/><circle cx="559.9" cy="80.4" r="1.0"/><circle cx="561.0" cy="82.0" r="1.0"/><circle cx="562.0" cy="78.4" r="1.0"/><circle cx="563.0" cy="83.5" r="1.0"/><circle cx="564.0" cy="75.3" r="1.0"/><circle cx="565.0" cy="80.2" r="1.0"/><circle cx="566.1" cy="77.8" r="1.0"/><circle cx="567.1" cy="79.4" r="1.0"/><circle cx="568.1" cy="78.2" r="1.0"/><circle cx="569.1" cy="78.0" r="1.0"/><circle cx="570.1" cy="82.3" r="1.0"/><circle cx="571.2" cy="80.0" r="1.0"/><circle cx="572.2" cy="83.0" r="1.0"/><circle cx="573.2" cy="84.6" r="1.0"/><circle cx="574.2" cy="84.4" r="1.0"/><circle cx="575.2" cy="86.5" r="1.0"/><circle cx="576.3" cy="86.5" r="1.0"/><circle cx="577.3" cy="83.4" r="1.0"/><circle cx="578.3" cy="85.9" r="1.0"/><circle cx="579.3" cy="83.5" r="1.0"/><circle cx="580.3" cy="85.0" r="1.0"/><circle cx="581.4" cy="88.1" r="1.0"/><circle cx="582.4" cy="89.9" r="1.0"/><circle cx="583.4" cy="87.6" r="1.0"/><circle cx="584.4" cy="85.7" r="1.0"/><circle cx="585.4" cy="86.3" r="1.0"/><circle cx="586.5" cy="88.0" r="1.0"/><circle cx="587.5" cy="84.3" r="1.0"/><circle cx="588.5" cy="89.9" r="1.0"/></g>
<line x1="512.60" y1="87.80" x2="589.14" y2="87.80" stroke="#984ea3" stroke-width="0.9" opacity="0.75"/>
<path d="M512.6 87.5 L513.4 87.5 L514.2 87.5 L515.0 87.4 L515.7 87.4 L516.5 87.4 L517.3 87.4 L518.1 87.4 L518.9 87.3 L519.7 87.3 L520.5 87.3 L521.2 87.3 L522.0 87.2 L522.8 87.2 L523.6 87.2 L524.4 87.1 L525.2 87.1 L525.9 87.0 L526.7 87.0 L527.5 86.9 L528.3 86.8 L529.1 86.7 L529.9 86.6 L530.7 86.5 L531.4 86.3 L532.2 86.1 L533.0 85.9 L533.8 85.5 L534.6 85.1 L535.4 84.6 L536.1 84.0 L536.9 83.3 L537.7 82.3 L538.5 81.3 L539.3 80.0 L540.1 78.6 L540.9 77.1 L541.6 75.4 L542.4 73.6 L543.2 71.9 L544.0 70.2 L544.8 68.6 L545.6 67.4 L546.4 66.6 L547.1 66.4 L547.9 66.6 L548.7 67.4 L549.5 68.6 L550.3 70.2 L551.1 71.9 L551.9 73.6 L552.6 75.4 L553.4 77.1 L554.2 78.6 L555.0 80.0 L555.8 81.3 L556.6 82.3 L557.3 83.3 L558.1 84.0 L558.9 84.6 L559.7 85.1 L560.5 85.5 L561.3 85.9 L562.1 86.1 L562.8 86.3 L563.6 86.5 L564.4 86.6 L565.2 86.7 L566.0 86.8 L566.8 86.9 L567.6 87.0 L568.3 87.0 L569.1 87.1 L569.9 87.1 L570.7 87.2 L571.5 87.2 L572.3 87.2 L573.0 87.3 L573.8 87.3 L574.6 87.3 L575.4 87.3 L576.2 87.4 L577.0 87.4 L577.8 87.4 L578.5 87.4 L579.3 87.4 L580.1 87.5 L580.9 87.5 L581.7 87.5 L582.5 87.5 L583.2 87.5 L584.0 87.5 L584.8 87.5 L585.6 87.5 L586.4 87.6 L587.2 87.6 L588.0 87.6 L588.7 87.6" fill="none" stroke="#984ea3" stroke-width="0.8" opacity="0.9"/>
<path d="M512.6 87.8 L513.4 87.8 L514.2 87.8 L515.0 87.8 L515.7 87.8 L516.5 87.8 L517.3 87.8 L518.1 87.8 L518.9 87.7 L519.7 87.7 L520.5 87.7 L521.2 87.7 L522.0 87.7 L522.8 87.7 L523.6 87.7 L524.4 87.7 L525.2 87.7 L525.9 87.7 L526.7 87.7 L527.5 87.7 L528.3 87.7 L529.1 87.7 L529.9 87.7 L530.7 87.7 L531.4 87.7 L532.2 87.7 L533.0 87.7 L533.8 87.7 L534.6 87.7 L535.4 87.7 L536.1 87.7 L536.9 87.7 L537.7 87.7 L538.5 87.7 L539.3 87.6 L540.1 87.6 L540.9 87.6 L541.6 87.6 L542.4 87.6 L543.2 87.6 L544.0 87.6 L544.8 87.6 L545.6 87.5 L546.4 87.5 L547.1 87.5 L547.9 87.5 L548.7 87.5 L549.5 87.4 L550.3 87.4 L551.1 87.3 L551.9 87.3 L552.6 87.2 L553.4 87.1 L554.2 86.9 L555.0 86.8 L555.8 86.6 L556.6 86.3 L557.3 86.0 L558.1 85.6 L558.9 85.2 L559.7 84.6 L560.5 84.1 L561.3 83.4 L562.1 82.8 L562.8 82.1 L563.6 81.5 L564.4 81.0 L565.2 80.6 L566.0 80.4 L566.8 80.4 L567.6 80.6 L568.3 81.0 L569.1 81.5 L569.9 82.1 L570.7 82.8 L571.5 83.4 L572.3 84.1 L573.0 84.6 L573.8 85.2 L574.6 85.6 L575.4 86.0 L576.2 86.3 L577.0 86.6 L577.8 86.8 L578.5 86.9 L579.3 87.1 L580.1 87.2 L580.9 87.3 L581.7 87.3 L582.5 87.4 L583.2 87.4 L584.0 87.5 L584.8 87.5 L585.6 87.5 L586.4 87.5 L587.2 87.5 L588.0 87.6 L588.7 87.6" fill="none" stroke="#984ea3" stroke-width="0.8" opacity="0.9"/>
<path d="M512.6 86.5 L513.4 86.5 L514.2 86.4 L515.0 86.4 L515.7 86.4 L516.5 86.4 L517.3 86.4 L518.1 86.3 L518.9 86.3 L519.7 86.3 L520.5 86.3 L521.2 86.2 L522.0 86.2 L522.8 86.2 L523.6 86.1 L524.4 86.1 L525.2 86.0 L525.9 86.0 L526.7 85.9 L527.5 85.8 L528.3 85.8 L529.1 85.7 L529.9 85.6 L530.7 85.4 L531.4 85.2 L532.2 85.0 L533.0 84.8 L533.8 84.5 L534.6 84.0 L535.4 83.5 L536.1 82.9 L536.9 82.2 L537.7 81.2 L538.5 80.2 L539.3 78.9 L540.1 77.5 L540.9 75.9 L541.6 74.2 L542.4 72.5 L543.2 70.7 L544.0 69.0 L544.8 67.4 L545.6 66.2 L546.4 65.4 L547.1 65.1 L547.9 65.3 L548.7 66.1 L549.5 67.3 L550.3 68.8 L551.1 70.4 L551.9 72.1 L552.6 73.8 L553.4 75.4 L554.2 76.8 L555.0 78.0 L555.8 79.1 L556.6 79.9 L557.3 80.5 L558.1 80.8 L558.9 81.0 L559.7 81.0 L560.5 80.8 L561.3 80.5 L562.1 80.1 L562.8 79.7 L563.6 79.2 L564.4 78.8 L565.2 78.5 L566.0 78.4 L566.8 78.5 L567.6 78.7 L568.3 79.2 L569.1 79.8 L569.9 80.5 L570.7 81.2 L571.5 81.9 L572.3 82.5 L573.0 83.1 L573.8 83.7 L574.6 84.2 L575.4 84.6 L576.2 84.9 L577.0 85.2 L577.8 85.4 L578.5 85.6 L579.3 85.8 L580.1 85.9 L580.9 86.0 L581.7 86.0 L582.5 86.1 L583.2 86.2 L584.0 86.2 L584.8 86.2 L585.6 86.3 L586.4 86.3 L587.2 86.3 L588.0 86.4 L588.7 86.4" fill="none" stroke="#984ea3" stroke-width="2.0" stroke-linejoin="round" opacity="0.92"/>
<g fill="#3c3c3c"><circle cx="595.7" cy="90.6" r="1.0"/><circle cx="596.7" cy="87.1" r="1.0"/><circle cx="597.7" cy="82.1" r="1.0"/><circle cx="598.7" cy="84.9" r="1.0"/><circle cx="599.8" cy="87.4" r="1.0"/><circle cx="600.8" cy="84.0" r="1.0"/><circle cx="601.8" cy="83.7" r="1.0"/><circle cx="602.8" cy="83.0" r="1.0"/><circle cx="603.8" cy="85.5" r="1.0"/><circle cx="604.9" cy="86.0" r="1.0"/><circle cx="605.9" cy="83.8" r="1.0"/><circle cx="606.9" cy="82.7" r="1.0"/><circle cx="607.9" cy="79.7" r="1.0"/><circle cx="608.9" cy="77.7" r="1.0"/><circle cx="610.0" cy="82.1" r="1.0"/><circle cx="611.0" cy="79.8" r="1.0"/><circle cx="612.0" cy="76.5" r="1.0"/><circle cx="613.0" cy="73.9" r="1.0"/><circle cx="614.1" cy="68.9" r="1.0"/><circle cx="615.1" cy="65.0" r="1.0"/><circle cx="616.1" cy="61.6" r="1.0"/><circle cx="617.1" cy="56.0" r="1.0"/><circle cx="618.1" cy="56.7" r="1.0"/><circle cx="619.2" cy="58.0" r="1.0"/><circle cx="620.2" cy="60.2" r="1.0"/><circle cx="621.2" cy="61.8" r="1.0"/><circle cx="622.2" cy="65.1" r="1.0"/><circle cx="623.3" cy="70.1" r="1.0"/><circle cx="624.3" cy="67.8" r="1.0"/><circle cx="625.3" cy="70.9" r="1.0"/><circle cx="626.3" cy="73.3" r="1.0"/><circle cx="627.3" cy="74.3" r="1.0"/><circle cx="628.4" cy="74.6" r="1.0"/><circle cx="629.4" cy="70.8" r="1.0"/><circle cx="630.4" cy="61.4" r="1.0"/><circle cx="631.4" cy="64.6" r="1.0"/><circle cx="632.4" cy="53.9" r="1.0"/><circle cx="633.5" cy="46.1" r="1.0"/><circle cx="634.5" cy="40.9" r="1.0"/><circle cx="635.5" cy="36.3" r="1.0"/><circle cx="636.5" cy="30.8" r="1.0"/><circle cx="637.6" cy="34.3" r="1.0"/><circle cx="638.6" cy="33.8" r="1.0"/><circle cx="639.6" cy="37.2" r="1.0"/><circle cx="640.6" cy="48.7" r="1.0"/><circle cx="641.6" cy="55.1" r="1.0"/><circle cx="642.7" cy="59.6" r="1.0"/><circle cx="643.7" cy="63.5" r="1.0"/><circle cx="644.7" cy="67.5" r="1.0"/><circle cx="645.7" cy="72.5" r="1.0"/><circle cx="646.8" cy="77.9" r="1.0"/><circle cx="647.8" cy="80.7" r="1.0"/><circle cx="648.8" cy="79.3" r="1.0"/><circle cx="649.8" cy="79.9" r="1.0"/><circle cx="650.8" cy="83.4" r="1.0"/><circle cx="651.9" cy="81.4" r="1.0"/><circle cx="652.9" cy="81.1" r="1.0"/><circle cx="653.9" cy="79.7" r="1.0"/><circle cx="654.9" cy="83.9" r="1.0"/><circle cx="656.0" cy="80.8" r="1.0"/><circle cx="657.0" cy="84.3" r="1.0"/><circle cx="658.0" cy="82.8" r="1.0"/><circle cx="659.0" cy="82.1" r="1.0"/><circle cx="660.0" cy="79.0" r="1.0"/><circle cx="661.1" cy="75.4" r="1.0"/><circle cx="662.1" cy="81.7" r="1.0"/><circle cx="663.1" cy="81.2" r="1.0"/><circle cx="664.1" cy="80.3" r="1.0"/><circle cx="665.1" cy="85.1" r="1.0"/><circle cx="666.2" cy="80.9" r="1.0"/><circle cx="667.2" cy="84.9" r="1.0"/><circle cx="668.2" cy="79.1" r="1.0"/><circle cx="669.2" cy="79.5" r="1.0"/><circle cx="670.3" cy="81.3" r="1.0"/><circle cx="671.3" cy="83.9" r="1.0"/></g>
<line x1="595.27" y1="87.80" x2="672.30" y2="87.80" stroke="#984ea3" stroke-width="0.9" opacity="0.75"/>
<path d="M595.3 87.2 L596.1 87.2 L596.8 87.1 L597.6 87.1 L598.4 87.0 L599.2 87.0 L600.0 86.9 L600.8 86.8 L601.6 86.7 L602.3 86.7 L603.1 86.5 L603.9 86.4 L604.7 86.2 L605.5 86.0 L606.3 85.7 L607.1 85.3 L607.8 84.9 L608.6 84.2 L609.4 83.3 L610.2 82.2 L611.0 80.8 L611.8 79.1 L612.6 77.1 L613.4 74.7 L614.1 72.0 L614.9 69.1 L615.7 66.1 L616.5 63.3 L617.3 61.0 L618.1 59.4 L618.9 58.9 L619.6 59.4 L620.4 61.0 L621.2 63.3 L622.0 66.1 L622.8 69.1 L623.6 72.0 L624.4 74.7 L625.1 77.1 L625.9 79.1 L626.7 80.8 L627.5 82.2 L628.3 83.3 L629.1 84.2 L629.9 84.9 L630.6 85.3 L631.4 85.7 L632.2 86.0 L633.0 86.2 L633.8 86.4 L634.6 86.5 L635.4 86.7 L636.1 86.7 L636.9 86.8 L637.7 86.9 L638.5 87.0 L639.3 87.0 L640.1 87.1 L640.9 87.1 L641.6 87.2 L642.4 87.2 L643.2 87.3 L644.0 87.3 L644.8 87.3 L645.6 87.3 L646.4 87.4 L647.1 87.4 L647.9 87.4 L648.7 87.4 L649.5 87.4 L650.3 87.5 L651.1 87.5 L651.9 87.5 L652.6 87.5 L653.4 87.5 L654.2 87.5 L655.0 87.5 L655.8 87.6 L656.6 87.6 L657.4 87.6 L658.2 87.6 L658.9 87.6 L659.7 87.6 L660.5 87.6 L661.3 87.6 L662.1 87.6 L662.9 87.6 L663.7 87.6 L664.4 87.6 L665.2 87.6 L666.0 87.6 L666.8 87.7 L667.6 87.7 L668.4 87.7 L669.2 87.7 L669.9 87.7 L670.7 87.7 L671.5 87.7 L672.3 87.7" fill="none" stroke="#984ea3" stroke-width="0.8" opacity="0.9"/>
<path d="M595.3 87.4 L596.1 87.4 L596.8 87.4 L597.6 87.4 L598.4 87.4 L599.2 87.3 L600.0 87.3 L600.8 87.3 L601.6 87.3 L602.3 87.3 L603.1 87.2 L603.9 87.2 L604.7 87.2 L605.5 87.1 L606.3 87.1 L607.1 87.1 L607.8 87.0 L608.6 87.0 L609.4 86.9 L610.2 86.9 L611.0 86.8 L611.8 86.8 L612.6 86.7 L613.4 86.7 L614.1 86.6 L614.9 86.5 L615.7 86.4 L616.5 86.3 L617.3 86.2 L618.1 86.1 L618.9 85.9 L619.6 85.8 L620.4 85.6 L621.2 85.3 L622.0 85.1 L622.8 84.7 L623.6 84.3 L624.4 83.7 L625.1 83.0 L625.9 82.1 L626.7 80.9 L627.5 79.3 L628.3 77.2 L629.1 74.7 L629.9 71.6 L630.6 67.9 L631.4 63.6 L632.2 58.8 L633.0 53.6 L633.8 48.4 L634.6 43.3 L635.4 39.0 L636.1 35.8 L636.9 34.3 L637.7 34.7 L638.5 36.9 L639.3 40.6 L640.1 45.3 L640.9 50.5 L641.6 55.7 L642.4 60.7 L643.2 65.3 L644.0 69.4 L644.8 72.9 L645.6 75.8 L646.4 78.1 L647.1 79.9 L647.9 81.4 L648.7 82.5 L649.5 83.3 L650.3 84.0 L651.1 84.5 L651.9 84.9 L652.6 85.2 L653.4 85.4 L654.2 85.6 L655.0 85.8 L655.8 86.0 L656.6 86.1 L657.4 86.2 L658.2 86.3 L658.9 86.4 L659.7 86.5 L660.5 86.6 L661.3 86.7 L662.1 86.8 L662.9 86.8 L663.7 86.9 L664.4 86.9 L665.2 87.0 L666.0 87.0 L666.8 87.1 L667.6 87.1 L668.4 87.1 L669.2 87.2 L669.9 87.2 L670.7 87.2 L671.5 87.2 L672.3 87.3" fill="none" stroke="#984ea3" stroke-width="0.8" opacity="0.9"/>
<path d="M595.3 87.8 L596.1 87.8 L596.8 87.8 L597.6 87.8 L598.4 87.8 L599.2 87.8 L600.0 87.8 L600.8 87.8 L601.6 87.8 L602.3 87.8 L603.1 87.8 L603.9 87.8 L604.7 87.8 L605.5 87.8 L606.3 87.8 L607.1 87.8 L607.8 87.8 L608.6 87.8 L609.4 87.8 L610.2 87.8 L611.0 87.8 L611.8 87.8 L612.6 87.8 L613.4 87.8 L614.1 87.8 L614.9 87.8 L615.7 87.8 L616.5 87.8 L617.3 87.8 L618.1 87.8 L618.9 87.8 L619.6 87.8 L620.4 87.8 L621.2 87.8 L622.0 87.8 L622.8 87.8 L623.6 87.8 L624.4 87.8 L625.1 87.8 L625.9 87.8 L626.7 87.8 L627.5 87.8 L628.3 87.8 L629.1 87.8 L629.9 87.7 L630.6 87.7 L631.4 87.7 L632.2 87.7 L633.0 87.7 L633.8 87.7 L634.6 87.7 L635.4 87.7 L636.1 87.7 L636.9 87.7 L637.7 87.7 L638.5 87.7 L639.3 87.7 L640.1 87.7 L640.9 87.6 L641.6 87.6 L642.4 87.6 L643.2 87.6 L644.0 87.5 L644.8 87.5 L645.6 87.4 L646.4 87.4 L647.1 87.3 L647.9 87.3 L648.7 87.2 L649.5 87.1 L650.3 87.0 L651.1 86.9 L651.9 86.8 L652.6 86.7 L653.4 86.6 L654.2 86.5 L655.0 86.4 L655.8 86.3 L656.6 86.2 L657.4 86.2 L658.2 86.2 L658.9 86.2 L659.7 86.2 L660.5 86.3 L661.3 86.4 L662.1 86.5 L662.9 86.6 L663.7 86.7 L664.4 86.8 L665.2 86.9 L666.0 87.0 L666.8 87.1 L667.6 87.2 L668.4 87.3 L669.2 87.3 L669.9 87.4 L670.7 87.4 L671.5 87.5 L672.3 87.5" fill="none" stroke="#984ea3" stroke-width="0.8" opacity="0.9"/>
<path d="M595.3 87.7 L596.1 87.7 L596.8 87.7 L597.6 87.7 L598.4 87.7 L599.2 87.7 L600.0 87.7 L600.8 87.7 L601.6 87.7 L602.3 87.7 L603.1 87.7 L603.9 87.7 L604.7 87.7 L605.5 87.7 L606.3 87.7 L607.1 87.7 L607.8 87.7 L608.6 87.7 L609.4 87.7 L610.2 87.7 L611.0 87.7 L611.8 87.6 L612.6 87.6 L613.4 87.6 L614.1 87.6 L614.9 87.6 L615.7 87.6 L616.5 87.6 L617.3 87.6 L618.1 87.6 L618.9 87.6 L619.6 87.6 L620.4 87.6 L621.2 87.6 L622.0 87.6 L622.8 87.6 L623.6 87.6 L624.4 87.6 L625.1 87.6 L625.9 87.6 L626.7 87.6 L627.5 87.6 L628.3 87.5 L629.1 87.5 L629.9 87.5 L630.6 87.5 L631.4 87.5 L632.2 87.5 L633.0 87.5 L633.8 87.5 L634.6 87.5 L635.4 87.5 L636.1 87.4 L636.9 87.4 L637.7 87.4 L638.5 87.4 L639.3 87.4 L640.1 87.4 L640.9 87.3 L641.6 87.3 L642.4 87.3 L643.2 87.3 L644.0 87.2 L644.8 87.2 L645.6 87.2 L646.4 87.1 L647.1 87.1 L647.9 87.0 L648.7 87.0 L649.5 87.0 L650.3 86.9 L651.1 86.8 L651.9 86.8 L652.6 86.7 L653.4 86.7 L654.2 86.6 L655.0 86.5 L655.8 86.4 L656.6 86.4 L657.4 86.3 L658.2 86.2 L658.9 86.1 L659.7 86.0 L660.5 85.9 L661.3 85.8 L662.1 85.7 L662.9 85.6 L663.7 85.5 L664.4 85.4 L665.2 85.2 L666.0 85.1 L666.8 85.0 L667.6 84.9 L668.4 84.7 L669.2 84.6 L669.9 84.5 L670.7 84.4 L671.5 84.2 L672.3 84.1" fill="none" stroke="#984ea3" stroke-width="0.8" opacity="0.9"/>
<path d="M595.3 85.7 L596.1 85.7 L596.8 85.6 L597.6 85.6 L598.4 85.5 L599.2 85.4 L600.0 85.3 L600.8 85.2 L601.6 85.1 L602.3 85.0 L603.1 84.8 L603.9 84.7 L604.7 84.5 L605.5 84.2 L606.3 83.9 L607.1 83.5 L607.8 83.0 L608.6 82.3 L609.4 81.4 L610.2 80.2 L611.0 78.8 L611.8 77.0 L612.6 74.8 L613.4 72.4 L614.1 69.6 L614.9 66.6 L615.7 63.6 L616.5 60.7 L617.3 58.2 L618.1 56.5 L618.9 55.8 L619.6 56.2 L620.4 57.6 L621.2 59.7 L622.0 62.2 L622.8 64.8 L623.6 67.2 L624.4 69.4 L625.1 71.0 L625.9 72.2 L626.7 72.7 L627.5 72.4 L628.3 71.5 L629.1 69.8 L629.9 67.3 L630.6 64.1 L631.4 60.2 L632.2 55.6 L633.0 50.7 L633.8 45.6 L634.6 40.7 L635.4 36.4 L636.1 33.3 L636.9 31.9 L637.7 32.3 L638.5 34.6 L639.3 38.3 L640.1 43.0 L640.9 48.2 L641.6 53.5 L642.4 58.5 L643.2 63.0 L644.0 67.1 L644.8 70.5 L645.6 73.3 L646.4 75.6 L647.1 77.4 L647.9 78.7 L648.7 79.7 L649.5 80.4 L650.3 81.0 L651.1 81.3 L651.9 81.6 L652.6 81.7 L653.4 81.8 L654.2 81.9 L655.0 81.9 L655.8 81.9 L656.6 81.9 L657.4 81.9 L658.2 81.9 L658.9 82.0 L659.7 82.0 L660.5 82.0 L661.3 82.1 L662.1 82.2 L662.9 82.2 L663.7 82.3 L664.4 82.3 L665.2 82.4 L666.0 82.4 L666.8 82.4 L667.6 82.4 L668.4 82.4 L669.2 82.4 L669.9 82.4 L670.7 82.3 L671.5 82.3 L672.3 82.2" fill="none" stroke="#984ea3" stroke-width="2.0" stroke-linejoin="round" opacity="0.92"/>
</g>
<g clip-path="url(#clipD)">
<line x1="512.60" y1="653.50" x2="589.14" y2="653.50" stroke="#e41a2c" stroke-width="1" opacity="0.5"/>
<path d="M512.6 653.3 L513.4 653.5 L514.2 653.2 L515.0 653.1 L515.7 653.1 L516.5 652.9 L517.3 652.8 L518.1 653.0 L518.9 653.0 L519.7 653.1 L520.5 652.8 L521.2 652.7 L522.0 652.7 L522.8 652.6 L523.6 652.4 L524.4 652.4 L525.2 652.7 L525.9 652.9 L526.7 653.3 L527.5 653.6 L528.3 653.8 L529.1 653.6 L529.9 653.6 L530.7 653.4 L531.4 653.4 L532.2 653.2 L533.0 653.3 L533.8 653.0 L534.6 653.0 L535.4 652.8 L536.1 653.2 L536.9 652.8 L537.7 652.8 L538.5 652.7 L539.3 652.9 L540.1 652.9 L540.9 653.2 L541.6 653.0 L542.4 653.3 L543.2 653.3 L544.0 653.2 L544.8 653.4 L545.6 654.0 L546.4 653.7 L547.1 653.3 L547.9 653.5 L548.7 653.2 L549.5 652.6 L550.3 652.3 L551.1 652.5 L551.9 651.7 L552.6 651.7 L553.4 652.1 L554.2 652.2 L555.0 652.5 L555.8 652.9 L556.6 653.4 L557.3 653.2 L558.1 653.6 L558.9 653.3 L559.7 653.3 L560.5 653.0 L561.3 653.1 L562.1 652.6 L562.8 653.1 L563.6 653.1 L564.4 652.9 L565.2 652.7 L566.0 652.7 L566.8 651.6 L567.6 651.6 L568.3 651.5 L569.1 651.7 L569.9 651.7 L570.7 653.0 L571.5 652.8 L572.3 653.3 L573.0 653.9 L573.8 654.6 L574.6 654.3 L575.4 654.6 L576.2 654.5 L577.0 653.8 L577.8 653.5 L578.5 653.3 L579.3 653.6 L580.1 653.4 L580.9 653.2 L581.7 653.2 L582.5 653.5 L583.2 653.3 L584.0 653.0 L584.8 653.4 L585.6 653.4 L586.4 653.3 L587.2 652.9 L588.0 653.4 L588.7 653.5" fill="none" stroke="#e41a2c" stroke-width="1.5" stroke-linejoin="round"/>
<line x1="595.27" y1="653.50" x2="672.30" y2="653.50" stroke="#e41a2c" stroke-width="1" opacity="0.5"/>
<path d="M595.3 658.4 L596.1 657.1 L596.8 656.2 L597.6 655.6 L598.4 654.8 L599.2 654.2 L600.0 653.7 L600.8 653.4 L601.6 653.0 L602.3 652.6 L603.1 652.2 L603.9 651.9 L604.7 651.3 L605.5 651.3 L606.3 651.0 L607.1 650.7 L607.8 651.2 L608.6 651.4 L609.4 651.5 L610.2 652.0 L611.0 652.8 L611.8 652.1 L612.6 652.1 L613.4 651.5 L614.1 650.7 L614.9 650.0 L615.7 650.2 L616.5 650.4 L617.3 650.6 L618.1 651.1 L618.9 651.3 L619.6 651.4 L620.4 651.4 L621.2 651.1 L622.0 651.0 L622.8 650.1 L623.6 649.6 L624.4 649.5 L625.1 649.6 L625.9 649.2 L626.7 650.0 L627.5 650.4 L628.3 650.2 L629.1 650.4 L629.9 650.5 L630.6 649.8 L631.4 649.4 L632.2 648.8 L633.0 648.4 L633.8 648.6 L634.6 649.2 L635.4 649.6 L636.1 650.8 L636.9 651.2 L637.7 651.7 L638.5 652.1 L639.3 652.4 L640.1 652.3 L640.9 652.4 L641.6 652.0 L642.4 652.2 L643.2 652.1 L644.0 652.4 L644.8 653.0 L645.6 653.5 L646.4 653.3 L647.1 653.4 L647.9 653.5 L648.7 653.2 L649.5 653.1 L650.3 653.3 L651.1 653.5 L651.9 653.8 L652.6 654.0 L653.4 654.2 L654.2 653.9 L655.0 653.9 L655.8 653.7 L656.6 653.8 L657.4 653.8 L658.2 654.3 L658.9 654.3 L659.7 654.3 L660.5 654.2 L661.3 654.3 L662.1 654.2 L662.9 654.2 L663.7 654.4 L664.4 654.6 L665.2 654.3 L666.0 654.2 L666.8 654.1 L667.6 654.0 L668.4 653.5 L669.2 653.7 L669.9 653.8 L670.7 653.7 L671.5 653.8 L672.3 654.0" fill="none" stroke="#e41a2c" stroke-width="1.5" stroke-linejoin="round"/>
<line x1="512.60" y1="588.50" x2="589.14" y2="588.50" stroke="#377eb8" stroke-width="1" opacity="0.5"/>
<path d="M512.6 588.8 L513.4 588.4 L514.2 588.6 L515.0 588.6 L515.7 587.6 L516.5 587.2 L517.3 587.6 L518.1 587.4 L518.9 587.2 L519.7 587.9 L520.5 587.8 L521.2 587.4 L522.0 587.0 L522.8 587.8 L523.6 588.0 L524.4 587.7 L525.2 588.1 L525.9 588.4 L526.7 587.2 L527.5 587.1 L528.3 586.9 L529.1 586.8 L529.9 586.6 L530.7 586.9 L531.4 586.3 L532.2 586.9 L533.0 587.2 L533.8 587.3 L534.6 587.6 L535.4 588.5 L536.1 588.5 L536.9 588.6 L537.7 589.1 L538.5 589.7 L539.3 589.8 L540.1 590.8 L540.9 592.1 L541.6 593.0 L542.4 593.5 L543.2 594.1 L544.0 593.6 L544.8 593.6 L545.6 593.4 L546.4 592.9 L547.1 591.4 L547.9 591.1 L548.7 589.7 L549.5 588.4 L550.3 586.7 L551.1 585.7 L551.9 584.0 L552.6 582.5 L553.4 580.9 L554.2 580.3 L555.0 579.2 L555.8 580.2 L556.6 581.7 L557.3 583.0 L558.1 583.5 L558.9 584.8 L559.7 585.8 L560.5 586.0 L561.3 586.3 L562.1 587.3 L562.8 587.9 L563.6 588.1 L564.4 588.2 L565.2 588.5 L566.0 588.0 L566.8 587.3 L567.6 585.8 L568.3 585.1 L569.1 584.4 L569.9 584.6 L570.7 585.1 L571.5 585.5 L572.3 586.0 L573.0 586.4 L573.8 586.0 L574.6 585.9 L575.4 586.3 L576.2 586.4 L577.0 586.3 L577.8 587.0 L578.5 587.2 L579.3 587.1 L580.1 587.0 L580.9 587.1 L581.7 587.1 L582.5 587.6 L583.2 587.1 L584.0 587.1 L584.8 587.2 L585.6 587.1 L586.4 586.5 L587.2 586.6 L588.0 586.3 L588.7 586.6" fill="none" stroke="#377eb8" stroke-width="1.5" stroke-linejoin="round"/>
<line x1="595.27" y1="588.50" x2="672.30" y2="588.50" stroke="#377eb8" stroke-width="1" opacity="0.5"/>
<path d="M595.3 592.4 L596.1 592.1 L596.8 591.2 L597.6 590.3 L598.4 589.5 L599.2 588.1 L600.0 586.5 L600.8 586.1 L601.6 585.4 L602.3 585.0 L603.1 584.5 L603.9 584.0 L604.7 583.0 L605.5 582.5 L606.3 581.8 L607.1 582.0 L607.8 581.6 L608.6 582.0 L609.4 581.5 L610.2 580.9 L611.0 579.6 L611.8 579.3 L612.6 578.8 L613.4 579.6 L614.1 580.0 L614.9 582.0 L615.7 582.9 L616.5 585.4 L617.3 587.8 L618.1 590.8 L618.9 592.6 L619.6 595.3 L620.4 596.8 L621.2 597.8 L622.0 597.4 L622.8 596.4 L623.6 595.1 L624.4 593.2 L625.1 590.6 L625.9 586.9 L626.7 583.2 L627.5 580.1 L628.3 576.6 L629.1 573.2 L629.9 572.6 L630.6 573.1 L631.4 574.1 L632.2 576.6 L633.0 579.3 L633.8 582.3 L634.6 588.0 L635.4 592.9 L636.1 597.2 L636.9 602.0 L637.7 606.4 L638.5 609.5 L639.3 612.9 L640.1 615.8 L640.9 617.1 L641.6 616.7 L642.4 614.5 L643.2 611.2 L644.0 607.9 L644.8 604.4 L645.6 601.0 L646.4 597.7 L647.1 594.8 L647.9 591.9 L648.7 590.1 L649.5 588.7 L650.3 587.3 L651.1 586.5 L651.9 585.9 L652.6 586.1 L653.4 585.7 L654.2 586.2 L655.0 586.9 L655.8 587.7 L656.6 588.0 L657.4 588.7 L658.2 588.9 L658.9 589.2 L659.7 589.8 L660.5 589.4 L661.3 590.0 L662.1 590.3 L662.9 590.0 L663.7 589.2 L664.4 589.4 L665.2 589.0 L666.0 588.5 L666.8 589.2 L667.6 589.8 L668.4 590.2 L669.2 590.8 L669.9 590.7 L670.7 590.0 L671.5 589.6 L672.3 589.3" fill="none" stroke="#377eb8" stroke-width="1.5" stroke-linejoin="round"/>
<line x1="512.60" y1="523.50" x2="589.14" y2="523.50" stroke="#4daf4a" stroke-width="1" opacity="0.5"/>
<path d="M512.6 523.0 L513.4 522.2 L514.2 521.7 L515.0 521.1 L515.7 520.8 L516.5 520.6 L517.3 521.3 L518.1 520.9 L518.9 521.2 L519.7 521.3 L520.5 521.6 L521.2 521.1 L522.0 521.4 L522.8 521.4 L523.6 521.4 L524.4 521.2 L525.2 521.0 L525.9 520.7 L526.7 520.0 L527.5 519.4 L528.3 519.2 L529.1 519.8 L529.9 519.6 L530.7 519.5 L531.4 520.3 L532.2 520.8 L533.0 521.2 L533.8 521.8 L534.6 523.0 L535.4 522.8 L536.1 523.8 L536.9 523.6 L537.7 524.0 L538.5 524.2 L539.3 525.3 L540.1 524.9 L540.9 525.4 L541.6 526.1 L542.4 526.2 L543.2 526.4 L544.0 526.6 L544.8 525.9 L545.6 525.0 L546.4 523.7 L547.1 522.3 L547.9 520.7 L548.7 519.9 L549.5 517.9 L550.3 517.2 L551.1 516.0 L551.9 515.7 L552.6 514.0 L553.4 513.5 L554.2 512.9 L555.0 513.3 L555.8 513.3 L556.6 514.7 L557.3 515.7 L558.1 516.9 L558.9 518.6 L559.7 520.2 L560.5 520.8 L561.3 522.1 L562.1 522.3 L562.8 522.8 L563.6 523.2 L564.4 524.2 L565.2 523.9 L566.0 523.9 L566.8 522.8 L567.6 522.2 L568.3 520.9 L569.1 520.9 L569.9 520.1 L570.7 520.4 L571.5 520.9 L572.3 522.0 L573.0 522.5 L573.8 523.2 L574.6 522.6 L575.4 522.7 L576.2 522.3 L577.0 521.2 L577.8 521.3 L578.5 521.6 L579.3 521.4 L580.1 521.3 L580.9 521.5 L581.7 521.1 L582.5 521.4 L583.2 521.2 L584.0 521.2 L584.8 521.9 L585.6 522.1 L586.4 522.7 L587.2 522.8 L588.0 523.6 L588.7 523.6" fill="none" stroke="#4daf4a" stroke-width="1.5" stroke-linejoin="round"/>
<line x1="595.27" y1="523.50" x2="672.30" y2="523.50" stroke="#4daf4a" stroke-width="1" opacity="0.5"/>
<path d="M595.3 526.6 L596.1 525.4 L596.8 524.3 L597.6 523.0 L598.4 521.0 L599.2 520.1 L600.0 519.5 L600.8 518.8 L601.6 518.0 L602.3 517.9 L603.1 517.2 L603.9 516.4 L604.7 515.8 L605.5 515.6 L606.3 516.1 L607.1 515.6 L607.8 515.8 L608.6 515.9 L609.4 515.5 L610.2 514.9 L611.0 515.2 L611.8 514.7 L612.6 514.6 L613.4 514.9 L614.1 516.0 L614.9 517.4 L615.7 520.4 L616.5 524.2 L617.3 527.5 L618.1 530.2 L618.9 533.4 L619.6 535.5 L620.4 536.6 L621.2 536.3 L622.0 535.2 L622.8 533.4 L623.6 531.9 L624.4 528.4 L625.1 524.8 L625.9 520.9 L626.7 517.7 L627.5 514.7 L628.3 512.1 L629.1 509.7 L629.9 508.4 L630.6 509.4 L631.4 510.9 L632.2 513.6 L633.0 516.2 L633.8 519.4 L634.6 523.8 L635.4 529.0 L636.1 533.8 L636.9 538.8 L637.7 543.5 L638.5 546.7 L639.3 548.0 L640.1 549.9 L640.9 550.9 L641.6 551.2 L642.4 550.5 L643.2 549.0 L644.0 546.4 L644.8 543.3 L645.6 540.6 L646.4 536.9 L647.1 533.1 L647.9 529.6 L648.7 527.7 L649.5 525.7 L650.3 524.2 L651.1 523.0 L651.9 522.6 L652.6 521.8 L653.4 520.9 L654.2 521.0 L655.0 521.2 L655.8 521.2 L656.6 521.4 L657.4 522.3 L658.2 522.1 L658.9 522.0 L659.7 522.3 L660.5 522.6 L661.3 522.5 L662.1 522.5 L662.9 522.7 L663.7 522.9 L664.4 523.1 L665.2 523.6 L666.0 524.1 L666.8 523.9 L667.6 523.6 L668.4 523.0 L669.2 522.5 L669.9 522.5 L670.7 522.9 L671.5 523.9 L672.3 524.8" fill="none" stroke="#4daf4a" stroke-width="1.5" stroke-linejoin="round"/>
<line x1="512.60" y1="458.50" x2="589.14" y2="458.50" stroke="#984ea3" stroke-width="1" opacity="0.5"/>
<path d="M512.6 458.8 L513.4 458.3 L514.2 458.2 L515.0 457.9 L515.7 457.9 L516.5 457.7 L517.3 457.5 L518.1 457.8 L518.9 457.7 L519.7 457.9 L520.5 458.2 L521.2 458.4 L522.0 458.4 L522.8 458.8 L523.6 458.5 L524.4 458.7 L525.2 458.7 L525.9 458.9 L526.7 459.2 L527.5 459.6 L528.3 459.7 L529.1 459.8 L529.9 459.6 L530.7 458.4 L531.4 458.0 L532.2 457.8 L533.0 457.9 L533.8 457.7 L534.6 458.3 L535.4 458.3 L536.1 458.4 L536.9 458.7 L537.7 459.9 L538.5 460.4 L539.3 460.8 L540.1 461.1 L540.9 460.9 L541.6 460.6 L542.4 460.4 L543.2 461.0 L544.0 460.5 L544.8 459.6 L545.6 459.5 L546.4 458.8 L547.1 457.7 L547.9 457.0 L548.7 456.5 L549.5 456.4 L550.3 456.1 L551.1 456.5 L551.9 456.6 L552.6 457.3 L553.4 456.5 L554.2 457.0 L555.0 456.7 L555.8 457.4 L556.6 457.3 L557.3 457.7 L558.1 458.3 L558.9 459.3 L559.7 459.5 L560.5 460.2 L561.3 460.1 L562.1 459.2 L562.8 458.3 L563.6 458.1 L564.4 458.3 L565.2 458.2 L566.0 458.9 L566.8 459.0 L567.6 458.8 L568.3 457.4 L569.1 457.9 L569.9 457.4 L570.7 456.9 L571.5 457.0 L572.3 458.1 L573.0 457.2 L573.8 458.0 L574.6 459.1 L575.4 459.4 L576.2 459.2 L577.0 459.6 L577.8 459.1 L578.5 458.0 L579.3 457.8 L580.1 457.9 L580.9 458.3 L581.7 457.9 L582.5 458.6 L583.2 458.7 L584.0 458.2 L584.8 457.8 L585.6 457.9 L586.4 458.3 L587.2 458.5 L588.0 459.1 L588.7 459.5" fill="none" stroke="#984ea3" stroke-width="1.5" stroke-linejoin="round"/>
<line x1="595.27" y1="458.50" x2="672.30" y2="458.50" stroke="#984ea3" stroke-width="1" opacity="0.5"/>
<path d="M595.3 460.8 L596.1 460.3 L596.8 459.9 L597.6 459.7 L598.4 458.7 L599.2 458.3 L600.0 458.1 L600.8 457.6 L601.6 457.2 L602.3 457.0 L603.1 456.9 L603.9 456.1 L604.7 455.9 L605.5 456.1 L606.3 456.3 L607.1 456.5 L607.8 456.4 L608.6 456.5 L609.4 456.1 L610.2 455.5 L611.0 454.6 L611.8 454.0 L612.6 453.8 L613.4 453.2 L614.1 453.3 L614.9 453.7 L615.7 455.0 L616.5 455.9 L617.3 457.4 L618.1 458.8 L618.9 461.4 L619.6 462.7 L620.4 463.5 L621.2 464.6 L622.0 466.2 L622.8 466.2 L623.6 465.5 L624.4 463.8 L625.1 462.4 L625.9 460.1 L626.7 457.9 L627.5 455.6 L628.3 454.2 L629.1 452.6 L629.9 451.5 L630.6 450.9 L631.4 451.4 L632.2 452.7 L633.0 454.2 L633.8 456.2 L634.6 458.4 L635.4 461.8 L636.1 464.1 L636.9 466.2 L637.7 468.1 L638.5 469.4 L639.3 469.5 L640.1 470.4 L640.9 471.1 L641.6 471.5 L642.4 472.0 L643.2 471.5 L644.0 470.6 L644.8 468.9 L645.6 467.4 L646.4 465.4 L647.1 463.7 L647.9 461.6 L648.7 461.2 L649.5 460.5 L650.3 460.5 L651.1 460.0 L651.9 459.5 L652.6 459.3 L653.4 459.1 L654.2 458.8 L655.0 458.5 L655.8 458.9 L656.6 458.8 L657.4 458.8 L658.2 458.9 L658.9 459.0 L659.7 459.1 L660.5 459.1 L661.3 458.6 L662.1 458.6 L662.9 458.8 L663.7 458.3 L664.4 458.0 L665.2 458.1 L666.0 457.9 L666.8 457.8 L667.6 458.0 L668.4 458.1 L669.2 458.2 L669.9 458.9 L670.7 458.8 L671.5 458.8 L672.3 458.7" fill="none" stroke="#984ea3" stroke-width="1.5" stroke-linejoin="round"/>
</g>
<path d="M590.6 22.7 H512.6 V299.1 H590.6 M593.8 22.7 H672.3 V299.1 H593.8" fill="none" stroke="#111" stroke-width="1"/>
<line x1="589.25" y1="27.80" x2="591.95" y2="17.60" stroke="#222" stroke-width="0.9" />
<line x1="592.45" y1="27.80" x2="595.15" y2="17.60" stroke="#222" stroke-width="0.9" />
<line x1="589.25" y1="304.20" x2="591.95" y2="294.00" stroke="#222" stroke-width="0.9" />
<line x1="592.45" y1="304.20" x2="595.15" y2="294.00" stroke="#222" stroke-width="0.9" />
<line x1="512.60" y1="282.80" x2="516.60" y2="282.80" stroke="#111" stroke-width="1" />
<text x="506.6" y="286.9" text-anchor="end" font-size="13.6" fill="#1a1a1a" >0</text>
<line x1="512.60" y1="266.55" x2="514.80" y2="266.55" stroke="#111" stroke-width="1" />
<line x1="512.60" y1="250.30" x2="516.60" y2="250.30" stroke="#111" stroke-width="1" />
<text x="506.6" y="254.4" text-anchor="end" font-size="13.6" fill="#1a1a1a" >10</text>
<line x1="512.60" y1="234.05" x2="514.80" y2="234.05" stroke="#111" stroke-width="1" />
<line x1="512.60" y1="217.80" x2="516.60" y2="217.80" stroke="#111" stroke-width="1" />
<text x="506.6" y="221.9" text-anchor="end" font-size="13.6" fill="#1a1a1a" >20</text>
<line x1="512.60" y1="201.55" x2="514.80" y2="201.55" stroke="#111" stroke-width="1" />
<line x1="512.60" y1="185.30" x2="516.60" y2="185.30" stroke="#111" stroke-width="1" />
<text x="506.6" y="189.4" text-anchor="end" font-size="13.6" fill="#1a1a1a" >30</text>
<line x1="512.60" y1="169.05" x2="514.80" y2="169.05" stroke="#111" stroke-width="1" />
<line x1="512.60" y1="152.80" x2="516.60" y2="152.80" stroke="#111" stroke-width="1" />
<text x="506.6" y="156.9" text-anchor="end" font-size="13.6" fill="#1a1a1a" >40</text>
<line x1="512.60" y1="136.55" x2="514.80" y2="136.55" stroke="#111" stroke-width="1" />
<line x1="512.60" y1="120.30" x2="516.60" y2="120.30" stroke="#111" stroke-width="1" />
<text x="506.6" y="124.4" text-anchor="end" font-size="13.6" fill="#1a1a1a" >50</text>
<line x1="512.60" y1="104.05" x2="514.80" y2="104.05" stroke="#111" stroke-width="1" />
<line x1="512.60" y1="87.80" x2="516.60" y2="87.80" stroke="#111" stroke-width="1" />
<text x="506.6" y="91.9" text-anchor="end" font-size="13.6" fill="#1a1a1a" >60</text>
<line x1="512.60" y1="71.55" x2="514.80" y2="71.55" stroke="#111" stroke-width="1" />
<line x1="512.60" y1="55.30" x2="516.60" y2="55.30" stroke="#111" stroke-width="1" />
<text x="506.6" y="59.4" text-anchor="end" font-size="13.6" fill="#1a1a1a" >70</text>
<line x1="512.60" y1="39.05" x2="514.80" y2="39.05" stroke="#111" stroke-width="1" />
<line x1="512.60" y1="22.80" x2="516.60" y2="22.80" stroke="#111" stroke-width="1" />
<text x="506.6" y="26.9" text-anchor="end" font-size="13.6" fill="#1a1a1a" >80</text>
<line x1="512.60" y1="299.10" x2="512.60" y2="295.10" stroke="#111" stroke-width="1" />
<line x1="532.23" y1="299.10" x2="532.23" y2="296.90" stroke="#111" stroke-width="1" />
<line x1="551.85" y1="299.10" x2="551.85" y2="295.10" stroke="#111" stroke-width="1" />
<line x1="571.48" y1="299.10" x2="571.48" y2="296.90" stroke="#111" stroke-width="1" />
<line x1="613.35" y1="299.10" x2="613.35" y2="296.90" stroke="#111" stroke-width="1" />
<line x1="633.00" y1="299.10" x2="633.00" y2="295.10" stroke="#111" stroke-width="1" />
<line x1="652.65" y1="299.10" x2="652.65" y2="296.90" stroke="#111" stroke-width="1" />
<line x1="672.30" y1="299.10" x2="672.30" y2="295.10" stroke="#111" stroke-width="1" />
<text x="511.4" y="316.6" text-anchor="middle" font-size="14" fill="#1a1a1a" >-450</text>
<text x="550.6" y="316.6" text-anchor="middle" font-size="14" fill="#1a1a1a" >-400</text>
<text x="633.0" y="316.6" text-anchor="middle" font-size="14" fill="#1a1a1a" >400</text>
<text x="672.3" y="316.6" text-anchor="middle" font-size="14" fill="#1a1a1a" >450</text>
<text x="592.0" y="343.0" text-anchor="middle" font-size="15.8" fill="#1a1a1a" >Raman shift (cm<tspan dy="-6" font-size="10">-1</tspan><tspan dy="6">)</tspan></text>
<text transform="translate(479.0 160.5) rotate(-90)" text-anchor="middle" font-size="15.8" fill="#1a1a1a">Intensity (counts/s)</text>
<path d="M590.6 393.4 H512.6 V669.8 H590.6 M593.8 393.4 H672.3 V669.8 H593.8" fill="none" stroke="#111" stroke-width="1"/>
<line x1="589.25" y1="398.50" x2="591.95" y2="388.30" stroke="#222" stroke-width="0.9" />
<line x1="592.45" y1="398.50" x2="595.15" y2="388.30" stroke="#222" stroke-width="0.9" />
<line x1="589.25" y1="674.90" x2="591.95" y2="664.70" stroke="#222" stroke-width="0.9" />
<line x1="592.45" y1="674.90" x2="595.15" y2="664.70" stroke="#222" stroke-width="0.9" />
<line x1="512.60" y1="653.50" x2="516.60" y2="653.50" stroke="#111" stroke-width="1" />
<text x="506.6" y="657.6" text-anchor="end" font-size="13.6" fill="#1a1a1a" >0</text>
<line x1="512.60" y1="637.25" x2="514.80" y2="637.25" stroke="#111" stroke-width="1" />
<line x1="512.60" y1="621.00" x2="516.60" y2="621.00" stroke="#111" stroke-width="1" />
<text x="506.6" y="625.1" text-anchor="end" font-size="13.6" fill="#1a1a1a" >10</text>
<line x1="512.60" y1="604.75" x2="514.80" y2="604.75" stroke="#111" stroke-width="1" />
<line x1="512.60" y1="588.50" x2="516.60" y2="588.50" stroke="#111" stroke-width="1" />
<text x="506.6" y="592.6" text-anchor="end" font-size="13.6" fill="#1a1a1a" >20</text>
<line x1="512.60" y1="572.25" x2="514.80" y2="572.25" stroke="#111" stroke-width="1" />
<line x1="512.60" y1="556.00" x2="516.60" y2="556.00" stroke="#111" stroke-width="1" />
<text x="506.6" y="560.1" text-anchor="end" font-size="13.6" fill="#1a1a1a" >30</text>
<line x1="512.60" y1="539.75" x2="514.80" y2="539.75" stroke="#111" stroke-width="1" />
<line x1="512.60" y1="523.50" x2="516.60" y2="523.50" stroke="#111" stroke-width="1" />
<text x="506.6" y="527.6" text-anchor="end" font-size="13.6" fill="#1a1a1a" >40</text>
<line x1="512.60" y1="507.25" x2="514.80" y2="507.25" stroke="#111" stroke-width="1" />
<line x1="512.60" y1="491.00" x2="516.60" y2="491.00" stroke="#111" stroke-width="1" />
<text x="506.6" y="495.1" text-anchor="end" font-size="13.6" fill="#1a1a1a" >50</text>
<line x1="512.60" y1="474.75" x2="514.80" y2="474.75" stroke="#111" stroke-width="1" />
<line x1="512.60" y1="458.50" x2="516.60" y2="458.50" stroke="#111" stroke-width="1" />
<text x="506.6" y="462.6" text-anchor="end" font-size="13.6" fill="#1a1a1a" >60</text>
<line x1="512.60" y1="442.25" x2="514.80" y2="442.25" stroke="#111" stroke-width="1" />
<line x1="512.60" y1="426.00" x2="516.60" y2="426.00" stroke="#111" stroke-width="1" />
<text x="506.6" y="430.1" text-anchor="end" font-size="13.6" fill="#1a1a1a" >70</text>
<line x1="512.60" y1="409.75" x2="514.80" y2="409.75" stroke="#111" stroke-width="1" />
<line x1="512.60" y1="393.50" x2="516.60" y2="393.50" stroke="#111" stroke-width="1" />
<text x="506.6" y="397.6" text-anchor="end" font-size="13.6" fill="#1a1a1a" >80</text>
<line x1="512.60" y1="669.80" x2="512.60" y2="665.80" stroke="#111" stroke-width="1" />
<line x1="532.23" y1="669.80" x2="532.23" y2="667.60" stroke="#111" stroke-width="1" />
<line x1="551.85" y1="669.80" x2="551.85" y2="665.80" stroke="#111" stroke-width="1" />
<line x1="571.48" y1="669.80" x2="571.48" y2="667.60" stroke="#111" stroke-width="1" />
<line x1="613.35" y1="669.80" x2="613.35" y2="667.60" stroke="#111" stroke-width="1" />
<line x1="633.00" y1="669.80" x2="633.00" y2="665.80" stroke="#111" stroke-width="1" />
<line x1="652.65" y1="669.80" x2="652.65" y2="667.60" stroke="#111" stroke-width="1" />
<line x1="672.30" y1="669.80" x2="672.30" y2="665.80" stroke="#111" stroke-width="1" />
<text x="511.4" y="687.3" text-anchor="middle" font-size="14" fill="#1a1a1a" >-450</text>
<text x="550.6" y="687.3" text-anchor="middle" font-size="14" fill="#1a1a1a" >-400</text>
<text x="633.0" y="687.3" text-anchor="middle" font-size="14" fill="#1a1a1a" >400</text>
<text x="672.3" y="687.3" text-anchor="middle" font-size="14" fill="#1a1a1a" >450</text>
<text x="592.0" y="713.7" text-anchor="middle" font-size="15.8" fill="#1a1a1a" >Raman shift (cm<tspan dy="-6" font-size="10">-1</tspan><tspan dy="6">)</tspan></text>
<text transform="translate(479.0 531.2) rotate(-90)" text-anchor="middle" font-size="15.8" fill="#1a1a1a">Intensity (counts/s)</text>
<text x="520.3" y="45.0" text-anchor="start" font-size="14" fill="#984ea3" >+500 ps</text>
<text x="520.3" y="440.5" text-anchor="start" font-size="14" fill="#984ea3" >+500 ps</text>
<text x="520.3" y="111.0" text-anchor="start" font-size="14" fill="#4daf4a" >+1.4 ps</text>
<text x="520.3" y="505.5" text-anchor="start" font-size="14" fill="#4daf4a" >+1.4 ps</text>
<text x="520.3" y="175.0" text-anchor="start" font-size="14" fill="#377eb8" >+0.4 ps</text>
<text x="520.3" y="570.5" text-anchor="start" font-size="14" fill="#377eb8" >+0.4 ps</text>
<text x="520.3" y="239.5" text-anchor="start" font-size="14" fill="#e41a2c" >-2.6 ps</text>
<text x="520.3" y="635.3" text-anchor="start" font-size="14" fill="#e41a2c" >-2.6 ps</text>
</svg>
</body></html>
